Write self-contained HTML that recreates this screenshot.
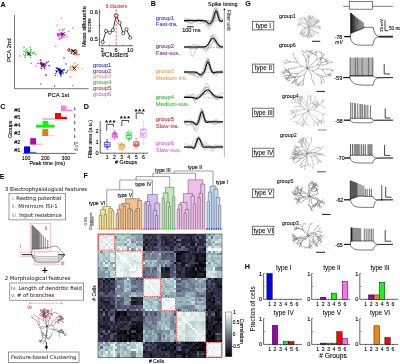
<!DOCTYPE html>
<html><head><meta charset="utf-8"><style>
html,body{margin:0;padding:0;background:#fff;}
svg{display:block;}
</style></head><body>
<svg xmlns="http://www.w3.org/2000/svg" width="400" height="364" viewBox="0 0 400 364">
<defs><filter id="gb" x="0" y="0" width="100%" height="100%" filterUnits="userSpaceOnUse"><feGaussianBlur stdDeviation="0.45"/></filter></defs>
<rect width="400" height="364" fill="#fff"/>
<g filter="url(#gb)">
<rect width="400" height="364" fill="#fff"/>
<text x="0.60" y="6.80" font-size="7.2" fill="#000" text-anchor="start" font-weight="bold" font-family="'Liberation Sans', Arial, sans-serif">A</text>
<line x1="14.50" y1="14.80" x2="14.50" y2="88.70" stroke="#555" stroke-width="0.8"/>
<line x1="14.10" y1="88.70" x2="88.70" y2="88.70" stroke="#555" stroke-width="0.8"/>
<text x="10.60" y="50.20" font-size="6.0" fill="#000" stroke="#000" stroke-width="0.1" text-anchor="middle" font-family="'Liberation Sans', Arial, sans-serif" transform="rotate(-90 10.60 50.20)">PCA 2nd</text>
<text x="58.30" y="97.30" font-size="6.0" fill="#000" stroke="#000" stroke-width="0.1" text-anchor="middle" font-family="'Liberation Sans', Arial, sans-serif">PCA 1st</text>
<circle cx="56.56" cy="71.87" r="0.72" fill="#0000d0"/>
<circle cx="56.71" cy="71.59" r="0.72" fill="#0000d0"/>
<circle cx="60.65" cy="73.53" r="0.72" fill="#0000d0"/>
<circle cx="59.78" cy="70.01" r="0.72" fill="#0000d0"/>
<line x1="58.78" y1="70.01" x2="60.78" y2="70.01" stroke="#0000d0" stroke-width="0.55"/>
<circle cx="63.18" cy="73.26" r="0.72" fill="#0000d0"/>
<circle cx="66.08" cy="72.70" r="0.72" fill="#0000d0"/>
<circle cx="57.62" cy="68.38" r="0.72" fill="#0000d0"/>
<line x1="56.62" y1="68.38" x2="58.62" y2="68.38" stroke="#0000d0" stroke-width="0.55"/>
<circle cx="62.43" cy="71.27" r="0.72" fill="#0000d0"/>
<line x1="61.43" y1="71.27" x2="63.43" y2="71.27" stroke="#0000d0" stroke-width="0.55"/>
<circle cx="60.16" cy="72.59" r="0.72" fill="#0000d0"/>
<line x1="59.16" y1="72.59" x2="61.16" y2="72.59" stroke="#0000d0" stroke-width="0.55"/>
<circle cx="56.98" cy="71.56" r="0.72" fill="#0000d0"/>
<circle cx="56.09" cy="70.61" r="0.72" fill="#0000d0"/>
<circle cx="58.11" cy="68.83" r="0.72" fill="#0000d0"/>
<line x1="57.11" y1="68.83" x2="59.11" y2="68.83" stroke="#0000d0" stroke-width="0.55"/>
<circle cx="67.42" cy="70.89" r="0.72" fill="#0000d0"/>
<circle cx="58.95" cy="69.07" r="0.72" fill="#0000d0"/>
<line x1="57.95" y1="69.07" x2="59.95" y2="69.07" stroke="#0000d0" stroke-width="0.55"/>
<circle cx="59.28" cy="71.85" r="0.72" fill="#0000d0"/>
<circle cx="55.73" cy="73.61" r="0.72" fill="#0000d0"/>
<circle cx="63.99" cy="69.84" r="0.72" fill="#0000d0"/>
<line x1="62.99" y1="69.84" x2="64.99" y2="69.84" stroke="#0000d0" stroke-width="0.55"/>
<circle cx="60.82" cy="75.89" r="0.72" fill="#0000d0"/>
<circle cx="61.90" cy="70.72" r="0.72" fill="#0000d0"/>
<line x1="60.90" y1="70.72" x2="62.90" y2="70.72" stroke="#0000d0" stroke-width="0.55"/>
<circle cx="56.64" cy="68.10" r="0.72" fill="#0000d0"/>
<line x1="55.64" y1="68.10" x2="57.64" y2="68.10" stroke="#0000d0" stroke-width="0.55"/>
<circle cx="61.34" cy="72.08" r="0.72" fill="#0000d0"/>
<circle cx="59.56" cy="69.85" r="0.72" fill="#0000d0"/>
<line x1="58.56" y1="69.85" x2="60.56" y2="69.85" stroke="#0000d0" stroke-width="0.55"/>
<circle cx="60.18" cy="71.48" r="0.72" fill="#0000d0"/>
<circle cx="60.85" cy="73.65" r="0.72" fill="#0000d0"/>
<circle cx="60.92" cy="74.48" r="0.72" fill="#0000d0"/>
<line x1="59.92" y1="74.48" x2="61.92" y2="74.48" stroke="#0000d0" stroke-width="0.55"/>
<circle cx="58.76" cy="70.10" r="0.72" fill="#0000d0"/>
<circle cx="59.94" cy="72.77" r="0.72" fill="#0000d0"/>
<circle cx="60.17" cy="69.15" r="0.72" fill="#0000d0"/>
<circle cx="60.09" cy="73.23" r="0.72" fill="#0000d0"/>
<circle cx="58.81" cy="70.18" r="0.72" fill="#0000d0"/>
<circle cx="43.06" cy="65.95" r="0.72" fill="#9a00b0"/>
<circle cx="41.56" cy="65.93" r="0.72" fill="#9a00b0"/>
<line x1="40.56" y1="65.93" x2="42.56" y2="65.93" stroke="#9a00b0" stroke-width="0.55"/>
<circle cx="45.50" cy="65.88" r="0.72" fill="#9a00b0"/>
<line x1="44.50" y1="65.88" x2="46.50" y2="65.88" stroke="#9a00b0" stroke-width="0.55"/>
<circle cx="40.58" cy="63.57" r="0.72" fill="#9a00b0"/>
<circle cx="45.49" cy="64.07" r="0.72" fill="#9a00b0"/>
<circle cx="43.70" cy="63.75" r="0.72" fill="#9a00b0"/>
<line x1="42.70" y1="63.75" x2="44.70" y2="63.75" stroke="#9a00b0" stroke-width="0.55"/>
<circle cx="46.63" cy="62.79" r="0.72" fill="#9a00b0"/>
<line x1="45.63" y1="62.79" x2="47.63" y2="62.79" stroke="#9a00b0" stroke-width="0.55"/>
<circle cx="44.17" cy="67.34" r="0.72" fill="#9a00b0"/>
<circle cx="44.70" cy="68.76" r="0.72" fill="#9a00b0"/>
<circle cx="40.44" cy="63.46" r="0.72" fill="#9a00b0"/>
<line x1="39.44" y1="63.46" x2="41.44" y2="63.46" stroke="#9a00b0" stroke-width="0.55"/>
<circle cx="49.07" cy="65.71" r="0.72" fill="#9a00b0"/>
<line x1="48.07" y1="65.71" x2="50.07" y2="65.71" stroke="#9a00b0" stroke-width="0.55"/>
<circle cx="42.04" cy="63.27" r="0.72" fill="#9a00b0"/>
<circle cx="40.82" cy="63.75" r="0.72" fill="#9a00b0"/>
<line x1="39.82" y1="63.75" x2="41.82" y2="63.75" stroke="#9a00b0" stroke-width="0.55"/>
<circle cx="42.42" cy="63.93" r="0.72" fill="#9a00b0"/>
<line x1="41.42" y1="63.93" x2="43.42" y2="63.93" stroke="#9a00b0" stroke-width="0.55"/>
<circle cx="37.86" cy="63.32" r="0.72" fill="#9a00b0"/>
<circle cx="41.50" cy="68.55" r="0.72" fill="#9a00b0"/>
<line x1="40.50" y1="68.55" x2="42.50" y2="68.55" stroke="#9a00b0" stroke-width="0.55"/>
<circle cx="44.65" cy="64.75" r="0.72" fill="#9a00b0"/>
<circle cx="44.10" cy="65.02" r="0.72" fill="#9a00b0"/>
<circle cx="41.36" cy="64.18" r="0.72" fill="#9a00b0"/>
<circle cx="48.25" cy="61.40" r="0.72" fill="#9a00b0"/>
<circle cx="41.36" cy="62.38" r="0.72" fill="#9a00b0"/>
<line x1="40.36" y1="62.38" x2="42.36" y2="62.38" stroke="#9a00b0" stroke-width="0.55"/>
<circle cx="43.08" cy="64.67" r="0.72" fill="#9a00b0"/>
<circle cx="40.58" cy="60.20" r="0.72" fill="#9a00b0"/>
<line x1="39.58" y1="60.20" x2="41.58" y2="60.20" stroke="#9a00b0" stroke-width="0.55"/>
<circle cx="40.64" cy="63.04" r="0.72" fill="#9a00b0"/>
<circle cx="70.46" cy="76.85" r="0.72" fill="#f0a040"/>
<line x1="69.46" y1="76.85" x2="71.46" y2="76.85" stroke="#f0a040" stroke-width="0.55"/>
<circle cx="70.55" cy="66.59" r="0.72" fill="#f0a040"/>
<circle cx="73.72" cy="63.76" r="0.72" fill="#f0a040"/>
<circle cx="75.76" cy="66.57" r="0.72" fill="#f0a040"/>
<circle cx="77.62" cy="64.73" r="0.72" fill="#f0a040"/>
<circle cx="75.11" cy="62.78" r="0.72" fill="#f0a040"/>
<circle cx="72.47" cy="66.00" r="0.72" fill="#f0a040"/>
<circle cx="73.30" cy="67.13" r="0.72" fill="#f0a040"/>
<circle cx="78.52" cy="67.58" r="0.72" fill="#f0a040"/>
<circle cx="71.26" cy="70.53" r="0.72" fill="#f0a040"/>
<circle cx="70.09" cy="69.61" r="0.72" fill="#f0a040"/>
<line x1="69.09" y1="69.61" x2="71.09" y2="69.61" stroke="#f0a040" stroke-width="0.55"/>
<circle cx="74.00" cy="67.16" r="0.72" fill="#f0a040"/>
<circle cx="72.42" cy="68.02" r="0.72" fill="#f0a040"/>
<circle cx="70.96" cy="67.86" r="0.72" fill="#f0a040"/>
<circle cx="73.99" cy="68.19" r="0.72" fill="#f0a040"/>
<line x1="72.99" y1="68.19" x2="74.99" y2="68.19" stroke="#f0a040" stroke-width="0.55"/>
<circle cx="73.35" cy="66.23" r="0.72" fill="#f0a040"/>
<line x1="72.35" y1="66.23" x2="74.35" y2="66.23" stroke="#f0a040" stroke-width="0.55"/>
<circle cx="76.68" cy="65.67" r="0.72" fill="#f0a040"/>
<circle cx="75.52" cy="66.34" r="0.72" fill="#f0a040"/>
<circle cx="74.74" cy="70.42" r="0.72" fill="#f0a040"/>
<circle cx="77.89" cy="65.05" r="0.72" fill="#f0a040"/>
<circle cx="72.34" cy="66.67" r="0.72" fill="#f0a040"/>
<line x1="71.34" y1="66.67" x2="73.34" y2="66.67" stroke="#f0a040" stroke-width="0.55"/>
<circle cx="69.81" cy="67.91" r="0.72" fill="#f0a040"/>
<circle cx="26.37" cy="49.32" r="0.72" fill="#10dd10"/>
<line x1="25.37" y1="49.32" x2="27.37" y2="49.32" stroke="#10dd10" stroke-width="0.55"/>
<circle cx="30.42" cy="55.32" r="0.72" fill="#10dd10"/>
<line x1="29.42" y1="55.32" x2="31.42" y2="55.32" stroke="#10dd10" stroke-width="0.55"/>
<circle cx="29.33" cy="55.41" r="0.72" fill="#10dd10"/>
<circle cx="25.37" cy="53.66" r="0.72" fill="#10dd10"/>
<circle cx="32.43" cy="53.38" r="0.72" fill="#10dd10"/>
<line x1="31.43" y1="53.38" x2="33.43" y2="53.38" stroke="#10dd10" stroke-width="0.55"/>
<circle cx="35.67" cy="54.32" r="0.72" fill="#10dd10"/>
<line x1="34.67" y1="54.32" x2="36.67" y2="54.32" stroke="#10dd10" stroke-width="0.55"/>
<circle cx="27.30" cy="51.34" r="0.72" fill="#10dd10"/>
<line x1="26.30" y1="51.34" x2="28.30" y2="51.34" stroke="#10dd10" stroke-width="0.55"/>
<circle cx="28.68" cy="53.26" r="0.72" fill="#10dd10"/>
<line x1="27.68" y1="53.26" x2="29.68" y2="53.26" stroke="#10dd10" stroke-width="0.55"/>
<circle cx="27.73" cy="53.71" r="0.72" fill="#10dd10"/>
<circle cx="28.66" cy="54.59" r="0.72" fill="#10dd10"/>
<line x1="27.66" y1="54.59" x2="29.66" y2="54.59" stroke="#10dd10" stroke-width="0.55"/>
<circle cx="25.81" cy="52.18" r="0.72" fill="#10dd10"/>
<circle cx="24.83" cy="50.90" r="0.72" fill="#10dd10"/>
<circle cx="27.54" cy="52.50" r="0.72" fill="#10dd10"/>
<circle cx="28.73" cy="53.84" r="0.72" fill="#10dd10"/>
<circle cx="28.00" cy="52.50" r="0.72" fill="#10dd10"/>
<line x1="27.00" y1="52.50" x2="29.00" y2="52.50" stroke="#10dd10" stroke-width="0.55"/>
<circle cx="25.35" cy="55.89" r="0.72" fill="#10dd10"/>
<circle cx="23.95" cy="51.61" r="0.72" fill="#10dd10"/>
<circle cx="30.54" cy="49.82" r="0.72" fill="#10dd10"/>
<line x1="29.54" y1="49.82" x2="31.54" y2="49.82" stroke="#10dd10" stroke-width="0.55"/>
<circle cx="33.75" cy="52.42" r="0.72" fill="#10dd10"/>
<line x1="32.75" y1="52.42" x2="34.75" y2="52.42" stroke="#10dd10" stroke-width="0.55"/>
<circle cx="23.67" cy="54.33" r="0.72" fill="#10dd10"/>
<circle cx="25.16" cy="55.23" r="0.72" fill="#10dd10"/>
<circle cx="31.01" cy="49.46" r="0.72" fill="#10dd10"/>
<circle cx="27.08" cy="52.61" r="0.72" fill="#10dd10"/>
<circle cx="30.65" cy="51.26" r="0.72" fill="#10dd10"/>
<circle cx="30.27" cy="57.36" r="0.72" fill="#10dd10"/>
<circle cx="32.92" cy="53.28" r="0.72" fill="#10dd10"/>
<circle cx="25.12" cy="57.17" r="0.72" fill="#10dd10"/>
<circle cx="27.63" cy="54.21" r="0.72" fill="#10dd10"/>
<circle cx="67.78" cy="50.04" r="0.72" fill="#c00000"/>
<circle cx="74.41" cy="53.94" r="0.72" fill="#c00000"/>
<line x1="73.41" y1="53.94" x2="75.41" y2="53.94" stroke="#c00000" stroke-width="0.55"/>
<circle cx="71.17" cy="53.38" r="0.72" fill="#c00000"/>
<circle cx="69.02" cy="48.46" r="0.72" fill="#c00000"/>
<circle cx="76.46" cy="50.95" r="0.72" fill="#c00000"/>
<line x1="75.46" y1="50.95" x2="77.46" y2="50.95" stroke="#c00000" stroke-width="0.55"/>
<circle cx="71.91" cy="49.78" r="0.72" fill="#c00000"/>
<circle cx="72.34" cy="50.59" r="0.72" fill="#c00000"/>
<line x1="71.34" y1="50.59" x2="73.34" y2="50.59" stroke="#c00000" stroke-width="0.55"/>
<circle cx="73.11" cy="50.63" r="0.72" fill="#c00000"/>
<circle cx="76.90" cy="54.79" r="0.72" fill="#c00000"/>
<circle cx="74.93" cy="52.82" r="0.72" fill="#c00000"/>
<circle cx="75.07" cy="52.14" r="0.72" fill="#c00000"/>
<circle cx="68.95" cy="50.15" r="0.72" fill="#c00000"/>
<circle cx="69.74" cy="49.42" r="0.72" fill="#c00000"/>
<circle cx="71.04" cy="51.50" r="0.72" fill="#c00000"/>
<circle cx="76.69" cy="52.96" r="0.72" fill="#c00000"/>
<circle cx="68.97" cy="51.32" r="0.72" fill="#c00000"/>
<circle cx="73.92" cy="50.73" r="0.72" fill="#c00000"/>
<line x1="72.92" y1="50.73" x2="74.92" y2="50.73" stroke="#c00000" stroke-width="0.55"/>
<circle cx="75.82" cy="52.98" r="0.72" fill="#c00000"/>
<line x1="74.82" y1="52.98" x2="76.82" y2="52.98" stroke="#c00000" stroke-width="0.55"/>
<circle cx="73.58" cy="53.87" r="0.72" fill="#c00000"/>
<line x1="72.58" y1="53.87" x2="74.58" y2="53.87" stroke="#c00000" stroke-width="0.55"/>
<circle cx="75.05" cy="49.96" r="0.72" fill="#c00000"/>
<line x1="74.05" y1="49.96" x2="76.05" y2="49.96" stroke="#c00000" stroke-width="0.55"/>
<circle cx="59.00" cy="34.05" r="0.72" fill="#ee10ee"/>
<circle cx="59.00" cy="35.90" r="0.72" fill="#ee10ee"/>
<line x1="58.00" y1="35.90" x2="60.00" y2="35.90" stroke="#ee10ee" stroke-width="0.55"/>
<circle cx="61.76" cy="37.48" r="0.72" fill="#ee10ee"/>
<circle cx="57.35" cy="33.71" r="0.72" fill="#ee10ee"/>
<circle cx="61.86" cy="33.25" r="0.72" fill="#ee10ee"/>
<circle cx="62.52" cy="30.09" r="0.72" fill="#ee10ee"/>
<line x1="61.52" y1="30.09" x2="63.52" y2="30.09" stroke="#ee10ee" stroke-width="0.55"/>
<circle cx="59.29" cy="39.07" r="0.72" fill="#ee10ee"/>
<line x1="58.29" y1="39.07" x2="60.29" y2="39.07" stroke="#ee10ee" stroke-width="0.55"/>
<circle cx="64.97" cy="34.45" r="0.72" fill="#ee10ee"/>
<line x1="63.97" y1="34.45" x2="65.97" y2="34.45" stroke="#ee10ee" stroke-width="0.55"/>
<circle cx="61.20" cy="38.04" r="0.72" fill="#ee10ee"/>
<line x1="60.20" y1="38.04" x2="62.20" y2="38.04" stroke="#ee10ee" stroke-width="0.55"/>
<circle cx="63.94" cy="36.88" r="0.72" fill="#ee10ee"/>
<circle cx="61.24" cy="33.39" r="0.72" fill="#ee10ee"/>
<circle cx="60.86" cy="34.12" r="0.72" fill="#ee10ee"/>
<line x1="59.86" y1="34.12" x2="61.86" y2="34.12" stroke="#ee10ee" stroke-width="0.55"/>
<circle cx="59.28" cy="30.09" r="0.72" fill="#ee10ee"/>
<circle cx="62.69" cy="36.23" r="0.72" fill="#ee10ee"/>
<circle cx="58.11" cy="34.44" r="0.72" fill="#ee10ee"/>
<line x1="57.11" y1="34.44" x2="59.11" y2="34.44" stroke="#ee10ee" stroke-width="0.55"/>
<circle cx="61.81" cy="34.95" r="0.72" fill="#ee10ee"/>
<line x1="60.81" y1="34.95" x2="62.81" y2="34.95" stroke="#ee10ee" stroke-width="0.55"/>
<circle cx="58.83" cy="33.66" r="0.72" fill="#ee10ee"/>
<circle cx="61.73" cy="35.62" r="0.72" fill="#ee10ee"/>
<line x1="60.73" y1="35.62" x2="62.73" y2="35.62" stroke="#ee10ee" stroke-width="0.55"/>
<circle cx="64.11" cy="28.85" r="0.72" fill="#ee10ee"/>
<circle cx="61.56" cy="34.94" r="0.72" fill="#ee10ee"/>
<circle cx="57.86" cy="35.38" r="0.72" fill="#ee10ee"/>
<line x1="56.86" y1="35.38" x2="58.86" y2="35.38" stroke="#ee10ee" stroke-width="0.55"/>
<circle cx="58.76" cy="35.05" r="0.72" fill="#ee10ee"/>
<circle cx="60.75" cy="34.29" r="0.72" fill="#ee10ee"/>
<circle cx="61.67" cy="33.35" r="0.72" fill="#ee10ee"/>
<circle cx="61.30" cy="18.20" r="0.65" fill="#ee10ee"/>
<circle cx="57.20" cy="25.10" r="0.65" fill="#b040b0"/>
<circle cx="73.00" cy="27.90" r="0.65" fill="#ee10ee"/>
<circle cx="68.80" cy="31.30" r="0.65" fill="#b040b0"/>
<circle cx="55.80" cy="46.40" r="0.65" fill="#cc44cc"/>
<circle cx="66.80" cy="36.80" r="0.65" fill="#b040b0"/>
<circle cx="31.20" cy="63.40" r="0.65" fill="#30b030"/>
<circle cx="45.60" cy="75.00" r="0.65" fill="#803080"/>
<circle cx="40.80" cy="84.00" r="0.65" fill="#803080"/>
<circle cx="55.20" cy="75.70" r="0.65" fill="#2020c0"/>
<circle cx="54.60" cy="86.00" r="0.65" fill="#303080"/>
<circle cx="46.40" cy="75.20" r="0.65" fill="#404080"/>
<circle cx="72.50" cy="85.50" r="0.65" fill="#a08060"/>
<circle cx="79.10" cy="54.60" r="0.65" fill="#c00000"/>
<circle cx="82.00" cy="68.50" r="0.65" fill="#f0a040"/>
<circle cx="24.00" cy="47.50" r="0.65" fill="#10bb10"/>
<circle cx="30.00" cy="47.00" r="0.65" fill="#10bb10"/>
<circle cx="20.00" cy="56.00" r="0.65" fill="#10bb10"/>
<circle cx="36.00" cy="66.00" r="0.65" fill="#aa30aa"/>
<circle cx="66.00" cy="64.00" r="0.65" fill="#2020c0"/>
<circle cx="64.00" cy="58.00" r="0.65" fill="#0000c0"/>
<line x1="59.00" y1="69.30" x2="62.60" y2="72.90" stroke="#000" stroke-width="0.9"/>
<line x1="59.00" y1="72.90" x2="62.60" y2="69.30" stroke="#000" stroke-width="0.9"/>
<line x1="41.00" y1="63.70" x2="44.60" y2="67.30" stroke="#000" stroke-width="0.9"/>
<line x1="41.00" y1="67.30" x2="44.60" y2="63.70" stroke="#000" stroke-width="0.9"/>
<line x1="72.70" y1="66.60" x2="76.30" y2="70.20" stroke="#000" stroke-width="0.9"/>
<line x1="72.70" y1="70.20" x2="76.30" y2="66.60" stroke="#000" stroke-width="0.9"/>
<line x1="27.30" y1="51.90" x2="30.90" y2="55.50" stroke="#000" stroke-width="0.9"/>
<line x1="27.30" y1="55.50" x2="30.90" y2="51.90" stroke="#000" stroke-width="0.9"/>
<line x1="71.40" y1="49.40" x2="75.00" y2="53.00" stroke="#000" stroke-width="0.9"/>
<line x1="71.40" y1="53.00" x2="75.00" y2="49.40" stroke="#000" stroke-width="0.9"/>
<line x1="60.90" y1="32.20" x2="64.50" y2="35.80" stroke="#000" stroke-width="0.9"/>
<line x1="60.90" y1="35.80" x2="64.50" y2="32.20" stroke="#000" stroke-width="0.9"/>
<text x="93.00" y="66.90" font-size="5.9" fill="#4040c4" stroke="#4040c4" stroke-width="0.1" text-anchor="start" font-family="'Liberation Sans', Arial, sans-serif">group1</text>
<text x="93.00" y="72.65" font-size="5.9" fill="#7e3a8e" stroke="#7e3a8e" stroke-width="0.1" text-anchor="start" font-family="'Liberation Sans', Arial, sans-serif">group2</text>
<text x="93.00" y="78.40" font-size="5.9" fill="#eea060" stroke="#eea060" stroke-width="0.1" text-anchor="start" font-family="'Liberation Sans', Arial, sans-serif">group3</text>
<text x="93.00" y="84.15" font-size="5.9" fill="#3cbc3c" stroke="#3cbc3c" stroke-width="0.1" text-anchor="start" font-family="'Liberation Sans', Arial, sans-serif">group4</text>
<text x="93.00" y="89.90" font-size="5.9" fill="#cc3838" stroke="#cc3838" stroke-width="0.1" text-anchor="start" font-family="'Liberation Sans', Arial, sans-serif">group5</text>
<text x="93.00" y="95.65" font-size="5.9" fill="#dc68dc" stroke="#dc68dc" stroke-width="0.1" text-anchor="start" font-family="'Liberation Sans', Arial, sans-serif">group6</text>
<line x1="99.40" y1="9.50" x2="99.40" y2="45.80" stroke="#000" stroke-width="0.6"/>
<line x1="99.40" y1="45.80" x2="133.00" y2="45.80" stroke="#000" stroke-width="0.6"/>
<line x1="99.40" y1="11.90" x2="100.60" y2="11.90" stroke="#000" stroke-width="0.5"/>
<line x1="99.40" y1="25.50" x2="100.60" y2="25.50" stroke="#000" stroke-width="0.5"/>
<line x1="99.40" y1="39.20" x2="100.60" y2="39.20" stroke="#000" stroke-width="0.5"/>
<line x1="102.50" y1="45.80" x2="102.50" y2="44.60" stroke="#000" stroke-width="0.5"/>
<line x1="109.40" y1="45.80" x2="109.40" y2="44.60" stroke="#000" stroke-width="0.5"/>
<line x1="116.20" y1="45.80" x2="116.20" y2="44.60" stroke="#000" stroke-width="0.5"/>
<line x1="123.20" y1="45.80" x2="123.20" y2="44.60" stroke="#000" stroke-width="0.5"/>
<line x1="130.20" y1="45.80" x2="130.20" y2="44.60" stroke="#000" stroke-width="0.5"/>
<text x="97.90" y="13.90" font-size="5.6" fill="#000" stroke="#000" stroke-width="0.1" text-anchor="end" font-family="'Liberation Sans', Arial, sans-serif">0.6</text>
<text x="97.90" y="41.20" font-size="5.6" fill="#000" stroke="#000" stroke-width="0.1" text-anchor="end" font-family="'Liberation Sans', Arial, sans-serif">0.5</text>
<text x="102.30" y="51.60" font-size="5.6" fill="#000" stroke="#000" stroke-width="0.1" text-anchor="middle" font-family="'Liberation Sans', Arial, sans-serif">2</text>
<text x="116.00" y="51.60" font-size="5.6" fill="#000" stroke="#000" stroke-width="0.1" text-anchor="middle" font-family="'Liberation Sans', Arial, sans-serif">6</text>
<text x="130.20" y="51.60" font-size="5.6" fill="#000" stroke="#000" stroke-width="0.1" text-anchor="middle" font-family="'Liberation Sans', Arial, sans-serif">10</text>
<text x="115.00" y="57.20" font-size="6.4" fill="#000" stroke="#000" stroke-width="0.1" text-anchor="middle" font-family="'Liberation Sans', Arial, sans-serif">#Clusters</text>
<text x="86.10" y="26.50" font-size="5.8" fill="#000" stroke="#000" stroke-width="0.1" text-anchor="middle" font-family="'Liberation Sans', Arial, sans-serif" transform="rotate(-90 86.10 26.50)">Mean silhouette</text>
<text x="91.00" y="25.30" font-size="5.8" fill="#000" stroke="#000" stroke-width="0.1" text-anchor="middle" font-family="'Liberation Sans', Arial, sans-serif" transform="rotate(-90 91.00 25.30)">score</text>
<text x="116.50" y="8.10" font-size="5.0" fill="#e03030" stroke="#e03030" stroke-width="0.1" text-anchor="middle" font-family="'Liberation Sans', Arial, sans-serif">6 clusters</text>
<line x1="116.20" y1="9.50" x2="116.20" y2="45.50" stroke="#e03030" stroke-width="0.75" stroke-dasharray="2.2 1.4"/>
<path d="M102.70,42.00 L106.00,31.00 L109.70,32.60 L113.00,30.00 L116.20,15.60 L119.50,22.70 L123.20,33.30 L126.50,29.30 L130.20,37.60" stroke="#000" stroke-width="0.75" fill="none"/>
<circle cx="102.7" cy="42" r="1.6" fill="#fff" stroke="#000" stroke-width="0.6"/>
<circle cx="106" cy="31" r="1.6" fill="#fff" stroke="#000" stroke-width="0.6"/>
<circle cx="109.7" cy="32.6" r="1.6" fill="#fff" stroke="#000" stroke-width="0.6"/>
<circle cx="113" cy="30" r="1.6" fill="#fff" stroke="#000" stroke-width="0.6"/>
<circle cx="116.2" cy="15.6" r="1.6" fill="#fff" stroke="#c00000" stroke-width="0.6"/>
<circle cx="119.5" cy="22.7" r="1.6" fill="#fff" stroke="#000" stroke-width="0.6"/>
<circle cx="123.2" cy="33.3" r="1.6" fill="#fff" stroke="#000" stroke-width="0.6"/>
<circle cx="126.5" cy="29.3" r="1.6" fill="#fff" stroke="#000" stroke-width="0.6"/>
<circle cx="130.2" cy="37.6" r="1.6" fill="#fff" stroke="#000" stroke-width="0.6"/>
<circle cx="116.2" cy="15.6" r="2.1" fill="none" stroke="#c00000" stroke-width="0.6"/>
<text x="150.80" y="6.00" font-size="7.2" fill="#000" text-anchor="start" font-weight="bold" font-family="'Liberation Sans', Arial, sans-serif">B</text>
<text x="222.80" y="6.00" font-size="5.4" fill="#000" stroke="#000" stroke-width="0.1" text-anchor="middle" font-family="'Liberation Sans', Arial, sans-serif">Spike timing</text>
<text x="155.80" y="19.60" font-size="5.9" fill="#4040c4" stroke="#4040c4" stroke-width="0.1" text-anchor="start" font-family="'Liberation Sans', Arial, sans-serif">group1</text>
<text x="155.80" y="26.40" font-size="5.9" fill="#4040c4" stroke="#4040c4" stroke-width="0.1" text-anchor="start" font-family="'Liberation Sans', Arial, sans-serif">Fast-tra.</text>
<text x="155.80" y="48.00" font-size="5.9" fill="#7e3a8e" stroke="#7e3a8e" stroke-width="0.1" text-anchor="start" font-family="'Liberation Sans', Arial, sans-serif">group2</text>
<text x="155.80" y="54.80" font-size="5.9" fill="#7e3a8e" stroke="#7e3a8e" stroke-width="0.1" text-anchor="start" font-family="'Liberation Sans', Arial, sans-serif">Fast-sus.</text>
<text x="155.80" y="73.00" font-size="5.9" fill="#eea060" stroke="#eea060" stroke-width="0.1" text-anchor="start" font-family="'Liberation Sans', Arial, sans-serif">group3</text>
<text x="155.80" y="79.80" font-size="5.9" fill="#eea060" stroke="#eea060" stroke-width="0.1" text-anchor="start" font-family="'Liberation Sans', Arial, sans-serif">Medium-tra.</text>
<text x="155.80" y="98.90" font-size="5.9" fill="#3cbc3c" stroke="#3cbc3c" stroke-width="0.1" text-anchor="start" font-family="'Liberation Sans', Arial, sans-serif">group4</text>
<text x="155.80" y="105.70" font-size="5.9" fill="#3cbc3c" stroke="#3cbc3c" stroke-width="0.1" text-anchor="start" font-family="'Liberation Sans', Arial, sans-serif">Medium-sus.</text>
<text x="155.80" y="121.00" font-size="5.9" fill="#cc3838" stroke="#cc3838" stroke-width="0.1" text-anchor="start" font-family="'Liberation Sans', Arial, sans-serif">group5</text>
<text x="155.80" y="127.80" font-size="5.9" fill="#cc3838" stroke="#cc3838" stroke-width="0.1" text-anchor="start" font-family="'Liberation Sans', Arial, sans-serif">Slow-tra.</text>
<text x="155.80" y="145.40" font-size="5.9" fill="#dc68dc" stroke="#dc68dc" stroke-width="0.1" text-anchor="start" font-family="'Liberation Sans', Arial, sans-serif">group6</text>
<text x="155.80" y="152.20" font-size="5.9" fill="#dc68dc" stroke="#dc68dc" stroke-width="0.1" text-anchor="start" font-family="'Liberation Sans', Arial, sans-serif">Slow-sus.</text>
<path d="M184.00,20.08 L184.50,20.21 L185.00,19.82 L185.50,19.95 L186.00,20.16 L186.50,20.51 L187.00,20.23 L187.50,20.17 L188.00,19.55 L188.50,19.58 L189.00,19.02 L189.50,18.84 L190.00,19.57 L190.50,19.01 L191.00,19.61 L191.50,19.92 L192.00,19.95 L192.50,20.24 L193.00,20.50 L193.50,20.88 L194.00,20.75 L194.50,20.51 L195.00,20.32 L195.50,20.03 L196.00,20.13 L196.50,19.95 L197.00,20.45 L197.50,19.83 L198.00,19.60 L198.50,19.47 L199.00,18.96 L199.50,19.95 L200.00,19.24 L200.50,19.42 L201.00,19.47 L201.50,20.28 L202.00,19.66 L202.50,20.23 L203.00,20.05 L203.50,20.12 L204.00,20.01 L204.50,20.43 L205.00,20.24 L205.50,20.59 L206.00,21.16 L206.50,22.29 L207.00,21.84 L207.50,22.99 L208.00,23.79 L208.50,23.95 L209.00,24.31 L209.50,24.21 L210.00,24.71 L210.50,24.40 L211.00,23.81 L211.50,23.17 L212.00,22.53 L212.50,21.92 L213.00,21.04 L213.50,21.13 L214.00,19.39 L214.50,16.74 L215.00,15.00 L215.50,12.74 L216.00,10.53 L216.50,8.52 L217.00,7.54 L217.50,8.08 L218.00,10.08 L218.50,12.32 L219.00,14.80 L219.50,17.79 L220.00,19.54 L220.50,20.17 L221.00,21.64 L221.50,22.16 L222.00,22.03 L222.50,21.60 L223.00,21.63" stroke="#8e8e8e" stroke-width="0.42" fill="none"/>
<path d="M184.00,20.85 L184.50,20.70 L185.00,20.42 L185.50,20.34 L186.00,19.88 L186.50,20.18 L187.00,20.31 L187.50,19.99 L188.00,19.32 L188.50,19.58 L189.00,20.17 L189.50,20.00 L190.00,19.95 L190.50,19.87 L191.00,20.24 L191.50,19.99 L192.00,20.45 L192.50,20.37 L193.00,20.74 L193.50,20.72 L194.00,20.62 L194.50,20.10 L195.00,19.96 L195.50,19.99 L196.00,20.35 L196.50,20.48 L197.00,20.26 L197.50,20.47 L198.00,20.85 L198.50,20.75 L199.00,20.58 L199.50,20.46 L200.00,20.81 L200.50,21.02 L201.00,20.71 L201.50,20.98 L202.00,20.98 L202.50,20.99 L203.00,21.82 L203.50,22.50 L204.00,22.67 L204.50,23.29 L205.00,24.15 L205.50,24.66 L206.00,25.47 L206.50,26.57 L207.00,26.70 L207.50,27.55 L208.00,28.24 L208.50,28.44 L209.00,27.58 L209.50,27.02 L210.00,25.69 L210.50,24.62 L211.00,23.27 L211.50,21.47 L212.00,19.02 L212.50,16.41 L213.00,14.16 L213.50,11.29 L214.00,9.40 L214.50,8.28 L215.00,7.92 L215.50,9.62 L216.00,11.23 L216.50,14.11 L217.00,15.52 L217.50,16.84 L218.00,19.08 L218.50,20.64 L219.00,21.35 L219.50,21.79 L220.00,21.31 L220.50,21.28 L221.00,21.05 L221.50,21.11 L222.00,21.48 L222.50,21.42 L223.00,21.42" stroke="#8e8e8e" stroke-width="0.42" fill="none"/>
<path d="M184.00,19.63 L184.50,18.74 L185.00,18.70 L185.50,18.44 L186.00,18.58 L186.50,17.92 L187.00,17.95 L187.50,18.47 L188.00,19.20 L188.50,19.84 L189.00,19.52 L189.50,19.59 L190.00,19.58 L190.50,19.11 L191.00,18.71 L191.50,19.16 L192.00,19.36 L192.50,19.44 L193.00,20.03 L193.50,19.79 L194.00,20.20 L194.50,20.41 L195.00,20.61 L195.50,21.03 L196.00,21.32 L196.50,21.64 L197.00,21.97 L197.50,22.89 L198.00,22.90 L198.50,23.43 L199.00,23.75 L199.50,23.68 L200.00,24.02 L200.50,23.67 L201.00,24.02 L201.50,23.54 L202.00,23.15 L202.50,23.03 L203.00,23.00 L203.50,22.92 L204.00,22.79 L204.50,22.30 L205.00,21.70 L205.50,21.91 L206.00,22.25 L206.50,22.40 L207.00,23.52 L207.50,24.38 L208.00,24.72 L208.50,25.32 L209.00,24.81 L209.50,24.09 L210.00,23.51 L210.50,21.96 L211.00,20.97 L211.50,19.41 L212.00,18.53 L212.50,16.86 L213.00,15.27 L213.50,12.82 L214.00,10.80 L214.50,9.45 L215.00,8.38 L215.50,7.27 L216.00,8.17 L216.50,9.79 L217.00,11.47 L217.50,14.04 L218.00,15.56 L218.50,17.22 L219.00,18.91 L219.50,20.23 L220.00,21.18 L220.50,21.10 L221.00,20.85 L221.50,21.47 L222.00,21.34 L222.50,21.57 L223.00,21.14" stroke="#8e8e8e" stroke-width="0.42" fill="none"/>
<path d="M184.00,21.12 L184.50,21.16 L185.00,21.11 L185.50,21.27 L186.00,20.62 L186.50,21.26 L187.00,21.63 L187.50,21.24 L188.00,21.30 L188.50,21.62 L189.00,22.09 L189.50,22.22 L190.00,22.77 L190.50,22.68 L191.00,22.20 L191.50,21.86 L192.00,22.02 L192.50,21.62 L193.00,21.76 L193.50,21.90 L194.00,21.83 L194.50,21.91 L195.00,21.55 L195.50,21.33 L196.00,20.94 L196.50,20.64 L197.00,20.06 L197.50,19.96 L198.00,19.70 L198.50,19.38 L199.00,19.67 L199.50,20.01 L200.00,20.01 L200.50,20.60 L201.00,20.93 L201.50,21.23 L202.00,20.89 L202.50,20.31 L203.00,20.57 L203.50,20.68 L204.00,20.92 L204.50,21.00 L205.00,21.37 L205.50,21.12 L206.00,21.27 L206.50,20.87 L207.00,20.09 L207.50,20.17 L208.00,20.99 L208.50,20.62 L209.00,21.35 L209.50,21.41 L210.00,21.61 L210.50,21.95 L211.00,22.30 L211.50,22.18 L212.00,22.51 L212.50,22.92 L213.00,23.36 L213.50,22.95 L214.00,22.97 L214.50,22.29 L215.00,20.84 L215.50,17.27 L216.00,14.23 L216.50,11.07 L217.00,10.07 L217.50,10.53 L218.00,11.48 L218.50,12.89 L219.00,14.99 L219.50,16.89 L220.00,17.87 L220.50,18.70 L221.00,18.35 L221.50,18.46 L222.00,18.70 L222.50,18.90 L223.00,19.67" stroke="#8e8e8e" stroke-width="0.42" fill="none"/>
<path d="M184.00,21.16 L184.50,21.50 L185.00,21.50 L185.50,21.16 L186.00,21.47 L186.50,21.73 L187.00,22.31 L187.50,22.70 L188.00,22.60 L188.50,22.47 L189.00,22.49 L189.50,22.48 L190.00,23.06 L190.50,23.58 L191.00,23.91 L191.50,23.83 L192.00,23.55 L192.50,23.73 L193.00,23.41 L193.50,23.31 L194.00,22.48 L194.50,22.10 L195.00,22.20 L195.50,21.08 L196.00,19.65 L196.50,18.74 L197.00,18.71 L197.50,18.94 L198.00,18.97 L198.50,19.31 L199.00,19.85 L199.50,19.95 L200.00,20.27 L200.50,20.31 L201.00,19.89 L201.50,19.84 L202.00,19.91 L202.50,19.77 L203.00,19.60 L203.50,20.22 L204.00,21.17 L204.50,21.32 L205.00,21.61 L205.50,22.46 L206.00,23.19 L206.50,23.85 L207.00,25.31 L207.50,25.63 L208.00,25.81 L208.50,25.63 L209.00,24.94 L209.50,24.10 L210.00,23.21 L210.50,22.29 L211.00,20.77 L211.50,18.81 L212.00,16.38 L212.50,14.64 L213.00,13.08 L213.50,12.61 L214.00,13.35 L214.50,14.44 L215.00,15.78 L215.50,16.99 L216.00,18.30 L216.50,19.30 L217.00,19.59 L217.50,19.85 L218.00,20.49 L218.50,20.12 L219.00,20.32 L219.50,20.33 L220.00,21.37 L220.50,21.90 L221.00,22.21 L221.50,22.28 L222.00,22.12 L222.50,21.87 L223.00,20.94" stroke="#8e8e8e" stroke-width="0.42" fill="none"/>
<path d="M184.00,20.90 L184.50,20.20 L185.00,19.56 L185.50,19.65 L186.00,19.57 L186.50,20.03 L187.00,19.84 L187.50,19.54 L188.00,19.41 L188.50,20.25 L189.00,20.33 L189.50,20.17 L190.00,19.91 L190.50,19.66 L191.00,19.79 L191.50,20.10 L192.00,20.60 L192.50,21.00 L193.00,21.02 L193.50,20.70 L194.00,20.38 L194.50,19.62 L195.00,19.46 L195.50,19.83 L196.00,19.87 L196.50,20.14 L197.00,19.76 L197.50,20.24 L198.00,20.42 L198.50,20.46 L199.00,20.62 L199.50,19.82 L200.00,19.76 L200.50,19.58 L201.00,20.37 L201.50,20.28 L202.00,20.07 L202.50,20.35 L203.00,19.90 L203.50,20.41 L204.00,20.10 L204.50,20.13 L205.00,19.93 L205.50,20.51 L206.00,20.07 L206.50,20.89 L207.00,21.20 L207.50,21.92 L208.00,22.22 L208.50,23.03 L209.00,23.70 L209.50,24.35 L210.00,24.71 L210.50,25.01 L211.00,25.24 L211.50,24.79 L212.00,23.95 L212.50,22.98 L213.00,22.51 L213.50,21.27 L214.00,20.16 L214.50,18.28 L215.00,15.82 L215.50,14.16 L216.00,13.11 L216.50,11.78 L217.00,10.97 L217.50,11.04 L218.00,12.41 L218.50,13.60 L219.00,15.04 L219.50,16.77 L220.00,17.86 L220.50,18.59 L221.00,18.77 L221.50,18.81 L222.00,19.15 L222.50,19.48 L223.00,19.95" stroke="#8e8e8e" stroke-width="0.42" fill="none"/>
<path d="M184.00,21.02 L184.50,21.02 L185.00,21.01 L185.50,20.89 L186.00,20.56 L186.50,20.66 L187.00,20.26 L187.50,20.60 L188.00,20.48 L188.50,20.50 L189.00,20.80 L189.50,20.95 L190.00,20.43 L190.50,20.38 L191.00,20.56 L191.50,20.21 L192.00,19.50 L192.50,19.77 L193.00,20.01 L193.50,20.36 L194.00,20.49 L194.50,20.56 L195.00,20.61 L195.50,21.02 L196.00,21.03 L196.50,21.06 L197.00,20.76 L197.50,21.04 L198.00,20.82 L198.50,20.97 L199.00,20.12 L199.50,20.30 L200.00,20.39 L200.50,20.42 L201.00,21.15 L201.50,21.51 L202.00,21.66 L202.50,21.64 L203.00,22.42 L203.50,22.55 L204.00,22.52 L204.50,21.92 L205.00,22.12 L205.50,22.03 L206.00,21.74 L206.50,21.65 L207.00,21.16 L207.50,21.65 L208.00,21.47 L208.50,21.99 L209.00,21.89 L209.50,21.65 L210.00,21.70 L210.50,21.60 L211.00,20.96 L211.50,20.73 L212.00,20.66 L212.50,20.15 L213.00,19.11 L213.50,18.33 L214.00,17.04 L214.50,15.72 L215.00,14.56 L215.50,13.49 L216.00,12.76 L216.50,12.12 L217.00,12.91 L217.50,13.98 L218.00,15.28 L218.50,16.86 L219.00,18.94 L219.50,19.54 L220.00,19.85 L220.50,20.78 L221.00,20.76 L221.50,21.27 L222.00,20.74 L222.50,20.44 L223.00,20.68" stroke="#8e8e8e" stroke-width="0.42" fill="none"/>
<path d="M184.00,20.14 L184.50,20.02 L185.00,20.10 L185.50,20.29 L186.00,20.52 L186.50,20.68 L187.00,20.61 L187.50,21.66 L188.00,21.78 L188.50,22.02 L189.00,22.74 L189.50,23.00 L190.00,23.10 L190.50,23.09 L191.00,23.61 L191.50,22.97 L192.00,22.43 L192.50,22.33 L193.00,21.42 L193.50,21.07 L194.00,21.40 L194.50,21.08 L195.00,21.03 L195.50,21.17 L196.00,20.65 L196.50,20.75 L197.00,20.54 L197.50,20.23 L198.00,20.30 L198.50,20.45 L199.00,20.48 L199.50,20.43 L200.00,20.96 L200.50,21.47 L201.00,21.68 L201.50,21.63 L202.00,21.27 L202.50,21.08 L203.00,20.85 L203.50,21.14 L204.00,21.64 L204.50,22.07 L205.00,22.12 L205.50,22.07 L206.00,22.29 L206.50,22.55 L207.00,23.08 L207.50,24.06 L208.00,24.40 L208.50,25.96 L209.00,26.01 L209.50,26.25 L210.00,26.42 L210.50,26.37 L211.00,26.11 L211.50,26.14 L212.00,24.73 L212.50,23.84 L213.00,22.29 L213.50,20.86 L214.00,18.79 L214.50,17.62 L215.00,15.21 L215.50,12.70 L216.00,11.83 L216.50,11.12 L217.00,11.73 L217.50,13.16 L218.00,14.87 L218.50,16.40 L219.00,18.04 L219.50,19.78 L220.00,20.55 L220.50,20.86 L221.00,21.50 L221.50,21.28 L222.00,21.79 L222.50,21.57 L223.00,21.01" stroke="#8e8e8e" stroke-width="0.42" fill="none"/>
<line x1="205.00" y1="20.90" x2="222.50" y2="20.90" stroke="#777" stroke-width="0.5" stroke-dasharray="1.5 1.2"/>
<path d="M184.00,20.60 L184.50,20.60 L185.00,20.60 L185.50,20.60 L186.00,20.60 L186.50,20.60 L187.00,20.60 L187.50,20.60 L188.00,20.60 L188.50,20.60 L189.00,20.60 L189.50,20.60 L190.00,20.60 L190.50,20.60 L191.00,20.60 L191.50,20.60 L192.00,20.60 L192.50,20.60 L193.00,20.60 L193.50,20.60 L194.00,20.60 L194.50,20.60 L195.00,20.60 L195.50,20.60 L196.00,20.60 L196.50,20.60 L197.00,20.60 L197.50,20.60 L198.00,20.60 L198.50,20.60 L199.00,20.60 L199.50,20.60 L200.00,20.60 L200.50,20.60 L201.00,20.60 L201.50,20.60 L202.00,20.60 L202.50,20.61 L203.00,20.62 L203.50,20.64 L204.00,20.67 L204.50,20.74 L205.00,20.85 L205.50,21.03 L206.00,21.29 L206.50,21.64 L207.00,22.07 L207.50,22.54 L208.00,23.02 L208.50,23.42 L209.00,23.70 L209.50,23.79 L210.00,23.68 L210.50,23.37 L211.00,22.89 L211.50,22.25 L212.00,21.45 L212.50,20.46 L213.00,19.23 L213.50,17.71 L214.00,15.95 L214.50,14.10 L215.00,12.43 L215.50,11.25 L216.00,10.82 L216.50,11.22 L217.00,12.37 L217.50,14.00 L218.00,15.79 L218.50,17.48 L219.00,18.90 L219.50,19.99 L220.00,20.72 L220.50,21.11 L221.00,21.20 L221.50,21.11 L222.00,20.95 L222.50,20.79 L223.00,20.69" stroke="#111" stroke-width="1.1" fill="none" stroke-linejoin="round"/>
<path d="M184.00,47.11 L184.50,46.66 L185.00,47.28 L185.50,47.17 L186.00,47.56 L186.50,48.00 L187.00,47.48 L187.50,47.43 L188.00,47.75 L188.50,47.81 L189.00,47.82 L189.50,48.19 L190.00,48.52 L190.50,48.26 L191.00,48.19 L191.50,48.37 L192.00,48.29 L192.50,48.13 L193.00,47.46 L193.50,47.80 L194.00,47.26 L194.50,46.87 L195.00,46.33 L195.50,45.85 L196.00,45.43 L196.50,44.75 L197.00,44.64 L197.50,44.88 L198.00,44.86 L198.50,45.06 L199.00,45.27 L199.50,45.44 L200.00,46.36 L200.50,46.35 L201.00,46.78 L201.50,47.35 L202.00,47.52 L202.50,47.16 L203.00,46.83 L203.50,47.49 L204.00,47.15 L204.50,47.26 L205.00,47.58 L205.50,47.76 L206.00,47.33 L206.50,47.04 L207.00,47.51 L207.50,47.73 L208.00,48.13 L208.50,48.55 L209.00,48.84 L209.50,48.39 L210.00,47.68 L210.50,47.73 L211.00,46.89 L211.50,45.69 L212.00,44.13 L212.50,43.53 L213.00,42.28 L213.50,41.33 L214.00,41.22 L214.50,41.19 L215.00,41.49 L215.50,41.35 L216.00,40.94 L216.50,41.50 L217.00,42.36 L217.50,43.06 L218.00,44.24 L218.50,45.04 L219.00,45.20 L219.50,45.88 L220.00,46.15 L220.50,46.23 L221.00,46.83 L221.50,46.32 L222.00,46.84 L222.50,47.27 L223.00,46.51" stroke="#8e8e8e" stroke-width="0.42" fill="none"/>
<path d="M184.00,46.88 L184.50,47.10 L185.00,46.97 L185.50,46.49 L186.00,47.03 L186.50,46.91 L187.00,47.18 L187.50,47.95 L188.00,47.50 L188.50,47.25 L189.00,47.52 L189.50,47.38 L190.00,47.49 L190.50,47.39 L191.00,48.29 L191.50,48.25 L192.00,48.12 L192.50,47.94 L193.00,47.89 L193.50,47.14 L194.00,47.00 L194.50,47.25 L195.00,46.75 L195.50,46.78 L196.00,46.73 L196.50,46.52 L197.00,47.39 L197.50,47.44 L198.00,47.33 L198.50,46.85 L199.00,46.78 L199.50,46.61 L200.00,46.56 L200.50,46.65 L201.00,47.52 L201.50,47.81 L202.00,48.15 L202.50,48.29 L203.00,48.89 L203.50,48.14 L204.00,47.31 L204.50,47.15 L205.00,46.99 L205.50,46.71 L206.00,46.15 L206.50,46.03 L207.00,46.14 L207.50,45.53 L208.00,44.69 L208.50,44.34 L209.00,43.34 L209.50,42.34 L210.00,41.62 L210.50,40.01 L211.00,40.09 L211.50,39.42 L212.00,39.12 L212.50,38.88 L213.00,38.86 L213.50,38.41 L214.00,39.37 L214.50,39.99 L215.00,40.69 L215.50,42.62 L216.00,43.00 L216.50,44.42 L217.00,45.59 L217.50,46.21 L218.00,47.88 L218.50,47.77 L219.00,47.97 L219.50,47.77 L220.00,47.54 L220.50,46.92 L221.00,47.28 L221.50,47.23 L222.00,46.70 L222.50,46.33 L223.00,46.57" stroke="#8e8e8e" stroke-width="0.42" fill="none"/>
<path d="M184.00,47.32 L184.50,47.37 L185.00,47.18 L185.50,47.85 L186.00,47.74 L186.50,47.90 L187.00,46.70 L187.50,46.66 L188.00,46.48 L188.50,46.91 L189.00,47.36 L189.50,47.91 L190.00,49.15 L190.50,51.08 L191.00,53.17 L191.50,54.50 L192.00,56.02 L192.50,56.24 L193.00,56.23 L193.50,55.05 L194.00,54.18 L194.50,53.51 L195.00,51.81 L195.50,50.87 L196.00,49.19 L196.50,48.19 L197.00,48.63 L197.50,48.11 L198.00,47.96 L198.50,47.14 L199.00,47.09 L199.50,46.79 L200.00,47.26 L200.50,47.04 L201.00,47.96 L201.50,47.42 L202.00,47.50 L202.50,46.76 L203.00,46.73 L203.50,47.26 L204.00,47.20 L204.50,46.68 L205.00,46.81 L205.50,46.96 L206.00,46.72 L206.50,46.50 L207.00,45.20 L207.50,44.99 L208.00,44.10 L208.50,42.08 L209.00,41.55 L209.50,40.08 L210.00,39.10 L210.50,37.42 L211.00,36.65 L211.50,35.82 L212.00,36.42 L212.50,36.92 L213.00,37.52 L213.50,38.63 L214.00,40.45 L214.50,41.59 L215.00,43.24 L215.50,44.12 L216.00,44.74 L216.50,45.66 L217.00,46.42 L217.50,47.11 L218.00,47.82 L218.50,47.80 L219.00,47.71 L219.50,47.94 L220.00,47.95 L220.50,47.75 L221.00,47.66 L221.50,46.73 L222.00,46.56 L222.50,46.06 L223.00,46.10" stroke="#8e8e8e" stroke-width="0.42" fill="none"/>
<path d="M184.00,46.91 L184.50,46.91 L185.00,46.96 L185.50,47.08 L186.00,46.87 L186.50,46.84 L187.00,47.22 L187.50,46.80 L188.00,46.81 L188.50,46.50 L189.00,46.23 L189.50,46.23 L190.00,46.45 L190.50,47.09 L191.00,47.00 L191.50,47.33 L192.00,47.46 L192.50,47.42 L193.00,46.31 L193.50,46.62 L194.00,46.94 L194.50,46.94 L195.00,47.47 L195.50,48.41 L196.00,48.20 L196.50,48.12 L197.00,48.36 L197.50,47.44 L198.00,46.86 L198.50,46.85 L199.00,47.09 L199.50,47.41 L200.00,47.55 L200.50,48.23 L201.00,48.11 L201.50,47.43 L202.00,47.27 L202.50,47.43 L203.00,47.46 L203.50,46.67 L204.00,46.83 L204.50,46.53 L205.00,46.46 L205.50,46.94 L206.00,46.69 L206.50,46.21 L207.00,45.87 L207.50,45.19 L208.00,45.24 L208.50,44.37 L209.00,43.14 L209.50,41.05 L210.00,39.04 L210.50,37.69 L211.00,35.96 L211.50,35.94 L212.00,35.26 L212.50,35.17 L213.00,35.08 L213.50,34.53 L214.00,34.47 L214.50,34.61 L215.00,35.34 L215.50,35.73 L216.00,36.96 L216.50,37.91 L217.00,38.80 L217.50,40.14 L218.00,40.92 L218.50,41.93 L219.00,43.03 L219.50,44.19 L220.00,44.88 L220.50,44.87 L221.00,45.85 L221.50,46.25 L222.00,46.40 L222.50,46.32 L223.00,46.73" stroke="#8e8e8e" stroke-width="0.42" fill="none"/>
<path d="M184.00,46.86 L184.50,46.55 L185.00,46.91 L185.50,46.52 L186.00,46.33 L186.50,46.36 L187.00,46.53 L187.50,46.78 L188.00,46.15 L188.50,45.86 L189.00,46.11 L189.50,46.18 L190.00,47.03 L190.50,46.82 L191.00,46.42 L191.50,46.60 L192.00,45.21 L192.50,44.23 L193.00,44.97 L193.50,44.43 L194.00,44.41 L194.50,44.55 L195.00,44.69 L195.50,45.28 L196.00,45.52 L196.50,46.63 L197.00,47.54 L197.50,48.24 L198.00,48.16 L198.50,47.54 L199.00,47.33 L199.50,46.79 L200.00,46.80 L200.50,46.13 L201.00,45.88 L201.50,46.09 L202.00,46.38 L202.50,46.50 L203.00,46.11 L203.50,45.97 L204.00,46.77 L204.50,46.98 L205.00,46.47 L205.50,46.92 L206.00,46.47 L206.50,46.03 L207.00,45.25 L207.50,45.29 L208.00,44.68 L208.50,44.01 L209.00,43.07 L209.50,42.12 L210.00,41.80 L210.50,41.40 L211.00,41.53 L211.50,40.67 L212.00,40.08 L212.50,40.07 L213.00,40.05 L213.50,39.64 L214.00,40.22 L214.50,40.54 L215.00,41.14 L215.50,41.63 L216.00,42.42 L216.50,42.73 L217.00,43.18 L217.50,44.12 L218.00,44.72 L218.50,45.26 L219.00,46.01 L219.50,46.33 L220.00,46.66 L220.50,46.01 L221.00,46.08 L221.50,46.60 L222.00,46.42 L222.50,46.47 L223.00,46.68" stroke="#8e8e8e" stroke-width="0.42" fill="none"/>
<path d="M184.00,48.00 L184.50,47.73 L185.00,46.83 L185.50,47.32 L186.00,47.58 L186.50,47.48 L187.00,47.17 L187.50,46.26 L188.00,46.72 L188.50,46.59 L189.00,47.31 L189.50,47.65 L190.00,48.15 L190.50,48.07 L191.00,48.50 L191.50,47.95 L192.00,48.52 L192.50,48.44 L193.00,47.96 L193.50,47.82 L194.00,47.47 L194.50,47.58 L195.00,47.29 L195.50,46.83 L196.00,46.75 L196.50,46.71 L197.00,46.82 L197.50,47.08 L198.00,47.47 L198.50,47.48 L199.00,47.90 L199.50,46.78 L200.00,46.71 L200.50,46.99 L201.00,46.47 L201.50,46.52 L202.00,46.84 L202.50,46.66 L203.00,47.07 L203.50,48.04 L204.00,48.71 L204.50,50.08 L205.00,51.57 L205.50,51.90 L206.00,51.64 L206.50,51.51 L207.00,50.79 L207.50,49.38 L208.00,48.05 L208.50,46.41 L209.00,44.63 L209.50,43.21 L210.00,41.78 L210.50,40.16 L211.00,38.45 L211.50,37.32 L212.00,36.37 L212.50,35.88 L213.00,35.39 L213.50,34.64 L214.00,35.85 L214.50,36.75 L215.00,37.91 L215.50,39.37 L216.00,40.83 L216.50,42.16 L217.00,44.04 L217.50,45.20 L218.00,46.25 L218.50,46.75 L219.00,47.42 L219.50,48.09 L220.00,48.35 L220.50,48.58 L221.00,48.18 L221.50,48.20 L222.00,47.64 L222.50,47.32 L223.00,46.92" stroke="#8e8e8e" stroke-width="0.42" fill="none"/>
<path d="M184.00,47.23 L184.50,47.14 L185.00,47.32 L185.50,47.72 L186.00,47.57 L186.50,47.54 L187.00,47.14 L187.50,46.69 L188.00,46.43 L188.50,46.10 L189.00,45.98 L189.50,45.97 L190.00,45.59 L190.50,46.50 L191.00,47.21 L191.50,47.06 L192.00,47.27 L192.50,47.64 L193.00,48.24 L193.50,48.86 L194.00,49.08 L194.50,48.23 L195.00,49.28 L195.50,49.26 L196.00,49.10 L196.50,48.35 L197.00,48.00 L197.50,48.01 L198.00,47.55 L198.50,47.77 L199.00,47.60 L199.50,48.00 L200.00,47.80 L200.50,48.15 L201.00,47.36 L201.50,47.79 L202.00,47.78 L202.50,47.49 L203.00,47.78 L203.50,47.56 L204.00,47.81 L204.50,48.12 L205.00,48.50 L205.50,49.29 L206.00,49.69 L206.50,50.35 L207.00,50.08 L207.50,49.34 L208.00,48.40 L208.50,47.02 L209.00,45.04 L209.50,43.55 L210.00,41.60 L210.50,40.14 L211.00,38.84 L211.50,37.65 L212.00,36.54 L212.50,36.15 L213.00,35.98 L213.50,36.56 L214.00,37.07 L214.50,37.92 L215.00,38.44 L215.50,39.22 L216.00,39.81 L216.50,40.64 L217.00,42.04 L217.50,42.97 L218.00,43.81 L218.50,44.39 L219.00,45.59 L219.50,46.00 L220.00,46.71 L220.50,46.86 L221.00,47.29 L221.50,46.96 L222.00,46.54 L222.50,47.04 L223.00,46.95" stroke="#8e8e8e" stroke-width="0.42" fill="none"/>
<path d="M184.00,46.87 L184.50,47.45 L185.00,47.50 L185.50,47.40 L186.00,46.99 L186.50,46.95 L187.00,46.68 L187.50,46.79 L188.00,47.08 L188.50,47.22 L189.00,47.63 L189.50,47.15 L190.00,46.68 L190.50,47.22 L191.00,47.55 L191.50,47.12 L192.00,47.17 L192.50,46.83 L193.00,46.95 L193.50,47.18 L194.00,47.61 L194.50,47.26 L195.00,46.83 L195.50,47.09 L196.00,46.94 L196.50,47.40 L197.00,46.89 L197.50,46.66 L198.00,45.76 L198.50,46.40 L199.00,46.98 L199.50,47.14 L200.00,47.02 L200.50,46.36 L201.00,46.11 L201.50,46.26 L202.00,47.31 L202.50,47.89 L203.00,47.91 L203.50,48.35 L204.00,48.75 L204.50,49.03 L205.00,48.72 L205.50,48.58 L206.00,48.90 L206.50,48.96 L207.00,48.53 L207.50,48.99 L208.00,48.42 L208.50,47.50 L209.00,46.99 L209.50,46.32 L210.00,45.26 L210.50,44.91 L211.00,44.25 L211.50,43.29 L212.00,42.74 L212.50,42.32 L213.00,41.73 L213.50,41.74 L214.00,41.44 L214.50,41.44 L215.00,41.88 L215.50,41.68 L216.00,41.93 L216.50,42.00 L217.00,42.74 L217.50,42.99 L218.00,44.16 L218.50,45.13 L219.00,45.25 L219.50,45.73 L220.00,45.98 L220.50,46.32 L221.00,46.82 L221.50,47.48 L222.00,48.22 L222.50,48.67 L223.00,47.93" stroke="#8e8e8e" stroke-width="0.42" fill="none"/>
<line x1="205.00" y1="47.30" x2="222.50" y2="47.30" stroke="#777" stroke-width="0.5" stroke-dasharray="1.5 1.2"/>
<path d="M184.00,47.00 L184.50,47.00 L185.00,47.00 L185.50,47.00 L186.00,47.00 L186.50,47.00 L187.00,47.00 L187.50,47.00 L188.00,47.00 L188.50,47.00 L189.00,47.00 L189.50,47.00 L190.00,47.00 L190.50,47.00 L191.00,47.00 L191.50,47.00 L192.00,47.00 L192.50,47.00 L193.00,47.00 L193.50,47.00 L194.00,47.00 L194.50,47.00 L195.00,47.00 L195.50,47.00 L196.00,47.00 L196.50,47.00 L197.00,47.00 L197.50,47.00 L198.00,47.00 L198.50,47.00 L199.00,47.00 L199.50,47.00 L200.00,47.00 L200.50,47.00 L201.00,46.99 L201.50,46.99 L202.00,46.98 L202.50,46.96 L203.00,46.93 L203.50,46.89 L204.00,46.83 L204.50,46.74 L205.00,46.61 L205.50,46.44 L206.00,46.20 L206.50,45.88 L207.00,45.48 L207.50,44.99 L208.00,44.40 L208.50,43.73 L209.00,42.97 L209.50,42.16 L210.00,41.33 L210.50,40.51 L211.00,39.76 L211.50,39.12 L212.00,38.62 L212.50,38.31 L213.00,38.20 L213.50,38.31 L214.00,38.62 L214.50,39.12 L215.00,39.76 L215.50,40.51 L216.00,41.33 L216.50,42.16 L217.00,42.97 L217.50,43.73 L218.00,44.40 L218.50,44.99 L219.00,45.48 L219.50,45.88 L220.00,46.20 L220.50,46.44 L221.00,46.61 L221.50,46.74 L222.00,46.83 L222.50,46.89 L223.00,46.93" stroke="#111" stroke-width="1.1" fill="none" stroke-linejoin="round"/>
<path d="M184.00,72.33 L184.50,72.49 L185.00,72.18 L185.50,72.33 L186.00,72.61 L186.50,72.85 L187.00,73.09 L187.50,72.84 L188.00,72.97 L188.50,73.10 L189.00,73.62 L189.50,73.15 L190.00,73.34 L190.50,72.77 L191.00,73.00 L191.50,72.73 L192.00,72.74 L192.50,73.20 L193.00,74.10 L193.50,74.27 L194.00,75.22 L194.50,75.55 L195.00,76.44 L195.50,76.79 L196.00,77.32 L196.50,77.40 L197.00,77.61 L197.50,77.43 L198.00,77.59 L198.50,77.38 L199.00,77.46 L199.50,76.76 L200.00,76.57 L200.50,76.42 L201.00,76.57 L201.50,76.10 L202.00,75.51 L202.50,74.76 L203.00,74.35 L203.50,73.31 L204.00,72.35 L204.50,70.36 L205.00,68.62 L205.50,67.05 L206.00,64.07 L206.50,61.87 L207.00,59.83 L207.50,58.43 L208.00,58.30 L208.50,59.11 L209.00,60.39 L209.50,62.62 L210.00,64.36 L210.50,67.16 L211.00,68.92 L211.50,70.58 L212.00,71.15 L212.50,72.42 L213.00,73.01 L213.50,73.11 L214.00,73.05 L214.50,72.98 L215.00,72.51 L215.50,72.32 L216.00,72.15 L216.50,72.23 L217.00,72.71 L217.50,72.97 L218.00,72.87 L218.50,72.92 L219.00,72.64 L219.50,72.35 L220.00,71.73 L220.50,71.35 L221.00,71.07 L221.50,71.24 L222.00,71.33 L222.50,71.62 L223.00,72.10" stroke="#8e8e8e" stroke-width="0.42" fill="none"/>
<path d="M184.00,71.71 L184.50,71.83 L185.00,71.26 L185.50,71.37 L186.00,71.63 L186.50,72.21 L187.00,71.92 L187.50,71.64 L188.00,71.52 L188.50,71.97 L189.00,71.89 L189.50,71.95 L190.00,72.12 L190.50,71.82 L191.00,72.25 L191.50,71.65 L192.00,72.38 L192.50,72.09 L193.00,71.78 L193.50,71.60 L194.00,71.31 L194.50,71.18 L195.00,71.10 L195.50,70.93 L196.00,71.16 L196.50,71.57 L197.00,71.66 L197.50,72.12 L198.00,72.32 L198.50,73.07 L199.00,73.73 L199.50,74.21 L200.00,75.16 L200.50,75.86 L201.00,76.12 L201.50,76.26 L202.00,76.19 L202.50,75.07 L203.00,73.97 L203.50,73.04 L204.00,71.63 L204.50,70.29 L205.00,69.26 L205.50,66.63 L206.00,64.60 L206.50,62.41 L207.00,61.26 L207.50,60.37 L208.00,59.61 L208.50,60.70 L209.00,62.09 L209.50,63.86 L210.00,65.93 L210.50,67.95 L211.00,69.25 L211.50,70.34 L212.00,71.62 L212.50,71.60 L213.00,71.54 L213.50,71.85 L214.00,71.44 L214.50,71.36 L215.00,71.49 L215.50,71.19 L216.00,71.18 L216.50,70.99 L217.00,71.09 L217.50,71.35 L218.00,71.48 L218.50,71.67 L219.00,71.87 L219.50,72.18 L220.00,71.78 L220.50,71.87 L221.00,72.45 L221.50,72.28 L222.00,72.14 L222.50,72.11 L223.00,71.84" stroke="#8e8e8e" stroke-width="0.42" fill="none"/>
<path d="M184.00,71.96 L184.50,72.36 L185.00,72.50 L185.50,71.72 L186.00,72.08 L186.50,71.96 L187.00,71.31 L187.50,71.38 L188.00,71.30 L188.50,71.31 L189.00,71.70 L189.50,71.23 L190.00,71.57 L190.50,72.06 L191.00,71.67 L191.50,72.26 L192.00,72.04 L192.50,71.87 L193.00,72.34 L193.50,72.42 L194.00,71.88 L194.50,71.89 L195.00,72.39 L195.50,72.38 L196.00,72.42 L196.50,72.65 L197.00,72.86 L197.50,72.85 L198.00,72.82 L198.50,73.35 L199.00,74.12 L199.50,73.48 L200.00,74.00 L200.50,74.57 L201.00,74.26 L201.50,74.65 L202.00,73.71 L202.50,73.55 L203.00,73.36 L203.50,72.83 L204.00,70.53 L204.50,69.17 L205.00,67.22 L205.50,65.65 L206.00,64.32 L206.50,62.64 L207.00,61.67 L207.50,59.94 L208.00,59.29 L208.50,59.50 L209.00,60.79 L209.50,62.71 L210.00,64.13 L210.50,65.73 L211.00,67.99 L211.50,69.24 L212.00,71.01 L212.50,71.95 L213.00,72.89 L213.50,74.29 L214.00,74.51 L214.50,74.74 L215.00,74.60 L215.50,74.94 L216.00,75.51 L216.50,75.55 L217.00,74.78 L217.50,74.58 L218.00,74.66 L218.50,73.67 L219.00,72.99 L219.50,72.05 L220.00,71.35 L220.50,70.64 L221.00,70.04 L221.50,70.32 L222.00,70.51 L222.50,70.04 L223.00,70.13" stroke="#8e8e8e" stroke-width="0.42" fill="none"/>
<path d="M184.00,71.55 L184.50,72.22 L185.00,72.53 L185.50,72.92 L186.00,72.85 L186.50,72.67 L187.00,72.70 L187.50,72.14 L188.00,72.74 L188.50,72.73 L189.00,72.79 L189.50,73.25 L190.00,73.22 L190.50,73.81 L191.00,73.77 L191.50,74.73 L192.00,75.06 L192.50,75.04 L193.00,74.81 L193.50,74.45 L194.00,73.88 L194.50,72.88 L195.00,72.54 L195.50,72.19 L196.00,72.07 L196.50,72.30 L197.00,71.96 L197.50,72.10 L198.00,72.57 L198.50,73.13 L199.00,74.04 L199.50,75.26 L200.00,75.03 L200.50,74.83 L201.00,74.15 L201.50,73.42 L202.00,73.06 L202.50,71.91 L203.00,70.74 L203.50,69.14 L204.00,67.11 L204.50,65.58 L205.00,63.53 L205.50,62.30 L206.00,60.51 L206.50,60.00 L207.00,60.61 L207.50,61.02 L208.00,62.42 L208.50,64.57 L209.00,66.39 L209.50,67.69 L210.00,69.03 L210.50,70.39 L211.00,71.20 L211.50,71.96 L212.00,72.74 L212.50,72.74 L213.00,73.49 L213.50,73.04 L214.00,72.72 L214.50,72.48 L215.00,72.83 L215.50,72.56 L216.00,73.25 L216.50,73.79 L217.00,73.85 L217.50,73.20 L218.00,72.70 L218.50,72.67 L219.00,72.83 L219.50,73.06 L220.00,73.42 L220.50,73.41 L221.00,73.23 L221.50,73.18 L222.00,72.26 L222.50,72.63 L223.00,71.97" stroke="#8e8e8e" stroke-width="0.42" fill="none"/>
<path d="M184.00,71.36 L184.50,71.13 L185.00,71.63 L185.50,71.99 L186.00,72.28 L186.50,71.89 L187.00,72.40 L187.50,73.24 L188.00,73.70 L188.50,74.58 L189.00,74.57 L189.50,74.43 L190.00,74.91 L190.50,74.97 L191.00,73.83 L191.50,73.15 L192.00,73.20 L192.50,72.95 L193.00,73.58 L193.50,74.05 L194.00,74.40 L194.50,74.24 L195.00,74.30 L195.50,74.87 L196.00,75.08 L196.50,75.75 L197.00,76.21 L197.50,76.76 L198.00,76.89 L198.50,76.54 L199.00,75.32 L199.50,74.67 L200.00,73.91 L200.50,73.88 L201.00,72.98 L201.50,72.48 L202.00,72.40 L202.50,72.37 L203.00,72.40 L203.50,72.07 L204.00,71.90 L204.50,70.57 L205.00,69.52 L205.50,67.18 L206.00,65.17 L206.50,63.77 L207.00,63.09 L207.50,63.01 L208.00,63.79 L208.50,65.08 L209.00,66.34 L209.50,67.72 L210.00,70.07 L210.50,70.60 L211.00,70.94 L211.50,71.07 L212.00,71.62 L212.50,72.11 L213.00,72.46 L213.50,72.52 L214.00,72.88 L214.50,72.52 L215.00,72.60 L215.50,72.93 L216.00,72.28 L216.50,72.21 L217.00,71.95 L217.50,71.80 L218.00,71.35 L218.50,71.46 L219.00,71.49 L219.50,71.96 L220.00,72.75 L220.50,72.21 L221.00,72.60 L221.50,72.27 L222.00,72.14 L222.50,71.80 L223.00,72.09" stroke="#8e8e8e" stroke-width="0.42" fill="none"/>
<path d="M184.00,72.22 L184.50,72.10 L185.00,71.80 L185.50,71.81 L186.00,71.40 L186.50,71.39 L187.00,72.16 L187.50,72.62 L188.00,72.83 L188.50,72.89 L189.00,73.06 L189.50,72.75 L190.00,73.04 L190.50,72.99 L191.00,72.99 L191.50,73.73 L192.00,73.44 L192.50,73.40 L193.00,73.28 L193.50,73.43 L194.00,73.04 L194.50,72.97 L195.00,72.86 L195.50,72.60 L196.00,72.29 L196.50,71.95 L197.00,72.52 L197.50,72.43 L198.00,73.24 L198.50,74.29 L199.00,74.60 L199.50,74.94 L200.00,75.41 L200.50,76.09 L201.00,77.29 L201.50,77.39 L202.00,77.11 L202.50,76.31 L203.00,75.81 L203.50,74.98 L204.00,74.07 L204.50,72.20 L205.00,69.82 L205.50,67.11 L206.00,65.24 L206.50,62.77 L207.00,60.42 L207.50,58.47 L208.00,57.79 L208.50,58.39 L209.00,60.04 L209.50,62.56 L210.00,64.83 L210.50,67.90 L211.00,69.42 L211.50,71.14 L212.00,72.39 L212.50,73.29 L213.00,73.99 L213.50,74.02 L214.00,73.87 L214.50,74.09 L215.00,74.14 L215.50,73.68 L216.00,73.60 L216.50,72.82 L217.00,72.76 L217.50,71.86 L218.00,72.31 L218.50,72.02 L219.00,72.35 L219.50,72.44 L220.00,72.15 L220.50,72.43 L221.00,72.93 L221.50,72.45 L222.00,73.03 L222.50,72.97 L223.00,72.48" stroke="#8e8e8e" stroke-width="0.42" fill="none"/>
<path d="M184.00,71.88 L184.50,71.44 L185.00,71.08 L185.50,71.11 L186.00,71.22 L186.50,71.57 L187.00,71.63 L187.50,71.13 L188.00,72.17 L188.50,72.29 L189.00,71.66 L189.50,72.34 L190.00,72.59 L190.50,72.43 L191.00,72.38 L191.50,72.53 L192.00,71.70 L192.50,72.25 L193.00,72.53 L193.50,73.00 L194.00,73.03 L194.50,73.09 L195.00,73.89 L195.50,72.76 L196.00,73.44 L196.50,74.03 L197.00,73.68 L197.50,74.09 L198.00,74.48 L198.50,75.00 L199.00,75.24 L199.50,75.37 L200.00,75.82 L200.50,75.81 L201.00,75.81 L201.50,75.58 L202.00,74.66 L202.50,74.67 L203.00,74.39 L203.50,73.01 L204.00,72.40 L204.50,71.83 L205.00,71.59 L205.50,70.75 L206.00,70.72 L206.50,69.67 L207.00,69.43 L207.50,68.10 L208.00,68.11 L208.50,67.94 L209.00,68.50 L209.50,69.28 L210.00,70.29 L210.50,70.83 L211.00,71.57 L211.50,71.89 L212.00,72.24 L212.50,72.39 L213.00,72.86 L213.50,73.02 L214.00,72.90 L214.50,72.24 L215.00,72.62 L215.50,72.34 L216.00,72.26 L216.50,72.53 L217.00,72.60 L217.50,72.72 L218.00,72.81 L218.50,72.16 L219.00,72.50 L219.50,72.42 L220.00,72.65 L220.50,72.56 L221.00,72.30 L221.50,72.73 L222.00,72.61 L222.50,72.82 L223.00,72.86" stroke="#8e8e8e" stroke-width="0.42" fill="none"/>
<path d="M184.00,72.71 L184.50,71.74 L185.00,72.11 L185.50,72.68 L186.00,72.45 L186.50,72.42 L187.00,72.72 L187.50,72.42 L188.00,72.49 L188.50,72.46 L189.00,72.80 L189.50,72.93 L190.00,73.59 L190.50,73.21 L191.00,73.01 L191.50,72.74 L192.00,73.36 L192.50,74.16 L193.00,75.12 L193.50,76.22 L194.00,76.17 L194.50,75.28 L195.00,75.18 L195.50,74.09 L196.00,72.94 L196.50,72.97 L197.00,72.96 L197.50,72.85 L198.00,73.43 L198.50,74.36 L199.00,75.20 L199.50,75.76 L200.00,76.90 L200.50,76.94 L201.00,77.09 L201.50,77.22 L202.00,76.52 L202.50,76.22 L203.00,75.57 L203.50,74.99 L204.00,74.10 L204.50,73.80 L205.00,72.24 L205.50,71.11 L206.00,69.87 L206.50,68.72 L207.00,67.66 L207.50,65.94 L208.00,65.12 L208.50,64.57 L209.00,64.04 L209.50,63.53 L210.00,64.36 L210.50,65.50 L211.00,66.43 L211.50,67.63 L212.00,68.90 L212.50,69.69 L213.00,70.90 L213.50,71.98 L214.00,72.38 L214.50,72.17 L215.00,72.13 L215.50,72.06 L216.00,72.66 L216.50,72.37 L217.00,72.47 L217.50,72.28 L218.00,72.64 L218.50,72.25 L219.00,72.39 L219.50,72.21 L220.00,72.38 L220.50,71.83 L221.00,71.85 L221.50,72.28 L222.00,72.47 L222.50,72.03 L223.00,72.93" stroke="#8e8e8e" stroke-width="0.42" fill="none"/>
<line x1="205.00" y1="72.30" x2="222.50" y2="72.30" stroke="#777" stroke-width="0.5" stroke-dasharray="1.5 1.2"/>
<path d="M184.00,72.00 L184.50,72.00 L185.00,72.00 L185.50,72.00 L186.00,72.00 L186.50,72.00 L187.00,72.00 L187.50,72.00 L188.00,72.00 L188.50,72.00 L189.00,72.00 L189.50,72.00 L190.00,72.00 L190.50,72.00 L191.00,72.00 L191.50,72.00 L192.00,72.00 L192.50,72.00 L193.00,72.01 L193.50,72.02 L194.00,72.04 L194.50,72.07 L195.00,72.12 L195.50,72.21 L196.00,72.35 L196.50,72.54 L197.00,72.79 L197.50,73.11 L198.00,73.47 L198.50,73.85 L199.00,74.22 L199.50,74.52 L200.00,74.73 L200.50,74.80 L201.00,74.72 L201.50,74.50 L202.00,74.15 L202.50,73.70 L203.00,73.15 L203.50,72.50 L204.00,71.70 L204.50,70.70 L205.00,69.47 L205.50,68.00 L206.00,66.38 L206.50,64.75 L207.00,63.33 L207.50,62.36 L208.00,62.01 L208.50,62.34 L209.00,63.30 L209.50,64.69 L210.00,66.28 L210.50,67.86 L211.00,69.28 L211.50,70.47 L212.00,71.42 L212.50,72.14 L213.00,72.62 L213.50,72.85 L214.00,72.86 L214.50,72.72 L215.00,72.50 L215.50,72.30 L216.00,72.16 L216.50,72.07 L217.00,72.03 L217.50,72.01 L218.00,72.00 L218.50,72.00 L219.00,72.00 L219.50,72.00 L220.00,72.00 L220.50,72.00 L221.00,72.00 L221.50,72.00 L222.00,72.00 L222.50,72.00 L223.00,72.00" stroke="#111" stroke-width="1.1" fill="none" stroke-linejoin="round"/>
<path d="M184.00,97.12 L184.50,97.00 L185.00,97.52 L185.50,96.97 L186.00,96.89 L186.50,96.58 L187.00,96.65 L187.50,96.55 L188.00,96.73 L188.50,96.59 L189.00,96.99 L189.50,96.54 L190.00,96.31 L190.50,96.26 L191.00,95.54 L191.50,94.95 L192.00,94.57 L192.50,94.17 L193.00,94.34 L193.50,94.09 L194.00,93.83 L194.50,94.61 L195.00,94.97 L195.50,95.52 L196.00,96.24 L196.50,97.34 L197.00,98.06 L197.50,98.31 L198.00,98.35 L198.50,97.93 L199.00,98.13 L199.50,97.87 L200.00,96.85 L200.50,96.50 L201.00,95.31 L201.50,94.41 L202.00,93.58 L202.50,93.56 L203.00,93.51 L203.50,92.64 L204.00,91.64 L204.50,91.40 L205.00,90.54 L205.50,90.67 L206.00,90.03 L206.50,90.43 L207.00,90.44 L207.50,91.67 L208.00,92.41 L208.50,92.97 L209.00,93.79 L209.50,93.56 L210.00,94.13 L210.50,94.65 L211.00,95.55 L211.50,95.04 L212.00,95.46 L212.50,95.90 L213.00,96.17 L213.50,96.12 L214.00,96.35 L214.50,96.25 L215.00,96.62 L215.50,96.45 L216.00,96.58 L216.50,96.92 L217.00,96.86 L217.50,96.69 L218.00,96.96 L218.50,97.31 L219.00,97.69 L219.50,97.90 L220.00,98.47 L220.50,98.32 L221.00,98.66 L221.50,98.09 L222.00,98.20 L222.50,98.31 L223.00,98.78" stroke="#8e8e8e" stroke-width="0.42" fill="none"/>
<path d="M184.00,96.77 L184.50,96.61 L185.00,96.12 L185.50,96.12 L186.00,95.66 L186.50,94.58 L187.00,93.84 L187.50,93.92 L188.00,94.28 L188.50,95.13 L189.00,95.56 L189.50,95.93 L190.00,96.22 L190.50,96.67 L191.00,96.70 L191.50,96.97 L192.00,97.56 L192.50,97.86 L193.00,98.03 L193.50,99.04 L194.00,100.16 L194.50,100.46 L195.00,100.56 L195.50,99.71 L196.00,98.71 L196.50,97.53 L197.00,96.32 L197.50,95.50 L198.00,95.68 L198.50,95.48 L199.00,94.69 L199.50,94.28 L200.00,93.77 L200.50,93.32 L201.00,92.15 L201.50,91.77 L202.00,91.02 L202.50,90.55 L203.00,90.17 L203.50,88.50 L204.00,87.41 L204.50,87.49 L205.00,87.83 L205.50,87.90 L206.00,87.27 L206.50,87.07 L207.00,87.38 L207.50,87.46 L208.00,86.98 L208.50,87.83 L209.00,88.21 L209.50,88.94 L210.00,89.10 L210.50,89.63 L211.00,91.05 L211.50,91.75 L212.00,92.76 L212.50,94.07 L213.00,94.64 L213.50,95.15 L214.00,95.49 L214.50,96.18 L215.00,96.58 L215.50,96.94 L216.00,97.62 L216.50,97.79 L217.00,98.18 L217.50,97.75 L218.00,97.60 L218.50,97.81 L219.00,97.45 L219.50,96.93 L220.00,96.99 L220.50,96.90 L221.00,97.13 L221.50,97.74 L222.00,97.51 L222.50,97.09 L223.00,97.04" stroke="#8e8e8e" stroke-width="0.42" fill="none"/>
<path d="M184.00,97.69 L184.50,97.04 L185.00,96.95 L185.50,97.68 L186.00,98.06 L186.50,97.80 L187.00,97.94 L187.50,97.85 L188.00,97.54 L188.50,97.22 L189.00,97.69 L189.50,97.39 L190.00,97.33 L190.50,97.16 L191.00,96.69 L191.50,96.81 L192.00,97.72 L192.50,97.57 L193.00,98.04 L193.50,99.22 L194.00,100.33 L194.50,101.41 L195.00,102.63 L195.50,103.34 L196.00,103.31 L196.50,102.38 L197.00,101.21 L197.50,99.41 L198.00,98.48 L198.50,97.58 L199.00,96.74 L199.50,95.74 L200.00,95.26 L200.50,94.31 L201.00,94.26 L201.50,93.39 L202.00,93.21 L202.50,92.22 L203.00,91.76 L203.50,91.13 L204.00,90.57 L204.50,89.57 L205.00,88.12 L205.50,87.77 L206.00,87.18 L206.50,86.50 L207.00,86.28 L207.50,86.81 L208.00,87.61 L208.50,88.41 L209.00,89.43 L209.50,90.62 L210.00,91.29 L210.50,92.13 L211.00,92.87 L211.50,93.58 L212.00,94.31 L212.50,95.10 L213.00,95.56 L213.50,96.24 L214.00,97.15 L214.50,97.54 L215.00,98.25 L215.50,98.37 L216.00,98.51 L216.50,99.48 L217.00,99.47 L217.50,99.73 L218.00,98.50 L218.50,97.04 L219.00,96.37 L219.50,95.47 L220.00,93.82 L220.50,93.48 L221.00,93.20 L221.50,92.63 L222.00,92.81 L222.50,93.19 L223.00,93.53" stroke="#8e8e8e" stroke-width="0.42" fill="none"/>
<path d="M184.00,97.46 L184.50,97.05 L185.00,97.10 L185.50,97.27 L186.00,97.65 L186.50,97.23 L187.00,97.30 L187.50,97.34 L188.00,96.13 L188.50,96.30 L189.00,96.00 L189.50,95.06 L190.00,95.35 L190.50,94.97 L191.00,94.56 L191.50,94.99 L192.00,95.01 L192.50,94.53 L193.00,94.80 L193.50,95.94 L194.00,96.99 L194.50,98.18 L195.00,98.71 L195.50,99.57 L196.00,99.55 L196.50,99.52 L197.00,99.56 L197.50,99.09 L198.00,98.77 L198.50,98.09 L199.00,97.58 L199.50,97.74 L200.00,97.24 L200.50,96.94 L201.00,95.69 L201.50,94.81 L202.00,94.42 L202.50,92.91 L203.00,91.80 L203.50,90.58 L204.00,89.83 L204.50,87.94 L205.00,86.68 L205.50,85.71 L206.00,84.83 L206.50,83.45 L207.00,83.46 L207.50,83.62 L208.00,84.54 L208.50,85.72 L209.00,87.33 L209.50,88.80 L210.00,90.27 L210.50,91.25 L211.00,92.65 L211.50,93.16 L212.00,94.37 L212.50,95.11 L213.00,95.31 L213.50,95.75 L214.00,95.48 L214.50,95.49 L215.00,95.62 L215.50,95.48 L216.00,95.65 L216.50,95.92 L217.00,95.98 L217.50,95.96 L218.00,95.82 L218.50,95.42 L219.00,96.00 L219.50,96.11 L220.00,96.78 L220.50,96.48 L221.00,96.47 L221.50,96.87 L222.00,97.45 L222.50,97.76 L223.00,97.98" stroke="#8e8e8e" stroke-width="0.42" fill="none"/>
<path d="M184.00,97.43 L184.50,96.61 L185.00,97.08 L185.50,97.00 L186.00,96.85 L186.50,96.44 L187.00,96.58 L187.50,96.40 L188.00,96.82 L188.50,97.51 L189.00,97.34 L189.50,97.13 L190.00,97.20 L190.50,97.26 L191.00,97.62 L191.50,97.09 L192.00,97.64 L192.50,97.95 L193.00,98.07 L193.50,97.88 L194.00,98.62 L194.50,99.28 L195.00,99.49 L195.50,99.72 L196.00,99.85 L196.50,99.59 L197.00,99.47 L197.50,98.57 L198.00,98.37 L198.50,96.93 L199.00,96.95 L199.50,97.04 L200.00,96.89 L200.50,95.98 L201.00,95.41 L201.50,95.21 L202.00,94.53 L202.50,94.44 L203.00,94.23 L203.50,94.65 L204.00,94.28 L204.50,93.91 L205.00,93.92 L205.50,93.97 L206.00,93.38 L206.50,92.41 L207.00,91.60 L207.50,90.82 L208.00,90.84 L208.50,90.53 L209.00,90.74 L209.50,90.51 L210.00,90.84 L210.50,91.50 L211.00,91.56 L211.50,92.49 L212.00,92.94 L212.50,93.09 L213.00,93.45 L213.50,93.92 L214.00,94.07 L214.50,94.34 L215.00,94.91 L215.50,94.62 L216.00,95.98 L216.50,96.52 L217.00,97.10 L217.50,97.95 L218.00,98.09 L218.50,97.93 L219.00,97.78 L219.50,97.91 L220.00,98.31 L220.50,97.83 L221.00,98.37 L221.50,98.05 L222.00,97.54 L222.50,97.99 L223.00,97.68" stroke="#8e8e8e" stroke-width="0.42" fill="none"/>
<path d="M184.00,97.01 L184.50,97.69 L185.00,97.37 L185.50,97.31 L186.00,97.57 L186.50,97.29 L187.00,97.25 L187.50,97.17 L188.00,97.13 L188.50,96.75 L189.00,97.24 L189.50,97.28 L190.00,97.55 L190.50,97.63 L191.00,97.56 L191.50,98.21 L192.00,98.07 L192.50,98.48 L193.00,98.07 L193.50,97.66 L194.00,97.60 L194.50,98.42 L195.00,98.65 L195.50,98.63 L196.00,98.78 L196.50,99.17 L197.00,98.91 L197.50,98.18 L198.00,97.84 L198.50,97.88 L199.00,97.60 L199.50,97.49 L200.00,97.95 L200.50,97.66 L201.00,97.22 L201.50,96.98 L202.00,97.03 L202.50,96.98 L203.00,96.25 L203.50,94.88 L204.00,93.22 L204.50,91.13 L205.00,89.27 L205.50,88.24 L206.00,87.58 L206.50,87.50 L207.00,87.50 L207.50,88.22 L208.00,88.74 L208.50,89.98 L209.00,90.47 L209.50,90.87 L210.00,91.31 L210.50,91.79 L211.00,92.32 L211.50,92.63 L212.00,93.27 L212.50,93.80 L213.00,94.59 L213.50,95.16 L214.00,95.72 L214.50,95.80 L215.00,96.07 L215.50,95.52 L216.00,95.58 L216.50,95.80 L217.00,95.28 L217.50,96.12 L218.00,96.72 L218.50,96.92 L219.00,97.84 L219.50,97.21 L220.00,97.27 L220.50,97.34 L221.00,97.17 L221.50,97.74 L222.00,98.05 L222.50,98.08 L223.00,97.61" stroke="#8e8e8e" stroke-width="0.42" fill="none"/>
<path d="M184.00,97.61 L184.50,97.63 L185.00,96.95 L185.50,97.49 L186.00,96.78 L186.50,97.03 L187.00,97.21 L187.50,97.49 L188.00,97.50 L188.50,97.77 L189.00,97.79 L189.50,97.39 L190.00,97.17 L190.50,97.70 L191.00,96.98 L191.50,97.33 L192.00,97.18 L192.50,96.69 L193.00,96.65 L193.50,97.15 L194.00,96.48 L194.50,97.31 L195.00,98.16 L195.50,98.29 L196.00,98.42 L196.50,98.61 L197.00,98.96 L197.50,98.42 L198.00,98.00 L198.50,97.77 L199.00,96.75 L199.50,96.39 L200.00,95.82 L200.50,95.55 L201.00,94.54 L201.50,94.02 L202.00,93.68 L202.50,93.23 L203.00,92.40 L203.50,92.46 L204.00,92.01 L204.50,91.70 L205.00,91.37 L205.50,91.31 L206.00,91.03 L206.50,90.54 L207.00,90.71 L207.50,90.57 L208.00,90.60 L208.50,90.77 L209.00,90.58 L209.50,91.07 L210.00,91.77 L210.50,91.97 L211.00,92.78 L211.50,93.74 L212.00,94.99 L212.50,95.81 L213.00,96.74 L213.50,97.77 L214.00,97.99 L214.50,98.35 L215.00,98.76 L215.50,99.39 L216.00,100.03 L216.50,100.01 L217.00,99.82 L217.50,99.44 L218.00,99.25 L218.50,99.57 L219.00,99.14 L219.50,98.61 L220.00,98.90 L220.50,98.53 L221.00,98.19 L221.50,97.69 L222.00,97.97 L222.50,97.75 L223.00,97.01" stroke="#8e8e8e" stroke-width="0.42" fill="none"/>
<path d="M184.00,96.97 L184.50,96.47 L185.00,96.97 L185.50,96.77 L186.00,97.26 L186.50,97.44 L187.00,98.07 L187.50,97.77 L188.00,97.98 L188.50,97.93 L189.00,97.69 L189.50,98.02 L190.00,97.95 L190.50,97.75 L191.00,97.87 L191.50,97.52 L192.00,98.18 L192.50,99.03 L193.00,98.68 L193.50,98.99 L194.00,99.01 L194.50,98.77 L195.00,98.91 L195.50,99.08 L196.00,98.49 L196.50,97.59 L197.00,97.44 L197.50,96.50 L198.00,95.59 L198.50,94.90 L199.00,94.89 L199.50,94.62 L200.00,94.48 L200.50,94.13 L201.00,94.23 L201.50,94.20 L202.00,94.82 L202.50,94.69 L203.00,94.23 L203.50,94.79 L204.00,94.70 L204.50,94.47 L205.00,94.38 L205.50,94.08 L206.00,92.99 L206.50,92.78 L207.00,93.01 L207.50,93.06 L208.00,92.51 L208.50,92.27 L209.00,92.43 L209.50,93.20 L210.00,93.31 L210.50,93.46 L211.00,93.38 L211.50,93.48 L212.00,93.61 L212.50,93.99 L213.00,94.07 L213.50,94.47 L214.00,94.71 L214.50,95.94 L215.00,96.97 L215.50,97.67 L216.00,98.20 L216.50,98.83 L217.00,98.87 L217.50,98.41 L218.00,97.09 L218.50,96.28 L219.00,96.55 L219.50,96.54 L220.00,96.38 L220.50,95.92 L221.00,96.44 L221.50,96.22 L222.00,96.51 L222.50,96.66 L223.00,96.61" stroke="#8e8e8e" stroke-width="0.42" fill="none"/>
<line x1="205.00" y1="97.70" x2="222.50" y2="97.70" stroke="#777" stroke-width="0.5" stroke-dasharray="1.5 1.2"/>
<path d="M184.00,97.40 L184.50,97.40 L185.00,97.40 L185.50,97.40 L186.00,97.40 L186.50,97.40 L187.00,97.40 L187.50,97.40 L188.00,97.40 L188.50,97.40 L189.00,97.40 L189.50,97.40 L190.00,97.40 L190.50,97.41 L191.00,97.41 L191.50,97.42 L192.00,97.45 L192.50,97.49 L193.00,97.55 L193.50,97.64 L194.00,97.76 L194.50,97.91 L195.00,98.07 L195.50,98.22 L196.00,98.34 L196.50,98.39 L197.00,98.36 L197.50,98.24 L198.00,98.02 L198.50,97.72 L199.00,97.35 L199.50,96.95 L200.00,96.51 L200.50,96.06 L201.00,95.59 L201.50,95.09 L202.00,94.58 L202.50,94.04 L203.00,93.48 L203.50,92.92 L204.00,92.36 L204.50,91.82 L205.00,91.31 L205.50,90.87 L206.00,90.50 L206.50,90.23 L207.00,90.06 L207.50,90.00 L208.00,90.06 L208.50,90.23 L209.00,90.50 L209.50,90.87 L210.00,91.31 L210.50,91.81 L211.00,92.35 L211.50,92.91 L212.00,93.47 L212.50,94.01 L213.00,94.52 L213.50,95.00 L214.00,95.42 L214.50,95.80 L215.00,96.12 L215.50,96.40 L216.00,96.63 L216.50,96.81 L217.00,96.96 L217.50,97.07 L218.00,97.16 L218.50,97.23 L219.00,97.28 L219.50,97.32 L220.00,97.34 L220.50,97.36 L221.00,97.38 L221.50,97.38 L222.00,97.39 L222.50,97.39 L223.00,97.40" stroke="#111" stroke-width="1.1" fill="none" stroke-linejoin="round"/>
<path d="M184.00,121.77 L184.50,121.17 L185.00,121.06 L185.50,121.17 L186.00,121.40 L186.50,121.54 L187.00,121.58 L187.50,121.26 L188.00,121.57 L188.50,121.95 L189.00,121.91 L189.50,121.93 L190.00,122.25 L190.50,122.13 L191.00,122.39 L191.50,122.92 L192.00,122.91 L192.50,123.31 L193.00,123.56 L193.50,123.81 L194.00,123.82 L194.50,124.59 L195.00,125.83 L195.50,125.60 L196.00,125.76 L196.50,125.35 L197.00,124.14 L197.50,123.27 L198.00,121.77 L198.50,119.68 L199.00,118.76 L199.50,117.35 L200.00,116.01 L200.50,115.06 L201.00,114.33 L201.50,113.46 L202.00,113.31 L202.50,113.78 L203.00,114.44 L203.50,116.19 L204.00,117.65 L204.50,119.48 L205.00,121.24 L205.50,122.59 L206.00,122.47 L206.50,122.56 L207.00,122.56 L207.50,122.22 L208.00,122.05 L208.50,121.90 L209.00,121.82 L209.50,122.55 L210.00,122.44 L210.50,122.31 L211.00,121.93 L211.50,121.82 L212.00,121.75 L212.50,121.99 L213.00,121.52 L213.50,121.51 L214.00,121.20 L214.50,120.73 L215.00,121.21 L215.50,121.28 L216.00,121.53 L216.50,122.21 L217.00,122.70 L217.50,122.59 L218.00,122.67 L218.50,122.48 L219.00,122.43 L219.50,121.93 L220.00,122.31 L220.50,122.35 L221.00,122.66 L221.50,123.14 L222.00,122.57 L222.50,122.45 L223.00,122.22" stroke="#8e8e8e" stroke-width="0.42" fill="none"/>
<path d="M184.00,121.62 L184.50,121.10 L185.00,121.50 L185.50,121.36 L186.00,121.76 L186.50,121.52 L187.00,121.39 L187.50,121.74 L188.00,122.06 L188.50,122.05 L189.00,121.76 L189.50,122.26 L190.00,123.07 L190.50,123.47 L191.00,122.92 L191.50,122.84 L192.00,122.71 L192.50,123.00 L193.00,122.65 L193.50,122.41 L194.00,122.96 L194.50,122.49 L195.00,122.39 L195.50,122.27 L196.00,122.90 L196.50,122.69 L197.00,122.84 L197.50,122.23 L198.00,122.17 L198.50,121.39 L199.00,119.94 L199.50,118.87 L200.00,117.63 L200.50,116.41 L201.00,115.16 L201.50,115.39 L202.00,115.29 L202.50,115.46 L203.00,116.18 L203.50,117.04 L204.00,117.58 L204.50,118.99 L205.00,119.26 L205.50,120.35 L206.00,120.19 L206.50,120.11 L207.00,120.80 L207.50,120.27 L208.00,120.25 L208.50,120.28 L209.00,120.70 L209.50,121.24 L210.00,121.46 L210.50,121.61 L211.00,122.01 L211.50,122.33 L212.00,121.70 L212.50,121.99 L213.00,121.71 L213.50,122.69 L214.00,122.98 L214.50,122.53 L215.00,123.05 L215.50,122.50 L216.00,122.56 L216.50,121.99 L217.00,121.84 L217.50,121.92 L218.00,121.44 L218.50,121.73 L219.00,122.12 L219.50,122.62 L220.00,122.84 L220.50,122.78 L221.00,122.88 L221.50,122.40 L222.00,122.11 L222.50,122.53 L223.00,122.00" stroke="#8e8e8e" stroke-width="0.42" fill="none"/>
<path d="M184.00,121.65 L184.50,121.64 L185.00,121.48 L185.50,122.02 L186.00,122.43 L186.50,122.44 L187.00,122.31 L187.50,122.47 L188.00,122.95 L188.50,122.50 L189.00,122.67 L189.50,121.80 L190.00,121.64 L190.50,121.96 L191.00,122.12 L191.50,121.91 L192.00,122.65 L192.50,123.50 L193.00,124.61 L193.50,125.58 L194.00,126.91 L194.50,128.38 L195.00,129.96 L195.50,131.11 L196.00,131.62 L196.50,131.72 L197.00,131.22 L197.50,129.76 L198.00,128.41 L198.50,125.86 L199.00,124.94 L199.50,122.63 L200.00,120.48 L200.50,118.51 L201.00,116.58 L201.50,114.39 L202.00,111.97 L202.50,110.89 L203.00,110.56 L203.50,112.10 L204.00,113.87 L204.50,115.34 L205.00,117.41 L205.50,119.36 L206.00,120.16 L206.50,121.04 L207.00,120.76 L207.50,120.88 L208.00,121.35 L208.50,121.38 L209.00,121.02 L209.50,120.79 L210.00,121.20 L210.50,121.39 L211.00,121.42 L211.50,121.58 L212.00,121.41 L212.50,121.28 L213.00,121.07 L213.50,120.75 L214.00,121.01 L214.50,120.54 L215.00,121.35 L215.50,121.64 L216.00,121.61 L216.50,122.25 L217.00,122.86 L217.50,122.85 L218.00,122.30 L218.50,122.28 L219.00,122.22 L219.50,121.94 L220.00,121.42 L220.50,121.19 L221.00,121.38 L221.50,121.41 L222.00,121.82 L222.50,121.40 L223.00,121.71" stroke="#8e8e8e" stroke-width="0.42" fill="none"/>
<path d="M184.00,122.68 L184.50,122.96 L185.00,123.10 L185.50,123.37 L186.00,123.88 L186.50,124.43 L187.00,124.39 L187.50,124.22 L188.00,124.75 L188.50,124.96 L189.00,124.83 L189.50,124.97 L190.00,125.44 L190.50,125.24 L191.00,125.01 L191.50,124.40 L192.00,124.24 L192.50,124.42 L193.00,124.54 L193.50,124.21 L194.00,123.81 L194.50,124.47 L195.00,124.76 L195.50,124.16 L196.00,124.58 L196.50,124.12 L197.00,123.53 L197.50,123.09 L198.00,122.05 L198.50,121.02 L199.00,120.62 L199.50,119.06 L200.00,117.24 L200.50,115.19 L201.00,112.53 L201.50,110.00 L202.00,108.58 L202.50,108.76 L203.00,109.75 L203.50,111.44 L204.00,114.48 L204.50,117.20 L205.00,118.59 L205.50,120.15 L206.00,121.90 L206.50,121.79 L207.00,121.53 L207.50,121.89 L208.00,121.68 L208.50,121.12 L209.00,121.74 L209.50,121.69 L210.00,121.87 L210.50,122.30 L211.00,122.32 L211.50,121.93 L212.00,122.69 L212.50,122.82 L213.00,122.53 L213.50,122.02 L214.00,121.05 L214.50,120.74 L215.00,119.59 L215.50,119.70 L216.00,118.66 L216.50,119.15 L217.00,119.25 L217.50,119.61 L218.00,120.61 L218.50,121.16 L219.00,121.73 L219.50,121.47 L220.00,121.53 L220.50,121.49 L221.00,121.65 L221.50,121.99 L222.00,121.92 L222.50,121.57 L223.00,121.66" stroke="#8e8e8e" stroke-width="0.42" fill="none"/>
<path d="M184.00,122.01 L184.50,122.00 L185.00,122.19 L185.50,122.77 L186.00,122.26 L186.50,121.86 L187.00,122.15 L187.50,122.14 L188.00,122.13 L188.50,121.26 L189.00,121.37 L189.50,121.94 L190.00,122.34 L190.50,122.66 L191.00,123.10 L191.50,123.59 L192.00,124.44 L192.50,125.66 L193.00,126.27 L193.50,128.02 L194.00,128.50 L194.50,129.45 L195.00,129.60 L195.50,128.61 L196.00,127.41 L196.50,126.15 L197.00,124.90 L197.50,122.72 L198.00,120.92 L198.50,118.92 L199.00,116.34 L199.50,113.90 L200.00,111.39 L200.50,109.56 L201.00,108.51 L201.50,108.68 L202.00,110.49 L202.50,112.83 L203.00,115.42 L203.50,117.52 L204.00,119.68 L204.50,121.58 L205.00,122.17 L205.50,122.42 L206.00,122.24 L206.50,122.22 L207.00,122.04 L207.50,122.46 L208.00,122.55 L208.50,121.39 L209.00,121.51 L209.50,121.40 L210.00,121.79 L210.50,121.39 L211.00,120.92 L211.50,120.74 L212.00,121.13 L212.50,121.10 L213.00,121.45 L213.50,122.15 L214.00,121.66 L214.50,121.51 L215.00,121.64 L215.50,121.94 L216.00,121.63 L216.50,121.66 L217.00,121.32 L217.50,121.92 L218.00,122.18 L218.50,122.75 L219.00,123.07 L219.50,122.97 L220.00,123.02 L220.50,123.02 L221.00,122.78 L221.50,122.50 L222.00,122.23 L222.50,122.24 L223.00,122.23" stroke="#8e8e8e" stroke-width="0.42" fill="none"/>
<path d="M184.00,121.89 L184.50,121.63 L185.00,122.26 L185.50,122.84 L186.00,122.00 L186.50,121.59 L187.00,122.27 L187.50,122.24 L188.00,122.11 L188.50,121.90 L189.00,121.83 L189.50,122.16 L190.00,122.27 L190.50,122.12 L191.00,121.85 L191.50,121.67 L192.00,122.08 L192.50,121.89 L193.00,121.89 L193.50,122.02 L194.00,122.21 L194.50,121.95 L195.00,123.23 L195.50,123.65 L196.00,124.36 L196.50,123.98 L197.00,123.44 L197.50,123.38 L198.00,122.78 L198.50,121.56 L199.00,120.80 L199.50,118.44 L200.00,115.75 L200.50,114.32 L201.00,112.51 L201.50,110.68 L202.00,110.69 L202.50,110.86 L203.00,112.00 L203.50,113.74 L204.00,115.71 L204.50,118.22 L205.00,119.34 L205.50,120.16 L206.00,120.59 L206.50,121.21 L207.00,121.29 L207.50,121.69 L208.00,122.40 L208.50,123.03 L209.00,122.60 L209.50,122.21 L210.00,121.55 L210.50,121.19 L211.00,121.52 L211.50,121.19 L212.00,121.65 L212.50,122.21 L213.00,122.75 L213.50,123.27 L214.00,123.86 L214.50,124.01 L215.00,125.08 L215.50,125.25 L216.00,124.57 L216.50,124.11 L217.00,123.53 L217.50,123.31 L218.00,123.02 L218.50,122.98 L219.00,122.72 L219.50,122.95 L220.00,122.61 L220.50,122.44 L221.00,122.43 L221.50,122.33 L222.00,122.21 L222.50,122.33 L223.00,122.45" stroke="#8e8e8e" stroke-width="0.42" fill="none"/>
<path d="M184.00,122.77 L184.50,122.88 L185.00,123.98 L185.50,124.79 L186.00,124.93 L186.50,124.99 L187.00,125.66 L187.50,125.54 L188.00,124.94 L188.50,124.64 L189.00,124.45 L189.50,124.40 L190.00,123.90 L190.50,123.99 L191.00,123.49 L191.50,123.82 L192.00,123.64 L192.50,122.64 L193.00,122.11 L193.50,122.12 L194.00,121.76 L194.50,121.90 L195.00,123.32 L195.50,123.91 L196.00,124.54 L196.50,125.26 L197.00,125.59 L197.50,125.28 L198.00,124.78 L198.50,123.37 L199.00,122.56 L199.50,121.67 L200.00,120.24 L200.50,119.07 L201.00,118.07 L201.50,117.20 L202.00,116.36 L202.50,116.39 L203.00,116.33 L203.50,116.69 L204.00,117.24 L204.50,118.35 L205.00,119.00 L205.50,120.29 L206.00,120.37 L206.50,120.57 L207.00,120.95 L207.50,121.11 L208.00,120.87 L208.50,121.84 L209.00,121.66 L209.50,121.13 L210.00,121.25 L210.50,121.95 L211.00,122.38 L211.50,122.21 L212.00,122.07 L212.50,122.69 L213.00,122.54 L213.50,122.47 L214.00,121.82 L214.50,121.51 L215.00,121.58 L215.50,120.67 L216.00,120.73 L216.50,120.63 L217.00,120.59 L217.50,120.74 L218.00,121.06 L218.50,121.68 L219.00,121.26 L219.50,121.77 L220.00,121.66 L220.50,121.67 L221.00,121.83 L221.50,121.82 L222.00,122.14 L222.50,121.83 L223.00,122.03" stroke="#8e8e8e" stroke-width="0.42" fill="none"/>
<path d="M184.00,121.77 L184.50,121.59 L185.00,121.67 L185.50,120.97 L186.00,120.01 L186.50,120.07 L187.00,120.79 L187.50,120.34 L188.00,120.13 L188.50,120.25 L189.00,119.86 L189.50,120.05 L190.00,119.95 L190.50,119.91 L191.00,119.73 L191.50,120.14 L192.00,120.75 L192.50,121.61 L193.00,121.83 L193.50,121.91 L194.00,122.55 L194.50,123.43 L195.00,123.45 L195.50,123.88 L196.00,124.59 L196.50,124.20 L197.00,122.39 L197.50,120.57 L198.00,118.07 L198.50,115.68 L199.00,114.97 L199.50,113.79 L200.00,113.29 L200.50,114.00 L201.00,114.79 L201.50,116.94 L202.00,118.51 L202.50,119.61 L203.00,120.72 L203.50,121.52 L204.00,122.00 L204.50,121.50 L205.00,121.58 L205.50,122.51 L206.00,122.34 L206.50,122.23 L207.00,121.96 L207.50,122.26 L208.00,122.16 L208.50,121.98 L209.00,122.46 L209.50,122.16 L210.00,122.61 L210.50,122.89 L211.00,123.14 L211.50,123.58 L212.00,123.63 L212.50,123.68 L213.00,124.31 L213.50,124.14 L214.00,124.20 L214.50,123.92 L215.00,123.46 L215.50,123.49 L216.00,122.87 L216.50,123.03 L217.00,123.21 L217.50,123.21 L218.00,122.90 L218.50,122.23 L219.00,121.97 L219.50,122.89 L220.00,122.33 L220.50,122.53 L221.00,122.50 L221.50,122.48 L222.00,122.00 L222.50,121.51 L223.00,121.54" stroke="#8e8e8e" stroke-width="0.42" fill="none"/>
<line x1="205.00" y1="122.10" x2="222.50" y2="122.10" stroke="#777" stroke-width="0.5" stroke-dasharray="1.5 1.2"/>
<path d="M184.00,121.80 L184.50,121.80 L185.00,121.80 L185.50,121.80 L186.00,121.80 L186.50,121.80 L187.00,121.80 L187.50,121.80 L188.00,121.80 L188.50,121.80 L189.00,121.80 L189.50,121.80 L190.00,121.80 L190.50,121.81 L191.00,121.83 L191.50,121.86 L192.00,121.93 L192.50,122.05 L193.00,122.25 L193.50,122.55 L194.00,122.94 L194.50,123.42 L195.00,123.91 L195.50,124.35 L196.00,124.63 L196.50,124.67 L197.00,124.40 L197.50,123.78 L198.00,122.82 L198.50,121.52 L199.00,119.90 L199.50,118.04 L200.00,116.07 L200.50,114.20 L201.00,112.69 L201.50,111.81 L202.00,111.70 L202.50,112.37 L203.00,113.67 L203.50,115.35 L204.00,117.13 L204.50,118.78 L205.00,120.15 L205.50,121.19 L206.00,121.88 L206.50,122.26 L207.00,122.39 L207.50,122.35 L208.00,122.22 L208.50,122.08 L209.00,121.96 L209.50,121.88 L210.00,121.83 L210.50,121.81 L211.00,121.80 L211.50,121.80 L212.00,121.80 L212.50,121.80 L213.00,121.80 L213.50,121.80 L214.00,121.80 L214.50,121.80 L215.00,121.80 L215.50,121.80 L216.00,121.80 L216.50,121.80 L217.00,121.80 L217.50,121.80 L218.00,121.80 L218.50,121.80 L219.00,121.80 L219.50,121.80 L220.00,121.80 L220.50,121.80 L221.00,121.80 L221.50,121.80 L222.00,121.80 L222.50,121.80 L223.00,121.80" stroke="#111" stroke-width="1.1" fill="none" stroke-linejoin="round"/>
<path d="M184.00,144.99 L184.50,144.47 L185.00,143.82 L185.50,143.83 L186.00,143.35 L186.50,143.87 L187.00,144.07 L187.50,144.35 L188.00,144.67 L188.50,145.39 L189.00,145.83 L189.50,145.68 L190.00,146.10 L190.50,146.14 L191.00,146.53 L191.50,146.41 L192.00,147.01 L192.50,148.28 L193.00,148.57 L193.50,149.71 L194.00,149.82 L194.50,149.25 L195.00,148.54 L195.50,147.86 L196.00,145.53 L196.50,143.35 L197.00,142.10 L197.50,140.42 L198.00,139.43 L198.50,138.14 L199.00,138.43 L199.50,138.37 L200.00,139.27 L200.50,140.86 L201.00,141.55 L201.50,142.57 L202.00,144.43 L202.50,145.51 L203.00,146.15 L203.50,146.64 L204.00,146.79 L204.50,147.15 L205.00,146.48 L205.50,146.83 L206.00,146.68 L206.50,146.44 L207.00,146.49 L207.50,145.86 L208.00,146.21 L208.50,146.07 L209.00,146.89 L209.50,146.72 L210.00,147.34 L210.50,147.52 L211.00,148.11 L211.50,147.77 L212.00,147.43 L212.50,146.45 L213.00,145.88 L213.50,145.57 L214.00,145.05 L214.50,144.92 L215.00,144.66 L215.50,144.60 L216.00,145.00 L216.50,145.15 L217.00,145.42 L217.50,145.71 L218.00,146.32 L218.50,146.18 L219.00,146.15 L219.50,146.10 L220.00,146.11 L220.50,146.35 L221.00,146.46 L221.50,146.70 L222.00,146.04 L222.50,145.81 L223.00,145.82" stroke="#8e8e8e" stroke-width="0.42" fill="none"/>
<path d="M184.00,147.03 L184.50,146.85 L185.00,147.00 L185.50,147.45 L186.00,147.43 L186.50,147.71 L187.00,148.01 L187.50,147.93 L188.00,147.27 L188.50,146.74 L189.00,146.54 L189.50,146.95 L190.00,147.84 L190.50,147.81 L191.00,147.48 L191.50,147.72 L192.00,147.77 L192.50,147.20 L193.00,147.21 L193.50,146.82 L194.00,146.06 L194.50,145.31 L195.00,144.55 L195.50,143.28 L196.00,141.86 L196.50,139.76 L197.00,137.92 L197.50,136.99 L198.00,136.56 L198.50,136.85 L199.00,137.45 L199.50,138.06 L200.00,139.22 L200.50,141.56 L201.00,143.24 L201.50,145.43 L202.00,146.84 L202.50,147.42 L203.00,148.24 L203.50,149.06 L204.00,149.92 L204.50,149.86 L205.00,150.12 L205.50,150.16 L206.00,149.49 L206.50,149.11 L207.00,148.83 L207.50,147.81 L208.00,147.92 L208.50,147.76 L209.00,147.22 L209.50,146.86 L210.00,146.69 L210.50,146.43 L211.00,146.56 L211.50,146.96 L212.00,146.85 L212.50,146.68 L213.00,147.19 L213.50,147.19 L214.00,147.32 L214.50,146.64 L215.00,146.93 L215.50,146.75 L216.00,147.01 L216.50,146.89 L217.00,147.38 L217.50,147.25 L218.00,147.63 L218.50,147.40 L219.00,147.32 L219.50,146.97 L220.00,147.56 L220.50,147.59 L221.00,148.04 L221.50,148.19 L222.00,148.14 L222.50,147.46 L223.00,147.61" stroke="#8e8e8e" stroke-width="0.42" fill="none"/>
<path d="M184.00,147.11 L184.50,147.16 L185.00,147.40 L185.50,147.27 L186.00,147.37 L186.50,146.99 L187.00,147.79 L187.50,147.89 L188.00,147.29 L188.50,148.03 L189.00,147.61 L189.50,147.58 L190.00,147.53 L190.50,147.21 L191.00,147.53 L191.50,147.44 L192.00,147.19 L192.50,146.63 L193.00,145.57 L193.50,145.03 L194.00,145.01 L194.50,144.31 L195.00,143.37 L195.50,142.35 L196.00,141.23 L196.50,140.48 L197.00,139.46 L197.50,138.70 L198.00,138.08 L198.50,138.11 L199.00,138.07 L199.50,138.02 L200.00,138.74 L200.50,139.49 L201.00,141.04 L201.50,140.87 L202.00,141.28 L202.50,140.88 L203.00,141.51 L203.50,141.82 L204.00,142.33 L204.50,142.34 L205.00,142.84 L205.50,142.28 L206.00,142.62 L206.50,142.92 L207.00,143.93 L207.50,144.38 L208.00,145.40 L208.50,145.38 L209.00,145.33 L209.50,146.78 L210.00,147.51 L210.50,148.67 L211.00,150.00 L211.50,150.98 L212.00,151.44 L212.50,151.27 L213.00,150.54 L213.50,150.38 L214.00,149.65 L214.50,148.56 L215.00,148.46 L215.50,148.38 L216.00,147.27 L216.50,146.50 L217.00,146.51 L217.50,147.11 L218.00,146.77 L218.50,146.28 L219.00,146.99 L219.50,146.33 L220.00,146.83 L220.50,146.56 L221.00,146.92 L221.50,147.10 L222.00,147.11 L222.50,147.44 L223.00,147.18" stroke="#8e8e8e" stroke-width="0.42" fill="none"/>
<path d="M184.00,146.93 L184.50,147.19 L185.00,147.06 L185.50,147.09 L186.00,147.01 L186.50,147.03 L187.00,147.12 L187.50,147.02 L188.00,146.53 L188.50,146.65 L189.00,146.03 L189.50,146.15 L190.00,146.14 L190.50,146.28 L191.00,146.61 L191.50,147.11 L192.00,147.24 L192.50,147.07 L193.00,147.83 L193.50,148.59 L194.00,148.32 L194.50,147.06 L195.00,146.45 L195.50,145.10 L196.00,143.32 L196.50,141.19 L197.00,140.70 L197.50,141.19 L198.00,141.21 L198.50,141.60 L199.00,142.60 L199.50,143.93 L200.00,144.90 L200.50,145.62 L201.00,146.24 L201.50,147.05 L202.00,147.14 L202.50,146.90 L203.00,147.54 L203.50,147.23 L204.00,145.77 L204.50,145.87 L205.00,145.89 L205.50,145.62 L206.00,145.27 L206.50,145.72 L207.00,145.59 L207.50,146.17 L208.00,146.42 L208.50,146.55 L209.00,147.33 L209.50,147.61 L210.00,146.97 L210.50,147.48 L211.00,147.83 L211.50,148.14 L212.00,148.98 L212.50,149.01 L213.00,149.13 L213.50,148.73 L214.00,148.20 L214.50,147.83 L215.00,147.59 L215.50,147.73 L216.00,147.67 L216.50,147.85 L217.00,147.84 L217.50,147.32 L218.00,146.53 L218.50,146.59 L219.00,147.06 L219.50,146.93 L220.00,146.66 L220.50,146.60 L221.00,147.00 L221.50,147.16 L222.00,146.84 L222.50,146.90 L223.00,146.72" stroke="#8e8e8e" stroke-width="0.42" fill="none"/>
<path d="M184.00,147.48 L184.50,147.16 L185.00,146.95 L185.50,147.24 L186.00,147.23 L186.50,147.16 L187.00,147.44 L187.50,147.01 L188.00,147.03 L188.50,147.38 L189.00,147.97 L189.50,148.28 L190.00,147.73 L190.50,147.69 L191.00,146.77 L191.50,145.94 L192.00,144.73 L192.50,143.66 L193.00,142.48 L193.50,141.84 L194.00,140.74 L194.50,140.06 L195.00,139.42 L195.50,139.29 L196.00,138.22 L196.50,138.10 L197.00,138.19 L197.50,138.30 L198.00,138.13 L198.50,138.13 L199.00,138.37 L199.50,138.71 L200.00,139.37 L200.50,140.36 L201.00,141.75 L201.50,142.31 L202.00,142.82 L202.50,143.53 L203.00,143.65 L203.50,143.92 L204.00,143.90 L204.50,144.38 L205.00,144.80 L205.50,145.33 L206.00,145.68 L206.50,145.81 L207.00,146.27 L207.50,146.32 L208.00,146.29 L208.50,146.58 L209.00,146.48 L209.50,145.66 L210.00,145.70 L210.50,145.12 L211.00,145.33 L211.50,146.35 L212.00,146.70 L212.50,145.84 L213.00,146.83 L213.50,146.78 L214.00,146.57 L214.50,146.68 L215.00,146.53 L215.50,146.06 L216.00,146.15 L216.50,146.38 L217.00,146.61 L217.50,146.81 L218.00,146.66 L218.50,146.75 L219.00,146.41 L219.50,146.76 L220.00,147.46 L220.50,147.18 L221.00,147.34 L221.50,148.11 L222.00,147.27 L222.50,146.75 L223.00,147.63" stroke="#8e8e8e" stroke-width="0.42" fill="none"/>
<path d="M184.00,147.23 L184.50,147.48 L185.00,147.14 L185.50,147.09 L186.00,147.25 L186.50,147.75 L187.00,147.62 L187.50,147.48 L188.00,147.08 L188.50,146.48 L189.00,146.68 L189.50,146.57 L190.00,146.16 L190.50,146.55 L191.00,146.52 L191.50,147.11 L192.00,147.05 L192.50,146.90 L193.00,147.59 L193.50,147.67 L194.00,148.37 L194.50,149.00 L195.00,148.64 L195.50,148.15 L196.00,147.37 L196.50,146.55 L197.00,144.52 L197.50,143.12 L198.00,141.22 L198.50,139.68 L199.00,138.64 L199.50,138.64 L200.00,139.19 L200.50,139.99 L201.00,141.05 L201.50,142.09 L202.00,143.64 L202.50,144.71 L203.00,145.32 L203.50,146.31 L204.00,146.86 L204.50,146.96 L205.00,147.40 L205.50,147.68 L206.00,148.07 L206.50,147.57 L207.00,147.65 L207.50,147.57 L208.00,147.86 L208.50,147.73 L209.00,147.42 L209.50,147.04 L210.00,147.04 L210.50,147.35 L211.00,147.42 L211.50,147.02 L212.00,146.65 L212.50,147.26 L213.00,147.19 L213.50,147.66 L214.00,147.28 L214.50,146.91 L215.00,146.21 L215.50,146.70 L216.00,146.22 L216.50,146.05 L217.00,146.20 L217.50,146.02 L218.00,145.69 L218.50,144.98 L219.00,145.44 L219.50,145.41 L220.00,146.03 L220.50,145.93 L221.00,146.59 L221.50,146.75 L222.00,146.71 L222.50,146.19 L223.00,146.72" stroke="#8e8e8e" stroke-width="0.42" fill="none"/>
<path d="M184.00,147.13 L184.50,147.48 L185.00,147.52 L185.50,146.70 L186.00,147.15 L186.50,146.46 L187.00,146.27 L187.50,145.72 L188.00,145.67 L188.50,146.01 L189.00,146.48 L189.50,146.90 L190.00,146.83 L190.50,147.47 L191.00,148.16 L191.50,147.70 L192.00,148.08 L192.50,147.89 L193.00,147.38 L193.50,146.82 L194.00,146.35 L194.50,145.79 L195.00,145.48 L195.50,144.86 L196.00,144.08 L196.50,143.11 L197.00,142.20 L197.50,141.64 L198.00,141.16 L198.50,140.57 L199.00,139.64 L199.50,139.99 L200.00,139.92 L200.50,139.87 L201.00,140.49 L201.50,141.51 L202.00,142.35 L202.50,143.14 L203.00,143.52 L203.50,144.51 L204.00,145.03 L204.50,145.50 L205.00,146.16 L205.50,146.85 L206.00,146.80 L206.50,146.91 L207.00,147.11 L207.50,147.07 L208.00,147.05 L208.50,147.19 L209.00,147.00 L209.50,147.06 L210.00,146.35 L210.50,146.37 L211.00,146.95 L211.50,146.81 L212.00,146.49 L212.50,145.98 L213.00,146.57 L213.50,146.65 L214.00,147.20 L214.50,147.68 L215.00,147.68 L215.50,148.06 L216.00,148.00 L216.50,147.98 L217.00,147.59 L217.50,147.21 L218.00,147.18 L218.50,146.87 L219.00,145.90 L219.50,145.62 L220.00,145.26 L220.50,144.85 L221.00,145.13 L221.50,145.54 L222.00,146.22 L222.50,146.54 L223.00,146.47" stroke="#8e8e8e" stroke-width="0.42" fill="none"/>
<path d="M184.00,147.15 L184.50,147.14 L185.00,146.78 L185.50,146.44 L186.00,146.97 L186.50,146.95 L187.00,147.62 L187.50,147.84 L188.00,148.51 L188.50,148.46 L189.00,147.85 L189.50,148.26 L190.00,147.66 L190.50,147.69 L191.00,147.32 L191.50,146.88 L192.00,147.01 L192.50,146.63 L193.00,146.96 L193.50,147.27 L194.00,146.97 L194.50,146.47 L195.00,145.87 L195.50,144.94 L196.00,143.86 L196.50,142.03 L197.00,140.51 L197.50,138.55 L198.00,137.09 L198.50,136.11 L199.00,135.88 L199.50,136.55 L200.00,137.22 L200.50,138.60 L201.00,140.48 L201.50,141.90 L202.00,143.09 L202.50,144.40 L203.00,145.57 L203.50,145.96 L204.00,146.38 L204.50,146.82 L205.00,146.87 L205.50,146.95 L206.00,147.07 L206.50,147.40 L207.00,147.84 L207.50,147.76 L208.00,147.65 L208.50,147.47 L209.00,148.23 L209.50,148.81 L210.00,148.37 L210.50,148.42 L211.00,148.33 L211.50,147.95 L212.00,148.41 L212.50,148.31 L213.00,148.47 L213.50,149.10 L214.00,148.71 L214.50,148.00 L215.00,147.23 L215.50,147.72 L216.00,147.73 L216.50,147.31 L217.00,147.08 L217.50,146.99 L218.00,147.57 L218.50,148.05 L219.00,147.66 L219.50,148.09 L220.00,148.07 L220.50,147.75 L221.00,147.80 L221.50,148.03 L222.00,147.94 L222.50,147.69 L223.00,147.85" stroke="#8e8e8e" stroke-width="0.42" fill="none"/>
<line x1="205.00" y1="147.30" x2="222.50" y2="147.30" stroke="#777" stroke-width="0.5" stroke-dasharray="1.5 1.2"/>
<path d="M184.00,147.00 L184.50,147.00 L185.00,147.00 L185.50,147.00 L186.00,147.00 L186.50,147.00 L187.00,147.00 L187.50,147.00 L188.00,147.00 L188.50,147.00 L189.00,147.01 L189.50,147.01 L190.00,147.04 L190.50,147.08 L191.00,147.17 L191.50,147.32 L192.00,147.53 L192.50,147.79 L193.00,148.02 L193.50,148.13 L194.00,147.98 L194.50,147.48 L195.00,146.56 L195.50,145.26 L196.00,143.70 L196.50,142.05 L197.00,140.52 L197.50,139.26 L198.00,138.43 L198.50,138.10 L199.00,138.28 L199.50,138.93 L200.00,139.93 L200.50,141.15 L201.00,142.46 L201.50,143.72 L202.00,144.85 L202.50,145.77 L203.00,146.46 L203.50,146.92 L204.00,147.18 L204.50,147.28 L205.00,147.27 L205.50,147.22 L206.00,147.15 L206.50,147.09 L207.00,147.05 L207.50,147.02 L208.00,147.01 L208.50,147.00 L209.00,147.00 L209.50,147.00 L210.00,147.00 L210.50,147.00 L211.00,147.00 L211.50,147.00 L212.00,147.00 L212.50,147.00 L213.00,147.00 L213.50,147.00 L214.00,147.00 L214.50,147.00 L215.00,147.00 L215.50,147.00 L216.00,147.00 L216.50,147.00 L217.00,147.00 L217.50,147.00 L218.00,147.00 L218.50,147.00 L219.00,147.00 L219.50,147.00 L220.00,147.00 L220.50,147.00 L221.00,147.00 L221.50,147.00 L222.00,147.00 L222.50,147.00 L223.00,147.00" stroke="#111" stroke-width="1.1" fill="none" stroke-linejoin="round"/>
<line x1="186.90" y1="26.80" x2="193.70" y2="26.80" stroke="#000" stroke-width="0.9"/>
<text x="191.30" y="32.20" font-size="5.6" fill="#000" stroke="#000" stroke-width="0.1" text-anchor="middle" font-family="'Liberation Sans', Arial, sans-serif">100 ms</text>
<line x1="224.40" y1="9.00" x2="224.40" y2="157.00" stroke="#b0b0b0" stroke-width="0.9"/>
<line x1="224.40" y1="10.50" x2="224.40" y2="30.50" stroke="#888" stroke-width="0.9" stroke-dasharray="1.2 0.8"/>
<circle cx="224.4" cy="9.4" r="0.8" fill="#000"/>
<text x="227.30" y="20.30" font-size="5.1" fill="#444" stroke="#444" stroke-width="0.1" text-anchor="middle" font-family="'Liberation Sans', Arial, sans-serif" transform="rotate(90 227.30 20.30)">Filter unit</text>
<text x="0.20" y="109.10" font-size="7.2" fill="#000" text-anchor="start" font-weight="bold" font-family="'Liberation Sans', Arial, sans-serif">C</text>
<text x="12.00" y="129.20" font-size="5.3" fill="#000" stroke="#000" stroke-width="0.1" text-anchor="middle" font-family="'Liberation Sans', Arial, sans-serif" transform="rotate(-90 12.00 129.20)">Groups</text>
<text x="14.20" y="151.90" font-size="5.6" fill="#000" stroke="#000" stroke-width="0.1" text-anchor="start" font-family="'Liberation Sans', Arial, sans-serif">#1</text>
<text x="14.20" y="143.70" font-size="5.6" fill="#000" stroke="#000" stroke-width="0.1" text-anchor="start" font-family="'Liberation Sans', Arial, sans-serif">#2</text>
<text x="14.20" y="135.20" font-size="5.6" fill="#000" stroke="#000" stroke-width="0.1" text-anchor="start" font-family="'Liberation Sans', Arial, sans-serif">#3</text>
<text x="14.20" y="127.40" font-size="5.6" fill="#000" stroke="#000" stroke-width="0.1" text-anchor="start" font-family="'Liberation Sans', Arial, sans-serif">#4</text>
<text x="14.20" y="119.20" font-size="5.6" fill="#000" stroke="#000" stroke-width="0.1" text-anchor="start" font-family="'Liberation Sans', Arial, sans-serif">#5</text>
<text x="14.20" y="111.60" font-size="5.6" fill="#000" stroke="#000" stroke-width="0.1" text-anchor="start" font-family="'Liberation Sans', Arial, sans-serif">#6</text>
<line x1="23.10" y1="153.40" x2="75.70" y2="153.40" stroke="#000" stroke-width="0.6"/>
<line x1="26.60" y1="153.40" x2="26.60" y2="154.60" stroke="#000" stroke-width="0.5"/>
<line x1="45.90" y1="153.40" x2="45.90" y2="154.60" stroke="#000" stroke-width="0.5"/>
<line x1="65.70" y1="153.40" x2="65.70" y2="154.60" stroke="#000" stroke-width="0.5"/>
<text x="26.10" y="159.60" font-size="5.1" fill="#000" stroke="#000" stroke-width="0.1" text-anchor="middle" font-family="'Liberation Sans', Arial, sans-serif">100</text>
<text x="45.30" y="159.60" font-size="5.1" fill="#000" stroke="#000" stroke-width="0.1" text-anchor="middle" font-family="'Liberation Sans', Arial, sans-serif">200</text>
<text x="65.80" y="159.60" font-size="5.1" fill="#000" stroke="#000" stroke-width="0.1" text-anchor="middle" font-family="'Liberation Sans', Arial, sans-serif">300</text>
<text x="47.20" y="165.30" font-size="5.3" fill="#000" stroke="#000" stroke-width="0.1" text-anchor="middle" font-family="'Liberation Sans', Arial, sans-serif">Peak time (ms)</text>
<rect x="24.00" y="146.40" width="6.10" height="6.60" fill="#0000ff" stroke="none" stroke-width="0.6"/>
<line x1="30.00" y1="152.40" x2="36.30" y2="152.40" stroke="#2020a0" stroke-width="0.7"/>
<rect x="30.20" y="138.20" width="5.80" height="6.40" fill="#b000c0" stroke="none" stroke-width="0.6"/>
<line x1="36.00" y1="144.20" x2="42.60" y2="144.20" stroke="#e080e0" stroke-width="0.7"/>
<rect x="42.30" y="129.10" width="6.00" height="6.90" fill="#e07a1a" stroke="none" stroke-width="0.6"/>
<line x1="48.30" y1="135.60" x2="54.50" y2="135.60" stroke="#f0b080" stroke-width="0.6"/>
<rect x="42.60" y="120.90" width="5.50" height="6.60" fill="#00ff00" stroke="none" stroke-width="0.6"/>
<rect x="36.00" y="124.70" width="18.50" height="2.80" fill="#00ff00" stroke="none" stroke-width="0.6"/>
<rect x="55.00" y="113.00" width="6.00" height="6.20" fill="#ff0000" stroke="none" stroke-width="0.6"/>
<rect x="61.00" y="116.90" width="5.90" height="2.30" fill="#ee0000" stroke="none" stroke-width="0.6"/>
<line x1="42.20" y1="119.00" x2="55.00" y2="119.00" stroke="#c03030" stroke-width="0.6"/>
<rect x="61.00" y="105.50" width="5.50" height="5.80" fill="#ee82ee" stroke="none" stroke-width="0.6"/>
<rect x="66.50" y="109.60" width="5.90" height="1.70" fill="#ee82ee" stroke="none" stroke-width="0.6"/>
<line x1="74.70" y1="107.20" x2="74.70" y2="149.50" stroke="#666" stroke-width="1.1" stroke-dasharray="3.3 3.6"/>
<text x="78.30" y="146.50" font-size="4.2" fill="#666" stroke="#666" stroke-width="0.1" text-anchor="middle" font-family="'Liberation Sans', Arial, sans-serif" transform="rotate(-90 78.30 146.50)">0.5 s</text>
<text x="83.80" y="109.10" font-size="7.2" fill="#000" text-anchor="start" font-weight="bold" font-family="'Liberation Sans', Arial, sans-serif">D</text>
<line x1="100.20" y1="121.20" x2="100.20" y2="153.20" stroke="#000" stroke-width="0.6"/>
<line x1="100.20" y1="153.20" x2="148.00" y2="153.20" stroke="#000" stroke-width="0.6"/>
<line x1="100.20" y1="130.80" x2="101.30" y2="130.80" stroke="#000" stroke-width="0.5"/>
<line x1="100.20" y1="141.80" x2="101.30" y2="141.80" stroke="#000" stroke-width="0.5"/>
<line x1="100.20" y1="152.40" x2="101.30" y2="152.40" stroke="#000" stroke-width="0.5"/>
<text x="98.70" y="132.80" font-size="5.6" fill="#000" stroke="#000" stroke-width="0.1" text-anchor="end" font-family="'Liberation Sans', Arial, sans-serif">2</text>
<text x="98.70" y="143.80" font-size="5.6" fill="#000" stroke="#000" stroke-width="0.1" text-anchor="end" font-family="'Liberation Sans', Arial, sans-serif">1</text>
<text x="98.70" y="154.60" font-size="5.6" fill="#000" stroke="#000" stroke-width="0.1" text-anchor="end" font-family="'Liberation Sans', Arial, sans-serif">0</text>
<line x1="107.30" y1="153.20" x2="107.30" y2="154.30" stroke="#000" stroke-width="0.5"/>
<text x="107.30" y="158.70" font-size="5.2" fill="#000" stroke="#000" stroke-width="0.1" text-anchor="middle" font-family="'Liberation Sans', Arial, sans-serif">1</text>
<line x1="114.50" y1="153.20" x2="114.50" y2="154.30" stroke="#000" stroke-width="0.5"/>
<text x="114.50" y="158.70" font-size="5.2" fill="#000" stroke="#000" stroke-width="0.1" text-anchor="middle" font-family="'Liberation Sans', Arial, sans-serif">2</text>
<line x1="121.60" y1="153.20" x2="121.60" y2="154.30" stroke="#000" stroke-width="0.5"/>
<text x="121.60" y="158.70" font-size="5.2" fill="#000" stroke="#000" stroke-width="0.1" text-anchor="middle" font-family="'Liberation Sans', Arial, sans-serif">3</text>
<line x1="128.80" y1="153.20" x2="128.80" y2="154.30" stroke="#000" stroke-width="0.5"/>
<text x="128.80" y="158.70" font-size="5.2" fill="#000" stroke="#000" stroke-width="0.1" text-anchor="middle" font-family="'Liberation Sans', Arial, sans-serif">4</text>
<line x1="136.20" y1="153.20" x2="136.20" y2="154.30" stroke="#000" stroke-width="0.5"/>
<text x="136.20" y="158.70" font-size="5.2" fill="#000" stroke="#000" stroke-width="0.1" text-anchor="middle" font-family="'Liberation Sans', Arial, sans-serif">5</text>
<line x1="143.40" y1="153.20" x2="143.40" y2="154.30" stroke="#000" stroke-width="0.5"/>
<text x="143.40" y="158.70" font-size="5.2" fill="#000" stroke="#000" stroke-width="0.1" text-anchor="middle" font-family="'Liberation Sans', Arial, sans-serif">6</text>
<text x="126.20" y="164.30" font-size="5.4" fill="#000" stroke="#000" stroke-width="0.1" text-anchor="middle" font-family="'Liberation Sans', Arial, sans-serif"># Groups</text>
<text x="92.00" y="139.00" font-size="5.4" fill="#000" stroke="#000" stroke-width="0.1" text-anchor="middle" font-family="'Liberation Sans', Arial, sans-serif" transform="rotate(-90 92.00 139.00)">Filter area (a.u.)</text>
<line x1="107.20" y1="139.70" x2="107.20" y2="142.50" stroke="#4848e8" stroke-width="0.6" stroke-dasharray="1 0.6"/>
<line x1="107.20" y1="146.60" x2="107.20" y2="149.30" stroke="#4848e8" stroke-width="0.6" stroke-dasharray="1 0.6"/>
<line x1="106.00" y1="139.70" x2="108.40" y2="139.70" stroke="#4848e8" stroke-width="0.5"/>
<line x1="106.00" y1="149.30" x2="108.40" y2="149.30" stroke="#4848e8" stroke-width="0.5"/>
<rect x="104.30" y="142.50" width="5.80" height="4.10" fill="none" stroke="#4848e8" stroke-width="0.75"/>
<line x1="104.30" y1="144.55" x2="110.10" y2="144.55" stroke="#4848e8" stroke-width="0.6"/>
<circle cx="105.90" cy="146.47" r="0.65" fill="#4848e8" opacity="0.85"/>
<circle cx="105.94" cy="147.43" r="0.65" fill="#4848e8" opacity="0.85"/>
<circle cx="107.04" cy="141.49" r="0.65" fill="#4848e8" opacity="0.85"/>
<circle cx="104.72" cy="144.33" r="0.65" fill="#4848e8" opacity="0.85"/>
<circle cx="108.69" cy="147.16" r="0.65" fill="#4848e8" opacity="0.85"/>
<circle cx="106.65" cy="142.04" r="0.65" fill="#4848e8" opacity="0.85"/>
<circle cx="106.39" cy="144.83" r="0.65" fill="#4848e8" opacity="0.85"/>
<circle cx="107.36" cy="145.03" r="0.65" fill="#4848e8" opacity="0.85"/>
<circle cx="107.97" cy="143.12" r="0.65" fill="#4848e8" opacity="0.85"/>
<circle cx="107.26" cy="147.26" r="0.65" fill="#4848e8" opacity="0.85"/>
<circle cx="107.26" cy="146.48" r="0.65" fill="#4848e8" opacity="0.85"/>
<circle cx="106.55" cy="142.20" r="0.65" fill="#4848e8" opacity="0.85"/>
<circle cx="106.78" cy="141.31" r="0.65" fill="#4848e8" opacity="0.85"/>
<circle cx="106.81" cy="146.96" r="0.65" fill="#4848e8" opacity="0.85"/>
<circle cx="107.39" cy="147.69" r="0.65" fill="#4848e8" opacity="0.85"/>
<circle cx="107.94" cy="146.97" r="0.65" fill="#4848e8" opacity="0.85"/>
<circle cx="106.51" cy="144.80" r="0.65" fill="#4848e8" opacity="0.85"/>
<circle cx="109.92" cy="145.71" r="0.65" fill="#4848e8" opacity="0.85"/>
<line x1="114.60" y1="130.80" x2="114.60" y2="133.50" stroke="#d040d0" stroke-width="0.6" stroke-dasharray="1 0.6"/>
<line x1="114.60" y1="137.00" x2="114.60" y2="139.00" stroke="#d040d0" stroke-width="0.6" stroke-dasharray="1 0.6"/>
<line x1="113.40" y1="130.80" x2="115.80" y2="130.80" stroke="#d040d0" stroke-width="0.5"/>
<line x1="113.40" y1="139.00" x2="115.80" y2="139.00" stroke="#d040d0" stroke-width="0.5"/>
<rect x="112.20" y="133.50" width="4.80" height="3.50" fill="none" stroke="#d040d0" stroke-width="0.75"/>
<line x1="112.20" y1="135.25" x2="117.00" y2="135.25" stroke="#d040d0" stroke-width="0.6"/>
<circle cx="115.33" cy="136.37" r="0.65" fill="#d040d0" opacity="0.85"/>
<circle cx="117.11" cy="138.00" r="0.65" fill="#d040d0" opacity="0.85"/>
<circle cx="115.33" cy="134.43" r="0.65" fill="#d040d0" opacity="0.85"/>
<circle cx="114.03" cy="133.28" r="0.65" fill="#d040d0" opacity="0.85"/>
<circle cx="114.85" cy="134.08" r="0.65" fill="#d040d0" opacity="0.85"/>
<circle cx="114.92" cy="135.86" r="0.65" fill="#d040d0" opacity="0.85"/>
<circle cx="116.26" cy="134.29" r="0.65" fill="#d040d0" opacity="0.85"/>
<circle cx="114.64" cy="134.13" r="0.65" fill="#d040d0" opacity="0.85"/>
<circle cx="115.13" cy="134.16" r="0.65" fill="#d040d0" opacity="0.85"/>
<circle cx="113.46" cy="135.14" r="0.65" fill="#d040d0" opacity="0.85"/>
<circle cx="114.49" cy="138.05" r="0.65" fill="#d040d0" opacity="0.85"/>
<circle cx="114.24" cy="132.43" r="0.65" fill="#d040d0" opacity="0.85"/>
<circle cx="114.60" cy="132.41" r="0.65" fill="#d040d0" opacity="0.85"/>
<circle cx="112.48" cy="136.95" r="0.65" fill="#d040d0" opacity="0.85"/>
<circle cx="113.64" cy="132.35" r="0.65" fill="#d040d0" opacity="0.85"/>
<circle cx="115.68" cy="132.58" r="0.65" fill="#d040d0" opacity="0.85"/>
<circle cx="115.75" cy="133.46" r="0.65" fill="#d040d0" opacity="0.85"/>
<circle cx="117.09" cy="136.76" r="0.65" fill="#d040d0" opacity="0.85"/>
<line x1="121.75" y1="142.80" x2="121.75" y2="144.50" stroke="#e0a040" stroke-width="0.6" stroke-dasharray="1 0.6"/>
<line x1="121.75" y1="148.70" x2="121.75" y2="150.20" stroke="#e0a040" stroke-width="0.6" stroke-dasharray="1 0.6"/>
<line x1="120.55" y1="142.80" x2="122.95" y2="142.80" stroke="#e0a040" stroke-width="0.5"/>
<line x1="120.55" y1="150.20" x2="122.95" y2="150.20" stroke="#e0a040" stroke-width="0.5"/>
<rect x="119.00" y="144.50" width="5.50" height="4.20" fill="none" stroke="#e0a040" stroke-width="0.75"/>
<line x1="119.00" y1="146.60" x2="124.50" y2="146.60" stroke="#e0a040" stroke-width="0.6"/>
<circle cx="124.12" cy="145.57" r="0.65" fill="#e0a040" opacity="0.85"/>
<circle cx="120.63" cy="145.64" r="0.65" fill="#e0a040" opacity="0.85"/>
<circle cx="119.87" cy="144.01" r="0.65" fill="#e0a040" opacity="0.85"/>
<circle cx="121.46" cy="148.24" r="0.65" fill="#e0a040" opacity="0.85"/>
<circle cx="122.39" cy="143.54" r="0.65" fill="#e0a040" opacity="0.85"/>
<circle cx="119.67" cy="149.54" r="0.65" fill="#e0a040" opacity="0.85"/>
<circle cx="122.59" cy="147.33" r="0.65" fill="#e0a040" opacity="0.85"/>
<circle cx="122.29" cy="149.36" r="0.65" fill="#e0a040" opacity="0.85"/>
<circle cx="120.41" cy="146.90" r="0.65" fill="#e0a040" opacity="0.85"/>
<circle cx="123.86" cy="145.36" r="0.65" fill="#e0a040" opacity="0.85"/>
<circle cx="121.47" cy="143.82" r="0.65" fill="#e0a040" opacity="0.85"/>
<circle cx="122.38" cy="144.28" r="0.65" fill="#e0a040" opacity="0.85"/>
<circle cx="120.36" cy="144.37" r="0.65" fill="#e0a040" opacity="0.85"/>
<circle cx="118.30" cy="143.62" r="0.65" fill="#e0a040" opacity="0.85"/>
<circle cx="123.10" cy="145.98" r="0.65" fill="#e0a040" opacity="0.85"/>
<circle cx="121.64" cy="144.87" r="0.65" fill="#e0a040" opacity="0.85"/>
<circle cx="120.04" cy="146.31" r="0.65" fill="#e0a040" opacity="0.85"/>
<circle cx="120.60" cy="146.08" r="0.65" fill="#e0a040" opacity="0.85"/>
<line x1="128.85" y1="130.80" x2="128.85" y2="132.90" stroke="#30d040" stroke-width="0.6" stroke-dasharray="1 0.6"/>
<line x1="128.85" y1="138.40" x2="128.85" y2="140.40" stroke="#30d040" stroke-width="0.6" stroke-dasharray="1 0.6"/>
<line x1="127.65" y1="130.80" x2="130.05" y2="130.80" stroke="#30d040" stroke-width="0.5"/>
<line x1="127.65" y1="140.40" x2="130.05" y2="140.40" stroke="#30d040" stroke-width="0.5"/>
<rect x="126.30" y="132.90" width="5.10" height="5.50" fill="none" stroke="#30d040" stroke-width="0.75"/>
<line x1="126.30" y1="135.65" x2="131.40" y2="135.65" stroke="#30d040" stroke-width="0.6"/>
<circle cx="131.15" cy="131.96" r="0.65" fill="#30d040" opacity="0.85"/>
<circle cx="129.69" cy="135.60" r="0.65" fill="#30d040" opacity="0.85"/>
<circle cx="129.16" cy="137.48" r="0.65" fill="#30d040" opacity="0.85"/>
<circle cx="128.36" cy="139.20" r="0.65" fill="#30d040" opacity="0.85"/>
<circle cx="127.53" cy="132.54" r="0.65" fill="#30d040" opacity="0.85"/>
<circle cx="127.43" cy="135.13" r="0.65" fill="#30d040" opacity="0.85"/>
<circle cx="130.11" cy="134.03" r="0.65" fill="#30d040" opacity="0.85"/>
<circle cx="130.56" cy="135.28" r="0.65" fill="#30d040" opacity="0.85"/>
<circle cx="131.00" cy="139.41" r="0.65" fill="#30d040" opacity="0.85"/>
<circle cx="128.84" cy="135.28" r="0.65" fill="#30d040" opacity="0.85"/>
<circle cx="127.08" cy="135.48" r="0.65" fill="#30d040" opacity="0.85"/>
<circle cx="128.98" cy="134.00" r="0.65" fill="#30d040" opacity="0.85"/>
<circle cx="128.34" cy="134.68" r="0.65" fill="#30d040" opacity="0.85"/>
<circle cx="129.20" cy="139.51" r="0.65" fill="#30d040" opacity="0.85"/>
<circle cx="130.35" cy="135.64" r="0.65" fill="#30d040" opacity="0.85"/>
<circle cx="128.46" cy="134.37" r="0.65" fill="#30d040" opacity="0.85"/>
<circle cx="129.59" cy="137.88" r="0.65" fill="#30d040" opacity="0.85"/>
<circle cx="129.32" cy="138.55" r="0.65" fill="#30d040" opacity="0.85"/>
<line x1="136.20" y1="138.40" x2="136.20" y2="141.80" stroke="#f04040" stroke-width="0.6" stroke-dasharray="1 0.6"/>
<line x1="136.20" y1="145.90" x2="136.20" y2="148.00" stroke="#f04040" stroke-width="0.6" stroke-dasharray="1 0.6"/>
<line x1="135.00" y1="138.40" x2="137.40" y2="138.40" stroke="#f04040" stroke-width="0.5"/>
<line x1="135.00" y1="148.00" x2="137.40" y2="148.00" stroke="#f04040" stroke-width="0.5"/>
<rect x="133.70" y="141.80" width="5.00" height="4.10" fill="none" stroke="#f04040" stroke-width="0.75"/>
<line x1="133.70" y1="143.85" x2="138.70" y2="143.85" stroke="#f04040" stroke-width="0.6"/>
<circle cx="134.96" cy="145.64" r="0.65" fill="#f04040" opacity="0.85"/>
<circle cx="137.68" cy="145.11" r="0.65" fill="#f04040" opacity="0.85"/>
<circle cx="135.24" cy="142.96" r="0.65" fill="#f04040" opacity="0.85"/>
<circle cx="134.61" cy="145.18" r="0.65" fill="#f04040" opacity="0.85"/>
<circle cx="135.96" cy="145.60" r="0.65" fill="#f04040" opacity="0.85"/>
<circle cx="137.44" cy="145.09" r="0.65" fill="#f04040" opacity="0.85"/>
<circle cx="135.48" cy="144.82" r="0.65" fill="#f04040" opacity="0.85"/>
<circle cx="138.75" cy="144.37" r="0.65" fill="#f04040" opacity="0.85"/>
<circle cx="137.58" cy="142.23" r="0.65" fill="#f04040" opacity="0.85"/>
<circle cx="136.30" cy="144.97" r="0.65" fill="#f04040" opacity="0.85"/>
<circle cx="134.23" cy="144.81" r="0.65" fill="#f04040" opacity="0.85"/>
<circle cx="136.67" cy="145.78" r="0.65" fill="#f04040" opacity="0.85"/>
<circle cx="135.29" cy="145.40" r="0.65" fill="#f04040" opacity="0.85"/>
<circle cx="137.49" cy="145.98" r="0.65" fill="#f04040" opacity="0.85"/>
<circle cx="134.96" cy="146.25" r="0.65" fill="#f04040" opacity="0.85"/>
<circle cx="137.91" cy="145.07" r="0.65" fill="#f04040" opacity="0.85"/>
<circle cx="138.92" cy="143.97" r="0.65" fill="#f04040" opacity="0.85"/>
<circle cx="135.79" cy="144.04" r="0.65" fill="#f04040" opacity="0.85"/>
<line x1="143.35" y1="121.30" x2="143.35" y2="129.50" stroke="#e890f0" stroke-width="0.6" stroke-dasharray="1 0.6"/>
<line x1="143.35" y1="137.10" x2="143.35" y2="144.00" stroke="#e890f0" stroke-width="0.6" stroke-dasharray="1 0.6"/>
<line x1="142.15" y1="121.30" x2="144.55" y2="121.30" stroke="#e890f0" stroke-width="0.5"/>
<line x1="142.15" y1="144.00" x2="144.55" y2="144.00" stroke="#e890f0" stroke-width="0.5"/>
<rect x="140.60" y="129.50" width="5.50" height="7.60" fill="none" stroke="#e890f0" stroke-width="0.75"/>
<line x1="140.60" y1="133.30" x2="146.10" y2="133.30" stroke="#e890f0" stroke-width="0.6"/>
<circle cx="144.40" cy="137.67" r="0.65" fill="#e890f0" opacity="0.85"/>
<circle cx="145.16" cy="133.07" r="0.65" fill="#e890f0" opacity="0.85"/>
<circle cx="142.72" cy="135.60" r="0.65" fill="#e890f0" opacity="0.85"/>
<circle cx="141.71" cy="130.02" r="0.65" fill="#e890f0" opacity="0.85"/>
<circle cx="143.63" cy="134.96" r="0.65" fill="#e890f0" opacity="0.85"/>
<circle cx="141.93" cy="132.51" r="0.65" fill="#e890f0" opacity="0.85"/>
<circle cx="142.00" cy="134.67" r="0.65" fill="#e890f0" opacity="0.85"/>
<circle cx="142.02" cy="135.50" r="0.65" fill="#e890f0" opacity="0.85"/>
<circle cx="143.99" cy="132.71" r="0.65" fill="#e890f0" opacity="0.85"/>
<circle cx="143.46" cy="134.80" r="0.65" fill="#e890f0" opacity="0.85"/>
<circle cx="143.67" cy="134.61" r="0.65" fill="#e890f0" opacity="0.85"/>
<circle cx="144.99" cy="128.72" r="0.65" fill="#e890f0" opacity="0.85"/>
<circle cx="142.57" cy="128.84" r="0.65" fill="#e890f0" opacity="0.85"/>
<circle cx="143.49" cy="129.64" r="0.65" fill="#e890f0" opacity="0.85"/>
<circle cx="143.06" cy="130.23" r="0.65" fill="#e890f0" opacity="0.85"/>
<circle cx="143.98" cy="128.66" r="0.65" fill="#e890f0" opacity="0.85"/>
<circle cx="142.30" cy="134.42" r="0.65" fill="#e890f0" opacity="0.85"/>
<circle cx="143.58" cy="134.20" r="0.65" fill="#e890f0" opacity="0.85"/>
<text x="110.60" y="125.30" font-size="8.0" fill="#000" text-anchor="middle" font-weight="bold" letter-spacing="0.55" font-family="'Liberation Sans', Arial, sans-serif">***</text>
<path d="M106.7,130.8 L106.7,124.3 L113.5,124.3 L113.5,126.7" stroke="#000" stroke-width="0.7" fill="none"/>
<text x="125.20" y="121.40" font-size="8.0" fill="#000" text-anchor="middle" font-weight="bold" letter-spacing="0.55" font-family="'Liberation Sans', Arial, sans-serif">***</text>
<path d="M121.8,126.0 L121.8,120.5 L128.7,120.5 L128.7,122.6" stroke="#000" stroke-width="0.7" fill="none"/>
<text x="139.90" y="114.00" font-size="8.0" fill="#000" text-anchor="middle" font-weight="bold" letter-spacing="0.55" font-family="'Liberation Sans', Arial, sans-serif">***</text>
<path d="M136.2,119.2 L136.2,113.0 L143.1,113.0 L143.1,114.4" stroke="#000" stroke-width="0.7" fill="none"/>
<text x="-0.20" y="178.60" font-size="7.2" fill="#000" text-anchor="start" font-weight="bold" font-family="'Liberation Sans', Arial, sans-serif">E</text>
<text x="4.90" y="190.70" font-size="5.35" fill="#2a2a2a" stroke="#2a2a2a" stroke-width="0.05" text-anchor="start" font-family="'DejaVu Sans', Verdana, sans-serif">3 Electrophysiological features</text>
<rect x="9.00" y="193.60" width="56.50" height="26.30" fill="none" stroke="#555" stroke-width="0.6"/>
<text x="11.50" y="199.90" font-size="5.3" fill="#2a2a2a" stroke="#2a2a2a" stroke-width="0.05" text-anchor="start" font-family="'DejaVu Sans', Verdana, sans-serif"><tspan fill="#999" stroke="#999">i.</tspan> Resting potential</text>
<text x="11.50" y="208.10" font-size="5.3" fill="#2a2a2a" stroke="#2a2a2a" stroke-width="0.05" text-anchor="start" letter-spacing="0.12" font-family="'DejaVu Sans', Verdana, sans-serif"><tspan fill="#999" stroke="#999">ii.</tspan> Minimum ISI-1</text>
<text x="11.50" y="216.50" font-size="5.3" fill="#2a2a2a" stroke="#2a2a2a" stroke-width="0.05" text-anchor="start" font-family="'DejaVu Sans', Verdana, sans-serif"><tspan fill="#999" stroke="#999">iii.</tspan> Input resistance</text>
<rect x="30.10" y="223.30" width="20.40" height="28.70" fill="none" stroke="#f0a0a8" stroke-width="0.6"/>
<rect x="20.30" y="252.00" width="11.30" height="4.50" fill="none" stroke="#f0a0a8" stroke-width="0.6"/>
<rect x="34.60" y="251.30" width="24.20" height="13.50" fill="none" stroke="#f0a0a8" stroke-width="0.6"/>
<text x="46.00" y="229.50" font-size="4.4" fill="#e04050" stroke="#e04050" stroke-width="0.1" text-anchor="middle" font-family="'DejaVu Sans', Verdana, sans-serif">ii</text>
<text x="20.70" y="248.30" font-size="4.4" fill="#e04050" stroke="#e04050" stroke-width="0.1" text-anchor="middle" font-family="'DejaVu Sans', Verdana, sans-serif">i</text>
<text x="62.60" y="265.20" font-size="4.4" fill="#e04050" stroke="#e04050" stroke-width="0.1" text-anchor="middle" font-family="'DejaVu Sans', Verdana, sans-serif">iii</text>
<path d="M31.90,249 L32.00,224.80 L32.20,249.5M32.45,249 L32.55,225.33 L32.75,249.5M33.00,249 L33.10,225.87 L33.30,249.5M33.55,249 L33.65,226.40 L33.85,249.5M34.10,249 L34.20,226.94 L34.40,249.5M34.65,249 L34.75,227.47 L34.95,249.5M35.20,249 L35.30,228.00 L35.50,249.5M35.75,249 L35.85,228.54 L36.05,249.5M36.30,249 L36.40,229.07 L36.60,249.5M36.85,249 L36.95,229.61 L37.15,249.5M37.40,249 L37.50,230.14 L37.70,249.5M37.95,249 L38.05,230.67 L38.25,249.5M38.50,249 L38.60,231.21 L38.80,249.5M39.05,249 L39.15,231.74 L39.35,249.5M40.00,249 L40.10,232.66 L40.30,249.5M41.50,249 L41.60,234.12 L41.80,249.5M43.20,249 L43.30,235.77 L43.50,249.5M45.20,249 L45.30,237.71 L45.50,249.5M47.60,249 L47.70,240.04 L47.90,249.5" stroke="#6a6a6a" stroke-width="0.5" fill="none"/>
<path d="M22,254.6 L31.5,254.6 L32,249 L49,247.5 L52,246.5 Q56,245.5 58,247 Q60,251 64.8,254.6" stroke="#555" stroke-width="0.6" fill="none"/>
<path d="M31.5,254.6 Q34,256.5 40,256.5 L55,256.5 Q60,256.5 64.8,254.6" stroke="#777" stroke-width="0.5" fill="none"/>
<path d="M31.5,254.6 Q34,258.2 40,258.2 L55,258.2 Q60,258.2 64.8,254.6" stroke="#777" stroke-width="0.5" fill="none"/>
<path d="M31.5,254.6 Q34,260.0 40,260.0 L55,260.0 Q60,260.0 64.8,254.6" stroke="#777" stroke-width="0.5" fill="none"/>
<path d="M31.5,254.6 Q34,261.6 40,261.6 L55,261.6 Q60,261.6 64.8,254.6" stroke="#777" stroke-width="0.5" fill="none"/>
<path d="M31.5,254.6 Q34,262.8 40,262.8 L55,262.8 Q60,262.8 64.8,254.6" stroke="#333" stroke-width="0.5" fill="none"/>
<line x1="22.00" y1="254.60" x2="31.50" y2="254.60" stroke="#222" stroke-width="0.9"/>
<line x1="58.00" y1="254.60" x2="64.80" y2="254.60" stroke="#222" stroke-width="0.9"/>
<text x="44.70" y="273.00" font-size="8.5" fill="#000" text-anchor="middle" font-weight="bold" font-family="'DejaVu Sans', Verdana, sans-serif">+</text>
<text x="4.70" y="280.20" font-size="5.3" fill="#2a2a2a" stroke="#2a2a2a" stroke-width="0.05" text-anchor="start" font-family="'DejaVu Sans', Verdana, sans-serif">2 Morphological features</text>
<rect x="9.80" y="283.00" width="73.90" height="17.20" fill="none" stroke="#555" stroke-width="0.6"/>
<text x="10.90" y="290.20" font-size="5.3" fill="#2a2a2a" stroke="#2a2a2a" stroke-width="0.05" text-anchor="start" font-family="'DejaVu Sans', Verdana, sans-serif"><tspan fill="#777" stroke="#777">iv.</tspan> Length of dendritic field</text>
<text x="10.90" y="297.10" font-size="5.3" fill="#2a2a2a" stroke="#2a2a2a" stroke-width="0.05" text-anchor="start" font-family="'DejaVu Sans', Verdana, sans-serif"><tspan fill="#777" stroke="#777">v.</tspan> # of branches</text>
<line x1="29.50" y1="303.20" x2="62.60" y2="303.20" stroke="#e04050" stroke-width="0.6" stroke-dasharray="0.8 0.6"/>
<path d="M29.5,303.2 l1.4,-0.9 M29.5,303.2 l1.4,0.9 M62.6,303.2 l-1.4,-0.9 M62.6,303.2 l-1.4,0.9" stroke="#e04050" stroke-width="0.5" fill="none"/>
<text x="29.60" y="309.30" font-size="5.4" fill="#e04050" stroke="#e04050" stroke-width="0.1" text-anchor="middle" font-family="'DejaVu Sans', Verdana, sans-serif">iv</text>
<path d="M47.0,326.3L49.0,325.7L51.0,325.0L51.7,322.9M51.7,322.9L52.6,322.0L53.3,321.0L54.3,320.2M54.3,320.2L55.0,319.2L55.8,318.4L56.7,317.6M56.7,317.6L57.3,317.0L58.1,316.7L58.9,316.7M58.9,316.7L59.6,316.7L60.1,317.1L60.7,317.2M60.7,317.2L61.2,317.4L61.7,317.6L62.2,317.4M56.7,317.6L57.4,317.4L58.1,317.0L58.7,316.7M58.7,316.7L59.1,316.2L59.4,315.5L59.7,314.9M59.7,314.9L59.7,314.4L59.9,314.0L60.2,313.6M58.7,316.7L59.4,316.5L60.2,316.5L61.0,316.5M61.0,316.5L61.5,316.5L62.0,316.7L62.4,317.0M54.3,320.2L55.6,319.9L56.9,319.7L58.1,319.7M58.1,319.7L59.0,319.5L59.8,319.4L60.7,319.4M60.7,319.4L61.1,319.0L61.2,318.5L61.3,317.9M61.3,317.9L61.5,317.4L61.8,316.9L61.8,316.3M60.7,319.4L61.4,319.2L61.7,318.6L61.8,317.9M61.8,317.9L61.5,317.3L61.2,316.8L60.9,316.3M61.8,317.9L62.1,317.6L62.4,317.3L62.8,317.1M51.7,322.9L52.4,321.3L51.6,319.8L50.4,318.5M50.4,318.5L49.3,318.6L48.3,317.9L47.6,317.0M47.6,317.0L46.9,316.5L46.1,316.2L45.2,316.2M45.2,316.2L44.4,316.3L43.6,316.4L42.8,316.5M42.8,316.5L42.4,316.6L42.0,316.8L41.6,317.0M45.2,316.2L44.5,316.0L43.8,315.7L43.1,315.5M43.1,315.5L42.7,315.1L42.1,315.0L41.5,315.0M43.1,315.5L42.6,315.1L42.1,314.7L41.6,314.4M47.6,317.0L46.9,316.4L46.3,315.6L45.5,314.9M45.5,314.9L45.0,314.5L44.6,314.0L44.0,313.8M44.0,313.8L43.5,313.9L43.1,314.2L42.7,314.2M44.0,313.8L43.5,313.4L43.3,313.0L43.1,312.5M45.5,314.9L45.2,314.6L44.9,314.1L44.8,313.6M44.8,313.6L44.6,313.1L44.3,312.6L44.1,312.1M44.8,313.6L45.1,313.2L45.6,312.9L46.1,312.7M50.4,318.5L49.9,317.7L49.3,317.0L48.7,316.2M48.7,316.2L47.7,316.2L46.8,315.8L45.8,316.1M45.8,316.1L45.2,316.3L44.6,316.5L44.0,316.7M44.0,316.7L43.4,317.0L42.8,316.8L42.1,316.7M44.0,316.7L43.6,316.4L43.4,316.0L43.2,315.6M45.8,316.1L45.0,315.9L44.2,315.8L43.3,315.8M43.3,315.8L42.9,315.9L42.4,316.0L41.9,315.9M43.3,315.8L43.1,315.3L43.0,314.9L43.2,314.4M48.7,316.2L48.5,315.5L48.1,314.8L48.3,314.0M48.3,314.0L48.1,313.3L47.8,312.6L47.7,311.9M47.7,311.9L47.5,311.4L47.5,310.8L47.6,310.1M47.7,311.9L47.9,311.4L48.4,311.1L49.0,311.0M48.3,314.0L48.2,313.4L48.1,312.9L47.8,312.4M47.8,312.4L47.5,311.9L47.3,311.4L46.9,311.0M47.0,326.3L46.2,327.7L44.6,327.9L43.1,328.0M43.1,328.0L41.8,328.6L40.4,328.7L39.4,327.7M39.4,327.7L39.0,326.6L39.1,325.5L39.3,324.4M39.3,324.4L39.4,323.3L39.4,322.3L39.1,321.3M39.1,321.3L38.9,320.6L38.8,319.9L38.8,319.1M38.8,319.1L38.9,318.7L38.9,318.3L38.8,317.8M47.0,326.3L45.7,324.5L44.6,322.5L43.3,320.7M43.3,320.7L41.9,319.7L40.3,318.9L38.7,318.1M38.7,318.1L38.1,317.4L37.3,317.0L36.4,316.5M36.4,316.5L35.9,315.9L35.1,315.6L34.4,315.2M34.4,315.2L33.7,314.9L33.1,314.5M43.3,320.7L43.2,319.5L43.8,318.5L44.4,317.4M44.4,317.4L44.5,316.3L44.3,315.3L44.1,314.3M44.1,314.3L43.7,313.7L43.1,313.4L42.5,313.0M42.5,313.0L41.9,313.2L41.4,313.5L40.8,313.6M40.8,313.6L40.3,313.9L39.9,314.2L39.4,314.3M40.8,313.6L40.4,313.6L40.0,313.8L39.6,313.9M42.5,313.0L42.0,312.4L41.7,311.7L41.6,310.8M41.6,310.8L41.5,310.4L41.2,310.0L40.9,309.7M44.1,314.3L44.7,313.5L45.4,312.7L46.3,312.2M46.3,312.2L47.1,312.4L47.8,312.0L48.2,311.3M48.2,311.3L48.5,310.8L48.8,310.4L49.0,309.8M48.2,311.3L48.6,311.3L49.1,311.2L49.3,310.9M44.4,317.4L45.3,316.8L46.3,316.3L46.9,315.3M46.9,315.3L46.8,314.5L46.2,313.9L45.6,313.4M45.6,313.4L45.1,312.9L44.6,312.6L44.0,312.2M44.0,312.2L43.5,312.3L43.0,312.1L42.5,312.0M44.0,312.2L43.5,311.9L43.1,311.6L42.6,311.3M46.9,315.3L47.5,314.5L48.4,313.9L49.5,313.7M49.5,313.7L50.0,313.9L50.4,314.3L50.8,314.6M50.8,314.6L51.0,315.1L51.4,315.3L51.9,315.3" stroke="#c8404f" stroke-width="0.38" fill="none" stroke-linejoin="round" stroke-linecap="round"/>
<path d="M47.0,326.3L49.0,326.0L50.9,325.4L52.9,325.5M52.9,325.5L54.3,324.9L55.1,323.6L55.6,322.1M55.6,322.1L56.6,321.1L57.7,320.4L59.1,320.3M59.1,320.3L59.7,320.2L60.3,320.6L60.7,321.2M60.7,321.2L60.2,321.9L59.6,322.5L58.8,322.8M58.8,322.8L58.5,323.2L58.3,323.5L57.9,323.8M58.8,322.8L58.4,322.6L57.9,322.5L57.4,322.5M59.1,320.3L59.7,320.4L60.2,319.9L60.8,319.7M60.8,319.7L61.4,319.2L62.0,318.8L62.7,318.6M62.7,318.6L63.2,318.5L63.8,318.5M62.7,318.6L63.2,318.7L63.7,318.5M60.8,319.7L61.5,319.9L62.0,320.4L62.3,321.1M62.3,321.1L62.6,321.5L62.9,321.9L63.1,322.4M62.3,321.1L62.8,321.4L63.3,321.9L63.6,322.5M55.6,322.1L56.6,322.1L57.6,322.0L58.1,321.2M58.1,321.2L58.3,320.4L58.5,319.6L59.1,319.1M59.1,319.1L59.8,318.5L60.4,317.9L60.8,317.2M60.8,317.2L61.3,316.8L61.8,316.7L62.2,316.3M58.1,321.2L59.0,320.6L60.0,320.2L60.9,319.6M60.9,319.6L60.9,318.8L60.8,317.9L60.6,317.1M60.6,317.1L60.2,316.7L60.0,316.1L60.2,315.6M60.6,317.1L60.2,316.8L60.0,316.4L59.6,316.1M60.9,319.6L61.8,319.5L62.6,319.4L63.4,319.0M63.4,319.0L63.8,318.7M52.9,325.5L53.8,326.7L53.8,328.3L53.7,329.8M53.7,329.8L54.5,330.9L55.9,331.2L57.2,331.3M57.2,331.3L58.0,331.7L58.7,331.8L59.5,331.5M59.5,331.5L59.9,330.9L60.2,330.4L60.8,330.1M60.8,330.1L61.0,329.7L61.3,329.4L61.7,329.2M60.8,330.1L61.2,329.8L61.7,329.7L62.2,329.7M59.5,331.5L60.1,331.4L60.6,331.1L61.1,330.9M61.1,330.9L61.5,330.7L61.9,330.6L62.3,330.6M57.2,331.3L58.0,332.1L59.1,332.2L60.1,332.3M60.1,332.3L60.9,332.1L61.7,332.2L62.4,332.7M62.4,332.7L62.8,332.4L63.2,332.1L63.4,331.6M62.4,332.7L62.7,333.1L63.1,333.4L63.6,333.7M60.1,332.3L60.8,332.4L61.4,332.5L62.0,332.6M62.0,332.6L62.4,332.6L62.8,332.5L63.3,332.6M62.0,332.6L62.6,332.9L63.1,333.3L63.6,333.7M47.0,326.3L48.4,327.8L50.2,328.5L52.0,329.4M52.0,329.4L53.3,329.3L54.6,329.5L55.8,329.3M55.8,329.3L56.8,329.3L57.7,329.6L58.3,330.3M58.3,330.3L59.3,330.5L60.3,330.2L61.3,330.5M61.3,330.5L62.1,330.5L62.6,331.2L62.9,331.9M62.9,331.9L63.2,332.5L63.5,332.9L63.7,333.5M62.9,331.9L62.7,332.4L62.8,332.9L62.7,333.3M61.3,330.5L61.7,331.0L62.4,331.2L63.0,331.3M63.0,331.3L63.6,331.3L64.1,331.1L64.5,330.8M58.3,330.3L58.6,331.2L59.1,331.9L59.3,332.8M59.3,332.8L59.1,333.5L59.1,334.3L59.3,335.0M59.3,335.0L59.3,335.6L59.5,336.2L59.5,336.8M47.0,326.3L47.3,327.7L47.2,329.2L47.0,330.6M47.0,330.6L46.6,332.3L46.4,334.1L46.1,335.9M46.1,335.9L46.4,336.8L46.8,337.7L47.5,338.4M47.5,338.4L47.8,339.0L48.5,339.2L49.2,338.9M49.2,338.9L49.4,338.3L49.4,337.6L49.9,337.2M49.9,337.2L50.2,336.9L50.3,336.5L50.4,336.0M46.1,335.9L45.4,337.0L44.3,337.7L43.1,337.5M43.1,337.5L42.7,338.3L42.4,339.2L42.0,340.0M42.0,340.0L41.5,340.5L41.1,341.1L40.7,341.7M40.7,341.7L40.5,342.1L40.5,342.5L40.6,343.0M40.7,341.7L40.3,342.0L39.8,342.1L39.3,342.1M42.0,340.0L41.4,340.4L40.8,340.7L40.1,340.7M40.1,340.7L39.6,340.8L39.1,340.9L38.7,341.1M40.1,340.7L39.7,340.4L39.3,340.0L38.8,339.8M43.1,337.5L42.4,337.2L42.2,336.6L42.3,335.9M42.3,335.9L42.2,335.1L42.1,334.3L42.2,333.5M42.2,333.5L42.0,333.0L42.0,332.4L41.9,331.9M42.3,335.9L42.5,335.2L42.8,334.6L43.0,334.0M43.0,334.0L42.6,333.7L42.1,333.4L41.5,333.4M43.0,334.0L43.3,333.6L43.6,333.3L44.1,333.1M47.0,330.6L46.9,332.4L46.4,334.1L46.2,335.9M46.2,335.9L46.0,336.9L46.0,337.9L45.8,338.9M45.8,338.9L45.6,339.6L45.0,340.0L44.6,340.6M44.6,340.6L43.9,341.1L43.1,341.5L42.3,341.3M42.3,341.3L41.8,341.5L41.2,341.6L40.7,341.4M45.8,338.9L45.8,339.9L45.8,340.9L45.3,341.8M45.3,341.8L44.8,342.1L44.3,342.2L43.8,342.6M43.8,342.6L43.4,342.9L43.2,343.4L42.8,343.8M47.0,326.3L47.0,328.6L47.2,330.8L46.4,332.9M46.4,332.9L46.1,334.4L46.2,335.8L46.2,337.3M46.2,337.3L47.1,338.0L48.2,337.8L49.4,337.7M49.4,337.7L50.2,337.2L50.9,336.5L51.4,335.7M51.4,335.7L51.5,335.0L51.7,334.4L51.9,333.8M51.9,333.8L52.0,333.4L52.1,332.9L52.3,332.6M47.0,326.3L44.9,327.0L42.9,326.2L41.0,327.2M41.0,327.2L40.8,328.5L41.0,329.8L41.1,331.1M41.1,331.1L41.6,332.0L42.4,332.6L43.2,333.2M43.2,333.2L43.5,334.0L43.7,334.8L44.1,335.5M44.1,335.5L44.8,335.5L45.5,335.4L46.2,335.4M46.2,335.4L46.7,335.5L47.2,335.5L47.6,335.3M41.0,327.2L39.8,326.1L38.7,324.9L37.9,323.5M37.9,323.5L37.5,322.5L37.4,321.4L36.8,320.5M36.8,320.5L35.9,320.0L35.0,319.4L34.1,318.8M34.1,318.8L33.5,318.5L32.9,318.2L32.4,317.7M32.4,317.7L32.0,317.2L31.6,316.7M32.4,317.7L31.9,317.3L31.9,316.7L31.8,316.1M47.0,326.3L46.2,324.5L46.1,322.6L45.6,320.7M45.6,320.7L44.8,319.3L43.5,318.6L43.5,317.0M43.5,317.0L43.2,316.0L43.2,314.9L44.1,314.4M44.1,314.4L44.4,313.7L44.5,313.0L44.6,312.3M44.6,312.3L44.4,311.7L44.0,311.3L43.6,310.8M43.6,310.8L43.1,310.6L42.5,310.6L41.9,310.6M43.6,310.8L43.8,310.3L43.8,309.7L43.9,309.2M44.6,312.3L45.2,311.8L45.9,311.3L46.6,311.0M46.6,311.0L47.0,310.4L47.0,309.8L47.5,309.3M46.6,311.0L47.1,311.0L47.4,310.6L47.9,310.5M45.6,320.7L45.7,319.6L45.7,318.4L45.8,317.3M45.8,317.3L45.2,316.1L44.9,314.7L44.1,313.6M44.1,313.6L43.3,312.9L42.6,312.3L41.6,312.1M41.6,312.1L41.0,311.5L40.4,310.9L40.3,310.1M40.3,310.1L40.0,309.6M41.6,312.1L41.1,311.3L40.9,310.5L40.9,309.6M44.1,313.6L43.9,313.0L43.7,312.3L43.6,311.7M43.6,311.7L44.1,311.0L44.5,310.3L44.7,309.5M44.7,309.5L44.8,309.1L44.8,308.7M45.8,317.3L46.5,316.2L47.1,315.0L48.0,314.1M48.0,314.1L48.8,313.9L49.6,313.6L50.3,313.4M50.3,313.4L50.9,313.4L51.4,313.6L51.8,314.0M51.8,314.0L52.0,314.4L52.3,314.8L52.5,315.3M47.0,326.3L46.5,324.6L46.2,322.8L47.0,321.2M47.0,321.2L48.6,320.3L49.4,318.7L50.2,317.1M50.2,317.1L50.9,316.0L51.3,314.8L51.8,313.7M51.8,313.7L51.4,312.9L51.2,312.0L51.0,311.0M51.0,311.0L51.0,310.5L51.2,309.9L51.5,309.5M51.5,309.5L51.8,309.0M51.5,309.5L51.8,309.2M51.8,313.7L52.7,313.1L53.8,312.9L54.8,312.5M54.8,312.5L55.3,312.7L55.8,312.8L56.3,313.0M56.3,313.0L56.9,313.3L57.6,313.3L58.2,313.0M47.0,326.3L48.2,324.8L48.7,322.9L49.0,321.0M49.0,321.0L47.9,319.8L46.5,318.9L45.7,317.5M45.7,317.5L44.9,316.5L44.2,315.5L43.7,314.3M43.7,314.3L43.4,313.5L43.2,312.6L43.5,311.8M43.5,311.8L43.0,311.2L43.2,310.5L42.9,309.8M42.9,309.8L43.3,309.2L43.7,308.7L44.4,308.7M43.5,311.8L44.0,311.7L44.6,311.4L45.0,311.0M45.0,311.0L45.1,310.4L45.2,309.8L45.1,309.3M45.0,311.0L45.3,310.5L45.6,310.1L45.8,309.6M43.7,314.3L44.5,313.5L45.4,313.1L46.5,312.9M46.5,312.9L46.9,312.5L47.4,312.3L47.8,312.0M47.8,312.0L48.1,311.5L48.4,311.0L48.5,310.4M47.8,312.0L48.4,312.0L48.9,312.1L49.5,312.4M45.7,317.5L45.4,316.4L45.3,315.3L44.5,314.6M44.5,314.6L43.8,314.5L43.1,314.6L42.5,314.9M42.5,314.9L41.9,315.1L41.2,315.1L40.6,315.5M40.6,315.5L40.2,315.6L39.8,315.8L39.3,316.0" stroke="#444" stroke-width="0.38" fill="none" stroke-linejoin="round" stroke-linecap="round"/>
<circle cx="47.0" cy="326.3" r="1.0" fill="#444"/>
<text x="65.10" y="336.20" font-size="5.4" fill="#e04050" stroke="#e04050" stroke-width="0.1" text-anchor="middle" font-family="'DejaVu Sans', Verdana, sans-serif">v</text>
<line x1="46.40" y1="342.00" x2="46.40" y2="348.00" stroke="#000" stroke-width="0.8"/>
<path d="M44.9,346.5 L46.4,349.5 L47.9,346.5 Z" stroke="#000" stroke-width="0.3" fill="#000"/>
<rect x="8.40" y="352.00" width="70.60" height="10.40" fill="none" stroke="#555" stroke-width="0.6"/>
<text x="43.70" y="359.30" font-size="5.2" fill="#2a2a2a" stroke="#2a2a2a" stroke-width="0.05" text-anchor="middle" font-family="'DejaVu Sans', Verdana, sans-serif">Feature-based Clustering</text>
<text x="83.40" y="178.20" font-size="7.2" fill="#000" text-anchor="start" font-weight="bold" font-family="'Liberation Sans', Arial, sans-serif">F</text>
<defs><filter id="mb" x="-5%" y="-5%" width="110%" height="110%"><feGaussianBlur stdDeviation="0.55"/></filter></defs>
<g filter="url(#mb)" shape-rendering="crispEdges">
<path fill="#000000" d="M143.0 248.1H145.2V250.5H143.0zM180.6 250.5H182.9V252.8H180.6zM176.0 252.8H178.3V255.1H176.0zM178.3 252.8H180.6V255.1H178.3zM203.7 255.1H206.0V257.4H203.7zM178.3 259.7H180.6V262.0H178.3zM194.5 259.7H196.8V262.0H194.5zM203.7 259.7H206.0V262.0H203.7zM199.1 262.0H201.4V264.2H199.1zM194.5 264.2H196.8V266.5H194.5zM199.1 264.2H201.4V266.5H199.1zM201.4 264.2H203.7V266.5H201.4zM203.7 264.2H206.0V266.5H203.7zM192.2 268.8H194.5V271.1H192.2zM196.8 268.8H199.1V271.1H196.8zM194.5 271.1H196.8V273.4H194.5zM203.7 271.1H206.0V273.4H203.7zM112.6 278.0H115.0V280.4H112.6zM212.9 301.0H215.1V303.0H212.9zM206.0 309.0H208.3V311.0H206.0zM210.6 309.0H212.9V311.0H210.6zM117.3 311.0H119.7V313.4H117.3zM117.3 313.4H119.7V315.8H117.3zM124.3 313.4H126.7V315.8H124.3zM115.0 315.8H117.3V318.2H115.0zM219.7 318.2H222.0V320.5H219.7zM212.9 325.3H215.1V327.7H212.9zM133.7 327.7H136.0V330.1H133.7zM124.3 330.1H126.7V332.5H124.3zM129.0 330.1H131.3V332.5H129.0zM136.0 330.1H138.3V332.5H136.0zM208.3 330.1H210.6V332.5H208.3zM133.7 332.5H136.0V334.8H133.7zM208.3 332.5H210.6V334.8H208.3zM212.9 332.5H215.1V334.8H212.9zM126.7 334.8H129.0V337.2H126.7zM129.0 334.8H131.3V337.2H129.0zM206.0 334.8H208.3V337.2H206.0zM210.6 334.8H212.9V337.2H210.6zM212.9 334.8H215.1V337.2H212.9zM129.0 337.2H131.3V339.6H129.0zM212.9 337.2H215.1V339.6H212.9zM119.7 339.6H122.0V342.0H119.7zM124.3 339.6H126.7V342.0H124.3zM129.0 339.6H131.3V342.0H129.0zM136.0 339.6H138.3V342.0H136.0zM208.3 339.6H210.6V342.0H208.3zM173.9 342.0H176.0V344.2H173.9zM199.1 342.0H201.4V344.2H199.1zM194.5 344.2H196.8V346.4H194.5zM196.8 344.2H199.1V346.4H196.8zM203.7 344.2H206.0V346.4H203.7zM173.9 346.4H176.0V348.6H173.9zM199.1 346.4H201.4V348.6H199.1zM165.3 348.6H167.4V350.9H165.3zM189.8 348.6H192.2V350.9H189.8zM196.8 348.6H199.1V350.9H196.8zM199.1 348.6H201.4V350.9H199.1zM201.4 348.6H203.7V350.9H201.4zM182.9 355.3H185.2V357.5H182.9z"/>
<path fill="#050507" d="M192.2 266.5H194.5V268.8H192.2zM196.8 266.5H199.1V268.8H196.8zM192.2 275.7H194.5V278.0H192.2zM215.1 278.0H217.4V280.4H215.1zM215.1 313.4H217.4V315.8H215.1zM206.0 320.5H208.3V322.9H206.0zM131.3 327.7H133.7V330.1H131.3zM140.7 327.7H143.0V330.1H140.7zM131.3 332.5H133.7V334.8H131.3zM185.2 342.0H187.5V344.2H185.2zM143.0 350.9H145.2V353.1H143.0zM178.3 350.9H180.6V353.1H178.3z"/>
<path fill="#09090d" d="M203.7 248.1H206.0V250.5H203.7zM194.5 255.1H196.8V257.4H194.5zM201.4 255.1H203.7V257.4H201.4zM165.3 268.8H167.4V271.1H165.3zM194.5 273.4H196.8V275.7H194.5zM199.1 275.7H201.4V278.0H199.1zM133.7 301.0H136.0V303.0H133.7zM217.4 318.2H219.7V320.5H217.4zM215.1 322.9H217.4V325.3H215.1zM212.9 327.7H215.1V330.1H212.9zM119.7 330.1H122.0V332.5H119.7zM138.3 330.1H140.7V332.5H138.3zM140.7 334.8H143.0V337.2H140.7zM119.7 337.2H122.0V339.6H119.7zM208.3 337.2H210.6V339.6H208.3zM112.6 339.6H115.0V342.0H112.6zM219.7 339.6H222.0V342.0H219.7zM201.4 344.2H203.7V346.4H201.4zM192.2 348.6H194.5V350.9H192.2zM187.5 350.9H189.8V353.1H187.5zM182.9 353.1H185.2V355.3H182.9zM203.7 355.3H206.0V357.5H203.7z"/>
<path fill="#0e0e14" d="M173.9 238.7H176.0V241.1H173.9zM182.9 250.5H185.2V252.8H182.9zM196.8 252.8H199.1V255.1H196.8zM176.0 257.4H178.3V259.7H176.0zM196.8 257.4H199.1V259.7H196.8zM176.0 259.7H178.3V262.0H176.0zM196.8 259.7H199.1V262.0H196.8zM173.9 262.0H176.0V264.2H173.9zM201.4 266.5H203.7V268.8H201.4zM189.8 271.1H192.2V273.4H189.8zM192.2 271.1H194.5V273.4H192.2zM199.1 271.1H201.4V273.4H199.1zM201.4 271.1H203.7V273.4H201.4zM203.7 273.4H206.0V275.7H203.7zM219.7 285.1H222.0V287.5H219.7zM210.6 292.2H212.9V294.6H210.6zM212.9 297.0H215.1V299.0H212.9zM208.3 299.0H210.6V301.0H208.3zM212.9 307.0H215.1V309.0H212.9zM102.9 309.0H105.3V311.0H102.9zM126.7 309.0H129.0V311.0H126.7zM217.4 309.0H219.7V311.0H217.4zM122.0 311.0H124.3V313.4H122.0zM124.3 311.0H126.7V313.4H124.3zM115.0 318.2H117.3V320.5H115.0zM215.1 318.2H217.4V320.5H215.1zM136.0 325.3H138.3V327.7H136.0zM206.0 325.3H208.3V327.7H206.0zM136.0 327.7H138.3V330.1H136.0zM117.3 332.5H119.7V334.8H117.3zM122.0 332.5H124.3V334.8H122.0zM124.3 332.5H126.7V334.8H124.3zM136.0 334.8H138.3V337.2H136.0zM131.3 337.2H133.7V339.6H131.3zM136.0 337.2H138.3V339.6H136.0zM206.0 337.2H208.3V339.6H206.0zM210.6 337.2H212.9V339.6H210.6zM138.3 339.6H140.7V342.0H138.3zM212.9 339.6H215.1V342.0H212.9zM189.8 342.0H192.2V344.2H189.8zM201.4 342.0H203.7V344.2H201.4zM163.1 344.2H165.3V346.4H163.1zM156.5 346.4H158.8V348.6H156.5zM201.4 346.4H203.7V348.6H201.4zM161.0 348.6H163.1V350.9H161.0zM171.7 348.6H173.9V350.9H171.7zM203.7 348.6H206.0V350.9H203.7zM182.9 350.9H185.2V353.1H182.9zM173.9 353.1H176.0V355.3H173.9zM149.8 355.3H152.0V357.5H149.8z"/>
<path fill="#13131a" d="M199.1 238.7H201.4V241.1H199.1zM143.0 241.1H145.2V243.4H143.0zM165.3 243.4H167.4V245.8H165.3zM199.1 250.5H201.4V252.8H199.1zM182.9 255.1H185.2V257.4H182.9zM194.5 257.4H196.8V259.7H194.5zM180.6 262.0H182.9V264.2H180.6zM182.9 262.0H185.2V264.2H182.9zM182.9 264.2H185.2V266.5H182.9zM196.8 264.2H199.1V266.5H196.8zM165.3 266.5H167.4V268.8H165.3zM189.8 266.5H192.2V268.8H189.8zM161.0 268.8H163.1V271.1H161.0zM189.8 268.8H192.2V271.1H189.8zM199.1 268.8H201.4V271.1H199.1zM201.4 268.8H203.7V271.1H201.4zM187.5 273.4H189.8V275.7H187.5zM192.2 273.4H194.5V275.7H192.2zM189.8 275.7H192.2V278.0H189.8zM201.4 275.7H203.7V278.0H201.4zM203.7 275.7H206.0V278.0H203.7zM105.3 278.0H107.7V280.4H105.3zM133.7 297.0H136.0V299.0H133.7zM107.7 301.0H110.1V303.0H107.7zM131.3 301.0H133.7V303.0H131.3zM210.6 301.0H212.9V303.0H210.6zM208.3 307.0H210.6V309.0H208.3zM217.4 313.4H219.7V315.8H217.4zM126.7 315.8H129.0V318.2H126.7zM119.7 318.2H122.0V320.5H119.7zM126.7 318.2H129.0V320.5H126.7zM129.0 318.2H131.3V320.5H129.0zM217.4 320.5H219.7V322.9H217.4zM138.3 322.9H140.7V325.3H138.3zM217.4 322.9H219.7V325.3H217.4zM131.3 325.3H133.7V327.7H131.3zM133.7 325.3H136.0V327.7H133.7zM140.7 325.3H143.0V327.7H140.7zM138.3 327.7H140.7V330.1H138.3zM210.6 327.7H212.9V330.1H210.6zM122.0 330.1H124.3V332.5H122.0zM215.1 330.1H217.4V332.5H215.1zM129.0 332.5H131.3V334.8H129.0zM102.9 334.8H105.3V337.2H102.9zM115.0 334.8H117.3V337.2H115.0zM133.7 334.8H136.0V337.2H133.7zM133.7 337.2H136.0V339.6H133.7zM140.7 337.2H143.0V339.6H140.7zM140.7 339.6H143.0V342.0H140.7zM210.6 339.6H212.9V342.0H210.6zM215.1 339.6H217.4V342.0H215.1zM171.7 344.2H173.9V346.4H171.7zM165.3 346.4H167.4V348.6H165.3zM192.2 346.4H194.5V348.6H192.2zM203.7 346.4H206.0V348.6H203.7zM194.5 350.9H196.8V353.1H194.5zM203.7 350.9H206.0V353.1H203.7zM178.3 353.1H180.6V355.3H178.3zM185.2 353.1H187.5V355.3H185.2zM187.5 353.1H189.8V355.3H187.5z"/>
<path fill="#181821" d="M187.5 234.0H189.8V236.4H187.5zM189.8 236.4H192.2V238.7H189.8zM196.8 236.4H199.1V238.7H196.8zM145.2 238.7H147.5V241.1H145.2zM165.3 238.7H167.4V241.1H165.3zM182.9 238.7H185.2V241.1H182.9zM189.8 238.7H192.2V241.1H189.8zM145.2 243.4H147.5V245.8H145.2zM189.8 243.4H192.2V245.8H189.8zM192.2 243.4H194.5V245.8H192.2zM143.0 245.8H145.2V248.1H143.0zM194.5 248.1H196.8V250.5H194.5zM178.3 250.5H180.6V252.8H178.3zM185.2 250.5H187.5V252.8H185.2zM180.6 252.8H182.9V255.1H180.6zM201.4 252.8H203.7V255.1H201.4zM176.0 255.1H178.3V257.4H176.0zM196.8 255.1H199.1V257.4H196.8zM178.3 257.4H180.6V259.7H178.3zM203.7 257.4H206.0V259.7H203.7zM199.1 259.7H201.4V262.0H199.1zM201.4 259.7H203.7V262.0H201.4zM180.6 264.2H182.9V266.5H180.6zM185.2 266.5H187.5V268.8H185.2zM167.4 268.8H169.6V271.1H167.4zM185.2 268.8H187.5V271.1H185.2zM178.3 271.1H180.6V273.4H178.3zM187.5 271.1H189.8V273.4H187.5zM185.2 273.4H187.5V275.7H185.2zM189.8 273.4H192.2V275.7H189.8zM187.5 275.7H189.8V278.0H187.5zM194.5 275.7H196.8V278.0H194.5zM110.1 278.0H112.6V280.4H110.1zM102.9 280.4H105.3V282.8H102.9zM107.7 280.4H110.1V282.8H107.7zM217.4 285.1H219.7V287.5H217.4zM212.9 299.0H215.1V301.0H212.9zM102.9 301.0H105.3V303.0H102.9zM133.7 303.0H136.0V305.0H133.7zM210.6 303.0H212.9V305.0H210.6zM208.3 305.0H210.6V307.0H208.3zM119.7 311.0H122.0V313.4H119.7zM215.1 311.0H217.4V313.4H215.1zM115.0 313.4H117.3V315.8H115.0zM122.0 313.4H124.3V315.8H122.0zM136.0 313.4H138.3V315.8H136.0zM117.3 315.8H119.7V318.2H117.3zM129.0 315.8H131.3V318.2H129.0zM102.9 318.2H105.3V320.5H102.9zM210.6 318.2H212.9V320.5H210.6zM115.0 320.5H117.3V322.9H115.0zM131.3 320.5H133.7V322.9H131.3zM133.7 320.5H136.0V322.9H133.7zM138.3 320.5H140.7V322.9H138.3zM210.6 320.5H212.9V322.9H210.6zM98.0 322.9H100.4V325.3H98.0zM136.0 322.9H138.3V325.3H136.0zM140.7 322.9H143.0V325.3H140.7zM206.0 322.9H208.3V325.3H206.0zM219.7 322.9H222.0V325.3H219.7zM100.4 325.3H102.9V327.7H100.4zM102.9 325.3H105.3V327.7H102.9zM107.7 325.3H110.1V327.7H107.7zM138.3 325.3H140.7V327.7H138.3zM219.7 325.3H222.0V327.7H219.7zM107.7 327.7H110.1V330.1H107.7zM215.1 327.7H217.4V330.1H215.1zM112.6 330.1H115.0V332.5H112.6zM140.7 330.1H143.0V332.5H140.7zM210.6 330.1H212.9V332.5H210.6zM100.4 332.5H102.9V334.8H100.4zM119.7 332.5H122.0V334.8H119.7zM124.3 334.8H126.7V337.2H124.3zM117.3 337.2H119.7V339.6H117.3zM124.3 337.2H126.7V339.6H124.3zM122.0 339.6H124.3V342.0H122.0zM187.5 342.0H189.8V344.2H187.5zM169.6 344.2H171.7V346.4H169.6zM167.4 346.4H169.6V348.6H167.4zM182.9 346.4H185.2V348.6H182.9zM185.2 346.4H187.5V348.6H185.2zM194.5 346.4H196.8V348.6H194.5zM163.1 348.6H165.3V350.9H163.1zM176.0 350.9H178.3V353.1H176.0zM192.2 350.9H194.5V353.1H192.2zM149.8 353.1H152.0V355.3H149.8zM187.5 355.3H189.8V357.5H187.5zM189.8 355.3H192.2V357.5H189.8z"/>
<path fill="#1c1c27" d="M165.3 241.1H167.4V243.4H165.3zM176.0 241.1H178.3V243.4H176.0zM192.2 241.1H194.5V243.4H192.2zM154.2 243.4H156.5V245.8H154.2zM169.6 245.8H171.7V248.1H169.6zM187.5 250.5H189.8V252.8H187.5zM192.2 252.8H194.5V255.1H192.2zM194.5 252.8H196.8V255.1H194.5zM203.7 252.8H206.0V255.1H203.7zM178.3 255.1H180.6V257.4H178.3zM199.1 255.1H201.4V257.4H199.1zM182.9 257.4H185.2V259.7H182.9zM187.5 259.7H189.8V262.0H187.5zM201.4 262.0H203.7V264.2H201.4zM161.0 266.5H163.1V268.8H161.0zM167.4 266.5H169.6V268.8H167.4zM165.3 271.1H167.4V273.4H165.3zM196.8 271.1H199.1V273.4H196.8zM196.8 273.4H199.1V275.7H196.8zM165.3 275.7H167.4V278.0H165.3zM107.7 289.9H110.1V292.2H107.7zM131.3 297.0H133.7V299.0H131.3zM206.0 299.0H208.3V301.0H206.0zM105.3 301.0H107.7V303.0H105.3zM136.0 301.0H138.3V303.0H136.0zM140.7 301.0H143.0V303.0H140.7zM131.3 303.0H133.7V305.0H131.3zM212.9 303.0H215.1V305.0H212.9zM110.1 305.0H112.6V307.0H110.1zM215.1 305.0H217.4V307.0H215.1zM215.1 307.0H217.4V309.0H215.1zM212.9 309.0H215.1V311.0H212.9zM219.7 309.0H222.0V311.0H219.7zM105.3 311.0H107.7V313.4H105.3zM217.4 311.0H219.7V313.4H217.4zM119.7 313.4H122.0V315.8H119.7zM210.6 315.8H212.9V318.2H210.6zM215.1 315.8H217.4V318.2H215.1zM217.4 315.8H219.7V318.2H217.4zM122.0 318.2H124.3V320.5H122.0zM206.0 318.2H208.3V320.5H206.0zM212.9 318.2H215.1V320.5H212.9zM115.0 322.9H117.3V325.3H115.0zM124.3 322.9H126.7V325.3H124.3zM208.3 322.9H210.6V325.3H208.3zM208.3 325.3H210.6V327.7H208.3zM105.3 327.7H107.7V330.1H105.3zM117.3 327.7H119.7V330.1H117.3zM206.0 327.7H208.3V330.1H206.0zM117.3 330.1H119.7V332.5H117.3zM136.0 332.5H138.3V334.8H136.0zM138.3 332.5H140.7V334.8H138.3zM206.0 332.5H208.3V334.8H206.0zM119.7 334.8H122.0V337.2H119.7zM208.3 334.8H210.6V337.2H208.3zM126.7 337.2H129.0V339.6H126.7zM117.3 339.6H119.7V342.0H117.3zM163.1 342.0H165.3V344.2H163.1zM182.9 342.0H185.2V344.2H182.9zM192.2 342.0H194.5V344.2H192.2zM196.8 342.0H199.1V344.2H196.8zM187.5 344.2H189.8V346.4H187.5zM189.8 344.2H192.2V346.4H189.8zM199.1 344.2H201.4V346.4H199.1zM180.6 346.4H182.9V348.6H180.6zM167.4 348.6H169.6V350.9H167.4zM173.9 348.6H176.0V350.9H173.9zM182.9 348.6H185.2V350.9H182.9zM169.6 350.9H171.7V353.1H169.6zM171.7 350.9H173.9V353.1H171.7zM180.6 350.9H182.9V353.1H180.6zM176.0 353.1H178.3V355.3H176.0zM180.6 353.1H182.9V355.3H180.6zM173.9 355.3H176.0V357.5H173.9z"/>
<path fill="#21212e" d="M185.2 234.0H187.5V236.4H185.2zM163.1 236.4H165.3V238.7H163.1zM176.0 236.4H178.3V238.7H176.0zM149.8 238.7H152.0V241.1H149.8zM154.2 238.7H156.5V241.1H154.2zM180.6 238.7H182.9V241.1H180.6zM192.2 238.7H194.5V241.1H192.2zM178.3 241.1H180.6V243.4H178.3zM187.5 241.1H189.8V243.4H187.5zM194.5 241.1H196.8V243.4H194.5zM203.7 241.1H206.0V243.4H203.7zM161.0 243.4H163.1V245.8H161.0zM167.4 243.4H169.6V245.8H167.4zM173.9 243.4H176.0V245.8H173.9zM180.6 243.4H182.9V245.8H180.6zM182.9 243.4H185.2V245.8H182.9zM196.8 243.4H199.1V245.8H196.8zM187.5 245.8H189.8V248.1H187.5zM194.5 245.8H196.8V248.1H194.5zM169.6 248.1H171.7V250.5H169.6zM176.0 250.5H178.3V252.8H176.0zM199.1 252.8H201.4V255.1H199.1zM189.8 255.1H192.2V257.4H189.8zM180.6 257.4H182.9V259.7H180.6zM189.8 257.4H192.2V259.7H189.8zM201.4 257.4H203.7V259.7H201.4zM180.6 259.7H182.9V262.0H180.6zM185.2 262.0H187.5V264.2H185.2zM176.0 264.2H178.3V266.5H176.0zM192.2 264.2H194.5V266.5H192.2zM180.6 268.8H182.9V271.1H180.6zM176.0 271.1H178.3V273.4H176.0zM185.2 271.1H187.5V273.4H185.2zM185.2 275.7H187.5V278.0H185.2zM196.8 275.7H199.1V278.0H196.8zM217.4 282.8H219.7V285.1H217.4zM102.9 285.1H105.3V287.5H102.9zM206.0 285.1H208.3V287.5H206.0zM102.9 289.9H105.3V292.2H102.9zM206.0 294.6H208.3V297.0H206.0zM208.3 294.6H210.6V297.0H208.3zM107.7 297.0H110.1V299.0H107.7zM208.3 297.0H210.6V299.0H208.3zM210.6 297.0H212.9V299.0H210.6zM100.4 299.0H102.9V301.0H100.4zM206.0 301.0H208.3V303.0H206.0zM208.3 301.0H210.6V303.0H208.3zM107.7 303.0H110.1V305.0H107.7zM112.6 305.0H115.0V307.0H112.6zM212.9 305.0H215.1V307.0H212.9zM217.4 305.0H219.7V307.0H217.4zM206.0 307.0H208.3V309.0H206.0zM107.7 309.0H110.1V311.0H107.7zM100.4 311.0H102.9V313.4H100.4zM115.0 311.0H117.3V313.4H115.0zM129.0 311.0H131.3V313.4H129.0zM136.0 311.0H138.3V313.4H136.0zM105.3 313.4H107.7V315.8H105.3zM102.9 315.8H105.3V318.2H102.9zM107.7 315.8H110.1V318.2H107.7zM122.0 315.8H124.3V318.2H122.0zM124.3 315.8H126.7V318.2H124.3zM133.7 315.8H136.0V318.2H133.7zM206.0 315.8H208.3V318.2H206.0zM107.7 318.2H110.1V320.5H107.7zM98.0 320.5H100.4V322.9H98.0zM126.7 320.5H129.0V322.9H126.7zM136.0 320.5H138.3V322.9H136.0zM140.7 320.5H143.0V322.9H140.7zM105.3 322.9H107.7V325.3H105.3zM110.1 322.9H112.6V325.3H110.1zM210.6 322.9H212.9V325.3H210.6zM119.7 325.3H122.0V327.7H119.7zM122.0 325.3H124.3V327.7H122.0zM210.6 325.3H212.9V327.7H210.6zM215.1 325.3H217.4V327.7H215.1zM217.4 325.3H219.7V327.7H217.4zM102.9 327.7H105.3V330.1H102.9zM129.0 327.7H131.3V330.1H129.0zM219.7 327.7H222.0V330.1H219.7zM105.3 330.1H107.7V332.5H105.3zM110.1 330.1H112.6V332.5H110.1zM206.0 330.1H208.3V332.5H206.0zM212.9 330.1H215.1V332.5H212.9zM217.4 330.1H219.7V332.5H217.4zM219.7 330.1H222.0V332.5H219.7zM107.7 332.5H110.1V334.8H107.7zM140.7 332.5H143.0V334.8H140.7zM117.3 334.8H119.7V337.2H117.3zM215.1 334.8H217.4V337.2H215.1zM122.0 337.2H124.3V339.6H122.0zM105.3 339.6H107.7V342.0H105.3zM206.0 339.6H208.3V342.0H206.0zM149.8 342.0H152.0V344.2H149.8zM158.8 342.0H161.0V344.2H158.8zM165.3 342.0H167.4V344.2H165.3zM171.7 342.0H173.9V344.2H171.7zM180.6 342.0H182.9V344.2H180.6zM194.5 342.0H196.8V344.2H194.5zM203.7 342.0H206.0V344.2H203.7zM158.8 344.2H161.0V346.4H158.8zM161.0 344.2H163.1V346.4H161.0zM165.3 344.2H167.4V346.4H165.3zM161.0 346.4H163.1V348.6H161.0zM187.5 346.4H189.8V348.6H187.5zM189.8 346.4H192.2V348.6H189.8zM169.6 348.6H171.7V350.9H169.6zM194.5 348.6H196.8V350.9H194.5zM189.8 350.9H192.2V353.1H189.8zM199.1 350.9H201.4V353.1H199.1zM147.5 353.1H149.8V355.3H147.5zM169.6 353.1H171.7V355.3H169.6zM189.8 353.1H192.2V355.3H189.8zM194.5 353.1H196.8V355.3H194.5zM192.2 355.3H194.5V357.5H192.2zM194.5 355.3H196.8V357.5H194.5z"/>
<path fill="#262634" d="M189.8 234.0H192.2V236.4H189.8zM192.2 234.0H194.5V236.4H192.2zM171.7 236.4H173.9V238.7H171.7zM185.2 238.7H187.5V241.1H185.2zM147.5 241.1H149.8V243.4H147.5zM169.6 241.1H171.7V243.4H169.6zM189.8 241.1H192.2V243.4H189.8zM199.1 241.1H201.4V243.4H199.1zM199.1 243.4H201.4V245.8H199.1zM201.4 243.4H203.7V245.8H201.4zM147.5 245.8H149.8V248.1H147.5zM171.7 245.8H173.9V248.1H171.7zM203.7 245.8H206.0V248.1H203.7zM189.8 248.1H192.2V250.5H189.8zM192.2 248.1H194.5V250.5H192.2zM194.5 250.5H196.8V252.8H194.5zM182.9 252.8H185.2V255.1H182.9zM180.6 255.1H182.9V257.4H180.6zM182.9 259.7H185.2V262.0H182.9zM187.5 266.5H189.8V268.8H187.5zM176.0 268.8H178.3V271.1H176.0zM161.0 271.1H163.1V273.4H161.0zM178.3 273.4H180.6V275.7H178.3zM199.1 273.4H201.4V275.7H199.1zM201.4 273.4H203.7V275.7H201.4zM161.0 275.7H163.1V278.0H161.0zM167.4 275.7H169.6V278.0H167.4zM208.3 278.0H210.6V280.4H208.3zM206.0 280.4H208.3V282.8H206.0zM210.6 280.4H212.9V282.8H210.6zM215.1 280.4H217.4V282.8H215.1zM105.3 282.8H107.7V285.1H105.3zM110.1 282.8H112.6V285.1H110.1zM215.1 282.8H217.4V285.1H215.1zM219.7 287.5H222.0V289.9H219.7zM206.0 289.9H208.3V292.2H206.0zM210.6 294.6H212.9V297.0H210.6zM136.0 297.0H138.3V299.0H136.0zM140.7 297.0H143.0V299.0H140.7zM206.0 297.0H208.3V299.0H206.0zM140.7 303.0H143.0V305.0H140.7zM206.0 303.0H208.3V305.0H206.0zM105.3 305.0H107.7V307.0H105.3zM206.0 305.0H208.3V307.0H206.0zM210.6 305.0H212.9V307.0H210.6zM219.7 305.0H222.0V307.0H219.7zM100.4 307.0H102.9V309.0H100.4zM110.1 307.0H112.6V309.0H110.1zM210.6 307.0H212.9V309.0H210.6zM133.7 311.0H136.0V313.4H133.7zM138.3 313.4H140.7V315.8H138.3zM208.3 313.4H210.6V315.8H208.3zM119.7 315.8H122.0V318.2H119.7zM219.7 315.8H222.0V318.2H219.7zM117.3 318.2H119.7V320.5H117.3zM124.3 318.2H126.7V320.5H124.3zM102.9 320.5H105.3V322.9H102.9zM208.3 320.5H210.6V322.9H208.3zM131.3 322.9H133.7V325.3H131.3zM98.0 325.3H100.4V327.7H98.0zM105.3 325.3H107.7V327.7H105.3zM112.6 325.3H115.0V327.7H112.6zM98.0 327.7H100.4V330.1H98.0zM112.6 327.7H115.0V330.1H112.6zM208.3 327.7H210.6V330.1H208.3zM217.4 327.7H219.7V330.1H217.4zM115.0 330.1H117.3V332.5H115.0zM105.3 334.8H107.7V337.2H105.3zM107.7 334.8H110.1V337.2H107.7zM138.3 334.8H140.7V337.2H138.3zM107.7 337.2H110.1V339.6H107.7zM138.3 337.2H140.7V339.6H138.3zM110.1 339.6H112.6V342.0H110.1zM145.2 342.0H147.5V344.2H145.2zM154.2 342.0H156.5V344.2H154.2zM161.0 342.0H163.1V344.2H161.0zM167.4 342.0H169.6V344.2H167.4zM169.6 342.0H171.7V344.2H169.6zM143.0 344.2H145.2V346.4H143.0zM178.3 344.2H180.6V346.4H178.3zM185.2 344.2H187.5V346.4H185.2zM192.2 344.2H194.5V346.4H192.2zM145.2 346.4H147.5V348.6H145.2zM158.8 346.4H161.0V348.6H158.8zM169.6 346.4H171.7V348.6H169.6zM171.7 346.4H173.9V348.6H171.7zM145.2 350.9H147.5V353.1H145.2zM147.5 350.9H149.8V353.1H147.5zM192.2 353.1H194.5V355.3H192.2zM152.0 355.3H154.2V357.5H152.0zM169.6 355.3H171.7V357.5H169.6zM180.6 355.3H182.9V357.5H180.6z"/>
<path fill="#2b2b3b" d="M147.5 234.0H149.8V236.4H147.5zM180.6 234.0H182.9V236.4H180.6zM152.0 236.4H154.2V238.7H152.0zM161.0 236.4H163.1V238.7H161.0zM169.6 236.4H171.7V238.7H169.6zM167.4 238.7H169.6V241.1H167.4zM167.4 241.1H169.6V243.4H167.4zM171.7 241.1H173.9V243.4H171.7zM180.6 241.1H182.9V243.4H180.6zM182.9 241.1H185.2V243.4H182.9zM178.3 245.8H180.6V248.1H178.3zM185.2 245.8H187.5V248.1H185.2zM152.0 248.1H154.2V250.5H152.0zM165.3 248.1H167.4V250.5H165.3zM201.4 248.1H203.7V250.5H201.4zM187.5 255.1H189.8V257.4H187.5zM187.5 257.4H189.8V259.7H187.5zM199.1 257.4H201.4V259.7H199.1zM189.8 264.2H192.2V266.5H189.8zM176.0 266.5H178.3V268.8H176.0zM180.6 266.5H182.9V268.8H180.6zM199.1 266.5H201.4V268.8H199.1zM187.5 268.8H189.8V271.1H187.5zM163.1 271.1H165.3V273.4H163.1zM167.4 271.1H169.6V273.4H167.4zM178.3 275.7H180.6V278.0H178.3zM219.7 278.0H222.0V280.4H219.7zM217.4 280.4H219.7V282.8H217.4zM219.7 280.4H222.0V282.8H219.7zM98.0 282.8H100.4V285.1H98.0zM215.1 285.1H217.4V287.5H215.1zM100.4 287.5H102.9V289.9H100.4zM112.6 287.5H115.0V289.9H112.6zM212.9 289.9H215.1V292.2H212.9zM219.7 289.9H222.0V292.2H219.7zM206.0 292.2H208.3V294.6H206.0zM208.3 292.2H210.6V294.6H208.3zM215.1 292.2H217.4V294.6H215.1zM217.4 294.6H219.7V297.0H217.4zM100.4 297.0H102.9V299.0H100.4zM136.0 299.0H138.3V301.0H136.0zM217.4 299.0H219.7V301.0H217.4zM219.7 299.0H222.0V301.0H219.7zM112.6 301.0H115.0V303.0H112.6zM102.9 303.0H105.3V305.0H102.9zM105.3 303.0H107.7V305.0H105.3zM136.0 303.0H138.3V305.0H136.0zM208.3 303.0H210.6V305.0H208.3zM100.4 305.0H102.9V307.0H100.4zM105.3 307.0H107.7V309.0H105.3zM217.4 307.0H219.7V309.0H217.4zM219.7 307.0H222.0V309.0H219.7zM131.3 311.0H133.7V313.4H131.3zM208.3 311.0H210.6V313.4H208.3zM110.1 313.4H112.6V315.8H110.1zM140.7 313.4H143.0V315.8H140.7zM98.0 315.8H100.4V318.2H98.0zM105.3 315.8H107.7V318.2H105.3zM131.3 315.8H133.7V318.2H131.3zM212.9 315.8H215.1V318.2H212.9zM105.3 318.2H107.7V320.5H105.3zM208.3 318.2H210.6V320.5H208.3zM110.1 320.5H112.6V322.9H110.1zM119.7 322.9H122.0V325.3H119.7zM122.0 322.9H124.3V325.3H122.0zM133.7 322.9H136.0V325.3H133.7zM129.0 325.3H131.3V327.7H129.0zM210.6 332.5H212.9V334.8H210.6zM122.0 334.8H124.3V337.2H122.0zM131.3 334.8H133.7V337.2H131.3zM219.7 334.8H222.0V337.2H219.7zM112.6 337.2H115.0V339.6H112.6zM217.4 339.6H219.7V342.0H217.4zM156.5 342.0H158.8V344.2H156.5zM156.5 344.2H158.8V346.4H156.5zM167.4 344.2H169.6V346.4H167.4zM176.0 344.2H178.3V346.4H176.0zM182.9 344.2H185.2V346.4H182.9zM196.8 346.4H199.1V348.6H196.8zM154.2 348.6H156.5V350.9H154.2zM180.6 348.6H182.9V350.9H180.6zM149.8 350.9H152.0V353.1H149.8zM156.5 350.9H158.8V353.1H156.5zM145.2 353.1H147.5V355.3H145.2zM158.8 353.1H161.0V355.3H158.8zM163.1 353.1H165.3V355.3H163.1zM171.7 353.1H173.9V355.3H171.7zM203.7 353.1H206.0V355.3H203.7zM143.0 355.3H145.2V357.5H143.0zM145.2 355.3H147.5V357.5H145.2zM154.2 355.3H156.5V357.5H154.2zM163.1 355.3H165.3V357.5H163.1zM171.7 355.3H173.9V357.5H171.7zM199.1 355.3H201.4V357.5H199.1z"/>
<path fill="#2f2f42" d="M143.0 234.0H145.2V236.4H143.0zM149.8 234.0H152.0V236.4H149.8zM171.7 234.0H173.9V236.4H171.7zM176.0 234.0H178.3V236.4H176.0zM178.3 234.0H180.6V236.4H178.3zM182.9 234.0H185.2V236.4H182.9zM194.5 234.0H196.8V236.4H194.5zM143.0 236.4H145.2V238.7H143.0zM165.3 236.4H167.4V238.7H165.3zM185.2 236.4H187.5V238.7H185.2zM161.0 238.7H163.1V241.1H161.0zM187.5 238.7H189.8V241.1H187.5zM201.4 238.7H203.7V241.1H201.4zM185.2 241.1H187.5V243.4H185.2zM201.4 241.1H203.7V243.4H201.4zM149.8 243.4H152.0V245.8H149.8zM152.0 243.4H154.2V245.8H152.0zM171.7 243.4H173.9V245.8H171.7zM185.2 243.4H187.5V245.8H185.2zM152.0 245.8H154.2V248.1H152.0zM171.7 248.1H173.9V250.5H171.7zM173.9 250.5H176.0V252.8H173.9zM192.2 250.5H194.5V252.8H192.2zM185.2 252.8H187.5V255.1H185.2zM189.8 252.8H192.2V255.1H189.8zM185.2 257.4H187.5V259.7H185.2zM196.8 262.0H199.1V264.2H196.8zM203.7 262.0H206.0V264.2H203.7zM178.3 264.2H180.6V266.5H178.3zM178.3 266.5H180.6V268.8H178.3zM163.1 273.4H165.3V275.7H163.1zM165.3 273.4H167.4V275.7H165.3zM167.4 273.4H169.6V275.7H167.4zM180.6 273.4H182.9V275.7H180.6zM176.0 275.7H178.3V278.0H176.0zM182.9 275.7H185.2V278.0H182.9zM98.0 278.0H100.4V280.4H98.0zM100.4 278.0H102.9V280.4H100.4zM217.4 278.0H219.7V280.4H217.4zM212.9 280.4H215.1V282.8H212.9zM98.0 285.1H100.4V287.5H98.0zM107.7 285.1H110.1V287.5H107.7zM210.6 285.1H212.9V287.5H210.6zM107.7 287.5H110.1V289.9H107.7zM110.1 287.5H112.6V289.9H110.1zM208.3 287.5H210.6V289.9H208.3zM212.9 287.5H215.1V289.9H212.9zM215.1 287.5H217.4V289.9H215.1zM217.4 287.5H219.7V289.9H217.4zM217.4 289.9H219.7V292.2H217.4zM212.9 292.2H215.1V294.6H212.9zM217.4 292.2H219.7V294.6H217.4zM219.7 294.6H222.0V297.0H219.7zM102.9 297.0H105.3V299.0H102.9zM219.7 297.0H222.0V299.0H219.7zM138.3 299.0H140.7V301.0H138.3zM210.6 299.0H212.9V301.0H210.6zM100.4 301.0H102.9V303.0H100.4zM138.3 301.0H140.7V303.0H138.3zM219.7 301.0H222.0V303.0H219.7zM138.3 303.0H140.7V305.0H138.3zM98.0 307.0H100.4V309.0H98.0zM107.7 307.0H110.1V309.0H107.7zM112.6 307.0H115.0V309.0H112.6zM115.0 309.0H117.3V311.0H115.0zM98.0 311.0H100.4V313.4H98.0zM140.7 311.0H143.0V313.4H140.7zM98.0 313.4H100.4V315.8H98.0zM129.0 313.4H131.3V315.8H129.0zM131.3 313.4H133.7V315.8H131.3zM138.3 315.8H140.7V318.2H138.3zM98.0 318.2H100.4V320.5H98.0zM140.7 318.2H143.0V320.5H140.7zM100.4 320.5H102.9V322.9H100.4zM105.3 320.5H107.7V322.9H105.3zM107.7 320.5H110.1V322.9H107.7zM117.3 320.5H119.7V322.9H117.3zM122.0 320.5H124.3V322.9H122.0zM102.9 322.9H105.3V325.3H102.9zM117.3 325.3H119.7V327.7H117.3zM115.0 327.7H117.3V330.1H115.0zM98.0 330.1H100.4V332.5H98.0zM126.7 332.5H129.0V334.8H126.7zM102.9 337.2H105.3V339.6H102.9zM105.3 337.2H107.7V339.6H105.3zM215.1 337.2H217.4V339.6H215.1zM219.7 337.2H222.0V339.6H219.7zM126.7 339.6H129.0V342.0H126.7zM152.0 344.2H154.2V346.4H152.0zM149.8 346.4H152.0V348.6H149.8zM163.1 346.4H165.3V348.6H163.1zM145.2 348.6H147.5V350.9H145.2zM152.0 348.6H154.2V350.9H152.0zM156.5 348.6H158.8V350.9H156.5zM152.0 350.9H154.2V353.1H152.0zM201.4 350.9H203.7V353.1H201.4zM143.0 353.1H145.2V355.3H143.0zM152.0 353.1H154.2V355.3H152.0zM154.2 353.1H156.5V355.3H154.2zM156.5 353.1H158.8V355.3H156.5zM158.8 355.3H161.0V357.5H158.8zM161.0 355.3H163.1V357.5H161.0zM165.3 355.3H167.4V357.5H165.3zM201.4 355.3H203.7V357.5H201.4z"/>
<path fill="#343448" d="M145.2 234.0H147.5V236.4H145.2zM161.0 234.0H163.1V236.4H161.0zM167.4 234.0H169.6V236.4H167.4zM169.6 234.0H171.7V236.4H169.6zM173.9 234.0H176.0V236.4H173.9zM154.2 236.4H156.5V238.7H154.2zM167.4 236.4H169.6V238.7H167.4zM178.3 236.4H180.6V238.7H178.3zM182.9 236.4H185.2V238.7H182.9zM187.5 236.4H189.8V238.7H187.5zM192.2 236.4H194.5V238.7H192.2zM201.4 236.4H203.7V238.7H201.4zM203.7 236.4H206.0V238.7H203.7zM163.1 238.7H165.3V241.1H163.1zM145.2 241.1H147.5V243.4H145.2zM156.5 241.1H158.8V243.4H156.5zM161.0 241.1H163.1V243.4H161.0zM163.1 245.8H165.3V248.1H163.1zM187.5 248.1H189.8V250.5H187.5zM187.5 252.8H189.8V255.1H187.5zM192.2 255.1H194.5V257.4H192.2zM176.0 262.0H178.3V264.2H176.0zM194.5 262.0H196.8V264.2H194.5zM163.1 266.5H165.3V268.8H163.1zM163.1 268.8H165.3V271.1H163.1zM161.0 273.4H163.1V275.7H161.0zM176.0 273.4H178.3V275.7H176.0zM182.9 273.4H185.2V275.7H182.9zM180.6 275.7H182.9V278.0H180.6zM212.9 278.0H215.1V280.4H212.9zM98.0 280.4H100.4V282.8H98.0zM105.3 280.4H107.7V282.8H105.3zM219.7 282.8H222.0V285.1H219.7zM100.4 289.9H102.9V292.2H100.4zM105.3 292.2H107.7V294.6H105.3zM98.0 297.0H100.4V299.0H98.0zM105.3 297.0H107.7V299.0H105.3zM138.3 297.0H140.7V299.0H138.3zM215.1 297.0H217.4V299.0H215.1zM102.9 299.0H105.3V301.0H102.9zM110.1 299.0H112.6V301.0H110.1zM131.3 299.0H133.7V301.0H131.3zM133.7 299.0H136.0V301.0H133.7zM215.1 299.0H217.4V301.0H215.1zM215.1 301.0H217.4V303.0H215.1zM98.0 303.0H100.4V305.0H98.0zM100.4 303.0H102.9V305.0H100.4zM98.0 305.0H100.4V307.0H98.0zM98.0 309.0H100.4V311.0H98.0zM215.1 309.0H217.4V311.0H215.1zM126.7 311.0H129.0V313.4H126.7zM138.3 311.0H140.7V313.4H138.3zM212.9 311.0H215.1V313.4H212.9zM219.7 311.0H222.0V313.4H219.7zM100.4 313.4H102.9V315.8H100.4zM140.7 315.8H143.0V318.2H140.7zM100.4 318.2H102.9V320.5H100.4zM138.3 318.2H140.7V320.5H138.3zM212.9 320.5H215.1V322.9H212.9zM215.1 320.5H217.4V322.9H215.1zM219.7 320.5H222.0V322.9H219.7zM100.4 322.9H102.9V325.3H100.4zM112.6 322.9H115.0V325.3H112.6zM117.3 322.9H119.7V325.3H117.3zM212.9 322.9H215.1V325.3H212.9zM100.4 327.7H102.9V330.1H100.4zM119.7 327.7H122.0V330.1H119.7zM126.7 330.1H129.0V332.5H126.7zM217.4 334.8H219.7V337.2H217.4zM100.4 337.2H102.9V339.6H100.4zM100.4 339.6H102.9V342.0H100.4zM143.0 348.6H145.2V350.9H143.0zM176.0 348.6H178.3V350.9H176.0zM185.2 348.6H187.5V350.9H185.2zM187.5 348.6H189.8V350.9H187.5zM161.0 350.9H163.1V353.1H161.0zM163.1 350.9H165.3V353.1H163.1zM165.3 350.9H167.4V353.1H165.3zM173.9 350.9H176.0V353.1H173.9zM185.2 350.9H187.5V353.1H185.2zM199.1 353.1H201.4V355.3H199.1zM147.5 355.3H149.8V357.5H147.5zM176.0 355.3H178.3V357.5H176.0zM185.2 355.3H187.5V357.5H185.2z"/>
<path fill="#39394f" d="M152.0 234.0H154.2V236.4H152.0zM154.2 234.0H156.5V236.4H154.2zM163.1 234.0H165.3V236.4H163.1zM165.3 234.0H167.4V236.4H165.3zM201.4 234.0H203.7V236.4H201.4zM152.0 238.7H154.2V241.1H152.0zM171.7 238.7H173.9V241.1H171.7zM152.0 241.1H154.2V243.4H152.0zM169.6 243.4H171.7V245.8H169.6zM192.2 245.8H194.5V248.1H192.2zM145.2 248.1H147.5V250.5H145.2zM147.5 248.1H149.8V250.5H147.5zM199.1 248.1H201.4V250.5H199.1zM201.4 250.5H203.7V252.8H201.4zM203.7 250.5H206.0V252.8H203.7zM192.2 257.4H194.5V259.7H192.2zM185.2 259.7H187.5V262.0H185.2zM189.8 259.7H192.2V262.0H189.8zM192.2 259.7H194.5V262.0H192.2zM189.8 262.0H192.2V264.2H189.8zM178.3 268.8H180.6V271.1H178.3zM203.7 268.8H206.0V271.1H203.7zM182.9 271.1H185.2V273.4H182.9zM163.1 275.7H165.3V278.0H163.1zM112.6 280.4H115.0V282.8H112.6zM112.6 282.8H115.0V285.1H112.6zM98.0 287.5H100.4V289.9H98.0zM102.9 287.5H105.3V289.9H102.9zM105.3 287.5H107.7V289.9H105.3zM98.0 289.9H100.4V292.2H98.0zM210.6 289.9H212.9V292.2H210.6zM219.7 292.2H222.0V294.6H219.7zM215.1 294.6H217.4V297.0H215.1zM217.4 297.0H219.7V299.0H217.4zM98.0 299.0H100.4V301.0H98.0zM140.7 299.0H143.0V301.0H140.7zM98.0 301.0H100.4V303.0H98.0zM215.1 303.0H217.4V305.0H215.1zM217.4 303.0H219.7V305.0H217.4zM107.7 305.0H110.1V307.0H107.7zM102.9 307.0H105.3V309.0H102.9zM208.3 309.0H210.6V311.0H208.3zM133.7 313.4H136.0V315.8H133.7zM136.0 318.2H138.3V320.5H136.0zM124.3 320.5H126.7V322.9H124.3zM124.3 325.3H126.7V327.7H124.3zM126.7 325.3H129.0V327.7H126.7zM110.1 327.7H112.6V330.1H110.1zM122.0 327.7H124.3V330.1H122.0zM124.3 327.7H126.7V330.1H124.3zM112.6 334.8H115.0V337.2H112.6zM98.0 337.2H100.4V339.6H98.0zM115.0 337.2H117.3V339.6H115.0zM115.0 339.6H117.3V342.0H115.0zM133.7 339.6H136.0V342.0H133.7zM173.9 344.2H176.0V346.4H173.9zM154.2 346.4H156.5V348.6H154.2zM158.8 350.9H161.0V353.1H158.8zM167.4 350.9H169.6V353.1H167.4zM161.0 353.1H163.1V355.3H161.0zM167.4 353.1H169.6V355.3H167.4zM156.5 355.3H158.8V357.5H156.5z"/>
<path fill="#3e3e55" d="M199.1 234.0H201.4V236.4H199.1zM203.7 234.0H206.0V236.4H203.7zM147.5 236.4H149.8V238.7H147.5zM180.6 236.4H182.9V238.7H180.6zM147.5 238.7H149.8V241.1H147.5zM196.8 238.7H199.1V241.1H196.8zM154.2 241.1H156.5V243.4H154.2zM147.5 243.4H149.8V245.8H147.5zM163.1 243.4H165.3V245.8H163.1zM176.0 243.4H178.3V245.8H176.0zM196.8 245.8H199.1V248.1H196.8zM154.2 248.1H156.5V250.5H154.2zM189.8 250.5H192.2V252.8H189.8zM187.5 262.0H189.8V264.2H187.5zM192.2 262.0H194.5V264.2H192.2zM182.9 266.5H185.2V268.8H182.9zM194.5 268.8H196.8V271.1H194.5zM143.0 271.1H145.2V273.4H143.0zM180.6 271.1H182.9V273.4H180.6zM136.0 278.0H138.3V280.4H136.0zM100.4 282.8H102.9V285.1H100.4zM102.9 282.8H105.3V285.1H102.9zM107.7 282.8H110.1V285.1H107.7zM210.6 282.8H212.9V285.1H210.6zM105.3 289.9H107.7V292.2H105.3zM112.6 289.9H115.0V292.2H112.6zM215.1 289.9H217.4V292.2H215.1zM212.9 294.6H215.1V297.0H212.9zM107.7 299.0H110.1V301.0H107.7zM219.7 303.0H222.0V305.0H219.7zM107.7 311.0H110.1V313.4H107.7zM206.0 311.0H208.3V313.4H206.0zM219.7 313.4H222.0V315.8H219.7zM100.4 315.8H102.9V318.2H100.4zM136.0 315.8H138.3V318.2H136.0zM208.3 315.8H210.6V318.2H208.3zM131.3 318.2H133.7V320.5H131.3zM126.7 322.9H129.0V325.3H126.7zM115.0 325.3H117.3V327.7H115.0zM126.7 327.7H129.0V330.1H126.7zM133.7 330.1H136.0V332.5H133.7zM102.9 332.5H105.3V334.8H102.9zM110.1 332.5H112.6V334.8H110.1zM98.0 334.8H100.4V337.2H98.0zM98.0 339.6H100.4V342.0H98.0zM176.0 342.0H178.3V344.2H176.0zM180.6 344.2H182.9V346.4H180.6zM147.5 346.4H149.8V348.6H147.5zM158.8 348.6H161.0V350.9H158.8zM154.2 350.9H156.5V353.1H154.2zM167.4 355.3H169.6V357.5H167.4zM178.3 355.3H180.6V357.5H178.3z"/>
<path fill="#42425c" d="M145.2 236.4H147.5V238.7H145.2zM194.5 236.4H196.8V238.7H194.5zM156.5 238.7H158.8V241.1H156.5zM169.6 238.7H171.7V241.1H169.6zM149.8 241.1H152.0V243.4H149.8zM163.1 241.1H165.3V243.4H163.1zM143.0 243.4H145.2V245.8H143.0zM149.8 245.8H152.0V248.1H149.8zM161.0 245.8H163.1V248.1H161.0zM167.4 245.8H169.6V248.1H167.4zM189.8 245.8H192.2V248.1H189.8zM149.8 248.1H152.0V250.5H149.8zM156.5 248.1H158.8V250.5H156.5zM161.0 248.1H163.1V250.5H161.0zM163.1 248.1H165.3V250.5H163.1zM187.5 264.2H189.8V266.5H187.5zM194.5 266.5H196.8V268.8H194.5zM203.7 266.5H206.0V268.8H203.7zM182.9 268.8H185.2V271.1H182.9zM107.7 278.0H110.1V280.4H107.7zM100.4 280.4H102.9V282.8H100.4zM206.0 282.8H208.3V285.1H206.0zM105.3 285.1H107.7V287.5H105.3zM110.1 285.1H112.6V287.5H110.1zM112.6 285.1H115.0V287.5H112.6zM208.3 285.1H210.6V287.5H208.3zM210.6 287.5H212.9V289.9H210.6zM208.3 289.9H210.6V292.2H208.3zM102.9 292.2H105.3V294.6H102.9zM112.6 292.2H115.0V294.6H112.6zM110.1 297.0H112.6V299.0H110.1zM112.6 297.0H115.0V299.0H112.6zM105.3 299.0H107.7V301.0H105.3zM112.6 299.0H115.0V301.0H112.6zM110.1 303.0H112.6V305.0H110.1zM102.9 305.0H105.3V307.0H102.9zM210.6 311.0H212.9V313.4H210.6zM133.7 318.2H136.0V320.5H133.7zM129.0 322.9H131.3V325.3H129.0zM110.1 325.3H112.6V327.7H110.1zM100.4 330.1H102.9V332.5H100.4zM131.3 330.1H133.7V332.5H131.3zM217.4 337.2H219.7V339.6H217.4zM131.3 339.6H133.7V342.0H131.3zM147.5 342.0H149.8V344.2H147.5zM149.8 344.2H152.0V346.4H149.8zM154.2 344.2H156.5V346.4H154.2zM152.0 346.4H154.2V348.6H152.0zM176.0 346.4H178.3V348.6H176.0zM201.4 353.1H203.7V355.3H201.4z"/>
<path fill="#474762" d="M156.5 234.0H158.8V236.4H156.5zM158.8 234.0H161.0V236.4H158.8zM149.8 236.4H152.0V238.7H149.8zM158.8 236.4H161.0V238.7H158.8zM203.7 238.7H206.0V241.1H203.7zM187.5 243.4H189.8V245.8H187.5zM176.0 245.8H178.3V248.1H176.0zM167.4 248.1H169.6V250.5H167.4zM176.0 248.1H178.3V250.5H176.0zM165.3 252.8H167.4V255.1H165.3zM169.6 252.8H171.7V255.1H169.6zM171.7 252.8H173.9V255.1H171.7zM185.2 255.1H187.5V257.4H185.2zM171.7 264.2H173.9V266.5H171.7zM171.7 266.5H173.9V268.8H171.7zM169.6 271.1H171.7V273.4H169.6zM143.0 275.7H145.2V278.0H143.0zM140.7 278.0H143.0V280.4H140.7zM180.6 278.0H182.9V280.4H180.6zM100.4 285.1H102.9V287.5H100.4zM212.9 285.1H215.1V287.5H212.9zM206.0 287.5H208.3V289.9H206.0zM98.0 292.2H100.4V294.6H98.0zM98.0 294.6H100.4V297.0H98.0zM100.4 294.6H102.9V297.0H100.4zM117.3 301.0H119.7V303.0H117.3zM112.6 303.0H115.0V305.0H112.6zM117.3 305.0H119.7V307.0H117.3zM136.0 305.0H138.3V307.0H136.0zM117.3 307.0H119.7V309.0H117.3zM129.0 307.0H131.3V309.0H129.0zM131.3 307.0H133.7V309.0H131.3zM110.1 311.0H112.6V313.4H110.1zM112.6 311.0H115.0V313.4H112.6zM143.0 315.8H145.2V318.2H143.0zM119.7 320.5H122.0V322.9H119.7zM107.7 322.9H110.1V325.3H107.7zM219.7 332.5H222.0V334.8H219.7zM102.9 339.6H105.3V342.0H102.9zM152.0 342.0H154.2V344.2H152.0zM149.8 348.6H152.0V350.9H149.8zM196.8 355.3H199.1V357.5H196.8z"/>
<path fill="#4c4c69" d="M196.8 234.0H199.1V236.4H196.8zM176.0 238.7H178.3V241.1H176.0zM173.9 241.1H176.0V243.4H173.9zM145.2 245.8H147.5V248.1H145.2zM201.4 245.8H203.7V248.1H201.4zM196.8 248.1H199.1V250.5H196.8zM196.8 250.5H199.1V252.8H196.8zM178.3 262.0H180.6V264.2H178.3zM169.6 266.5H171.7V268.8H169.6zM171.7 268.8H173.9V271.1H171.7zM110.1 280.4H112.6V282.8H110.1zM178.3 280.4H180.6V282.8H178.3zM208.3 282.8H210.6V285.1H208.3zM178.3 289.9H180.6V292.2H178.3zM217.4 301.0H219.7V303.0H217.4zM131.3 305.0H133.7V307.0H131.3zM133.7 307.0H136.0V309.0H133.7zM105.3 309.0H107.7V311.0H105.3zM102.9 311.0H105.3V313.4H102.9zM126.7 313.4H129.0V315.8H126.7zM145.2 313.4H147.5V315.8H145.2zM154.2 313.4H156.5V315.8H154.2zM98.0 332.5H100.4V334.8H98.0zM112.6 332.5H115.0V334.8H112.6zM115.0 332.5H117.3V334.8H115.0zM110.1 337.2H112.6V339.6H110.1zM147.5 344.2H149.8V346.4H147.5zM165.3 353.1H167.4V355.3H165.3z"/>
<path fill="#51516f" d="M173.9 236.4H176.0V238.7H173.9zM143.0 238.7H145.2V241.1H143.0zM158.8 238.7H161.0V241.1H158.8zM196.8 241.1H199.1V243.4H196.8zM156.5 243.4H158.8V245.8H156.5zM154.2 245.8H156.5V248.1H154.2zM158.8 245.8H161.0V248.1H158.8zM165.3 245.8H167.4V248.1H165.3zM182.9 248.1H185.2V250.5H182.9zM185.2 248.1H187.5V250.5H185.2zM161.0 252.8H163.1V255.1H161.0zM171.7 255.1H173.9V257.4H171.7zM169.6 259.7H171.7V262.0H169.6zM171.7 259.7H173.9V262.0H171.7zM185.2 264.2H187.5V266.5H185.2zM102.9 278.0H105.3V280.4H102.9zM210.6 278.0H212.9V280.4H210.6zM110.1 289.9H112.6V292.2H110.1zM107.7 292.2H110.1V294.6H107.7zM102.9 294.6H105.3V297.0H102.9zM110.1 294.6H112.6V297.0H110.1zM201.4 294.6H203.7V297.0H201.4zM117.3 297.0H119.7V299.0H117.3zM110.1 301.0H112.6V303.0H110.1zM124.3 305.0H126.7V307.0H124.3zM119.7 307.0H122.0V309.0H119.7zM124.3 307.0H126.7V309.0H124.3zM100.4 309.0H102.9V311.0H100.4zM178.3 309.0H180.6V311.0H178.3zM173.9 313.4H176.0V315.8H173.9zM210.6 313.4H212.9V315.8H210.6zM112.6 318.2H115.0V320.5H112.6zM112.6 320.5H115.0V322.9H112.6zM129.0 320.5H131.3V322.9H129.0zM105.3 332.5H107.7V334.8H105.3zM158.8 337.2H161.0V339.6H158.8zM143.0 346.4H145.2V348.6H143.0zM178.3 346.4H180.6V348.6H178.3z"/>
<path fill="#555675" d="M173.9 245.8H176.0V248.1H173.9zM199.1 245.8H201.4V248.1H199.1zM178.3 248.1H180.6V250.5H178.3zM143.0 252.8H145.2V255.1H143.0zM167.4 252.8H169.6V255.1H167.4zM163.1 255.1H165.3V257.4H163.1zM165.3 255.1H167.4V257.4H165.3zM169.6 255.1H171.7V257.4H169.6zM163.1 257.4H165.3V259.7H163.1zM169.6 264.2H171.7V266.5H169.6zM154.2 266.5H156.5V268.8H154.2zM171.7 271.1H173.9V273.4H171.7zM171.7 273.4H173.9V275.7H171.7zM169.6 275.7H171.7V278.0H169.6zM117.3 278.0H119.7V280.4H117.3zM182.9 278.0H185.2V280.4H182.9zM176.0 280.4H178.3V282.8H176.0zM208.3 280.4H210.6V282.8H208.3zM212.9 282.8H215.1V285.1H212.9zM131.3 289.9H133.7V292.2H131.3zM119.7 299.0H122.0V301.0H119.7zM122.0 299.0H124.3V301.0H122.0zM119.7 301.0H122.0V303.0H119.7zM117.3 303.0H119.7V305.0H117.3zM119.7 305.0H122.0V307.0H119.7zM129.0 305.0H131.3V307.0H129.0zM140.7 305.0H143.0V307.0H140.7zM136.0 307.0H138.3V309.0H136.0zM138.3 307.0H140.7V309.0H138.3zM110.1 309.0H112.6V311.0H110.1zM145.2 311.0H147.5V313.4H145.2zM112.6 313.4H115.0V315.8H112.6zM143.0 318.2H145.2V320.5H143.0zM215.1 332.5H217.4V334.8H215.1zM217.4 332.5H219.7V334.8H217.4zM110.1 334.8H112.6V337.2H110.1zM145.2 344.2H147.5V346.4H145.2zM147.5 348.6H149.8V350.9H147.5zM196.8 350.9H199.1V353.1H196.8zM196.8 353.1H199.1V355.3H196.8z"/>
<path fill="#5a5d7a" d="M199.1 236.4H201.4V238.7H199.1zM158.8 241.1H161.0V243.4H158.8zM158.8 243.4H161.0V245.8H158.8zM178.3 243.4H180.6V245.8H178.3zM203.7 243.4H206.0V245.8H203.7zM156.5 245.8H158.8V248.1H156.5zM173.9 248.1H176.0V250.5H173.9zM143.0 255.1H145.2V257.4H143.0zM161.0 257.4H163.1V259.7H161.0zM171.7 257.4H173.9V259.7H171.7zM165.3 264.2H167.4V266.5H165.3zM154.2 268.8H156.5V271.1H154.2zM169.6 273.4H171.7V275.7H169.6zM173.9 273.4H176.0V275.7H173.9zM171.7 275.7H173.9V278.0H171.7zM119.7 278.0H122.0V280.4H119.7zM185.2 278.0H187.5V280.4H185.2zM176.0 285.1H178.3V287.5H176.0zM178.3 285.1H180.6V287.5H178.3zM133.7 289.9H136.0V292.2H133.7zM176.0 289.9H178.3V292.2H176.0zM110.1 292.2H112.6V294.6H110.1zM105.3 294.6H107.7V297.0H105.3zM107.7 294.6H110.1V297.0H107.7zM122.0 297.0H124.3V299.0H122.0zM129.0 301.0H131.3V303.0H129.0zM138.3 305.0H140.7V307.0H138.3zM122.0 307.0H124.3V309.0H122.0zM140.7 307.0H143.0V309.0H140.7zM112.6 309.0H115.0V311.0H112.6zM138.3 309.0H140.7V311.0H138.3zM149.8 311.0H152.0V313.4H149.8zM154.2 311.0H156.5V313.4H154.2zM107.7 313.4H110.1V315.8H107.7zM149.8 313.4H152.0V315.8H149.8zM206.0 313.4H208.3V315.8H206.0zM143.0 320.5H145.2V322.9H143.0zM100.4 334.8H102.9V337.2H100.4zM107.7 339.6H110.1V342.0H107.7zM178.3 342.0H180.6V344.2H178.3z"/>
<path fill="#5f637f" d="M156.5 236.4H158.8V238.7H156.5zM194.5 238.7H196.8V241.1H194.5zM149.8 250.5H152.0V252.8H149.8zM161.0 255.1H163.1V257.4H161.0zM169.6 257.4H171.7V259.7H169.6zM171.7 262.0H173.9V264.2H171.7zM173.9 266.5H176.0V268.8H173.9zM145.2 268.8H147.5V271.1H145.2zM147.5 268.8H149.8V271.1H147.5zM169.6 268.8H171.7V271.1H169.6zM173.9 268.8H176.0V271.1H173.9zM152.0 271.1H154.2V273.4H152.0zM143.0 273.4H145.2V275.7H143.0zM147.5 275.7H149.8V278.0H147.5zM138.3 278.0H140.7V280.4H138.3zM206.0 278.0H208.3V280.4H206.0zM133.7 280.4H136.0V282.8H133.7zM133.7 282.8H136.0V285.1H133.7zM140.7 282.8H143.0V285.1H140.7zM115.0 285.1H117.3V287.5H115.0zM136.0 287.5H138.3V289.9H136.0zM100.4 292.2H102.9V294.6H100.4zM196.8 292.2H199.1V294.6H196.8zM199.1 294.6H201.4V297.0H199.1zM119.7 297.0H122.0V299.0H119.7zM122.0 305.0H124.3V307.0H122.0zM133.7 305.0H136.0V307.0H133.7zM126.7 307.0H129.0V309.0H126.7zM131.3 309.0H133.7V311.0H131.3zM133.7 309.0H136.0V311.0H133.7zM212.9 313.4H215.1V315.8H212.9zM102.9 330.1H105.3V332.5H102.9zM156.5 332.5H158.8V334.8H156.5zM158.8 334.8H161.0V337.2H158.8zM143.0 342.0H145.2V344.2H143.0zM178.3 348.6H180.6V350.9H178.3z"/>
<path fill="#646a84" d="M210.6 236.4H212.9V238.7H210.6zM194.5 243.4H196.8V245.8H194.5zM158.8 248.1H161.0V250.5H158.8zM180.6 248.1H182.9V250.5H180.6zM145.2 250.5H147.5V252.8H145.2zM167.4 250.5H169.6V252.8H167.4zM167.4 255.1H169.6V257.4H167.4zM165.3 257.4H167.4V259.7H165.3zM167.4 257.4H169.6V259.7H167.4zM173.9 257.4H176.0V259.7H173.9zM173.9 264.2H176.0V266.5H173.9zM145.2 266.5H147.5V268.8H145.2zM147.5 266.5H149.8V268.8H147.5zM152.0 268.8H154.2V271.1H152.0zM145.2 275.7H147.5V278.0H145.2zM152.0 275.7H154.2V278.0H152.0zM115.0 280.4H117.3V282.8H115.0zM131.3 280.4H133.7V282.8H131.3zM140.7 280.4H143.0V282.8H140.7zM131.3 282.8H133.7V285.1H131.3zM182.9 282.8H185.2V285.1H182.9zM133.7 287.5H136.0V289.9H133.7zM140.7 287.5H143.0V289.9H140.7zM180.6 287.5H182.9V289.9H180.6zM182.9 287.5H185.2V289.9H182.9zM112.6 294.6H115.0V297.0H112.6zM196.8 294.6H199.1V297.0H196.8zM199.1 299.0H201.4V301.0H199.1zM122.0 301.0H124.3V303.0H122.0zM115.0 303.0H117.3V305.0H115.0zM119.7 303.0H122.0V305.0H119.7zM122.0 303.0H124.3V305.0H122.0zM122.0 309.0H124.3V311.0H122.0zM129.0 309.0H131.3V311.0H129.0zM112.6 315.8H115.0V318.2H112.6zM152.0 315.8H154.2V318.2H152.0zM147.5 318.2H149.8V320.5H147.5zM152.0 318.2H154.2V320.5H152.0zM107.7 330.1H110.1V332.5H107.7zM158.8 332.5H161.0V334.8H158.8zM163.1 334.8H165.3V337.2H163.1zM100.4 346.4H102.9V348.6H100.4z"/>
<path fill="#687088" d="M180.6 245.8H182.9V248.1H180.6zM147.5 250.5H149.8V252.8H147.5zM163.1 250.5H165.3V252.8H163.1zM171.7 250.5H173.9V252.8H171.7zM152.0 255.1H154.2V257.4H152.0zM143.0 257.4H145.2V259.7H143.0zM152.0 266.5H154.2V268.8H152.0zM147.5 271.1H149.8V273.4H147.5zM145.2 273.4H147.5V275.7H145.2zM149.8 273.4H152.0V275.7H149.8zM122.0 278.0H124.3V280.4H122.0zM138.3 280.4H140.7V282.8H138.3zM187.5 280.4H189.8V282.8H187.5zM115.0 282.8H117.3V285.1H115.0zM136.0 282.8H138.3V285.1H136.0zM189.8 282.8H192.2V285.1H189.8zM138.3 285.1H140.7V287.5H138.3zM192.2 285.1H194.5V287.5H192.2zM119.7 287.5H122.0V289.9H119.7zM131.3 287.5H133.7V289.9H131.3zM176.0 287.5H178.3V289.9H176.0zM178.3 287.5H180.6V289.9H178.3zM185.2 287.5H187.5V289.9H185.2zM187.5 289.9H189.8V292.2H187.5zM115.0 299.0H117.3V301.0H115.0zM115.0 307.0H117.3V309.0H115.0zM176.0 309.0H178.3V311.0H176.0zM194.5 309.0H196.8V311.0H194.5zM203.7 309.0H206.0V311.0H203.7zM152.0 311.0H154.2V313.4H152.0zM173.9 311.0H176.0V313.4H173.9zM152.0 313.4H154.2V315.8H152.0zM110.1 315.8H112.6V318.2H110.1zM152.0 320.5H154.2V322.9H152.0zM145.2 322.9H147.5V325.3H145.2zM154.2 322.9H156.5V325.3H154.2zM147.5 325.3H149.8V327.7H147.5zM149.8 327.7H152.0V330.1H149.8zM173.9 330.1H176.0V332.5H173.9zM173.9 339.6H176.0V342.0H173.9z"/>
<path fill="#6d778d" d="M178.3 238.7H180.6V241.1H178.3zM182.9 245.8H185.2V248.1H182.9zM158.8 250.5H161.0V252.8H158.8zM147.5 252.8H149.8V255.1H147.5zM163.1 252.8H165.3V255.1H163.1zM169.6 262.0H171.7V264.2H169.6zM143.0 266.5H145.2V268.8H143.0zM143.0 268.8H145.2V271.1H143.0zM145.2 271.1H147.5V273.4H145.2zM152.0 273.4H154.2V275.7H152.0zM149.8 275.7H152.0V278.0H149.8zM154.2 275.7H156.5V278.0H154.2zM131.3 278.0H133.7V280.4H131.3zM133.7 278.0H136.0V280.4H133.7zM173.9 278.0H176.0V280.4H173.9zM136.0 280.4H138.3V282.8H136.0zM117.3 282.8H119.7V285.1H117.3zM176.0 282.8H178.3V285.1H176.0zM140.7 285.1H143.0V287.5H140.7zM180.6 285.1H182.9V287.5H180.6zM182.9 285.1H185.2V287.5H182.9zM138.3 287.5H140.7V289.9H138.3zM187.5 287.5H189.8V289.9H187.5zM140.7 289.9H143.0V292.2H140.7zM182.9 289.9H185.2V292.2H182.9zM115.0 294.6H117.3V297.0H115.0zM178.3 294.6H180.6V297.0H178.3zM180.6 294.6H182.9V297.0H180.6zM117.3 299.0H119.7V301.0H117.3zM126.7 305.0H129.0V307.0H126.7zM185.2 307.0H187.5V309.0H185.2zM143.0 309.0H145.2V311.0H143.0zM147.5 311.0H149.8V313.4H147.5zM102.9 313.4H105.3V315.8H102.9zM158.8 313.4H161.0V315.8H158.8zM149.8 315.8H152.0V318.2H149.8zM158.8 315.8H161.0V318.2H158.8zM110.1 318.2H112.6V320.5H110.1zM149.8 318.2H152.0V320.5H149.8zM154.2 318.2H156.5V320.5H154.2zM171.7 320.5H173.9V322.9H171.7zM152.0 322.9H154.2V325.3H152.0z"/>
<path fill="#727d92" d="M154.2 250.5H156.5V252.8H154.2zM156.5 250.5H158.8V252.8H156.5zM161.0 250.5H163.1V252.8H161.0zM169.6 250.5H171.7V252.8H169.6zM152.0 252.8H154.2V255.1H152.0zM147.5 255.1H149.8V257.4H147.5zM154.2 257.4H156.5V259.7H154.2zM158.8 262.0H161.0V264.2H158.8zM161.0 264.2H163.1V266.5H161.0zM219.7 266.5H222.0V268.8H219.7zM147.5 273.4H149.8V275.7H147.5zM154.2 273.4H156.5V275.7H154.2zM176.0 278.0H178.3V280.4H176.0zM180.6 280.4H182.9V282.8H180.6zM119.7 282.8H122.0V285.1H119.7zM138.3 282.8H140.7V285.1H138.3zM180.6 282.8H182.9V285.1H180.6zM189.8 285.1H192.2V287.5H189.8zM117.3 287.5H119.7V289.9H117.3zM192.2 287.5H194.5V289.9H192.2zM115.0 289.9H117.3V292.2H115.0zM122.0 289.9H124.3V292.2H122.0zM138.3 289.9H140.7V292.2H138.3zM180.6 289.9H182.9V292.2H180.6zM115.0 292.2H117.3V294.6H115.0zM176.0 292.2H178.3V294.6H176.0zM203.7 292.2H206.0V294.6H203.7zM126.7 294.6H129.0V297.0H126.7zM165.3 294.6H167.4V297.0H165.3zM176.0 294.6H178.3V297.0H176.0zM203.7 294.6H206.0V297.0H203.7zM115.0 297.0H117.3V299.0H115.0zM129.0 297.0H131.3V299.0H129.0zM158.8 301.0H161.0V303.0H158.8zM115.0 305.0H117.3V307.0H115.0zM187.5 307.0H189.8V309.0H187.5zM143.0 311.0H145.2V313.4H143.0zM156.5 311.0H158.8V313.4H156.5zM158.8 311.0H161.0V313.4H158.8zM145.2 315.8H147.5V318.2H145.2zM147.5 315.8H149.8V318.2H147.5zM154.2 315.8H156.5V318.2H154.2zM171.7 322.9H173.9V325.3H171.7zM149.8 325.3H152.0V327.7H149.8zM152.0 327.7H154.2V330.1H152.0zM156.5 339.6H158.8V342.0H156.5zM158.8 339.6H161.0V342.0H158.8zM131.3 355.3H133.7V357.5H131.3z"/>
<path fill="#778497" d="M115.0 236.4H117.3V238.7H115.0zM131.3 241.1H133.7V243.4H131.3zM100.4 250.5H102.9V252.8H100.4zM154.2 252.8H156.5V255.1H154.2zM219.7 252.8H222.0V255.1H219.7zM149.8 255.1H152.0V257.4H149.8zM154.2 255.1H156.5V257.4H154.2zM173.9 255.1H176.0V257.4H173.9zM149.8 257.4H152.0V259.7H149.8zM152.0 257.4H154.2V259.7H152.0zM173.9 259.7H176.0V262.0H173.9zM167.4 264.2H169.6V266.5H167.4zM105.3 266.5H107.7V268.8H105.3zM215.1 266.5H217.4V268.8H215.1zM217.4 266.5H219.7V268.8H217.4zM219.7 268.8H222.0V271.1H219.7zM154.2 271.1H156.5V273.4H154.2zM173.9 275.7H176.0V278.0H173.9zM187.5 278.0H189.8V280.4H187.5zM189.8 278.0H192.2V280.4H189.8zM182.9 280.4H185.2V282.8H182.9zM189.8 280.4H192.2V282.8H189.8zM203.7 280.4H206.0V282.8H203.7zM192.2 282.8H194.5V285.1H192.2zM119.7 285.1H122.0V287.5H119.7zM122.0 285.1H124.3V287.5H122.0zM122.0 287.5H124.3V289.9H122.0zM117.3 289.9H119.7V292.2H117.3zM119.7 289.9H122.0V292.2H119.7zM136.0 289.9H138.3V292.2H136.0zM185.2 289.9H187.5V292.2H185.2zM194.5 289.9H196.8V292.2H194.5zM182.9 292.2H185.2V294.6H182.9zM182.9 294.6H185.2V297.0H182.9zM194.5 294.6H196.8V297.0H194.5zM129.0 303.0H131.3V305.0H129.0zM185.2 305.0H187.5V307.0H185.2zM189.8 305.0H192.2V307.0H189.8zM182.9 307.0H185.2V309.0H182.9zM119.7 309.0H122.0V311.0H119.7zM124.3 309.0H126.7V311.0H124.3zM140.7 309.0H143.0V311.0H140.7zM187.5 309.0H189.8V311.0H187.5zM189.8 309.0H192.2V311.0H189.8zM145.2 318.2H147.5V320.5H145.2zM156.5 318.2H158.8V320.5H156.5zM158.8 318.2H161.0V320.5H158.8zM171.7 318.2H173.9V320.5H171.7zM154.2 320.5H156.5V322.9H154.2zM169.6 320.5H171.7V322.9H169.6zM143.0 322.9H145.2V325.3H143.0zM173.9 322.9H176.0V325.3H173.9zM143.0 325.3H145.2V327.7H143.0zM145.2 325.3H147.5V327.7H145.2zM169.6 325.3H171.7V327.7H169.6zM173.9 325.3H176.0V327.7H173.9zM147.5 327.7H149.8V330.1H147.5zM154.2 330.1H156.5V332.5H154.2zM158.8 330.1H161.0V332.5H158.8zM145.2 339.6H147.5V342.0H145.2zM131.3 350.9H133.7V353.1H131.3zM131.3 353.1H133.7V355.3H131.3zM117.3 355.3H119.7V357.5H117.3zM133.7 355.3H136.0V357.5H133.7z"/>
<path fill="#7b8b9b" d="M136.0 238.7H138.3V241.1H136.0zM165.3 250.5H167.4V252.8H165.3zM145.2 252.8H147.5V255.1H145.2zM156.5 252.8H158.8V255.1H156.5zM156.5 255.1H158.8V257.4H156.5zM145.2 257.4H147.5V259.7H145.2zM147.5 257.4H149.8V259.7H147.5zM158.8 257.4H161.0V259.7H158.8zM158.8 259.7H161.0V262.0H158.8zM163.1 262.0H165.3V264.2H163.1zM167.4 262.0H169.6V264.2H167.4zM156.5 264.2H158.8V266.5H156.5zM217.4 268.8H219.7V271.1H217.4zM102.9 271.1H105.3V273.4H102.9zM149.8 271.1H152.0V273.4H149.8zM117.3 280.4H119.7V282.8H117.3zM122.0 280.4H124.3V282.8H122.0zM185.2 280.4H187.5V282.8H185.2zM194.5 280.4H196.8V282.8H194.5zM122.0 282.8H124.3V285.1H122.0zM178.3 282.8H180.6V285.1H178.3zM136.0 285.1H138.3V287.5H136.0zM187.5 285.1H189.8V287.5H187.5zM196.8 285.1H199.1V287.5H196.8zM201.4 285.1H203.7V287.5H201.4zM189.8 289.9H192.2V292.2H189.8zM192.2 289.9H194.5V292.2H192.2zM117.3 292.2H119.7V294.6H117.3zM119.7 292.2H122.0V294.6H119.7zM129.0 292.2H131.3V294.6H129.0zM178.3 292.2H180.6V294.6H178.3zM180.6 292.2H182.9V294.6H180.6zM194.5 292.2H196.8V294.6H194.5zM201.4 292.2H203.7V294.6H201.4zM122.0 294.6H124.3V297.0H122.0zM124.3 294.6H126.7V297.0H124.3zM194.5 297.0H196.8V299.0H194.5zM203.7 297.0H206.0V299.0H203.7zM126.7 299.0H129.0V301.0H126.7zM115.0 301.0H117.3V303.0H115.0zM126.7 303.0H129.0V305.0H126.7zM194.5 303.0H196.8V305.0H194.5zM203.7 303.0H206.0V305.0H203.7zM192.2 305.0H194.5V307.0H192.2zM189.8 307.0H192.2V309.0H189.8zM192.2 309.0H194.5V311.0H192.2zM147.5 313.4H149.8V315.8H147.5zM156.5 313.4H158.8V315.8H156.5zM156.5 315.8H158.8V318.2H156.5zM145.2 320.5H147.5V322.9H145.2zM149.8 322.9H152.0V325.3H149.8zM154.2 325.3H156.5V327.7H154.2zM171.7 325.3H173.9V327.7H171.7zM154.2 327.7H156.5V330.1H154.2zM169.6 327.7H171.7V330.1H169.6zM173.9 327.7H176.0V330.1H173.9zM145.2 330.1H147.5V332.5H145.2zM156.5 330.1H158.8V332.5H156.5zM161.0 330.1H163.1V332.5H161.0zM167.4 330.1H169.6V332.5H167.4zM149.8 332.5H152.0V334.8H149.8zM149.8 337.2H152.0V339.6H149.8zM156.5 337.2H158.8V339.6H156.5zM161.0 339.6H163.1V342.0H161.0zM167.4 339.6H169.6V342.0H167.4zM133.7 353.1H136.0V355.3H133.7z"/>
<path fill="#8091a0" d="M131.3 234.0H133.7V236.4H131.3zM208.3 234.0H210.6V236.4H208.3zM206.0 236.4H208.3V238.7H206.0zM206.0 241.1H208.3V243.4H206.0zM136.0 243.4H138.3V245.8H136.0zM140.7 243.4H143.0V245.8H140.7zM208.3 243.4H210.6V245.8H208.3zM131.3 248.1H133.7V250.5H131.3zM212.9 250.5H215.1V252.8H212.9zM173.9 252.8H176.0V255.1H173.9zM206.0 252.8H208.3V255.1H206.0zM217.4 252.8H219.7V255.1H217.4zM145.2 255.1H147.5V257.4H145.2zM143.0 259.7H145.2V262.0H143.0zM156.5 259.7H158.8V262.0H156.5zM163.1 259.7H165.3V262.0H163.1zM156.5 262.0H158.8V264.2H156.5zM161.0 262.0H163.1V264.2H161.0zM143.0 264.2H145.2V266.5H143.0zM98.0 266.5H100.4V268.8H98.0zM112.6 266.5H115.0V268.8H112.6zM149.8 266.5H152.0V268.8H149.8zM215.1 268.8H217.4V271.1H215.1zM107.7 271.1H110.1V273.4H107.7zM156.5 271.1H158.8V273.4H156.5zM107.7 275.7H110.1V278.0H107.7zM124.3 278.0H126.7V280.4H124.3zM129.0 278.0H131.3V280.4H129.0zM192.2 278.0H194.5V280.4H192.2zM119.7 280.4H122.0V282.8H119.7zM192.2 280.4H194.5V282.8H192.2zM185.2 282.8H187.5V285.1H185.2zM187.5 282.8H189.8V285.1H187.5zM131.3 285.1H133.7V287.5H131.3zM189.8 287.5H192.2V289.9H189.8zM203.7 289.9H206.0V292.2H203.7zM124.3 292.2H126.7V294.6H124.3zM126.7 292.2H129.0V294.6H126.7zM136.0 292.2H138.3V294.6H136.0zM199.1 292.2H201.4V294.6H199.1zM192.2 294.6H194.5V297.0H192.2zM126.7 297.0H129.0V299.0H126.7zM124.3 299.0H126.7V301.0H124.3zM178.3 301.0H180.6V303.0H178.3zM180.6 305.0H182.9V307.0H180.6zM182.9 305.0H185.2V307.0H182.9zM187.5 305.0H189.8V307.0H187.5zM178.3 307.0H180.6V309.0H178.3zM180.6 307.0H182.9V309.0H180.6zM192.2 307.0H194.5V309.0H192.2zM117.3 309.0H119.7V311.0H117.3zM165.3 313.4H167.4V315.8H165.3zM171.7 313.4H173.9V315.8H171.7zM169.6 315.8H171.7V318.2H169.6zM171.7 315.8H173.9V318.2H171.7zM169.6 318.2H171.7V320.5H169.6zM147.5 320.5H149.8V322.9H147.5zM147.5 322.9H149.8V325.3H147.5zM169.6 322.9H171.7V325.3H169.6zM152.0 325.3H154.2V327.7H152.0zM143.0 327.7H145.2V330.1H143.0zM145.2 327.7H147.5V330.1H145.2zM158.8 327.7H161.0V330.1H158.8zM171.7 327.7H173.9V330.1H171.7zM156.5 334.8H158.8V337.2H156.5zM154.2 339.6H156.5V342.0H154.2zM100.4 342.0H102.9V344.2H100.4zM105.3 342.0H107.7V344.2H105.3zM117.3 342.0H119.7V344.2H117.3zM98.0 344.2H100.4V346.4H98.0zM107.7 344.2H110.1V346.4H107.7zM115.0 348.6H117.3V350.9H115.0zM133.7 350.9H136.0V353.1H133.7zM117.3 353.1H119.7V355.3H117.3z"/>
<path fill="#8598a5" d="M138.3 234.0H140.7V236.4H138.3zM138.3 236.4H140.7V238.7H138.3zM140.7 236.4H143.0V238.7H140.7zM131.3 238.7H133.7V241.1H131.3zM138.3 238.7H140.7V241.1H138.3zM140.7 238.7H143.0V241.1H140.7zM133.7 241.1H136.0V243.4H133.7zM212.9 241.1H215.1V243.4H212.9zM138.3 243.4H140.7V245.8H138.3zM126.7 248.1H129.0V250.5H126.7zM208.3 250.5H210.6V252.8H208.3zM112.6 262.0H115.0V264.2H112.6zM149.8 262.0H152.0V264.2H149.8zM102.9 266.5H105.3V268.8H102.9zM105.3 268.8H107.7V271.1H105.3zM149.8 268.8H152.0V271.1H149.8zM173.9 271.1H176.0V273.4H173.9zM98.0 273.4H100.4V275.7H98.0zM100.4 273.4H102.9V275.7H100.4zM102.9 273.4H105.3V275.7H102.9zM107.7 273.4H110.1V275.7H107.7zM100.4 275.7H102.9V278.0H100.4zM102.9 275.7H105.3V278.0H102.9zM156.5 275.7H158.8V278.0H156.5zM196.8 280.4H199.1V282.8H196.8zM196.8 282.8H199.1V285.1H196.8zM199.1 282.8H201.4V285.1H199.1zM201.4 282.8H203.7V285.1H201.4zM203.7 282.8H206.0V285.1H203.7zM126.7 285.1H129.0V287.5H126.7zM133.7 285.1H136.0V287.5H133.7zM185.2 285.1H187.5V287.5H185.2zM194.5 285.1H196.8V287.5H194.5zM140.7 292.2H143.0V294.6H140.7zM161.0 294.6H163.1V297.0H161.0zM171.7 294.6H173.9V297.0H171.7zM158.8 297.0H161.0V299.0H158.8zM196.8 297.0H199.1V299.0H196.8zM199.1 297.0H201.4V299.0H199.1zM194.5 299.0H196.8V301.0H194.5zM201.4 299.0H203.7V301.0H201.4zM194.5 301.0H196.8V303.0H194.5zM196.8 303.0H199.1V305.0H196.8zM201.4 303.0H203.7V305.0H201.4zM158.8 307.0H161.0V309.0H158.8zM136.0 309.0H138.3V311.0H136.0zM149.8 320.5H152.0V322.9H149.8zM149.8 330.1H152.0V332.5H149.8zM163.1 330.1H165.3V332.5H163.1zM165.3 330.1H167.4V332.5H165.3zM145.2 332.5H147.5V334.8H145.2zM147.5 332.5H149.8V334.8H147.5zM161.0 332.5H163.1V334.8H161.0zM167.4 332.5H169.6V334.8H167.4zM147.5 334.8H149.8V337.2H147.5zM161.0 334.8H163.1V337.2H161.0zM147.5 337.2H149.8V339.6H147.5zM163.1 337.2H165.3V339.6H163.1zM167.4 337.2H169.6V339.6H167.4zM147.5 339.6H149.8V342.0H147.5zM115.0 344.2H117.3V346.4H115.0zM105.3 348.6H107.7V350.9H105.3z"/>
<path fill="#8a9eaa" d="M133.7 234.0H136.0V236.4H133.7zM212.9 234.0H215.1V236.4H212.9zM136.0 236.4H138.3V238.7H136.0zM208.3 238.7H210.6V241.1H208.3zM124.3 243.4H126.7V245.8H124.3zM126.7 245.8H129.0V248.1H126.7zM158.8 255.1H161.0V257.4H158.8zM156.5 257.4H158.8V259.7H156.5zM107.7 259.7H110.1V262.0H107.7zM161.0 259.7H163.1V262.0H161.0zM165.3 259.7H167.4V262.0H165.3zM167.4 259.7H169.6V262.0H167.4zM212.9 259.7H215.1V262.0H212.9zM110.1 262.0H112.6V264.2H110.1zM145.2 262.0H147.5V264.2H145.2zM208.3 262.0H210.6V264.2H208.3zM98.0 268.8H100.4V271.1H98.0zM100.4 271.1H102.9V273.4H100.4zM156.5 273.4H158.8V275.7H156.5zM196.8 278.0H199.1V280.4H196.8zM199.1 278.0H201.4V280.4H199.1zM126.7 280.4H129.0V282.8H126.7zM203.7 285.1H206.0V287.5H203.7zM199.1 287.5H201.4V289.9H199.1zM122.0 292.2H124.3V294.6H122.0zM138.3 292.2H140.7V294.6H138.3zM169.6 292.2H171.7V294.6H169.6zM119.7 294.6H122.0V297.0H119.7zM167.4 294.6H169.6V297.0H167.4zM169.6 294.6H171.7V297.0H169.6zM124.3 297.0H126.7V299.0H124.3zM124.3 301.0H126.7V303.0H124.3zM180.6 301.0H182.9V303.0H180.6zM185.2 301.0H187.5V303.0H185.2zM203.7 301.0H206.0V303.0H203.7zM124.3 303.0H126.7V305.0H124.3zM158.8 303.0H161.0V305.0H158.8zM156.5 305.0H158.8V307.0H156.5zM158.8 305.0H161.0V307.0H158.8zM182.9 309.0H185.2V311.0H182.9zM196.8 309.0H199.1V311.0H196.8zM165.3 315.8H167.4V318.2H165.3zM173.9 318.2H176.0V320.5H173.9zM165.3 320.5H167.4V322.9H165.3zM143.0 332.5H145.2V334.8H143.0zM173.9 332.5H176.0V334.8H173.9zM143.0 334.8H145.2V337.2H143.0zM152.0 334.8H154.2V337.2H152.0zM149.8 339.6H152.0V342.0H149.8zM165.3 339.6H167.4V342.0H165.3zM102.9 344.2H105.3V346.4H102.9zM126.7 344.2H129.0V346.4H126.7zM98.0 348.6H100.4V350.9H98.0zM124.3 348.6H126.7V350.9H124.3z"/>
<path fill="#8ea5ae" d="M136.0 234.0H138.3V236.4H136.0zM140.7 234.0H143.0V236.4H140.7zM117.3 238.7H119.7V241.1H117.3zM126.7 241.1H129.0V243.4H126.7zM138.3 241.1H140.7V243.4H138.3zM208.3 241.1H210.6V243.4H208.3zM143.0 250.5H145.2V252.8H143.0zM152.0 250.5H154.2V252.8H152.0zM102.9 252.8H105.3V255.1H102.9zM210.6 252.8H212.9V255.1H210.6zM206.0 259.7H208.3V262.0H206.0zM105.3 262.0H107.7V264.2H105.3zM154.2 262.0H156.5V264.2H154.2zM215.1 262.0H217.4V264.2H215.1zM145.2 264.2H147.5V266.5H145.2zM98.0 271.1H100.4V273.4H98.0zM105.3 273.4H107.7V275.7H105.3zM158.8 273.4H161.0V275.7H158.8zM98.0 275.7H100.4V278.0H98.0zM115.0 278.0H117.3V280.4H115.0zM178.3 278.0H180.6V280.4H178.3zM129.0 280.4H131.3V282.8H129.0zM201.4 280.4H203.7V282.8H201.4zM199.1 285.1H201.4V287.5H199.1zM115.0 287.5H117.3V289.9H115.0zM126.7 289.9H129.0V292.2H126.7zM163.1 292.2H165.3V294.6H163.1zM185.2 292.2H187.5V294.6H185.2zM189.8 292.2H192.2V294.6H189.8zM138.3 294.6H140.7V297.0H138.3zM189.8 294.6H192.2V297.0H189.8zM156.5 299.0H158.8V301.0H156.5zM203.7 299.0H206.0V301.0H203.7zM187.5 301.0H189.8V303.0H187.5zM176.0 307.0H178.3V309.0H176.0zM201.4 309.0H203.7V311.0H201.4zM171.7 311.0H173.9V313.4H171.7zM143.0 313.4H145.2V315.8H143.0zM156.5 320.5H158.8V322.9H156.5zM165.3 322.9H167.4V325.3H165.3zM156.5 325.3H158.8V327.7H156.5zM158.8 325.3H161.0V327.7H158.8zM149.8 334.8H152.0V337.2H149.8zM145.2 337.2H147.5V339.6H145.2zM173.9 337.2H176.0V339.6H173.9zM163.1 339.6H165.3V342.0H163.1zM124.3 342.0H126.7V344.2H124.3zM105.3 344.2H107.7V346.4H105.3zM117.3 346.4H119.7V348.6H117.3zM126.7 350.9H129.0V353.1H126.7z"/>
<path fill="#93abb3" d="M206.0 234.0H208.3V236.4H206.0zM126.7 236.4H129.0V238.7H126.7zM124.3 238.7H126.7V241.1H124.3zM215.1 243.4H217.4V245.8H215.1zM212.9 252.8H215.1V255.1H212.9zM210.6 257.4H212.9V259.7H210.6zM102.9 259.7H105.3V262.0H102.9zM210.6 259.7H212.9V262.0H210.6zM100.4 262.0H102.9V264.2H100.4zM154.2 264.2H156.5V266.5H154.2zM163.1 264.2H165.3V266.5H163.1zM217.4 264.2H219.7V266.5H217.4zM194.5 282.8H196.8V285.1H194.5zM165.3 285.1H167.4V287.5H165.3zM173.9 287.5H176.0V289.9H173.9zM201.4 287.5H203.7V289.9H201.4zM129.0 289.9H131.3V292.2H129.0zM196.8 289.9H199.1V292.2H196.8zM201.4 289.9H203.7V292.2H201.4zM171.7 292.2H173.9V294.6H171.7zM185.2 297.0H187.5V299.0H185.2zM129.0 299.0H131.3V301.0H129.0zM180.6 299.0H182.9V301.0H180.6zM192.2 299.0H194.5V301.0H192.2zM196.8 299.0H199.1V301.0H196.8zM149.8 301.0H152.0V303.0H149.8zM182.9 303.0H185.2V305.0H182.9zM176.0 305.0H178.3V307.0H176.0zM156.5 307.0H158.8V309.0H156.5zM152.0 309.0H154.2V311.0H152.0zM169.6 311.0H171.7V313.4H169.6zM163.1 315.8H165.3V318.2H163.1zM167.4 318.2H169.6V320.5H167.4zM161.0 320.5H163.1V322.9H161.0zM163.1 327.7H165.3V330.1H163.1zM147.5 330.1H149.8V332.5H147.5zM154.2 332.5H156.5V334.8H154.2zM163.1 332.5H165.3V334.8H163.1zM152.0 337.2H154.2V339.6H152.0zM154.2 337.2H156.5V339.6H154.2zM98.0 342.0H100.4V344.2H98.0zM122.0 346.4H124.3V348.6H122.0zM124.3 346.4H126.7V348.6H124.3zM117.3 348.6H119.7V350.9H117.3zM107.7 350.9H110.1V353.1H107.7zM129.0 353.1H131.3V355.3H129.0z"/>
<path fill="#98b2b8" d="M133.7 236.4H136.0V238.7H133.7zM133.7 238.7H136.0V241.1H133.7zM133.7 248.1H136.0V250.5H133.7zM208.3 252.8H210.6V255.1H208.3zM206.0 255.1H208.3V257.4H206.0zM165.3 262.0H167.4V264.2H165.3zM147.5 264.2H149.8V266.5H147.5zM100.4 268.8H102.9V271.1H100.4zM102.9 268.8H105.3V271.1H102.9zM112.6 268.8H115.0V271.1H112.6zM156.5 268.8H158.8V271.1H156.5zM163.1 280.4H165.3V282.8H163.1zM129.0 282.8H131.3V285.1H129.0zM165.3 282.8H167.4V285.1H165.3zM161.0 285.1H163.1V287.5H161.0zM167.4 285.1H169.6V287.5H167.4zM199.1 289.9H201.4V292.2H199.1zM133.7 292.2H136.0V294.6H133.7zM161.0 292.2H163.1V294.6H161.0zM173.9 292.2H176.0V294.6H173.9zM192.2 292.2H194.5V294.6H192.2zM173.9 294.6H176.0V297.0H173.9zM149.8 297.0H152.0V299.0H149.8zM156.5 297.0H158.8V299.0H156.5zM176.0 297.0H178.3V299.0H176.0zM178.3 297.0H180.6V299.0H178.3zM187.5 297.0H189.8V299.0H187.5zM201.4 297.0H203.7V299.0H201.4zM145.2 299.0H147.5V301.0H145.2zM176.0 299.0H178.3V301.0H176.0zM126.7 301.0H129.0V303.0H126.7zM147.5 301.0H149.8V303.0H147.5zM149.8 303.0H152.0V305.0H149.8zM176.0 303.0H178.3V305.0H176.0zM178.3 303.0H180.6V305.0H178.3zM199.1 303.0H201.4V305.0H199.1zM178.3 305.0H180.6V307.0H178.3zM199.1 307.0H201.4V309.0H199.1zM156.5 309.0H158.8V311.0H156.5zM158.8 309.0H161.0V311.0H158.8zM180.6 309.0H182.9V311.0H180.6zM185.2 309.0H187.5V311.0H185.2zM161.0 311.0H163.1V313.4H161.0zM163.1 311.0H165.3V313.4H163.1zM167.4 311.0H169.6V313.4H167.4zM161.0 313.4H163.1V315.8H161.0zM167.4 313.4H169.6V315.8H167.4zM169.6 313.4H171.7V315.8H169.6zM173.9 315.8H176.0V318.2H173.9zM173.9 320.5H176.0V322.9H173.9zM161.0 322.9H163.1V325.3H161.0zM156.5 327.7H158.8V330.1H156.5zM154.2 334.8H156.5V337.2H154.2zM167.4 334.8H169.6V337.2H167.4zM171.7 334.8H173.9V337.2H171.7zM161.0 337.2H163.1V339.6H161.0zM119.7 342.0H122.0V344.2H119.7zM117.3 344.2H119.7V346.4H117.3z"/>
<path fill="#9db8bd" d="M210.6 234.0H212.9V236.4H210.6zM129.0 236.4H131.3V238.7H129.0zM215.1 236.4H217.4V238.7H215.1zM217.4 236.4H219.7V238.7H217.4zM119.7 243.4H122.0V245.8H119.7zM210.6 243.4H212.9V245.8H210.6zM217.4 243.4H219.7V245.8H217.4zM129.0 245.8H131.3V248.1H129.0zM206.0 245.8H208.3V248.1H206.0zM149.8 252.8H152.0V255.1H149.8zM215.1 252.8H217.4V255.1H215.1zM107.7 255.1H110.1V257.4H107.7zM215.1 257.4H217.4V259.7H215.1zM217.4 257.4H219.7V259.7H217.4zM147.5 259.7H149.8V262.0H147.5zM149.8 259.7H152.0V262.0H149.8zM100.4 264.2H102.9V266.5H100.4zM110.1 264.2H112.6V266.5H110.1zM206.0 264.2H208.3V266.5H206.0zM156.5 266.5H158.8V268.8H156.5zM158.8 271.1H161.0V273.4H158.8zM201.4 278.0H203.7V280.4H201.4zM124.3 282.8H126.7V285.1H124.3zM117.3 285.1H119.7V287.5H117.3zM124.3 285.1H126.7V287.5H124.3zM167.4 287.5H169.6V289.9H167.4zM194.5 287.5H196.8V289.9H194.5zM196.8 287.5H199.1V289.9H196.8zM163.1 289.9H165.3V292.2H163.1zM131.3 292.2H133.7V294.6H131.3zM187.5 292.2H189.8V294.6H187.5zM136.0 294.6H138.3V297.0H136.0zM180.6 297.0H182.9V299.0H180.6zM182.9 297.0H185.2V299.0H182.9zM154.2 299.0H156.5V301.0H154.2zM182.9 299.0H185.2V301.0H182.9zM176.0 301.0H178.3V303.0H176.0zM196.8 301.0H199.1V303.0H196.8zM152.0 303.0H154.2V305.0H152.0zM185.2 303.0H187.5V305.0H185.2zM187.5 303.0H189.8V305.0H187.5zM189.8 303.0H192.2V305.0H189.8zM199.1 305.0H201.4V307.0H199.1zM201.4 305.0H203.7V307.0H201.4zM165.3 311.0H167.4V313.4H165.3zM161.0 315.8H163.1V318.2H161.0zM161.0 318.2H163.1V320.5H161.0zM163.1 318.2H165.3V320.5H163.1zM167.4 320.5H169.6V322.9H167.4zM156.5 322.9H158.8V325.3H156.5zM167.4 322.9H169.6V325.3H167.4zM167.4 325.3H169.6V327.7H167.4zM152.0 330.1H154.2V332.5H152.0zM152.0 332.5H154.2V334.8H152.0zM165.3 332.5H167.4V334.8H165.3zM169.6 334.8H171.7V337.2H169.6zM143.0 337.2H145.2V339.6H143.0zM169.6 337.2H171.7V339.6H169.6zM110.1 342.0H112.6V344.2H110.1zM129.0 342.0H131.3V344.2H129.0zM98.0 346.4H100.4V348.6H98.0zM107.7 346.4H110.1V348.6H107.7zM100.4 350.9H102.9V353.1H100.4zM117.3 350.9H119.7V353.1H117.3zM122.0 350.9H124.3V353.1H122.0zM100.4 353.1H102.9V355.3H100.4zM107.7 353.1H110.1V355.3H107.7zM122.0 353.1H124.3V355.3H122.0z"/>
<path fill="#a1bfc1" d="M122.0 234.0H124.3V236.4H122.0zM219.7 234.0H222.0V236.4H219.7zM131.3 236.4H133.7V238.7H131.3zM215.1 238.7H217.4V241.1H215.1zM122.0 241.1H124.3V243.4H122.0zM117.3 243.4H119.7V245.8H117.3zM206.0 243.4H208.3V245.8H206.0zM133.7 245.8H136.0V248.1H133.7zM107.7 252.8H110.1V255.1H107.7zM210.6 255.1H212.9V257.4H210.6zM98.0 257.4H100.4V259.7H98.0zM105.3 257.4H107.7V259.7H105.3zM206.0 257.4H208.3V259.7H206.0zM212.9 257.4H215.1V259.7H212.9zM152.0 259.7H154.2V262.0H152.0zM219.7 259.7H222.0V262.0H219.7zM219.7 262.0H222.0V264.2H219.7zM149.8 264.2H152.0V266.5H149.8zM152.0 264.2H154.2V266.5H152.0zM158.8 264.2H161.0V266.5H158.8zM208.3 264.2H210.6V266.5H208.3zM219.7 264.2H222.0V266.5H219.7zM100.4 266.5H102.9V268.8H100.4zM158.8 266.5H161.0V268.8H158.8zM210.6 266.5H212.9V268.8H210.6zM110.1 268.8H112.6V271.1H110.1zM217.4 273.4H219.7V275.7H217.4zM158.8 275.7H161.0V278.0H158.8zM217.4 275.7H219.7V278.0H217.4zM161.0 278.0H163.1V280.4H161.0zM167.4 278.0H169.6V280.4H167.4zM169.6 280.4H171.7V282.8H169.6zM163.1 282.8H165.3V285.1H163.1zM129.0 285.1H131.3V287.5H129.0zM169.6 285.1H171.7V287.5H169.6zM171.7 285.1H173.9V287.5H171.7zM124.3 287.5H126.7V289.9H124.3zM129.0 287.5H131.3V289.9H129.0zM161.0 287.5H163.1V289.9H161.0zM203.7 287.5H206.0V289.9H203.7zM169.6 289.9H171.7V292.2H169.6zM129.0 294.6H131.3V297.0H129.0zM131.3 294.6H133.7V297.0H131.3zM140.7 294.6H143.0V297.0H140.7zM187.5 294.6H189.8V297.0H187.5zM143.0 297.0H145.2V299.0H143.0zM152.0 297.0H154.2V299.0H152.0zM147.5 299.0H149.8V301.0H147.5zM178.3 299.0H180.6V301.0H178.3zM185.2 299.0H187.5V301.0H185.2zM189.8 299.0H192.2V301.0H189.8zM182.9 301.0H185.2V303.0H182.9zM199.1 301.0H201.4V303.0H199.1zM201.4 301.0H203.7V303.0H201.4zM143.0 303.0H145.2V305.0H143.0zM180.6 303.0H182.9V305.0H180.6zM145.2 305.0H147.5V307.0H145.2zM149.8 305.0H152.0V307.0H149.8zM154.2 305.0H156.5V307.0H154.2zM149.8 307.0H152.0V309.0H149.8zM194.5 307.0H196.8V309.0H194.5zM203.7 307.0H206.0V309.0H203.7zM163.1 313.4H165.3V315.8H163.1zM167.4 315.8H169.6V318.2H167.4zM165.3 318.2H167.4V320.5H165.3zM163.1 320.5H165.3V322.9H163.1zM158.8 322.9H161.0V325.3H158.8zM163.1 325.3H165.3V327.7H163.1zM171.7 330.1H173.9V332.5H171.7zM165.3 334.8H167.4V337.2H165.3zM165.3 337.2H167.4V339.6H165.3zM152.0 339.6H154.2V342.0H152.0zM171.7 339.6H173.9V342.0H171.7zM107.7 342.0H110.1V344.2H107.7zM122.0 342.0H124.3V344.2H122.0zM129.0 344.2H131.3V346.4H129.0zM119.7 346.4H122.0V348.6H119.7zM131.3 346.4H133.7V348.6H131.3zM122.0 348.6H124.3V350.9H122.0zM102.9 350.9H105.3V353.1H102.9zM138.3 353.1H140.7V355.3H138.3zM140.7 353.1H143.0V355.3H140.7zM98.0 355.3H100.4V357.5H98.0zM124.3 355.3H126.7V357.5H124.3zM126.7 355.3H129.0V357.5H126.7zM129.0 355.3H131.3V357.5H129.0z"/>
<path fill="#a6c6c6" d="M119.7 238.7H122.0V241.1H119.7zM140.7 241.1H143.0V243.4H140.7zM210.6 241.1H212.9V243.4H210.6zM115.0 243.4H117.3V245.8H115.0zM131.3 243.4H133.7V245.8H131.3zM219.7 243.4H222.0V245.8H219.7zM115.0 245.8H117.3V248.1H115.0zM140.7 245.8H143.0V248.1H140.7zM210.6 245.8H212.9V248.1H210.6zM138.3 248.1H140.7V250.5H138.3zM107.7 250.5H110.1V252.8H107.7zM110.1 250.5H112.6V252.8H110.1zM219.7 250.5H222.0V252.8H219.7zM102.9 255.1H105.3V257.4H102.9zM217.4 255.1H219.7V257.4H217.4zM208.3 257.4H210.6V259.7H208.3zM219.7 257.4H222.0V259.7H219.7zM147.5 262.0H149.8V264.2H147.5zM212.9 262.0H215.1V264.2H212.9zM217.4 262.0H219.7V264.2H217.4zM107.7 266.5H110.1V268.8H107.7zM217.4 271.1H219.7V273.4H217.4zM112.6 273.4H115.0V275.7H112.6zM105.3 275.7H107.7V278.0H105.3zM110.1 275.7H112.6V278.0H110.1zM163.1 278.0H165.3V280.4H163.1zM171.7 280.4H173.9V282.8H171.7zM199.1 280.4H201.4V282.8H199.1zM126.7 282.8H129.0V285.1H126.7zM171.7 282.8H173.9V285.1H171.7zM163.1 287.5H165.3V289.9H163.1zM165.3 292.2H167.4V294.6H165.3zM167.4 292.2H169.6V294.6H167.4zM185.2 294.6H187.5V297.0H185.2zM189.8 297.0H192.2V299.0H189.8zM143.0 299.0H145.2V301.0H143.0zM152.0 299.0H154.2V301.0H152.0zM156.5 301.0H158.8V303.0H156.5zM156.5 303.0H158.8V305.0H156.5zM145.2 307.0H147.5V309.0H145.2zM147.5 307.0H149.8V309.0H147.5zM158.8 320.5H161.0V322.9H158.8zM161.0 325.3H163.1V327.7H161.0zM145.2 334.8H147.5V337.2H145.2zM122.0 344.2H124.3V346.4H122.0zM105.3 346.4H107.7V348.6H105.3zM110.1 346.4H112.6V348.6H110.1zM126.7 348.6H129.0V350.9H126.7zM119.7 353.1H122.0V355.3H119.7zM126.7 353.1H129.0V355.3H126.7zM136.0 353.1H138.3V355.3H136.0zM107.7 355.3H110.1V357.5H107.7zM115.0 355.3H117.3V357.5H115.0zM122.0 355.3H124.3V357.5H122.0z"/>
<path fill="#adcbcb" d="M119.7 234.0H122.0V236.4H119.7zM126.7 234.0H129.0V236.4H126.7zM129.0 234.0H131.3V236.4H129.0zM124.3 236.4H126.7V238.7H124.3zM208.3 236.4H210.6V238.7H208.3zM122.0 238.7H124.3V241.1H122.0zM115.0 241.1H117.3V243.4H115.0zM122.0 243.4H124.3V245.8H122.0zM212.9 245.8H215.1V248.1H212.9zM115.0 248.1H117.3V250.5H115.0zM105.3 250.5H107.7V252.8H105.3zM112.6 250.5H115.0V252.8H112.6zM98.0 255.1H100.4V257.4H98.0zM212.9 255.1H215.1V257.4H212.9zM102.9 257.4H105.3V259.7H102.9zM107.7 257.4H110.1V259.7H107.7zM100.4 259.7H102.9V262.0H100.4zM145.2 259.7H147.5V262.0H145.2zM98.0 262.0H100.4V264.2H98.0zM98.0 264.2H100.4V266.5H98.0zM212.9 264.2H215.1V266.5H212.9zM206.0 266.5H208.3V268.8H206.0zM208.3 266.5H210.6V268.8H208.3zM208.3 268.8H210.6V271.1H208.3zM210.6 268.8H212.9V271.1H210.6zM206.0 271.1H208.3V273.4H206.0zM215.1 273.4H217.4V275.7H215.1zM219.7 275.7H222.0V278.0H219.7zM124.3 280.4H126.7V282.8H124.3zM161.0 280.4H163.1V282.8H161.0zM165.3 280.4H167.4V282.8H165.3zM161.0 282.8H163.1V285.1H161.0zM167.4 282.8H169.6V285.1H167.4zM173.9 282.8H176.0V285.1H173.9zM163.1 285.1H165.3V287.5H163.1zM165.3 287.5H167.4V289.9H165.3zM163.1 294.6H165.3V297.0H163.1zM145.2 297.0H147.5V299.0H145.2zM147.5 297.0H149.8V299.0H147.5zM149.8 299.0H152.0V301.0H149.8zM158.8 299.0H161.0V301.0H158.8zM187.5 299.0H189.8V301.0H187.5zM145.2 301.0H147.5V303.0H145.2zM152.0 301.0H154.2V303.0H152.0zM147.5 303.0H149.8V305.0H147.5zM194.5 305.0H196.8V307.0H194.5zM203.7 305.0H206.0V307.0H203.7zM201.4 307.0H203.7V309.0H201.4zM147.5 309.0H149.8V311.0H147.5zM199.1 309.0H201.4V311.0H199.1zM163.1 322.9H165.3V325.3H163.1zM169.6 330.1H171.7V332.5H169.6zM173.9 334.8H176.0V337.2H173.9zM171.7 337.2H173.9V339.6H171.7zM169.6 339.6H171.7V342.0H169.6zM131.3 342.0H133.7V344.2H131.3zM136.0 342.0H138.3V344.2H136.0zM100.4 344.2H102.9V346.4H100.4zM131.3 344.2H133.7V346.4H131.3zM133.7 344.2H136.0V346.4H133.7zM133.7 346.4H136.0V348.6H133.7zM110.1 348.6H112.6V350.9H110.1zM119.7 348.6H122.0V350.9H119.7zM129.0 348.6H131.3V350.9H129.0zM138.3 350.9H140.7V353.1H138.3zM140.7 355.3H143.0V357.5H140.7z"/>
<path fill="#b4d0d0" d="M117.3 234.0H119.7V236.4H117.3zM124.3 234.0H126.7V236.4H124.3zM117.3 236.4H119.7V238.7H117.3zM119.7 236.4H122.0V238.7H119.7zM212.9 236.4H215.1V238.7H212.9zM219.7 236.4H222.0V238.7H219.7zM115.0 238.7H117.3V241.1H115.0zM136.0 241.1H138.3V243.4H136.0zM133.7 243.4H136.0V245.8H133.7zM131.3 245.8H133.7V248.1H131.3zM219.7 245.8H222.0V248.1H219.7zM102.9 250.5H105.3V252.8H102.9zM215.1 250.5H217.4V252.8H215.1zM98.0 252.8H100.4V255.1H98.0zM100.4 252.8H102.9V255.1H100.4zM158.8 252.8H161.0V255.1H158.8zM100.4 255.1H102.9V257.4H100.4zM98.0 259.7H100.4V262.0H98.0zM154.2 259.7H156.5V262.0H154.2zM208.3 259.7H210.6V262.0H208.3zM217.4 259.7H219.7V262.0H217.4zM152.0 262.0H154.2V264.2H152.0zM215.1 264.2H217.4V266.5H215.1zM110.1 266.5H112.6V268.8H110.1zM107.7 268.8H110.1V271.1H107.7zM105.3 271.1H107.7V273.4H105.3zM212.9 273.4H215.1V275.7H212.9zM219.7 273.4H222.0V275.7H219.7zM206.0 275.7H208.3V278.0H206.0zM169.6 282.8H171.7V285.1H169.6zM126.7 287.5H129.0V289.9H126.7zM169.6 287.5H171.7V289.9H169.6zM171.7 287.5H173.9V289.9H171.7zM124.3 289.9H126.7V292.2H124.3zM161.0 289.9H163.1V292.2H161.0zM167.4 289.9H169.6V292.2H167.4zM171.7 289.9H173.9V292.2H171.7zM117.3 294.6H119.7V297.0H117.3zM154.2 297.0H156.5V299.0H154.2zM192.2 297.0H194.5V299.0H192.2zM189.8 301.0H192.2V303.0H189.8zM154.2 303.0H156.5V305.0H154.2zM192.2 303.0H194.5V305.0H192.2zM147.5 305.0H149.8V307.0H147.5zM152.0 305.0H154.2V307.0H152.0zM196.8 305.0H199.1V307.0H196.8zM152.0 307.0H154.2V309.0H152.0zM154.2 307.0H156.5V309.0H154.2zM196.8 307.0H199.1V309.0H196.8zM192.2 320.5H194.5V322.9H192.2zM192.2 322.9H194.5V325.3H192.2zM201.4 322.9H203.7V325.3H201.4zM165.3 325.3H167.4V327.7H165.3zM161.0 327.7H163.1V330.1H161.0zM167.4 327.7H169.6V330.1H167.4zM185.2 327.7H187.5V330.1H185.2zM187.5 327.7H189.8V330.1H187.5zM169.6 332.5H171.7V334.8H169.6zM171.7 332.5H173.9V334.8H171.7zM187.5 337.2H189.8V339.6H187.5zM140.7 342.0H143.0V344.2H140.7zM124.3 344.2H126.7V346.4H124.3zM100.4 348.6H102.9V350.9H100.4zM138.3 348.6H140.7V350.9H138.3zM115.0 350.9H117.3V353.1H115.0zM129.0 350.9H131.3V353.1H129.0zM124.3 353.1H126.7V355.3H124.3zM100.4 355.3H102.9V357.5H100.4zM110.1 355.3H112.6V357.5H110.1zM138.3 355.3H140.7V357.5H138.3z"/>
<path fill="#bcd4d4" d="M217.4 234.0H219.7V236.4H217.4zM129.0 238.7H131.3V241.1H129.0zM206.0 238.7H208.3V241.1H206.0zM210.6 238.7H212.9V241.1H210.6zM212.9 238.7H215.1V241.1H212.9zM119.7 241.1H122.0V243.4H119.7zM129.0 243.4H131.3V245.8H129.0zM136.0 245.8H138.3V248.1H136.0zM206.0 250.5H208.3V252.8H206.0zM105.3 255.1H107.7V257.4H105.3zM215.1 255.1H217.4V257.4H215.1zM219.7 255.1H222.0V257.4H219.7zM215.1 259.7H217.4V262.0H215.1zM102.9 264.2H105.3V266.5H102.9zM107.7 264.2H110.1V266.5H107.7zM210.6 264.2H212.9V266.5H210.6zM158.8 268.8H161.0V271.1H158.8zM110.1 271.1H112.6V273.4H110.1zM219.7 271.1H222.0V273.4H219.7zM194.5 278.0H196.8V280.4H194.5zM203.7 278.0H206.0V280.4H203.7zM167.4 280.4H169.6V282.8H167.4zM165.3 289.9H167.4V292.2H165.3zM133.7 294.6H136.0V297.0H133.7zM154.2 301.0H156.5V303.0H154.2zM145.2 303.0H147.5V305.0H145.2zM189.8 320.5H192.2V322.9H189.8zM194.5 320.5H196.8V322.9H194.5zM201.4 320.5H203.7V322.9H201.4zM203.7 320.5H206.0V322.9H203.7zM185.2 325.3H187.5V327.7H185.2zM192.2 325.3H194.5V327.7H192.2zM189.8 327.7H192.2V330.1H189.8zM143.0 330.1H145.2V332.5H143.0zM185.2 330.1H187.5V332.5H185.2zM185.2 337.2H187.5V339.6H185.2zM143.0 339.6H145.2V342.0H143.0zM185.2 339.6H187.5V342.0H185.2zM102.9 342.0H105.3V344.2H102.9zM115.0 342.0H117.3V344.2H115.0zM102.9 346.4H105.3V348.6H102.9zM129.0 346.4H131.3V348.6H129.0zM102.9 348.6H105.3V350.9H102.9zM119.7 350.9H122.0V353.1H119.7zM124.3 350.9H126.7V353.1H124.3zM98.0 353.1H100.4V355.3H98.0zM119.7 355.3H122.0V357.5H119.7zM136.0 355.3H138.3V357.5H136.0z"/>
<path fill="#c3d9d9" d="M115.0 234.0H117.3V236.4H115.0zM122.0 236.4H124.3V238.7H122.0zM217.4 238.7H219.7V241.1H217.4zM117.3 241.1H119.7V243.4H117.3zM217.4 241.1H219.7V243.4H217.4zM219.7 241.1H222.0V243.4H219.7zM212.9 243.4H215.1V245.8H212.9zM138.3 245.8H140.7V248.1H138.3zM217.4 245.8H219.7V248.1H217.4zM117.3 248.1H119.7V250.5H117.3zM98.0 250.5H100.4V252.8H98.0zM105.3 252.8H107.7V255.1H105.3zM112.6 252.8H115.0V255.1H112.6zM208.3 255.1H210.6V257.4H208.3zM100.4 257.4H102.9V259.7H100.4zM133.7 259.7H136.0V262.0H133.7zM136.0 262.0H138.3V264.2H136.0zM124.3 268.8H126.7V271.1H124.3zM206.0 268.8H208.3V271.1H206.0zM126.7 271.1H129.0V273.4H126.7zM110.1 273.4H112.6V275.7H110.1zM208.3 275.7H210.6V278.0H208.3zM215.1 275.7H217.4V278.0H215.1zM169.6 278.0H171.7V280.4H169.6zM171.7 278.0H173.9V280.4H171.7zM143.0 305.0H145.2V307.0H143.0zM143.0 307.0H145.2V309.0H143.0zM196.8 320.5H199.1V322.9H196.8zM189.8 322.9H192.2V325.3H189.8zM203.7 322.9H206.0V325.3H203.7zM187.5 325.3H189.8V327.7H187.5zM185.2 332.5H187.5V334.8H185.2zM187.5 339.6H189.8V342.0H187.5zM133.7 342.0H136.0V344.2H133.7zM119.7 344.2H122.0V346.4H119.7zM140.7 344.2H143.0V346.4H140.7zM107.7 348.6H110.1V350.9H107.7zM140.7 350.9H143.0V353.1H140.7zM102.9 353.1H105.3V355.3H102.9zM105.3 353.1H107.7V355.3H105.3zM110.1 353.1H112.6V355.3H110.1zM105.3 355.3H107.7V357.5H105.3z"/>
<path fill="#cbdede" d="M215.1 234.0H217.4V236.4H215.1zM124.3 241.1H126.7V243.4H124.3zM122.0 248.1H124.3V250.5H122.0zM206.0 248.1H208.3V250.5H206.0zM217.4 250.5H219.7V252.8H217.4zM112.6 257.4H115.0V259.7H112.6zM105.3 259.7H107.7V262.0H105.3zM140.7 262.0H143.0V264.2H140.7zM210.6 262.0H212.9V264.2H210.6zM210.6 271.1H212.9V273.4H210.6zM210.6 273.4H212.9V275.7H210.6zM126.7 275.7H129.0V278.0H126.7zM158.8 292.2H161.0V294.6H158.8zM156.5 294.6H158.8V297.0H156.5zM192.2 301.0H194.5V303.0H192.2zM182.9 311.0H185.2V313.4H182.9zM182.9 313.4H185.2V315.8H182.9zM194.5 315.8H196.8V318.2H194.5zM203.7 315.8H206.0V318.2H203.7zM176.0 318.2H178.3V320.5H176.0zM178.3 318.2H180.6V320.5H178.3zM187.5 320.5H189.8V322.9H187.5zM199.1 320.5H201.4V322.9H199.1zM185.2 322.9H187.5V325.3H185.2zM196.8 322.9H199.1V325.3H196.8zM199.1 322.9H201.4V325.3H199.1zM194.5 325.3H196.8V327.7H194.5zM199.1 325.3H201.4V327.7H199.1zM201.4 325.3H203.7V327.7H201.4zM203.7 325.3H206.0V327.7H203.7zM165.3 327.7H167.4V330.1H165.3zM194.5 327.7H196.8V330.1H194.5zM196.8 327.7H199.1V330.1H196.8zM201.4 327.7H203.7V330.1H201.4zM180.6 330.1H182.9V332.5H180.6zM189.8 330.1H192.2V332.5H189.8zM192.2 330.1H194.5V332.5H192.2zM187.5 332.5H189.8V334.8H187.5zM192.2 332.5H194.5V334.8H192.2zM185.2 334.8H187.5V337.2H185.2zM187.5 334.8H189.8V337.2H187.5zM189.8 334.8H192.2V337.2H189.8zM189.8 337.2H192.2V339.6H189.8zM192.2 337.2H194.5V339.6H192.2zM180.6 339.6H182.9V342.0H180.6zM189.8 339.6H192.2V342.0H189.8zM112.6 342.0H115.0V344.2H112.6zM126.7 346.4H129.0V348.6H126.7zM136.0 346.4H138.3V348.6H136.0zM138.3 346.4H140.7V348.6H138.3zM98.0 350.9H100.4V353.1H98.0zM115.0 353.1H117.3V355.3H115.0z"/>
<path fill="#d2e3e3" d="M110.1 238.7H112.6V241.1H110.1zM107.7 241.1H110.1V243.4H107.7zM105.3 243.4H107.7V245.8H105.3zM126.7 243.4H129.0V245.8H126.7zM102.9 245.8H105.3V248.1H102.9zM122.0 245.8H124.3V248.1H122.0zM140.7 248.1H143.0V250.5H140.7zM117.3 250.5H119.7V252.8H117.3zM119.7 250.5H122.0V252.8H119.7zM131.3 250.5H133.7V252.8H131.3zM115.0 252.8H117.3V255.1H115.0zM122.0 252.8H124.3V255.1H122.0zM115.0 255.1H117.3V257.4H115.0zM133.7 255.1H136.0V257.4H133.7zM110.1 257.4H112.6V259.7H110.1zM117.3 257.4H119.7V259.7H117.3zM131.3 259.7H133.7V262.0H131.3zM107.7 262.0H110.1V264.2H107.7zM131.3 262.0H133.7V264.2H131.3zM138.3 262.0H140.7V264.2H138.3zM115.0 266.5H117.3V268.8H115.0zM124.3 266.5H126.7V268.8H124.3zM126.7 266.5H129.0V268.8H126.7zM119.7 268.8H122.0V271.1H119.7zM215.1 271.1H217.4V273.4H215.1zM126.7 273.4H129.0V275.7H126.7zM206.0 273.4H208.3V275.7H206.0zM208.3 273.4H210.6V275.7H208.3zM112.6 275.7H115.0V278.0H112.6zM145.2 278.0H147.5V280.4H145.2zM165.3 278.0H167.4V280.4H165.3zM143.0 280.4H145.2V282.8H143.0zM173.9 289.9H176.0V292.2H173.9zM143.0 301.0H145.2V303.0H143.0zM154.2 309.0H156.5V311.0H154.2zM199.1 311.0H201.4V313.4H199.1zM201.4 311.0H203.7V313.4H201.4zM203.7 311.0H206.0V313.4H203.7zM189.8 313.4H192.2V315.8H189.8zM199.1 313.4H201.4V315.8H199.1zM201.4 313.4H203.7V315.8H201.4zM199.1 315.8H201.4V318.2H199.1zM194.5 318.2H196.8V320.5H194.5zM194.5 322.9H196.8V325.3H194.5zM178.3 325.3H180.6V327.7H178.3zM203.7 327.7H206.0V330.1H203.7zM182.9 330.1H185.2V332.5H182.9zM187.5 330.1H189.8V332.5H187.5zM176.0 334.8H178.3V337.2H176.0zM178.3 334.8H180.6V337.2H178.3zM180.6 334.8H182.9V337.2H180.6zM176.0 337.2H178.3V339.6H176.0zM178.3 337.2H180.6V339.6H178.3zM176.0 339.6H178.3V342.0H176.0zM192.2 339.6H194.5V342.0H192.2zM138.3 342.0H140.7V344.2H138.3zM138.3 344.2H140.7V346.4H138.3zM136.0 350.9H138.3V353.1H136.0z"/>
<path fill="#dae7e7" d="M107.7 234.0H110.1V236.4H107.7zM102.9 236.4H105.3V238.7H102.9zM105.3 236.4H107.7V238.7H105.3zM100.4 238.7H102.9V241.1H100.4zM100.4 241.1H102.9V243.4H100.4zM98.0 243.4H100.4V245.8H98.0zM110.1 243.4H112.6V245.8H110.1zM107.7 245.8H110.1V248.1H107.7zM119.7 245.8H122.0V248.1H119.7zM124.3 245.8H126.7V248.1H124.3zM215.1 245.8H217.4V248.1H215.1zM124.3 248.1H126.7V250.5H124.3zM129.0 250.5H131.3V252.8H129.0zM136.0 250.5H138.3V252.8H136.0zM210.6 250.5H212.9V252.8H210.6zM126.7 252.8H129.0V255.1H126.7zM110.1 255.1H112.6V257.4H110.1zM129.0 257.4H131.3V259.7H129.0zM110.1 259.7H112.6V262.0H110.1zM112.6 259.7H115.0V262.0H112.6zM140.7 259.7H143.0V262.0H140.7zM117.3 262.0H119.7V264.2H117.3zM129.0 262.0H131.3V264.2H129.0zM133.7 262.0H136.0V264.2H133.7zM115.0 264.2H117.3V266.5H115.0zM122.0 264.2H124.3V266.5H122.0zM126.7 264.2H129.0V266.5H126.7zM131.3 264.2H133.7V266.5H131.3zM129.0 266.5H131.3V268.8H129.0zM136.0 266.5H138.3V268.8H136.0zM126.7 268.8H129.0V271.1H126.7zM136.0 268.8H138.3V271.1H136.0zM115.0 271.1H117.3V273.4H115.0zM131.3 271.1H133.7V273.4H131.3zM133.7 271.1H136.0V273.4H133.7zM124.3 275.7H126.7V278.0H124.3zM212.9 275.7H215.1V278.0H212.9zM154.2 278.0H156.5V280.4H154.2zM158.8 278.0H161.0V280.4H158.8zM173.9 280.4H176.0V282.8H173.9zM143.0 289.9H145.2V292.2H143.0zM143.0 294.6H145.2V297.0H143.0zM165.3 299.0H167.4V301.0H165.3zM167.4 299.0H169.6V301.0H167.4zM163.1 301.0H165.3V303.0H163.1zM163.1 303.0H165.3V305.0H163.1zM171.7 305.0H173.9V307.0H171.7zM169.6 307.0H171.7V309.0H169.6zM145.2 309.0H147.5V311.0H145.2zM189.8 311.0H192.2V313.4H189.8zM180.6 313.4H182.9V315.8H180.6zM192.2 313.4H194.5V315.8H192.2zM203.7 313.4H206.0V315.8H203.7zM178.3 315.8H180.6V318.2H178.3zM187.5 315.8H189.8V318.2H187.5zM196.8 315.8H199.1V318.2H196.8zM201.4 315.8H203.7V318.2H201.4zM196.8 318.2H199.1V320.5H196.8zM201.4 318.2H203.7V320.5H201.4zM203.7 318.2H206.0V320.5H203.7zM180.6 322.9H182.9V325.3H180.6zM176.0 325.3H178.3V327.7H176.0zM196.8 325.3H199.1V327.7H196.8zM178.3 327.7H180.6V330.1H178.3zM196.8 330.1H199.1V332.5H196.8zM199.1 330.1H201.4V332.5H199.1zM201.4 330.1H203.7V332.5H201.4zM180.6 332.5H182.9V334.8H180.6zM182.9 332.5H185.2V334.8H182.9zM189.8 332.5H192.2V334.8H189.8zM194.5 332.5H196.8V334.8H194.5zM194.5 334.8H196.8V337.2H194.5zM201.4 334.8H203.7V337.2H201.4zM203.7 334.8H206.0V337.2H203.7zM180.6 337.2H182.9V339.6H180.6zM182.9 337.2H185.2V339.6H182.9zM194.5 337.2H196.8V339.6H194.5zM199.1 337.2H201.4V339.6H199.1zM178.3 339.6H180.6V342.0H178.3zM182.9 339.6H185.2V342.0H182.9zM199.1 339.6H201.4V342.0H199.1zM115.0 346.4H117.3V348.6H115.0zM212.9 346.4H215.1V348.6H212.9zM140.7 348.6H143.0V350.9H140.7zM210.6 348.6H212.9V350.9H210.6zM110.1 350.9H112.6V353.1H110.1z"/>
<path fill="#e1ecec" d="M100.4 234.0H102.9V236.4H100.4zM102.9 234.0H105.3V236.4H102.9zM98.0 236.4H100.4V238.7H98.0zM98.0 238.7H100.4V241.1H98.0zM105.3 238.7H107.7V241.1H105.3zM219.7 238.7H222.0V241.1H219.7zM102.9 241.1H105.3V243.4H102.9zM129.0 241.1H131.3V243.4H129.0zM112.6 243.4H115.0V245.8H112.6zM112.6 245.8H115.0V248.1H112.6zM208.3 245.8H210.6V248.1H208.3zM107.7 248.1H110.1V250.5H107.7zM110.1 248.1H112.6V250.5H110.1zM136.0 248.1H138.3V250.5H136.0zM210.6 248.1H212.9V250.5H210.6zM122.0 250.5H124.3V252.8H122.0zM133.7 250.5H136.0V252.8H133.7zM140.7 250.5H143.0V252.8H140.7zM119.7 252.8H122.0V255.1H119.7zM117.3 255.1H119.7V257.4H117.3zM126.7 255.1H129.0V257.4H126.7zM115.0 257.4H117.3V259.7H115.0zM131.3 257.4H133.7V259.7H131.3zM140.7 257.4H143.0V259.7H140.7zM126.7 259.7H129.0V262.0H126.7zM129.0 259.7H131.3V262.0H129.0zM136.0 259.7H138.3V262.0H136.0zM138.3 259.7H140.7V262.0H138.3zM119.7 262.0H122.0V264.2H119.7zM124.3 262.0H126.7V264.2H124.3zM206.0 262.0H208.3V264.2H206.0zM105.3 264.2H107.7V266.5H105.3zM124.3 264.2H126.7V266.5H124.3zM136.0 264.2H138.3V266.5H136.0zM138.3 264.2H140.7V266.5H138.3zM140.7 264.2H143.0V266.5H140.7zM122.0 266.5H124.3V268.8H122.0zM115.0 268.8H117.3V271.1H115.0zM112.6 271.1H115.0V273.4H112.6zM124.3 271.1H126.7V273.4H124.3zM129.0 271.1H131.3V273.4H129.0zM212.9 271.1H215.1V273.4H212.9zM124.3 273.4H126.7V275.7H124.3zM129.0 273.4H131.3V275.7H129.0zM140.7 273.4H143.0V275.7H140.7zM115.0 275.7H117.3V278.0H115.0zM122.0 275.7H124.3V278.0H122.0zM129.0 275.7H131.3V278.0H129.0zM138.3 275.7H140.7V278.0H138.3zM210.6 275.7H212.9V278.0H210.6zM149.8 278.0H152.0V280.4H149.8zM149.8 282.8H152.0V285.1H149.8zM152.0 282.8H154.2V285.1H152.0zM154.2 282.8H156.5V285.1H154.2zM143.0 285.1H145.2V287.5H143.0zM147.5 285.1H149.8V287.5H147.5zM173.9 285.1H176.0V287.5H173.9zM147.5 287.5H149.8V289.9H147.5zM156.5 287.5H158.8V289.9H156.5zM147.5 289.9H149.8V292.2H147.5zM158.8 289.9H161.0V292.2H158.8zM152.0 292.2H154.2V294.6H152.0zM154.2 294.6H156.5V297.0H154.2zM163.1 297.0H165.3V299.0H163.1zM173.9 297.0H176.0V299.0H173.9zM161.0 299.0H163.1V301.0H161.0zM149.8 309.0H152.0V311.0H149.8zM161.0 309.0H163.1V311.0H161.0zM185.2 311.0H187.5V313.4H185.2zM192.2 311.0H194.5V313.4H192.2zM194.5 311.0H196.8V313.4H194.5zM196.8 311.0H199.1V313.4H196.8zM182.9 315.8H185.2V318.2H182.9zM185.2 315.8H187.5V318.2H185.2zM189.8 315.8H192.2V318.2H189.8zM180.6 318.2H182.9V320.5H180.6zM192.2 318.2H194.5V320.5H192.2zM199.1 318.2H201.4V320.5H199.1zM176.0 320.5H178.3V322.9H176.0zM180.6 320.5H182.9V322.9H180.6zM180.6 325.3H182.9V327.7H180.6zM176.0 327.7H178.3V330.1H176.0zM182.9 327.7H185.2V330.1H182.9zM199.1 327.7H201.4V330.1H199.1zM176.0 330.1H178.3V332.5H176.0zM176.0 332.5H178.3V334.8H176.0zM203.7 332.5H206.0V334.8H203.7zM182.9 334.8H185.2V337.2H182.9zM192.2 334.8H194.5V337.2H192.2zM196.8 339.6H199.1V342.0H196.8zM126.7 342.0H129.0V344.2H126.7zM215.1 342.0H217.4V344.2H215.1zM110.1 344.2H112.6V346.4H110.1zM112.6 346.4H115.0V348.6H112.6zM140.7 346.4H143.0V348.6H140.7zM136.0 348.6H138.3V350.9H136.0zM206.0 350.9H208.3V353.1H206.0zM102.9 355.3H105.3V357.5H102.9z"/>
<path fill="#e9f1f1" d="M105.3 234.0H107.7V236.4H105.3zM110.1 234.0H112.6V236.4H110.1zM110.1 236.4H112.6V238.7H110.1zM112.6 236.4H115.0V238.7H112.6zM112.6 238.7H115.0V241.1H112.6zM98.0 241.1H100.4V243.4H98.0zM98.0 245.8H100.4V248.1H98.0zM100.4 245.8H102.9V248.1H100.4zM117.3 245.8H119.7V248.1H117.3zM100.4 248.1H102.9V250.5H100.4zM102.9 248.1H105.3V250.5H102.9zM217.4 248.1H219.7V250.5H217.4zM124.3 250.5H126.7V252.8H124.3zM126.7 250.5H129.0V252.8H126.7zM110.1 252.8H112.6V255.1H110.1zM124.3 252.8H126.7V255.1H124.3zM129.0 252.8H131.3V255.1H129.0zM124.3 255.1H126.7V257.4H124.3zM129.0 255.1H131.3V257.4H129.0zM131.3 255.1H133.7V257.4H131.3zM136.0 255.1H138.3V257.4H136.0zM126.7 257.4H129.0V259.7H126.7zM133.7 257.4H136.0V259.7H133.7zM136.0 257.4H138.3V259.7H136.0zM138.3 257.4H140.7V259.7H138.3zM115.0 259.7H117.3V262.0H115.0zM117.3 259.7H119.7V262.0H117.3zM119.7 259.7H122.0V262.0H119.7zM115.0 262.0H117.3V264.2H115.0zM122.0 262.0H124.3V264.2H122.0zM117.3 264.2H119.7V266.5H117.3zM119.7 264.2H122.0V266.5H119.7zM119.7 266.5H122.0V268.8H119.7zM138.3 266.5H140.7V268.8H138.3zM122.0 268.8H124.3V271.1H122.0zM119.7 271.1H122.0V273.4H119.7zM122.0 271.1H124.3V273.4H122.0zM140.7 271.1H143.0V273.4H140.7zM208.3 271.1H210.6V273.4H208.3zM122.0 273.4H124.3V275.7H122.0zM131.3 273.4H133.7V275.7H131.3zM136.0 275.7H138.3V278.0H136.0zM147.5 278.0H149.8V280.4H147.5zM156.5 278.0H158.8V280.4H156.5zM147.5 280.4H149.8V282.8H147.5zM149.8 280.4H152.0V282.8H149.8zM152.0 280.4H154.2V282.8H152.0zM156.5 280.4H158.8V282.8H156.5zM158.8 280.4H161.0V282.8H158.8zM143.0 282.8H145.2V285.1H143.0zM145.2 282.8H147.5V285.1H145.2zM156.5 282.8H158.8V285.1H156.5zM145.2 285.1H147.5V287.5H145.2zM152.0 285.1H154.2V287.5H152.0zM154.2 285.1H156.5V287.5H154.2zM145.2 287.5H147.5V289.9H145.2zM149.8 287.5H152.0V289.9H149.8zM154.2 287.5H156.5V289.9H154.2zM149.8 289.9H152.0V292.2H149.8zM152.0 289.9H154.2V292.2H152.0zM156.5 289.9H158.8V292.2H156.5zM143.0 292.2H145.2V294.6H143.0zM145.2 292.2H147.5V294.6H145.2zM147.5 292.2H149.8V294.6H147.5zM154.2 292.2H156.5V294.6H154.2zM145.2 294.6H147.5V297.0H145.2zM167.4 297.0H169.6V299.0H167.4zM169.6 297.0H171.7V299.0H169.6zM169.6 299.0H171.7V301.0H169.6zM173.9 299.0H176.0V301.0H173.9zM167.4 301.0H169.6V303.0H167.4zM161.0 303.0H163.1V305.0H161.0zM165.3 303.0H167.4V305.0H165.3zM169.6 303.0H171.7V305.0H169.6zM161.0 305.0H163.1V307.0H161.0zM163.1 305.0H165.3V307.0H163.1zM167.4 305.0H169.6V307.0H167.4zM173.9 305.0H176.0V307.0H173.9zM173.9 307.0H176.0V309.0H173.9zM163.1 309.0H165.3V311.0H163.1zM169.6 309.0H171.7V311.0H169.6zM171.7 309.0H173.9V311.0H171.7zM178.3 311.0H180.6V313.4H178.3zM180.6 311.0H182.9V313.4H180.6zM187.5 311.0H189.8V313.4H187.5zM176.0 313.4H178.3V315.8H176.0zM194.5 313.4H196.8V315.8H194.5zM196.8 313.4H199.1V315.8H196.8zM176.0 315.8H178.3V318.2H176.0zM192.2 315.8H194.5V318.2H192.2zM185.2 318.2H187.5V320.5H185.2zM187.5 318.2H189.8V320.5H187.5zM189.8 318.2H192.2V320.5H189.8zM182.9 320.5H185.2V322.9H182.9zM176.0 322.9H178.3V325.3H176.0zM182.9 322.9H185.2V325.3H182.9zM182.9 325.3H185.2V327.7H182.9zM180.6 327.7H182.9V330.1H180.6zM178.3 330.1H180.6V332.5H178.3zM178.3 332.5H180.6V334.8H178.3zM199.1 332.5H201.4V334.8H199.1zM201.4 332.5H203.7V334.8H201.4zM196.8 334.8H199.1V337.2H196.8zM196.8 337.2H199.1V339.6H196.8zM203.7 337.2H206.0V339.6H203.7zM201.4 339.6H203.7V342.0H201.4zM208.3 342.0H210.6V344.2H208.3zM136.0 344.2H138.3V346.4H136.0zM206.0 344.2H208.3V346.4H206.0zM210.6 344.2H212.9V346.4H210.6zM219.7 344.2H222.0V346.4H219.7zM208.3 346.4H210.6V348.6H208.3zM219.7 346.4H222.0V348.6H219.7zM215.1 348.6H217.4V350.9H215.1zM217.4 348.6H219.7V350.9H217.4zM212.9 350.9H215.1V353.1H212.9zM112.6 353.1H115.0V355.3H112.6zM212.9 353.1H215.1V355.3H212.9zM208.3 355.3H210.6V357.5H208.3zM210.6 355.3H212.9V357.5H210.6z"/>
<path fill="#f0f6f6" d="M112.6 234.0H115.0V236.4H112.6zM107.7 236.4H110.1V238.7H107.7zM107.7 238.7H110.1V241.1H107.7zM110.1 241.1H112.6V243.4H110.1zM100.4 243.4H102.9V245.8H100.4zM102.9 243.4H105.3V245.8H102.9zM105.3 245.8H107.7V248.1H105.3zM98.0 248.1H100.4V250.5H98.0zM129.0 248.1H131.3V250.5H129.0zM212.9 248.1H215.1V250.5H212.9zM138.3 250.5H140.7V252.8H138.3zM133.7 252.8H136.0V255.1H133.7zM138.3 252.8H140.7V255.1H138.3zM140.7 252.8H143.0V255.1H140.7zM122.0 255.1H124.3V257.4H122.0zM138.3 255.1H140.7V257.4H138.3zM140.7 255.1H143.0V257.4H140.7zM119.7 257.4H122.0V259.7H119.7zM112.6 264.2H115.0V266.5H112.6zM133.7 264.2H136.0V266.5H133.7zM140.7 266.5H143.0V268.8H140.7zM212.9 266.5H215.1V268.8H212.9zM117.3 268.8H119.7V271.1H117.3zM129.0 268.8H131.3V271.1H129.0zM138.3 268.8H140.7V271.1H138.3zM140.7 268.8H143.0V271.1H140.7zM212.9 268.8H215.1V271.1H212.9zM138.3 271.1H140.7V273.4H138.3zM115.0 273.4H117.3V275.7H115.0zM117.3 273.4H119.7V275.7H117.3zM119.7 273.4H122.0V275.7H119.7zM133.7 273.4H136.0V275.7H133.7zM136.0 273.4H138.3V275.7H136.0zM117.3 275.7H119.7V278.0H117.3zM119.7 275.7H122.0V278.0H119.7zM131.3 275.7H133.7V278.0H131.3zM133.7 275.7H136.0V278.0H133.7zM152.0 278.0H154.2V280.4H152.0zM156.5 285.1H158.8V287.5H156.5zM158.8 285.1H161.0V287.5H158.8zM143.0 287.5H145.2V289.9H143.0zM158.8 287.5H161.0V289.9H158.8zM149.8 292.2H152.0V294.6H149.8zM149.8 294.6H152.0V297.0H149.8zM152.0 294.6H154.2V297.0H152.0zM171.7 297.0H173.9V299.0H171.7zM173.9 301.0H176.0V303.0H173.9zM173.9 303.0H176.0V305.0H173.9zM161.0 307.0H163.1V309.0H161.0zM165.3 309.0H167.4V311.0H165.3zM167.4 309.0H169.6V311.0H167.4zM185.2 313.4H187.5V315.8H185.2zM178.3 320.5H180.6V322.9H178.3zM210.6 342.0H212.9V344.2H210.6zM212.9 342.0H215.1V344.2H212.9zM212.9 344.2H215.1V346.4H212.9zM217.4 344.2H219.7V346.4H217.4zM206.0 346.4H208.3V348.6H206.0zM215.1 346.4H217.4V348.6H215.1zM217.4 346.4H219.7V348.6H217.4zM112.6 348.6H115.0V350.9H112.6zM131.3 348.6H133.7V350.9H131.3zM133.7 348.6H136.0V350.9H133.7zM206.0 348.6H208.3V350.9H206.0zM208.3 348.6H210.6V350.9H208.3zM219.7 348.6H222.0V350.9H219.7zM210.6 350.9H212.9V353.1H210.6zM208.3 353.1H210.6V355.3H208.3zM210.6 353.1H212.9V355.3H210.6zM212.9 355.3H215.1V357.5H212.9z"/>
<path fill="#f8fafa" d="M126.7 238.7H129.0V241.1H126.7zM119.7 248.1H122.0V250.5H119.7zM136.0 252.8H138.3V255.1H136.0zM112.6 255.1H115.0V257.4H112.6zM124.3 257.4H126.7V259.7H124.3zM122.0 259.7H124.3V262.0H122.0zM102.9 262.0H105.3V264.2H102.9zM143.0 262.0H145.2V264.2H143.0zM117.3 271.1H119.7V273.4H117.3zM126.7 278.0H129.0V280.4H126.7zM154.2 280.4H156.5V282.8H154.2zM158.8 282.8H161.0V285.1H158.8zM145.2 289.9H147.5V292.2H145.2zM147.5 294.6H149.8V297.0H147.5zM165.3 297.0H167.4V299.0H165.3zM171.7 299.0H173.9V301.0H171.7zM161.0 301.0H163.1V303.0H161.0zM169.6 301.0H171.7V303.0H169.6zM171.7 303.0H173.9V305.0H171.7zM165.3 305.0H167.4V307.0H165.3zM163.1 307.0H165.3V309.0H163.1zM167.4 307.0H169.6V309.0H167.4zM187.5 313.4H189.8V315.8H187.5zM178.3 322.9H180.6V325.3H178.3zM203.7 330.1H206.0V332.5H203.7zM194.5 339.6H196.8V342.0H194.5zM217.4 342.0H219.7V344.2H217.4zM215.1 344.2H217.4V346.4H215.1zM208.3 350.9H210.6V353.1H208.3zM206.0 353.1H208.3V355.3H206.0zM219.7 353.1H222.0V355.3H219.7zM217.4 355.3H219.7V357.5H217.4z"/>
<path fill="#ffffff" d="M98.0 234.0H100.4V236.4H98.0zM100.4 236.4H102.9V238.7H100.4zM102.9 238.7H105.3V241.1H102.9zM105.3 241.1H107.7V243.4H105.3zM112.6 241.1H115.0V243.4H112.6zM215.1 241.1H217.4V243.4H215.1zM107.7 243.4H110.1V245.8H107.7zM110.1 245.8H112.6V248.1H110.1zM105.3 248.1H107.7V250.5H105.3zM112.6 248.1H115.0V250.5H112.6zM208.3 248.1H210.6V250.5H208.3zM215.1 248.1H217.4V250.5H215.1zM219.7 248.1H222.0V250.5H219.7zM115.0 250.5H117.3V252.8H115.0zM117.3 252.8H119.7V255.1H117.3zM131.3 252.8H133.7V255.1H131.3zM119.7 255.1H122.0V257.4H119.7zM122.0 257.4H124.3V259.7H122.0zM124.3 259.7H126.7V262.0H124.3zM126.7 262.0H129.0V264.2H126.7zM129.0 264.2H131.3V266.5H129.0zM117.3 266.5H119.7V268.8H117.3zM131.3 266.5H133.7V268.8H131.3zM133.7 266.5H136.0V268.8H133.7zM131.3 268.8H133.7V271.1H131.3zM133.7 268.8H136.0V271.1H133.7zM136.0 271.1H138.3V273.4H136.0zM138.3 273.4H140.7V275.7H138.3zM140.7 275.7H143.0V278.0H140.7zM143.0 278.0H145.2V280.4H143.0zM145.2 280.4H147.5V282.8H145.2zM147.5 282.8H149.8V285.1H147.5zM149.8 285.1H152.0V287.5H149.8zM152.0 287.5H154.2V289.9H152.0zM154.2 289.9H156.5V292.2H154.2zM156.5 292.2H158.8V294.6H156.5zM158.8 294.6H161.0V297.0H158.8zM161.0 297.0H163.1V299.0H161.0zM163.1 299.0H165.3V301.0H163.1zM165.3 301.0H167.4V303.0H165.3zM171.7 301.0H173.9V303.0H171.7zM167.4 303.0H169.6V305.0H167.4zM169.6 305.0H171.7V307.0H169.6zM165.3 307.0H167.4V309.0H165.3zM171.7 307.0H173.9V309.0H171.7zM173.9 309.0H176.0V311.0H173.9zM176.0 311.0H178.3V313.4H176.0zM178.3 313.4H180.6V315.8H178.3zM180.6 315.8H182.9V318.2H180.6zM182.9 318.2H185.2V320.5H182.9zM185.2 320.5H187.5V322.9H185.2zM187.5 322.9H189.8V325.3H187.5zM189.8 325.3H192.2V327.7H189.8zM192.2 327.7H194.5V330.1H192.2zM194.5 330.1H196.8V332.5H194.5zM196.8 332.5H199.1V334.8H196.8zM199.1 334.8H201.4V337.2H199.1zM201.4 337.2H203.7V339.6H201.4zM203.7 339.6H206.0V342.0H203.7zM206.0 342.0H208.3V344.2H206.0zM219.7 342.0H222.0V344.2H219.7zM112.6 344.2H115.0V346.4H112.6zM208.3 344.2H210.6V346.4H208.3zM210.6 346.4H212.9V348.6H210.6zM212.9 348.6H215.1V350.9H212.9zM105.3 350.9H107.7V353.1H105.3zM112.6 350.9H115.0V353.1H112.6zM215.1 350.9H217.4V353.1H215.1zM217.4 350.9H219.7V353.1H217.4zM219.7 350.9H222.0V353.1H219.7zM215.1 353.1H217.4V355.3H215.1zM217.4 353.1H219.7V355.3H217.4zM112.6 355.3H115.0V357.5H112.6zM206.0 355.3H208.3V357.5H206.0zM215.1 355.3H217.4V357.5H215.1zM219.7 355.3H222.0V357.5H219.7z"/>
</g>
<rect x="98.00" y="234.00" width="124.00" height="123.50" fill="none" stroke="#222" stroke-width="0.5"/>
<rect x="98.40" y="234.40" width="16.20" height="15.70" fill="none" stroke="#ff1010" stroke-width="0.95" stroke-dasharray="0.9 0.75"/>
<rect x="115.40" y="250.90" width="27.20" height="26.70" fill="none" stroke="#ff1010" stroke-width="0.95" stroke-dasharray="0.9 0.75"/>
<rect x="143.40" y="278.40" width="17.20" height="18.20" fill="none" stroke="#ff1010" stroke-width="0.95" stroke-dasharray="0.9 0.75"/>
<rect x="161.40" y="297.40" width="14.20" height="13.20" fill="none" stroke="#ff1010" stroke-width="0.95" stroke-dasharray="0.9 0.75"/>
<rect x="176.40" y="311.40" width="29.20" height="30.20" fill="none" stroke="#ff1010" stroke-width="0.95" stroke-dasharray="0.9 0.75"/>
<rect x="206.40" y="342.40" width="15.20" height="14.70" fill="none" stroke="#ff1010" stroke-width="0.95" stroke-dasharray="0.9 0.75"/>
<text x="156.60" y="363.20" font-size="5.0" fill="#000" stroke="#000" stroke-width="0.1" text-anchor="middle" font-family="'Liberation Sans', Arial, sans-serif"># Cells</text>
<text x="96.20" y="293.00" font-size="5.0" fill="#000" stroke="#000" stroke-width="0.1" text-anchor="middle" font-family="'Liberation Sans', Arial, sans-serif" transform="rotate(-90 96.20 293.00)"># Cells</text>
<defs><linearGradient id="cb" x1="0" y1="0" x2="0" y2="1"><stop offset="0.0" stop-color="#ffffff"/><stop offset="0.1" stop-color="#dce9e9"/><stop offset="0.2" stop-color="#b9d2d2"/><stop offset="0.3" stop-color="#9cb8bc"/><stop offset="0.4" stop-color="#8699a6"/><stop offset="0.5" stop-color="#707a8f"/><stop offset="0.6" stop-color="#595b79"/><stop offset="0.7" stop-color="#43435c"/><stop offset="0.8" stop-color="#2d2d3e"/><stop offset="0.9" stop-color="#16161f"/><stop offset="1.0" stop-color="#000000"/></linearGradient></defs>
<rect x="225.40" y="312.00" width="6.50" height="44.70" fill="url(#cb)" stroke="#333" stroke-width="0.4"/>
<text x="233.30" y="313.60" font-size="4.8" fill="#000" stroke="#000" stroke-width="0.1" text-anchor="start" font-family="'Liberation Sans', Arial, sans-serif">1</text>
<text x="232.80" y="324.30" font-size="4.8" fill="#000" stroke="#000" stroke-width="0.1" text-anchor="start" font-family="'Liberation Sans', Arial, sans-serif">0.5</text>
<text x="232.80" y="336.00" font-size="4.8" fill="#000" stroke="#000" stroke-width="0.1" text-anchor="start" font-family="'Liberation Sans', Arial, sans-serif">0</text>
<text x="231.60" y="347.80" font-size="4.8" fill="#000" stroke="#000" stroke-width="0.1" text-anchor="start" font-family="'Liberation Sans', Arial, sans-serif">-0.5</text>
<text x="239.90" y="331.30" font-size="5.2" fill="#000" stroke="#000" stroke-width="0.1" text-anchor="middle" font-family="'Liberation Sans', Arial, sans-serif" transform="rotate(90 239.90 331.30)">Correlation</text>
<rect x="99.21" y="215.07" width="2.43" height="13.93" fill="#f6e690" stroke="none" stroke-width="0.6"/>
<rect x="104.07" y="214.63" width="2.43" height="14.37" fill="#f6e690" stroke="none" stroke-width="0.6"/>
<rect x="100.43" y="209.69" width="4.86" height="19.31" fill="#f6e690" stroke="none" stroke-width="0.6"/>
<rect x="111.36" y="210.87" width="2.43" height="18.13" fill="#f6e690" stroke="none" stroke-width="0.6"/>
<rect x="108.93" y="208.74" width="3.64" height="20.26" fill="#f6e690" stroke="none" stroke-width="0.6"/>
<rect x="102.86" y="206.30" width="7.89" height="22.70" fill="#f6e690" stroke="none" stroke-width="0.6"/>
<rect x="116.17" y="213.65" width="2.33" height="15.35" fill="#f4c28e" stroke="none" stroke-width="0.6"/>
<rect x="117.33" y="209.47" width="3.50" height="19.53" fill="#f4c28e" stroke="none" stroke-width="0.6"/>
<rect x="123.17" y="206.45" width="2.33" height="22.55" fill="#f4c28e" stroke="none" stroke-width="0.6"/>
<rect x="119.08" y="204.78" width="5.25" height="24.22" fill="#f4c28e" stroke="none" stroke-width="0.6"/>
<rect x="130.17" y="210.21" width="2.33" height="18.79" fill="#f4c28e" stroke="none" stroke-width="0.6"/>
<rect x="127.83" y="208.84" width="3.50" height="20.16" fill="#f4c28e" stroke="none" stroke-width="0.6"/>
<rect x="121.71" y="203.42" width="7.88" height="25.58" fill="#f4c28e" stroke="none" stroke-width="0.6"/>
<rect x="134.83" y="210.97" width="2.33" height="18.03" fill="#f4c28e" stroke="none" stroke-width="0.6"/>
<rect x="136.00" y="208.56" width="3.50" height="20.44" fill="#f4c28e" stroke="none" stroke-width="0.6"/>
<rect x="137.75" y="200.55" width="4.08" height="28.45" fill="#f4c28e" stroke="none" stroke-width="0.6"/>
<rect x="125.65" y="198.70" width="14.15" height="30.30" fill="#f4c28e" stroke="none" stroke-width="0.6"/>
<rect x="144.12" y="202.99" width="2.25" height="26.01" fill="#d4bff2" stroke="none" stroke-width="0.6"/>
<rect x="148.62" y="205.16" width="2.25" height="23.84" fill="#d4bff2" stroke="none" stroke-width="0.6"/>
<rect x="145.25" y="201.49" width="4.50" height="27.51" fill="#d4bff2" stroke="none" stroke-width="0.6"/>
<rect x="155.38" y="215.54" width="2.25" height="13.46" fill="#d4bff2" stroke="none" stroke-width="0.6"/>
<rect x="153.12" y="210.28" width="3.38" height="18.72" fill="#d4bff2" stroke="none" stroke-width="0.6"/>
<rect x="154.81" y="203.12" width="5.06" height="25.88" fill="#d4bff2" stroke="none" stroke-width="0.6"/>
<rect x="147.50" y="194.50" width="9.84" height="34.50" fill="#d4bff2" stroke="none" stroke-width="0.6"/>
<rect x="162.07" y="198.35" width="2.14" height="30.65" fill="#bfeeb6" stroke="none" stroke-width="0.6"/>
<rect x="168.50" y="206.56" width="2.14" height="22.44" fill="#bfeeb6" stroke="none" stroke-width="0.6"/>
<rect x="166.36" y="202.10" width="3.21" height="26.90" fill="#bfeeb6" stroke="none" stroke-width="0.6"/>
<rect x="163.14" y="192.88" width="4.82" height="36.12" fill="#bfeeb6" stroke="none" stroke-width="0.6"/>
<rect x="172.79" y="196.80" width="2.14" height="32.20" fill="#bfeeb6" stroke="none" stroke-width="0.6"/>
<rect x="165.55" y="187.30" width="8.30" height="41.70" fill="#bfeeb6" stroke="none" stroke-width="0.6"/>
<rect x="177.15" y="209.16" width="2.31" height="19.84" fill="#efbeec" stroke="none" stroke-width="0.6"/>
<rect x="178.31" y="204.73" width="3.46" height="24.27" fill="#efbeec" stroke="none" stroke-width="0.6"/>
<rect x="184.08" y="213.20" width="2.31" height="15.80" fill="#efbeec" stroke="none" stroke-width="0.6"/>
<rect x="185.23" y="209.60" width="3.46" height="19.40" fill="#efbeec" stroke="none" stroke-width="0.6"/>
<rect x="180.04" y="202.40" width="6.92" height="26.60" fill="#efbeec" stroke="none" stroke-width="0.6"/>
<rect x="193.31" y="203.87" width="2.31" height="25.13" fill="#efbeec" stroke="none" stroke-width="0.6"/>
<rect x="191.00" y="196.05" width="3.46" height="32.95" fill="#efbeec" stroke="none" stroke-width="0.6"/>
<rect x="183.50" y="193.61" width="9.23" height="35.39" fill="#efbeec" stroke="none" stroke-width="0.6"/>
<rect x="197.92" y="197.36" width="2.31" height="31.64" fill="#efbeec" stroke="none" stroke-width="0.6"/>
<rect x="199.08" y="193.50" width="3.46" height="35.50" fill="#efbeec" stroke="none" stroke-width="0.6"/>
<rect x="200.81" y="184.13" width="4.04" height="44.87" fill="#efbeec" stroke="none" stroke-width="0.6"/>
<rect x="188.12" y="179.80" width="14.71" height="49.20" fill="#efbeec" stroke="none" stroke-width="0.6"/>
<rect x="207.14" y="201.67" width="2.29" height="27.33" fill="#c0d9f4" stroke="none" stroke-width="0.6"/>
<rect x="208.29" y="192.16" width="3.43" height="36.84" fill="#c0d9f4" stroke="none" stroke-width="0.6"/>
<rect x="218.57" y="205.65" width="2.29" height="23.35" fill="#c0d9f4" stroke="none" stroke-width="0.6"/>
<rect x="216.29" y="197.41" width="3.43" height="31.59" fill="#c0d9f4" stroke="none" stroke-width="0.6"/>
<rect x="214.00" y="188.96" width="4.00" height="40.04" fill="#c0d9f4" stroke="none" stroke-width="0.6"/>
<rect x="210.00" y="186.00" width="6.00" height="43.00" fill="#c0d9f4" stroke="none" stroke-width="0.6"/>
<path d="M99.21,229.00L99.21,215.07M101.64,229.00L101.64,215.07M99.21,215.07L101.64,215.07M104.07,229.00L104.07,214.63M106.50,229.00L106.50,214.63M104.07,214.63L106.50,214.63M100.43,215.07L100.43,209.69M105.29,214.63L105.29,209.69M100.43,209.69L105.29,209.69M111.36,229.00L111.36,210.87M113.79,229.00L113.79,210.87M111.36,210.87L113.79,210.87M108.93,229.00L108.93,208.74M112.57,210.87L112.57,208.74M108.93,208.74L112.57,208.74M102.86,209.69L102.86,206.30M110.75,208.74L110.75,206.30M102.86,206.30L110.75,206.30M116.17,229.00L116.17,213.65M118.50,229.00L118.50,213.65M116.17,213.65L118.50,213.65M117.33,213.65L117.33,209.47M120.83,229.00L120.83,209.47M117.33,209.47L120.83,209.47M123.17,229.00L123.17,206.45M125.50,229.00L125.50,206.45M123.17,206.45L125.50,206.45M119.08,209.47L119.08,204.78M124.33,206.45L124.33,204.78M119.08,204.78L124.33,204.78M130.17,229.00L130.17,210.21M132.50,229.00L132.50,210.21M130.17,210.21L132.50,210.21M127.83,229.00L127.83,208.84M131.33,210.21L131.33,208.84M127.83,208.84L131.33,208.84M121.71,204.78L121.71,203.42M129.58,208.84L129.58,203.42M121.71,203.42L129.58,203.42M134.83,229.00L134.83,210.97M137.17,229.00L137.17,210.97M134.83,210.97L137.17,210.97M136.00,210.97L136.00,208.56M139.50,229.00L139.50,208.56M136.00,208.56L139.50,208.56M137.75,208.56L137.75,200.55M141.83,229.00L141.83,200.55M137.75,200.55L141.83,200.55M125.65,203.42L125.65,198.70M139.79,200.55L139.79,198.70M125.65,198.70L139.79,198.70M144.12,229.00L144.12,202.99M146.38,229.00L146.38,202.99M144.12,202.99L146.38,202.99M148.62,229.00L148.62,205.16M150.88,229.00L150.88,205.16M148.62,205.16L150.88,205.16M145.25,202.99L145.25,201.49M149.75,205.16L149.75,201.49M145.25,201.49L149.75,201.49M155.38,229.00L155.38,215.54M157.62,229.00L157.62,215.54M155.38,215.54L157.62,215.54M153.12,229.00L153.12,210.28M156.50,215.54L156.50,210.28M153.12,210.28L156.50,210.28M154.81,210.28L154.81,203.12M159.88,229.00L159.88,203.12M154.81,203.12L159.88,203.12M147.50,201.49L147.50,194.50M157.34,203.12L157.34,194.50M147.50,194.50L157.34,194.50M162.07,229.00L162.07,198.35M164.21,229.00L164.21,198.35M162.07,198.35L164.21,198.35M168.50,229.00L168.50,206.56M170.64,229.00L170.64,206.56M168.50,206.56L170.64,206.56M166.36,229.00L166.36,202.10M169.57,206.56L169.57,202.10M166.36,202.10L169.57,202.10M163.14,198.35L163.14,192.88M167.96,202.10L167.96,192.88M163.14,192.88L167.96,192.88M172.79,229.00L172.79,196.80M174.93,229.00L174.93,196.80M172.79,196.80L174.93,196.80M165.55,192.88L165.55,187.30M173.86,196.80L173.86,187.30M165.55,187.30L173.86,187.30M177.15,229.00L177.15,209.16M179.46,229.00L179.46,209.16M177.15,209.16L179.46,209.16M178.31,209.16L178.31,204.73M181.77,229.00L181.77,204.73M178.31,204.73L181.77,204.73M184.08,229.00L184.08,213.20M186.38,229.00L186.38,213.20M184.08,213.20L186.38,213.20M185.23,213.20L185.23,209.60M188.69,229.00L188.69,209.60M185.23,209.60L188.69,209.60M180.04,204.73L180.04,202.40M186.96,209.60L186.96,202.40M180.04,202.40L186.96,202.40M193.31,229.00L193.31,203.87M195.62,229.00L195.62,203.87M193.31,203.87L195.62,203.87M191.00,229.00L191.00,196.05M194.46,203.87L194.46,196.05M191.00,196.05L194.46,196.05M183.50,202.40L183.50,193.61M192.73,196.05L192.73,193.61M183.50,193.61L192.73,193.61M197.92,229.00L197.92,197.36M200.23,229.00L200.23,197.36M197.92,197.36L200.23,197.36M199.08,197.36L199.08,193.50M202.54,229.00L202.54,193.50M199.08,193.50L202.54,193.50M200.81,193.50L200.81,184.13M204.85,229.00L204.85,184.13M200.81,184.13L204.85,184.13M188.12,193.61L188.12,179.80M202.83,184.13L202.83,179.80M188.12,179.80L202.83,179.80M207.14,229.00L207.14,201.67M209.43,229.00L209.43,201.67M207.14,201.67L209.43,201.67M208.29,201.67L208.29,192.16M211.71,229.00L211.71,192.16M208.29,192.16L211.71,192.16M218.57,229.00L218.57,205.65M220.86,229.00L220.86,205.65M218.57,205.65L220.86,205.65M216.29,229.00L216.29,197.41M219.71,205.65L219.71,197.41M216.29,197.41L219.71,197.41M214.00,229.00L214.00,188.96M218.00,197.41L218.00,188.96M214.00,188.96L218.00,188.96M210.00,192.16L210.00,186.00M216.00,188.96L216.00,186.00M210.00,186.00L216.00,186.00" stroke="#505050" stroke-width="0.5" fill="none"/>
<path d="M106.80,206.30L106.80,189.8L132.72,189.8L132.72,198.70" stroke="#505050" stroke-width="0.55" fill="none"/>
<path d="M119.76,189.80L119.76,180.0L152.42,180.0L152.42,194.50" stroke="#505050" stroke-width="0.55" fill="none"/>
<path d="M136.09,180.00L136.09,176.6L169.71,176.6L169.71,187.30" stroke="#505050" stroke-width="0.55" fill="none"/>
<path d="M152.90,176.60L152.90,173.3L195.47,173.3L195.47,179.80" stroke="#505050" stroke-width="0.55" fill="none"/>
<path d="M174.18,173.30L174.18,171.0L213.00,171.0L213.00,186.00" stroke="#505050" stroke-width="0.55" fill="none"/>
<circle cx="99.21" cy="229.00" r="0.85" fill="#e8861a"/>
<circle cx="101.64" cy="229.00" r="0.85" fill="#ff2020"/>
<circle cx="104.07" cy="229.00" r="0.85" fill="#e8861a"/>
<circle cx="106.50" cy="229.00" r="0.85" fill="#e8861a"/>
<circle cx="108.93" cy="229.00" r="0.85" fill="#ff2020"/>
<circle cx="111.36" cy="229.00" r="0.85" fill="#e8861a"/>
<circle cx="113.79" cy="229.00" r="0.85" fill="#ff2020"/>
<circle cx="116.17" cy="229.00" r="0.85" fill="#ff2020"/>
<circle cx="118.50" cy="229.00" r="0.85" fill="#ff2020"/>
<circle cx="120.83" cy="229.00" r="0.85" fill="#e8861a"/>
<circle cx="123.17" cy="229.00" r="0.85" fill="#ff2020"/>
<circle cx="125.50" cy="229.00" r="0.85" fill="#ff2020"/>
<circle cx="127.83" cy="229.00" r="0.85" fill="#11dd11"/>
<circle cx="130.17" cy="229.00" r="0.85" fill="#ff2020"/>
<circle cx="132.50" cy="229.00" r="0.85" fill="#ff2020"/>
<circle cx="134.83" cy="229.00" r="0.85" fill="#ff2020"/>
<circle cx="137.17" cy="229.00" r="0.85" fill="#e8861a"/>
<circle cx="139.50" cy="229.00" r="0.85" fill="#ff2020"/>
<circle cx="141.83" cy="229.00" r="0.85" fill="#ff2020"/>
<circle cx="144.12" cy="229.00" r="0.85" fill="#a000b4"/>
<circle cx="146.38" cy="229.00" r="0.85" fill="#a000b4"/>
<circle cx="148.62" cy="229.00" r="0.85" fill="#a000b4"/>
<circle cx="150.88" cy="229.00" r="0.85" fill="#a000b4"/>
<circle cx="153.12" cy="229.00" r="0.85" fill="#a000b4"/>
<circle cx="155.38" cy="229.00" r="0.85" fill="#a000b4"/>
<circle cx="157.62" cy="229.00" r="0.85" fill="#a000b4"/>
<circle cx="159.88" cy="229.00" r="0.85" fill="#ff60e0"/>
<circle cx="162.07" cy="229.00" r="0.85" fill="#11dd11"/>
<circle cx="164.21" cy="229.00" r="0.85" fill="#11dd11"/>
<circle cx="166.36" cy="229.00" r="0.85" fill="#11dd11"/>
<circle cx="168.50" cy="229.00" r="0.85" fill="#11dd11"/>
<circle cx="170.64" cy="229.00" r="0.85" fill="#11dd11"/>
<circle cx="172.79" cy="229.00" r="0.85" fill="#11dd11"/>
<circle cx="174.93" cy="229.00" r="0.85" fill="#11dd11"/>
<circle cx="177.15" cy="229.00" r="0.85" fill="#ff60e0"/>
<circle cx="179.46" cy="229.00" r="0.85" fill="#ff60e0"/>
<circle cx="181.77" cy="229.00" r="0.85" fill="#ff60e0"/>
<circle cx="184.08" cy="229.00" r="0.85" fill="#11dd11"/>
<circle cx="186.38" cy="229.00" r="0.85" fill="#ff60e0"/>
<circle cx="188.69" cy="229.00" r="0.85" fill="#ff60e0"/>
<circle cx="191.00" cy="229.00" r="0.85" fill="#ff60e0"/>
<circle cx="193.31" cy="229.00" r="0.85" fill="#ff60e0"/>
<circle cx="195.62" cy="229.00" r="0.85" fill="#11dd11"/>
<circle cx="197.92" cy="229.00" r="0.85" fill="#ff60e0"/>
<circle cx="200.23" cy="229.00" r="0.85" fill="#ff60e0"/>
<circle cx="202.54" cy="229.00" r="0.85" fill="#ff60e0"/>
<circle cx="204.85" cy="229.00" r="0.85" fill="#ff60e0"/>
<circle cx="207.14" cy="229.00" r="0.85" fill="#0000ff"/>
<circle cx="209.43" cy="229.00" r="0.85" fill="#0000ff"/>
<circle cx="211.71" cy="229.00" r="0.85" fill="#0000ff"/>
<circle cx="214.00" cy="229.00" r="0.85" fill="#0000ff"/>
<circle cx="216.29" cy="229.00" r="0.85" fill="#0000ff"/>
<circle cx="218.57" cy="229.00" r="0.85" fill="#0000ff"/>
<circle cx="220.86" cy="229.00" r="0.85" fill="#0000ff"/>
<line x1="98.00" y1="229.20" x2="222.00" y2="229.20" stroke="#d8d8d8" stroke-width="0.3"/>
<text x="97.00" y="205.00" font-size="5.2" fill="#000" stroke="#000" stroke-width="0.1" text-anchor="middle" font-family="'Liberation Sans', Arial, sans-serif">type VI</text>
<text x="124.80" y="197.30" font-size="5.2" fill="#000" stroke="#000" stroke-width="0.1" text-anchor="middle" font-family="'Liberation Sans', Arial, sans-serif">type V</text>
<text x="143.40" y="186.20" font-size="5.2" fill="#000" stroke="#000" stroke-width="0.1" text-anchor="middle" font-family="'Liberation Sans', Arial, sans-serif">type IV</text>
<text x="162.90" y="172.10" font-size="5.2" fill="#000" stroke="#000" stroke-width="0.1" text-anchor="middle" font-family="'Liberation Sans', Arial, sans-serif">type III</text>
<text x="195.00" y="168.90" font-size="5.2" fill="#000" stroke="#000" stroke-width="0.1" text-anchor="middle" font-family="'Liberation Sans', Arial, sans-serif">type II</text>
<text x="222.00" y="184.20" font-size="5.2" fill="#000" stroke="#000" stroke-width="0.1" text-anchor="middle" font-family="'Liberation Sans', Arial, sans-serif">type I</text>
<text x="87.30" y="221.30" font-size="4.4" fill="#444" stroke="#444" stroke-width="0.1" text-anchor="middle" font-family="'Liberation Sans', Arial, sans-serif" transform="rotate(-90 87.30 221.30)">0.05</text>
<text x="91.50" y="221.00" font-size="4.4" fill="#444" stroke="#444" stroke-width="0.1" text-anchor="middle" font-family="'Liberation Sans', Arial, sans-serif" transform="rotate(-90 91.50 221.00)">Distance</text>
<line x1="92.90" y1="216.50" x2="92.90" y2="225.80" stroke="#333" stroke-width="0.9"/>
<text x="245.30" y="6.40" font-size="7.2" fill="#000" text-anchor="start" font-weight="bold" font-family="'Liberation Sans', Arial, sans-serif">G</text>
<rect x="252.60" y="21.30" width="21.20" height="8.60" fill="none" stroke="#444" stroke-width="0.75"/>
<text x="263.40" y="27.60" font-size="6.3" fill="#000" stroke="#000" stroke-width="0.06" text-anchor="middle" font-family="'Liberation Sans', Arial, sans-serif">type I</text>
<rect x="252.60" y="64.10" width="21.20" height="8.60" fill="none" stroke="#444" stroke-width="0.75"/>
<text x="263.40" y="70.40" font-size="6.3" fill="#000" stroke="#000" stroke-width="0.06" text-anchor="middle" font-family="'Liberation Sans', Arial, sans-serif">type II</text>
<rect x="252.60" y="108.20" width="21.20" height="8.60" fill="none" stroke="#444" stroke-width="0.75"/>
<text x="263.40" y="114.50" font-size="6.3" fill="#000" stroke="#000" stroke-width="0.06" text-anchor="middle" font-family="'Liberation Sans', Arial, sans-serif">type III</text>
<rect x="252.60" y="148.20" width="21.20" height="8.60" fill="none" stroke="#444" stroke-width="0.75"/>
<text x="263.40" y="154.50" font-size="6.3" fill="#000" stroke="#000" stroke-width="0.06" text-anchor="middle" font-family="'Liberation Sans', Arial, sans-serif">type IV</text>
<rect x="252.60" y="189.10" width="21.20" height="8.60" fill="none" stroke="#444" stroke-width="0.75"/>
<text x="263.40" y="195.40" font-size="6.3" fill="#000" stroke="#000" stroke-width="0.06" text-anchor="middle" font-family="'Liberation Sans', Arial, sans-serif">type V</text>
<rect x="252.60" y="226.20" width="21.20" height="8.60" fill="none" stroke="#444" stroke-width="0.75"/>
<text x="263.40" y="232.50" font-size="6.3" fill="#000" stroke="#000" stroke-width="0.06" text-anchor="middle" font-family="'Liberation Sans', Arial, sans-serif">type VI</text>
<text x="279.00" y="17.90" font-size="5.4" fill="#000" stroke="#000" stroke-width="0.06" text-anchor="start" font-family="'Liberation Sans', Arial, sans-serif">group1</text>
<text x="279.00" y="47.30" font-size="5.4" fill="#000" stroke="#000" stroke-width="0.06" text-anchor="start" font-family="'Liberation Sans', Arial, sans-serif">group6</text>
<text x="282.00" y="98.00" font-size="5.4" fill="#000" stroke="#000" stroke-width="0.06" text-anchor="start" font-family="'Liberation Sans', Arial, sans-serif">group4</text>
<text x="280.00" y="137.30" font-size="5.4" fill="#000" stroke="#000" stroke-width="0.06" text-anchor="start" font-family="'Liberation Sans', Arial, sans-serif">group2</text>
<text x="276.80" y="182.50" font-size="5.4" fill="#000" stroke="#000" stroke-width="0.06" text-anchor="start" font-family="'Liberation Sans', Arial, sans-serif">group5</text>
<text x="282.00" y="224.60" font-size="5.4" fill="#000" stroke="#000" stroke-width="0.06" text-anchor="start" font-family="'Liberation Sans', Arial, sans-serif">group3</text>
<path d="M309.0,26.7L310.5,26.3L312.0,25.8L313.3,25.0M313.3,25.0L314.4,24.4L315.5,23.9L316.6,23.4M316.6,23.4L317.1,22.9L317.6,22.5L318.1,22.1M318.1,22.1L318.6,22.1L319.1,22.1L319.6,22.2M309.0,26.7L310.3,26.7L311.6,26.8L312.8,26.9M312.8,26.9L313.8,26.8L314.7,26.8L315.6,26.9M315.6,26.9L316.5,26.9L317.3,26.8L318.2,27.0M318.2,27.0L319.0,27.0L319.7,27.1L320.5,27.1M318.2,27.0L318.9,27.4L319.5,27.8L319.9,28.4M312.8,26.9L313.9,27.1L315.0,27.4L316.1,27.7M316.1,27.7L316.9,28.0L317.8,28.1L318.6,28.1M318.6,28.1L319.3,27.8L320.0,27.4L320.7,27.1M318.6,28.1L319.4,28.2L320.1,28.5L320.8,28.8M309.0,26.7L310.1,26.6L311.2,26.6L312.3,26.5M312.3,26.5L313.1,26.0L313.8,25.4L314.4,24.7M314.4,24.7L314.6,24.1L314.8,23.5L314.9,22.9M314.9,22.9L314.8,22.2L314.5,21.5L314.3,20.9M314.4,24.7L315.2,24.1L315.9,23.4L316.6,22.6M316.6,22.6L316.9,21.9L317.1,21.2L317.2,20.5M316.6,22.6L317.0,22.3L317.6,22.0L318.1,21.8M309.0,26.7L310.2,27.7L311.4,28.6L312.3,29.9M312.3,29.9L312.8,30.6L313.2,31.2L313.7,31.9M313.7,31.9L314.2,32.3L314.6,32.8L315.1,33.3M315.1,33.3L315.4,33.9L315.7,34.5L315.9,35.1M313.7,31.9L313.9,32.5L314.0,33.3L314.0,34.0M314.0,34.0L313.7,34.7L313.4,35.4L313.1,36.2M309.0,26.7L310.1,27.7L310.9,29.0L311.8,30.1M311.8,30.1L312.9,30.4L313.9,30.7L314.8,31.3M314.8,31.3L315.7,31.6L316.5,31.9L317.2,32.5M317.2,32.5L318.0,32.8L318.8,33.1L319.6,33.2M317.2,32.5L317.4,33.0L317.7,33.4L317.9,33.9M314.8,31.3L315.4,31.6L316.0,32.1L316.6,32.4M316.6,32.4L317.2,32.5L317.8,32.7L318.4,33.1M311.8,30.1L311.9,31.0L311.9,31.9L312.0,32.8M312.0,32.8L312.1,33.4L312.3,34.1L312.4,34.7M312.4,34.7L312.6,35.3L312.8,35.8L313.1,36.3M312.0,32.8L311.5,33.5L311.2,34.2L311.2,35.0M311.2,35.0L311.3,35.5L311.4,36.1L311.5,36.7M311.2,35.0L310.9,35.6L310.7,36.3L310.5,37.0M309.0,26.7L309.1,28.1L308.8,29.5L308.6,30.9M308.6,30.9L308.5,31.7L308.3,32.5L308.0,33.2M308.0,33.2L308.2,34.0L308.5,34.7L308.8,35.5M308.8,35.5L309.2,36.1L309.6,36.7L310.0,37.2M308.8,35.5L308.7,36.0L308.7,36.5L308.7,37.0M308.0,33.2L307.3,34.0L306.6,34.7L305.8,35.4M305.8,35.4L305.3,36.0L304.7,36.4L304.0,36.7M305.8,35.4L305.1,35.7L304.3,36.0L303.5,36.4M308.6,30.9L308.1,31.9L307.5,32.8L306.9,33.8M306.9,33.8L306.3,34.5L305.8,35.1L305.3,35.7M305.3,35.7L304.8,36.0L304.3,36.2L303.7,36.3M309.0,26.7L309.0,28.1L309.2,29.4L309.5,30.7M309.5,30.7L309.6,31.7L309.6,32.6L309.7,33.6M309.7,33.6L310.1,34.2L310.6,34.9L311.0,35.6M311.0,35.6L311.5,35.9L312.0,36.3L312.6,36.6M311.0,35.6L311.2,36.1L311.3,36.6L311.4,37.1M309.5,30.7L309.3,31.6L309.0,32.4L308.8,33.2M308.8,33.2L308.1,33.9L307.4,34.6L306.6,35.3M306.6,35.3L306.2,35.6L305.9,36.2L305.7,36.7M309.0,26.7L309.5,27.9L309.9,29.2L310.3,30.5M310.3,30.5L310.2,31.3L310.1,32.1L309.9,32.9M309.9,32.9L309.4,33.7L309.0,34.6L308.6,35.4M308.6,35.4L308.5,36.2L308.3,36.9L307.9,37.5M308.6,35.4L308.2,36.0L307.8,36.6L307.5,37.2M309.0,26.7L308.8,27.9L308.6,29.1L308.5,30.3M308.5,30.3L308.6,31.2L308.6,32.0L308.6,32.8M308.6,32.8L308.7,33.6L308.6,34.4L308.5,35.3M308.5,35.3L308.5,35.9L308.6,36.6L308.7,37.3M309.0,26.7L308.9,28.0L309.0,29.4L309.1,30.7M309.1,30.7L309.6,31.9L309.9,33.1L310.2,34.4M310.2,34.4L310.2,35.4L310.0,36.4L309.7,37.4M309.7,37.4L309.6,38.2M309.1,30.7L308.6,31.7L308.3,32.8L307.9,33.8M307.9,33.8L307.7,34.7L307.6,35.5L307.5,36.4M307.5,36.4L307.5,37.1L307.4,37.8M307.9,33.8L307.2,34.6L306.8,35.6L306.3,36.5M306.3,36.5L305.9,36.9L305.6,37.3M309.0,26.7L308.3,28.2L307.4,29.5L306.6,30.9M306.6,30.9L306.1,31.7L305.5,32.5L304.7,33.0M304.7,33.0L303.9,33.3L303.1,33.4L302.3,33.5M302.3,33.5L301.8,33.7L301.2,34.0L300.7,34.2M302.3,33.5L301.7,33.4L301.1,33.4L300.6,33.2M309.0,26.7L308.1,27.7L306.9,28.5L305.7,29.2M305.7,29.2L305.3,30.2L304.9,31.2L304.4,32.2M304.4,32.2L304.4,33.2L304.1,34.2L303.8,35.1M303.8,35.1L303.2,35.7L302.6,36.3M304.4,32.2L304.0,32.9L303.7,33.6L303.3,34.2M303.3,34.2L303.1,34.9L302.9,35.5L302.8,36.1M303.3,34.2L302.8,34.8L302.3,35.3L301.7,35.8M309.0,26.7L307.5,27.3L306.0,27.7L304.6,28.4M304.6,28.4L303.8,29.1L303.1,29.8L302.7,30.8M302.7,30.8L302.6,31.6L302.5,32.5L302.5,33.4M302.5,33.4L302.6,34.1L302.7,34.9L302.8,35.6M302.5,33.4L302.3,34.1L302.2,34.9L302.2,35.6M302.7,30.8L302.3,31.6L301.7,32.3L301.2,33.0M301.2,33.0L301.0,33.7L300.7,34.4L300.5,35.1M309.0,26.7L307.4,27.0L305.9,27.2L304.3,27.4M304.3,27.4L303.6,27.8L302.9,28.3L302.3,28.8M302.3,28.8L301.9,29.3L301.5,29.9L301.2,30.4M301.2,30.4L300.9,31.1L300.6,31.7L300.2,32.3M309.0,26.7L307.6,27.3L306.2,28.0L304.9,28.8M304.9,28.8L303.9,29.5L303.1,30.3L302.4,31.2M302.4,31.2L302.0,32.0L301.5,32.7L300.9,33.3M300.9,33.3L300.7,34.1L300.2,34.7M300.9,33.3L300.3,33.7L299.8,33.9L299.2,34.2M302.4,31.2L301.9,31.7L301.3,32.1L300.7,32.5M300.7,32.5L300.3,32.9L300.0,33.4L299.6,33.9M309.0,26.7L307.5,27.0L306.1,27.0L304.6,27.0M304.6,27.0L303.7,26.5L302.9,26.0L302.1,25.6M302.1,25.6L301.1,25.3L300.1,25.0L299.1,24.6M299.1,24.6L298.4,24.5L297.7,24.5L297.0,24.3M302.1,25.6L301.4,25.0L300.7,24.3L300.0,23.7M300.0,23.7L299.4,23.4L298.8,23.2L298.1,23.0M300.0,23.7L299.5,23.3L298.9,23.0L298.4,22.7M309.0,26.7L307.8,25.7L306.5,24.9L305.3,23.8M305.3,23.8L304.4,22.9L303.6,21.9L302.6,21.1M302.6,21.1L302.0,20.4L301.5,19.6L301.1,18.8M301.1,18.8L300.5,18.2M301.1,18.8L301.0,18.3L300.9,17.8M309.0,26.7L307.9,25.6L306.8,24.7L305.4,24.1M305.4,24.1L304.2,23.7L302.9,23.3L301.6,23.1M301.6,23.1L300.9,23.4L300.2,23.8L299.5,24.2M299.5,24.2L298.9,24.8L298.5,25.5L297.9,26.1M299.5,24.2L298.8,24.5L298.1,24.9L297.5,25.3M301.6,23.1L300.9,22.3L300.5,21.4L299.8,20.6M299.8,20.6L299.1,20.4L298.6,20.0M299.8,20.6L299.5,20.2L299.1,19.7L298.9,19.2M309.0,26.7L308.5,25.8L308.1,24.9L307.6,24.0M307.6,24.0L306.9,23.3L306.4,22.5L306.0,21.6M306.0,21.6L305.6,20.9L305.3,20.1L305.1,19.3M305.1,19.3L304.7,18.6L304.2,17.9L303.7,17.3M305.1,19.3L305.1,18.6L305.1,17.8L305.0,17.1M307.6,24.0L307.4,22.7L307.1,21.5L306.9,20.2M306.9,20.2L306.8,19.5L306.8,18.9L307.1,18.2M307.1,18.2L307.3,17.6L307.6,17.1L307.8,16.5M309.0,26.7L308.7,25.4L308.7,24.0L309.0,22.7M309.0,22.7L308.6,21.4L308.3,20.2L308.5,18.9M308.5,18.9L308.6,17.8L308.6,16.8L308.7,15.8M309.0,22.7L309.3,21.8L309.7,20.9L310.1,20.0M310.1,20.0L310.2,19.1L310.4,18.3L310.4,17.4M310.4,17.4L310.3,16.9L310.1,16.3L310.1,15.7M310.1,20.0L310.6,19.4L311.1,18.9L311.7,18.4M311.7,18.4L312.1,18.0L312.5,17.7L312.9,17.3M309.0,26.7L308.5,25.2L308.1,23.7L307.8,22.1M307.8,22.1L307.0,21.2L306.2,20.2L305.4,19.2M305.4,19.2L304.5,18.9L303.5,18.7L302.5,18.7M302.5,18.7L301.8,18.7L301.0,18.6L300.3,18.6M307.8,22.1L308.2,21.2L308.5,20.2L308.7,19.2M308.7,19.2L308.8,18.4L309.1,17.6L309.4,16.8M309.4,16.8L309.4,16.1L309.6,15.3M309.4,16.8L309.7,16.2L309.9,15.5M309.0,26.7L308.4,25.4L307.8,24.1L307.4,22.8M307.4,22.8L306.6,21.7L305.9,20.6L305.5,19.3M305.5,19.3L305.0,18.7L304.4,18.1L304.0,17.5M304.0,17.5L303.2,17.1L302.5,16.7M309.0,26.7L309.0,25.2L309.4,23.7L309.5,22.1M309.5,22.1L309.5,21.3L309.6,20.4L309.7,19.6M309.7,19.6L309.6,18.8L309.6,18.1L309.5,17.3M309.5,17.3L309.4,16.7L309.2,16.0L308.9,15.4M309.7,19.6L310.4,19.0L311.0,18.4L311.6,17.9M311.6,17.9L312.2,17.6L312.7,17.3L313.0,16.9M309.0,26.7L309.6,25.3L310.3,24.0L310.8,22.7M310.8,22.7L311.5,21.8L312.0,20.8L312.7,20.0M312.7,20.0L313.4,19.6L314.1,19.2L314.8,18.7M314.8,18.7L315.4,18.2L315.9,17.6M314.8,18.7L315.4,18.4L316.1,18.0L316.8,17.8M309.0,26.7L309.9,26.1L310.8,25.5L311.5,24.7M311.5,24.7L312.2,23.6L313.1,22.7L314.0,21.8M314.0,21.8L314.5,21.3L315.1,20.8L315.5,20.3M315.5,20.3L316.3,20.1L317.0,20.2L317.7,20.1M311.5,24.7L312.2,23.8L313.0,23.1L313.8,22.4M313.8,22.4L314.1,21.8L314.5,21.2L314.9,20.6M314.9,20.6L315.5,20.2L316.1,19.8L316.7,19.5M313.8,22.4L314.7,22.0L315.5,21.7L316.4,21.3M316.4,21.3L317.1,20.9L317.7,20.4L318.3,19.8M316.4,21.3L317.0,21.1L317.5,20.9L318.1,20.6M309.0,26.7L309.6,25.5L310.2,24.3L310.8,23.2M310.8,23.2L311.1,22.1L311.2,21.0L311.3,19.9M311.3,19.9L310.9,19.2L310.6,18.4L310.3,17.7M310.3,17.7L309.9,17.2L309.4,17.0L308.8,16.9M310.3,17.7L310.4,17.1L310.4,16.6L310.5,16.1M311.3,19.9L311.5,19.0L311.8,18.1L312.2,17.2M312.2,17.2L312.4,16.7L312.6,16.2L312.9,15.8M312.2,17.2L312.7,16.5L313.1,15.8M310.8,23.2L311.4,22.4L312.0,21.7L312.7,20.9M312.7,20.9L312.9,20.0L313.2,19.2L313.4,18.3M313.4,18.3L313.4,17.6L313.2,16.9L313.0,16.3M309.0,26.7L310.4,26.4L311.8,26.1L313.1,25.6M313.1,25.6L313.9,25.1L314.6,24.5L315.5,24.1M315.5,24.1L316.2,23.8L316.9,23.3L317.5,22.8M317.5,22.8L318.0,22.3L318.6,21.8L319.2,21.4M313.1,25.6L314.0,25.6L314.9,25.6L315.8,25.7M315.8,25.7L316.7,25.5L317.7,25.6L318.7,25.8M318.7,25.8L319.4,26.0L320.1,26.2L320.8,26.5M318.7,25.8L319.2,26.4L319.6,27.0L319.9,27.6M309.0,26.7L310.3,26.1L311.6,25.8L312.8,25.2M312.8,25.2L313.9,24.4L314.7,23.5L315.7,22.6M315.7,22.6L316.3,21.9L316.9,21.1L317.5,20.4M317.5,20.4L318.0,20.0L318.6,19.7L319.2,19.6M315.7,22.6L316.6,22.1L317.4,21.6L318.4,21.4M318.4,21.4L318.9,21.1L319.3,20.7L319.6,20.3M318.4,21.4L319.1,21.6L319.7,22.0L320.3,22.4" stroke="#a8a8a8" stroke-width="0.4" fill="none" stroke-linejoin="round" stroke-linecap="round"/>
<circle cx="309" cy="26.7" r="1.0" fill="#a8a8a8"/>
<path d="M307.3,68.3L309.1,68.1L310.8,67.6L312.6,67.3M312.6,67.3L314.2,66.5L315.8,65.7L317.3,64.7M317.3,64.7L317.8,63.2L318.9,62.0L319.8,60.7M319.8,60.7L320.6,59.8L321.3,58.7L322.1,57.8M322.1,57.8L322.6,56.7L323.3,55.6L324.0,54.6M324.0,54.6L324.7,54.3M317.3,64.7L319.2,64.8L321.0,65.0L322.8,65.1M322.8,65.1L324.4,64.7L326.1,64.3L327.6,63.7M327.6,63.7L328.7,63.1L329.9,62.7L331.1,62.3M331.1,62.3L331.7,61.8M331.1,62.3L332.4,62.3M307.3,68.3L309.0,69.3L310.7,70.3L312.6,70.9M312.6,70.9L314.4,70.6L316.1,69.7L317.6,68.7M317.6,68.7L318.4,67.7L318.9,66.5L319.4,65.4M319.4,65.4L320.1,64.5L320.5,63.5L321.1,62.6M321.1,62.6L321.0,61.7L321.0,60.8L320.8,59.9M320.8,59.9L320.3,59.4L319.9,58.7L319.6,58.0M320.8,59.9L321.2,59.1L321.7,58.3L321.9,57.4M321.1,62.6L322.5,62.4L323.8,61.9L325.1,61.5M325.1,61.5L325.9,60.5L326.5,59.4L327.0,58.3M325.1,61.5L326.2,61.7L327.3,61.8L328.3,62.3M317.6,68.7L319.4,68.7L321.0,69.1L322.6,69.7M322.6,69.7L324.3,69.4L326.0,69.2L327.7,69.0M327.7,69.0L328.9,69.1L330.2,69.4L331.3,70.0M331.3,70.0L332.1,70.3L333.0,70.5L333.9,70.5M331.3,70.0L331.9,70.8L332.6,71.5L333.3,72.3M322.6,69.7L323.5,71.1L324.2,72.5L325.4,73.7M325.4,73.7L326.4,74.2L327.6,74.5L328.8,74.4M328.8,74.4L329.6,74.1L330.5,73.9L331.3,73.6M328.8,74.4L329.8,74.6L330.7,74.9L331.7,75.2M312.6,70.9L314.1,72.3L315.8,73.5L317.5,74.7M317.5,74.7L318.9,75.0L320.3,75.3L321.5,76.0M321.5,76.0L322.8,76.2L324.0,76.2L325.2,76.3M325.2,76.3L326.5,76.2L327.7,76.0L328.9,75.8M328.9,75.8L329.6,74.9L330.1,74.0L330.6,73.0M328.9,75.8L329.9,75.9L330.9,76.0M321.5,76.0L322.2,77.0L322.7,78.1L323.1,79.2M323.1,79.2L323.6,80.1L324.0,80.9L324.5,81.7M317.5,74.7L318.4,75.6L319.3,76.5L320.2,77.4M320.2,77.4L320.9,78.7L321.2,80.2L321.5,81.6M321.5,81.6L322.0,82.6L322.6,83.5M321.5,81.6L321.1,83.0L320.5,84.2M307.3,68.3L308.6,70.7L310.4,72.7L311.6,75.2M311.6,75.2L311.4,77.4L312.0,79.5L312.9,81.5M312.9,81.5L313.8,83.1L314.4,84.7M307.3,68.3L306.7,70.5L305.6,72.5L304.3,74.4M304.3,74.4L304.3,76.3L304.1,78.2L303.5,80.0M303.5,80.0L303.5,81.4L303.3,82.7L303.0,84.1M303.0,84.1L303.2,85.4M303.0,84.1L301.7,84.9L300.2,85.2L298.6,85.2M298.6,85.2L297.5,84.3L296.5,83.2L296.0,81.8M296.0,81.8L295.5,80.8L295.1,79.8L294.7,78.7M296.0,81.8L296.4,81.0L296.8,80.1L297.3,79.3M303.5,80.0L302.2,81.0L301.0,81.9L299.9,83.1M299.9,83.1L299.3,84.0L298.5,84.8L297.6,85.5M299.9,83.1L298.7,83.4L297.7,84.2L296.8,85.1M304.3,74.4L302.7,75.2L301.0,75.9L299.4,76.6M299.4,76.6L298.4,77.6L297.4,78.5L296.3,79.4M296.3,79.4L295.3,80.4L294.2,81.3L293.0,82.2M293.0,82.2L292.4,83.6M293.0,82.2L292.0,82.7M299.4,76.6L297.8,76.7L296.2,76.9L294.6,76.8M294.6,76.8L293.0,76.9L291.3,77.2L289.8,77.8M289.8,77.8L288.6,78.3L287.5,78.9L286.3,79.2M286.3,79.2L285.4,79.1M289.8,77.8L288.8,77.9L287.8,77.9L286.9,77.8M286.9,77.8L285.9,78.5M286.9,77.8L285.8,77.3L284.9,76.7L283.8,76.3M294.6,76.8L293.3,76.2L292.0,75.7L290.7,75.0M290.7,75.0L289.5,75.4L288.2,75.6L286.9,75.4M286.9,75.4L285.7,75.5L284.6,75.8L283.4,76.1M290.7,75.0L290.0,73.7L289.1,72.6L288.4,71.3M288.4,71.3L287.3,70.8L286.1,70.4L284.9,70.1M288.4,71.3L288.7,70.3L288.7,69.3L288.5,68.3M307.3,68.3L305.4,69.2L303.7,70.4L301.8,71.4M301.8,71.4L300.6,72.3L299.2,72.9L297.8,73.6M297.8,73.6L297.4,75.0L296.5,76.0L295.6,77.1M295.6,77.1L295.1,78.4L294.6,79.6L294.2,80.9M294.2,80.9L294.8,82.1L295.3,83.3L295.8,84.4M295.8,84.4L296.6,85.3M294.2,80.9L293.3,81.6L292.5,82.4L291.8,83.3M295.6,77.1L294.5,77.4L293.5,77.5L292.4,77.4M292.4,77.4L291.3,78.3L290.3,79.3L289.3,80.3M289.3,80.3L288.9,81.2M289.3,80.3L288.2,80.8M292.4,77.4L291.5,76.8L290.7,76.0L289.8,75.4M289.8,75.4L288.9,75.5L288.1,75.4L287.2,75.4M289.8,75.4L289.5,74.4L289.3,73.4L289.2,72.4M297.8,73.6L295.8,73.5L293.7,73.5L291.7,73.4M291.7,73.4L290.7,74.4L289.7,75.5L288.6,76.5M288.6,76.5L288.2,77.5L287.9,78.6L287.4,79.6M287.4,79.6L287.4,80.7M288.6,76.5L287.6,77.2L286.4,77.7L285.3,78.3M291.7,73.4L290.8,73.0L289.8,72.6L288.8,72.2M288.8,72.2L287.8,72.1L286.7,72.3L285.7,72.7M285.7,72.7L284.8,73.0L283.9,73.4L283.1,73.8M288.8,72.2L288.0,71.7L287.3,71.0L286.7,70.4M286.7,70.4L285.9,70.0L285.0,69.9L284.2,70.0M286.7,70.4L286.0,69.4L285.3,68.3L284.6,67.4M307.3,68.3L305.4,67.4L303.3,66.6L301.3,66.0M301.3,66.0L299.3,66.7L297.3,67.2L295.3,67.8M295.3,67.8L293.9,68.1L292.5,68.3L291.1,68.6M291.1,68.6L289.8,69.1L288.5,69.8L287.2,70.6M287.2,70.6L286.1,71.1L285.0,71.6L283.9,72.1M283.9,72.1L283.5,72.8L283.1,73.6L282.8,74.4M283.9,72.1L283.0,72.1L282.2,72.2L281.3,72.1M301.3,66.0L300.0,64.7L298.7,63.6L297.3,62.4M297.3,62.4L296.0,62.3L294.7,62.2L293.4,61.9M293.4,61.9L292.2,61.9L291.1,61.9L289.9,61.8M289.9,61.8L288.6,62.3L287.3,62.7L285.9,62.9M285.9,62.9L285.3,63.4L284.5,63.7L283.8,64.1M285.9,62.9L284.7,62.5L283.7,61.8L282.6,61.2M289.9,61.8L289.0,61.4L288.2,61.0L287.4,60.4M287.4,60.4L286.6,60.2L285.8,59.9L285.1,59.5M297.3,62.4L296.5,61.2L295.9,59.8L295.2,58.4M295.2,58.4L294.3,57.1L293.6,55.6L293.0,54.0M293.0,54.0L293.5,53.0M307.3,68.3L306.6,66.1L306.4,63.9L306.2,61.6M306.2,61.6L305.6,59.6L305.1,57.6L304.1,55.7M304.1,55.7L303.3,54.0L302.5,52.2L301.7,50.4M306.2,61.6L306.6,59.6L307.0,57.7L307.8,55.8M307.8,55.8L308.6,54.3L309.4,52.8L310.4,51.4M310.4,51.4L311.5,50.8L312.7,50.3M307.3,68.3L307.8,66.0L308.5,63.7L308.5,61.4M308.5,61.4L308.7,59.9L308.7,58.4L308.9,57.0M308.9,57.0L307.8,55.4L306.4,54.0L305.1,52.6M305.1,52.6L304.0,51.5L302.7,50.5M308.9,57.0L309.8,55.8L310.8,54.8L311.8,53.8M311.8,53.8L311.8,52.3L311.8,50.8M311.8,53.8L313.3,53.2L314.9,52.6L316.4,52.1M316.4,52.1L317.6,52.0L318.8,51.9L320.1,52.0M320.1,52.0L320.9,52.5L321.6,53.0L322.4,53.5M307.3,68.3L309.0,67.2L310.5,65.8L312.0,64.4M312.0,64.4L313.5,62.7L315.0,61.1L316.7,59.6M316.7,59.6L317.2,58.1L316.8,56.6L315.9,55.2M315.9,55.2L314.9,54.7L313.8,54.3L313.0,53.5M313.0,53.5L311.8,52.7L310.6,52.2L309.4,51.6M309.4,51.6L308.1,51.6L306.9,51.7L305.6,51.7M309.4,51.6L308.3,51.0L307.2,50.5L306.1,49.9M315.9,55.2L316.0,53.9L315.9,52.7L315.7,51.4M316.7,59.6L318.1,59.3L319.4,58.7L320.7,58.1M320.7,58.1L321.2,57.2L321.5,56.2L321.8,55.2M321.8,55.2L321.7,54.2L321.5,53.1M320.7,58.1L321.9,58.4L323.1,58.6L324.3,59.0M324.3,59.0L325.2,59.4L325.8,60.1L326.6,60.7M326.6,60.7L327.4,60.8L328.2,60.7L329.0,60.5M326.6,60.7L326.8,61.7L327.1,62.6L327.1,63.6" stroke="#707070" stroke-width="0.45" fill="none" stroke-linejoin="round" stroke-linecap="round"/>
<circle cx="307.3" cy="68.3" r="1.0" fill="#707070"/>
<path d="M308.3,111.0L310.1,110.3L312.0,110.0L313.8,109.6M313.8,109.6L314.8,108.7L315.9,108.1L317.0,107.5M317.0,107.5L317.7,106.9L318.2,106.1L318.4,105.2M318.4,105.2L318.4,104.5L318.3,103.8L318.1,103.1M318.1,103.1L317.7,102.6L317.1,102.3L316.5,102.0M316.5,102.0L315.9,102.4L315.3,102.7L314.8,103.0M316.5,102.0L316.2,101.7L316.0,101.3L315.6,100.9M318.1,103.1L318.0,102.5L317.8,101.9L317.7,101.2M317.7,101.2L317.7,100.6L317.9,100.0L317.8,99.3M313.8,109.6L314.8,110.3L315.9,110.6L317.0,111.2M317.0,111.2L317.9,111.6L318.8,111.8L319.8,112.0M319.8,112.0L320.7,112.7L321.5,113.4L322.3,114.1M322.3,114.1L322.9,114.2L323.4,114.3L323.9,114.3M323.9,114.3L324.6,114.5L325.2,114.2L325.8,113.9M322.3,114.1L322.6,114.6L322.9,115.1L323.1,115.6M323.1,115.6L323.0,116.0L322.9,116.4L322.9,116.9M308.3,111.0L308.7,112.7L309.6,114.2L310.3,115.8M310.3,115.8L311.4,116.9L312.2,118.2L313.2,119.4M313.2,119.4L313.9,120.1L314.7,120.8L315.5,121.5M315.5,121.5L316.4,121.8L317.3,122.1L318.2,122.3M318.2,122.3L318.8,122.3L319.4,122.3L320.0,122.0M320.0,122.0L320.6,121.6L321.2,121.3L321.7,121.0M320.0,122.0L320.5,121.9L321.0,121.7L321.4,121.6M315.5,121.5L315.9,122.2L316.3,122.9L316.9,123.5M316.9,123.5L317.5,123.6L318.1,123.8L318.6,124.1M318.6,124.1L319.0,124.4L319.3,124.8M316.9,123.5L317.3,123.9L317.5,124.5L317.6,125.0M317.6,125.0L317.9,125.4M317.6,125.0L317.7,125.5M313.2,119.4L313.6,120.4L313.8,121.4L314.0,122.5M314.0,122.5L314.0,123.3L314.1,124.2L314.2,125.0M314.2,125.0L314.2,125.8M308.3,111.0L310.1,112.5L311.6,114.1L313.3,115.7M313.3,115.7L314.4,116.6L315.6,117.5L316.7,118.5M316.7,118.5L317.5,119.0L318.4,119.5L319.2,120.2M319.2,120.2L320.0,120.9L320.8,121.5L321.4,122.4M321.4,122.4L322.0,122.8L322.7,122.9M321.4,122.4L321.6,123.0L321.5,123.6M316.7,118.5L317.1,119.3L317.8,120.0L318.6,120.6M318.6,120.6L319.6,120.6L320.7,120.7L321.7,120.4M321.7,120.4L322.1,119.9L322.5,119.3L322.9,118.8M322.9,118.8L323.2,118.4L323.5,118.1L323.9,117.8M321.7,120.4L322.4,120.7L323.1,121.1L323.9,121.4M323.9,121.4L324.4,121.5L324.9,121.6M323.9,121.4L324.3,121.8M318.6,120.6L319.1,121.1L319.5,121.8L319.8,122.4M319.8,122.4L320.4,122.9L320.9,123.4L321.6,123.8M308.3,111.0L307.9,113.2L307.1,115.3L306.5,117.4M306.5,117.4L306.2,118.8L305.6,120.1L304.7,121.2M304.7,121.2L303.9,122.1L303.1,123.1L302.6,124.2M302.6,124.2L302.5,124.9L302.4,125.6L302.3,126.3M302.6,124.2L301.8,124.8L301.1,125.7M308.3,111.0L306.6,112.0L305.0,113.0L303.3,114.0M303.3,114.0L302.5,114.9L302.2,116.0L301.6,117.0M301.6,117.0L300.9,118.1L300.1,119.2L299.3,120.2M299.3,120.2L298.7,120.8L298.0,121.3L297.3,121.8M297.3,121.8L297.0,122.4L296.7,123.0L296.4,123.6M296.4,123.6L296.4,124.1M297.3,121.8L296.8,121.9L296.2,121.9L295.7,121.8M295.7,121.8L295.1,121.8L294.5,121.7L293.9,121.6M308.3,111.0L306.6,112.0L304.9,112.8L303.3,113.9M303.3,113.9L303.2,115.6L303.3,117.3L303.5,119.0M303.5,119.0L303.9,120.0L304.0,121.1L304.3,122.1M304.3,122.1L304.8,122.9L305.5,123.5L306.2,124.1M306.2,124.1L306.9,124.5L307.5,124.9L308.2,125.2M308.2,125.2L308.6,125.4L309.0,125.7L309.3,126.1M304.3,122.1L303.9,123.1L303.6,124.2L303.2,125.2M303.2,125.2L303.3,126.0M303.2,125.2L302.6,125.5L302.0,125.7L301.4,126.0M303.5,119.0L303.4,120.1L302.9,121.2L302.3,122.1M302.3,122.1L301.9,122.7L301.4,123.2L300.8,123.6M300.8,123.6L300.2,123.6L299.7,123.6L299.1,123.6M299.1,123.6L298.7,124.1L298.3,124.6L297.8,124.9M299.1,123.6L298.6,123.4L298.1,123.1L297.5,123.0M303.3,113.9L301.7,114.0L300.1,114.3L298.6,114.7M298.6,114.7L297.3,115.3L296.1,115.9L295.0,116.6M295.0,116.6L294.1,116.9L293.2,117.4L292.4,118.0M292.4,118.0L292.0,118.4L291.5,118.7L291.0,118.9M291.0,118.9L290.6,119.3L290.3,119.6L289.8,119.9M308.3,111.0L307.0,110.4L305.6,109.9L304.3,109.3M304.3,109.3L302.7,109.6L301.2,110.2L299.5,110.3M299.5,110.3L298.6,110.6L297.9,111.1L297.1,111.5M297.1,111.5L296.5,112.4L296.0,113.2L295.6,114.1M295.6,114.1L295.5,114.8L295.3,115.5L295.0,116.2M295.0,116.2L294.7,116.8L294.5,117.4L294.4,118.0M295.6,114.1L295.1,114.8L294.6,115.5L294.2,116.3M294.2,116.3L294.1,116.9L293.8,117.4L293.5,117.9M297.1,111.5L296.2,111.7L295.4,112.0L294.5,112.2M294.5,112.2L293.9,112.4L293.4,112.9L293.1,113.5M293.1,113.5L292.6,113.8L292.1,114.0L291.6,114.2M294.5,112.2L294.0,112.3L293.5,112.5L293.0,112.8M293.0,112.8L292.6,112.9L292.2,113.0L291.7,113.0M299.5,110.3L298.5,110.1L297.5,109.8L296.4,109.9M296.4,109.9L295.6,110.2L294.7,110.4L293.9,110.6M293.9,110.6L293.3,111.0L292.8,111.5L292.5,112.1M292.5,112.1L292.3,112.6L292.1,113.0L291.8,113.4M292.5,112.1L292.1,112.4L291.7,112.7L291.3,113.0M293.9,110.6L293.3,110.7L292.7,110.7L292.1,110.8M292.1,110.8L291.7,111.0L291.3,111.2L290.9,111.4M292.1,110.8L291.6,110.7L291.1,110.6L290.5,110.6M304.3,109.3L303.3,108.4L302.2,107.5L301.0,106.8M301.0,106.8L300.1,106.6L299.2,106.6L298.3,106.5M298.3,106.5L297.7,106.5L297.0,106.4L296.3,106.5M296.3,106.5L295.7,106.7L295.2,107.0L294.6,107.2M294.6,107.2L294.2,107.4L293.9,107.7L293.7,108.1M301.0,106.8L300.7,106.0L300.4,105.2L300.1,104.4M300.1,104.4L299.6,103.9L299.1,103.3L298.7,102.7M298.7,102.7L298.4,102.2L298.2,101.7L298.0,101.2M298.0,101.2L298.0,100.6L298.0,100.0L298.1,99.4M300.1,104.4L300.3,103.4L300.4,102.5L300.5,101.5M300.5,101.5L300.5,100.8L300.4,100.1L300.2,99.4M300.2,99.4L300.1,98.9L300.1,98.4L300.0,97.8M308.3,111.0L307.0,109.8L305.6,108.8L304.1,107.8M304.1,107.8L303.1,106.5L302.0,105.3L300.8,104.1M300.8,104.1L299.6,103.6L298.2,103.3L297.0,102.7M297.0,102.7L296.2,102.7L295.4,102.7L294.5,102.6M294.5,102.6L293.8,102.5L293.1,102.4L292.3,102.2M292.3,102.2L291.9,102.3L291.5,102.1L291.2,101.9M292.3,102.2L292.0,101.7L291.5,101.3L290.9,101.1M297.0,102.7L296.6,102.2L296.1,101.6L295.7,100.9M295.7,100.9L295.0,100.6L294.3,100.1L293.7,99.5M293.7,99.5L293.1,99.4M293.7,99.5L293.4,99.0M295.7,100.9L295.8,100.2L295.8,99.5L295.6,98.8M295.6,98.8L295.4,98.4L295.3,98.0M300.8,104.1L300.7,103.0L300.4,102.0L299.8,101.0M299.8,101.0L299.1,100.6L298.5,100.2L297.8,99.7M297.8,99.7L297.5,99.0L296.9,98.5L296.2,98.2M296.2,98.2L295.7,98.0M299.8,101.0L299.8,100.2L299.6,99.3L299.8,98.4M299.8,98.4L299.6,97.9L299.4,97.4L299.2,96.9M299.8,98.4L300.1,97.9L300.5,97.4L301.0,96.9M301.0,96.9L301.1,96.5L301.3,96.1L301.6,95.8M301.0,96.9L301.7,96.9L302.3,96.8L303.0,96.7M308.3,111.0L308.0,109.2L307.2,107.5L306.3,105.9M306.3,105.9L305.5,104.8L304.3,103.9L303.2,103.0M303.2,103.0L302.7,102.4L302.3,101.6L301.9,100.9M301.9,100.9L301.2,100.3L300.7,99.6L300.1,98.9M300.1,98.9L299.9,98.5L299.6,98.0L299.3,97.6M299.3,97.6L298.9,97.3L298.7,96.9M299.3,97.6L299.2,97.1L299.0,96.6M301.9,100.9L301.7,99.9L301.6,98.8L301.5,97.8M301.5,97.8L301.1,97.1L300.6,96.5M306.3,105.9L306.5,104.2L307.0,102.5L307.3,100.8M307.3,100.8L307.7,99.7L307.9,98.5L308.2,97.3M308.2,97.3L307.9,96.3L307.5,95.2M308.2,97.3L308.8,96.7L309.4,96.2L310.1,95.6M310.1,95.6L310.5,95.3M308.3,111.0L308.8,109.4L309.1,107.8L308.7,106.2M308.7,106.2L308.4,104.7L307.6,103.5L306.7,102.3M306.7,102.3L305.9,101.8L305.2,101.2L304.5,100.5M304.5,100.5L303.8,99.8L303.1,98.9L302.5,98.0M302.5,98.0L302.0,97.6L301.6,97.3L301.1,96.9M301.1,96.9L300.6,96.7L300.0,96.5L299.5,96.3M302.5,98.0L302.5,97.1L302.6,96.3M308.7,106.2L309.0,105.1L309.3,104.0L310.1,103.2M310.1,103.2L310.5,101.8L310.4,100.4L310.4,99.0M310.4,99.0L310.5,98.3L310.9,97.6L311.3,97.0M311.3,97.0L311.7,96.4L312.0,95.8M310.1,103.2L311.1,103.3L312.0,103.4L312.9,103.6M312.9,103.6L313.6,103.9L314.3,104.1L315.0,104.3M315.0,104.3L315.8,104.1L316.5,103.9L317.2,103.8M317.2,103.8L317.5,103.3L317.9,102.9L318.1,102.3M317.2,103.8L317.7,104.0L318.1,104.0L318.6,103.9M315.0,104.3L315.2,104.9L315.3,105.4L315.5,106.0M315.5,106.0L315.7,106.4L315.9,106.9L316.1,107.4M315.5,106.0L315.4,106.6L315.7,107.2L316.0,107.7M312.9,103.6L313.5,104.0L314.1,104.3L314.8,104.5M314.8,104.5L315.5,104.4L316.2,104.3L316.8,104.2M316.8,104.2L317.5,104.3L318.1,104.3L318.8,104.2M314.8,104.5L315.0,105.0L315.3,105.5L315.6,105.9M315.6,105.9L316.3,106.1L316.9,106.4L317.6,106.4M315.6,105.9L315.7,106.5L316.0,107.0L316.1,107.5M308.3,111.0L309.7,109.9L310.7,108.4L312.2,107.4M312.2,107.4L312.9,106.4L313.2,105.2L313.3,103.9M313.3,103.9L312.7,103.0L312.4,102.0L311.9,101.1M311.9,101.1L311.4,100.2L310.9,99.3L310.4,98.3M310.4,98.3L310.3,97.8L310.3,97.2L310.2,96.6M310.2,96.6L310.0,96.0L309.7,95.4M313.3,103.9L313.7,102.9L314.1,101.8L314.3,100.8M314.3,100.8L314.6,99.7L314.8,98.7L315.1,97.7M315.1,97.7L315.2,97.2L315.3,96.7L315.5,96.2M312.2,107.4L313.6,107.1L314.9,106.5L316.1,105.8M316.1,105.8L317.3,105.4L318.5,105.1L319.7,104.9M319.7,104.9L320.1,104.2L320.7,103.6L321.2,102.9M321.2,102.9L321.4,102.1L321.8,101.3L322.3,100.7M322.3,100.7L322.5,100.2L322.7,99.6L323.0,99.1M322.3,100.7L322.9,100.4L323.4,100.0L324.0,99.9M321.2,102.9L321.7,102.5L322.1,102.1L322.7,101.9M322.7,101.9L323.0,101.6L323.2,101.1L323.5,100.7M322.7,101.9L323.1,101.8L323.5,101.6L323.9,101.5M319.7,104.9L320.7,105.0L321.7,105.5L322.6,106.0M322.6,106.0L323.1,106.3L323.7,106.8L324.1,107.3M324.1,107.3L324.5,107.4L324.9,107.5L325.3,107.6M324.1,107.3L324.2,107.7L324.2,108.2L324.2,108.7" stroke="#a8a8a8" stroke-width="0.45" fill="none" stroke-linejoin="round" stroke-linecap="round"/>
<circle cx="308.3" cy="111.0" r="1.0" fill="#a8a8a8"/>
<path d="M307.4,153.4L308.5,153.1L309.7,152.8L310.8,152.8M310.8,152.8L312.3,153.0L313.8,152.9L315.2,152.5M315.2,152.5L316.4,151.8L317.7,151.4L318.8,150.5M318.8,150.5L319.7,150.0L320.7,149.5L321.2,148.6M321.2,148.6L322.0,148.1L322.7,147.4L323.4,146.8M315.2,152.5L316.0,153.0L316.9,153.2L317.8,153.3M317.8,153.3L318.8,153.7L319.8,153.7L320.8,153.5M320.8,153.5L321.7,153.4L322.5,153.5L323.4,153.6M307.4,153.4L309.0,153.4L310.5,153.3L312.0,153.7M312.0,153.7L312.9,154.3L313.9,154.8L314.9,155.4M314.9,155.4L315.8,156.2L316.9,156.9L317.7,157.9M317.7,157.9L318.1,158.6L318.6,159.4L319.3,159.9M319.3,159.9L319.9,160.5L320.4,161.2L320.6,162.0M319.3,159.9L320.1,160.6L320.8,161.5L321.4,162.3M307.4,153.4L308.8,154.3L309.8,155.7L311.2,156.6M311.2,156.6L312.2,156.6L313.2,156.1L314.2,156.0M314.2,156.0L315.1,155.8L316.0,155.4L316.8,155.0M316.8,155.0L317.8,154.7L318.7,154.5L319.6,154.3M319.6,154.3L320.3,154.5L321.0,154.7L321.7,154.9M314.2,156.0L314.8,157.0L315.4,158.0L316.2,158.8M316.2,158.8L317.0,159.4L317.5,160.2L318.1,161.0M318.1,161.0L318.8,161.4L319.5,161.9L320.2,162.4M318.1,161.0L318.0,162.0L317.9,163.1L317.8,164.1M311.2,156.6L311.6,157.9L312.1,159.1L312.2,160.4M312.2,160.4L312.7,161.6L313.1,162.8L313.4,164.0M313.4,164.0L313.5,165.3L313.1,166.4L312.7,167.5M312.7,167.5L312.7,168.4L313.1,169.2M307.4,153.4L306.9,154.4L305.8,154.9L304.8,155.5M304.8,155.5L303.8,155.6L302.8,155.2L301.8,154.9M301.8,154.9L300.6,155.0L299.7,155.6L298.7,156.3M298.7,156.3L298.0,156.7L297.4,157.1L296.7,157.4M296.7,157.4L296.0,158.0L295.4,158.6L294.8,159.3M301.8,154.9L300.6,154.4L299.4,154.2L298.1,153.9M298.1,153.9L297.1,153.8L296.1,153.9L295.1,153.9M295.1,153.9L294.4,153.3L293.7,152.7L293.1,152.1M298.1,153.9L297.2,153.6L296.3,153.3L295.4,153.1M295.4,153.1L294.7,153.1L294.0,153.0L293.4,152.7M295.4,153.1L294.4,152.7L293.5,152.3L292.5,152.0M307.4,153.4L307.3,154.6L306.6,155.7L306.4,156.9M306.4,156.9L306.4,158.0L306.7,159.0L307.0,160.0M307.0,160.0L307.2,160.9L307.5,161.7L307.6,162.5M307.6,162.5L307.9,163.2L308.2,164.0L308.1,164.7M308.1,164.7L308.7,165.5L309.5,166.0L310.3,166.4M308.1,164.7L307.2,165.2L306.3,165.9L305.3,166.1M306.4,156.9L305.6,158.0L304.7,159.1L303.8,160.1M303.8,160.1L303.3,160.8L302.7,161.5L302.0,162.2M302.0,162.2L301.6,163.0L301.3,163.9L301.0,164.8M301.0,164.8L301.3,165.7L301.6,166.6L301.8,167.6M301.0,164.8L300.4,165.1L299.9,165.5L299.3,165.8M307.4,153.4L307.1,154.6L307.0,155.8L307.2,157.0M307.2,157.0L307.1,158.6L306.7,160.1L305.8,161.5M305.8,161.5L305.6,162.8L305.6,164.1L304.9,165.2M304.9,165.2L304.9,166.3L304.8,167.4L304.8,168.5M304.8,168.5L304.8,169.6M304.9,165.2L304.1,165.7L303.4,166.2L302.6,166.5M302.6,166.5L301.8,167.0L300.9,167.2L300.0,167.4M307.4,153.4L306.7,155.1L305.3,156.2L303.8,157.3M303.8,157.3L302.9,157.9L301.9,158.5L300.8,158.4M300.8,158.4L299.8,158.5L298.8,158.7L297.9,158.4M297.9,158.4L296.9,158.4L295.9,158.5L294.9,158.7M294.9,158.7L294.2,159.0L293.5,158.8L292.9,158.4M294.9,158.7L293.8,158.8L292.9,159.3L292.2,160.1M297.9,158.4L296.9,157.9L295.8,157.9L294.7,158.0M294.7,158.0L294.0,158.3L293.3,158.5L292.7,158.8M307.4,153.4L306.4,154.0L305.4,154.8L304.8,155.9M304.8,155.9L304.1,156.8L303.3,157.7L302.2,158.1M302.2,158.1L301.5,158.7L300.6,159.1L299.9,159.7M299.9,159.7L299.4,160.7L298.4,161.3L297.4,161.5M297.4,161.5L296.4,162.1L295.4,162.3L294.3,162.4M299.9,159.7L299.2,160.4L298.3,161.0L297.4,161.7M297.4,161.7L296.9,162.1L296.4,162.6L296.0,163.1M302.2,158.1L301.0,157.9L300.0,157.2L298.9,156.6M298.9,156.6L298.0,155.8L296.9,155.3L295.8,155.1M295.8,155.1L294.9,154.9L294.0,154.8L293.2,154.3M307.4,153.4L305.9,153.1L304.4,153.1L302.9,153.2M302.9,153.2L301.5,153.8L300.2,154.6L298.6,154.7M298.6,154.7L297.8,154.6L296.9,154.8L296.1,155.0M296.1,155.0L295.4,155.3L294.7,155.6L294.1,156.1M294.1,156.1L293.2,156.6L292.2,156.8L291.3,157.1M302.9,153.2L301.4,152.9L299.8,152.7L298.3,153.2M298.3,153.2L297.6,154.3L296.9,155.3L295.8,155.9M295.8,155.9L294.9,156.2L294.2,156.7L293.7,157.5M293.7,157.5L293.8,158.3L293.8,159.2L293.7,160.1M293.7,157.5L292.7,157.8L291.6,157.8L290.8,157.1M298.3,153.2L297.4,152.9L296.7,152.4L296.3,151.6M296.3,151.6L295.9,150.9L295.5,150.2L295.2,149.4M295.2,149.4L295.0,148.4L295.4,147.5L296.2,146.7M307.4,153.4L305.9,153.5L304.6,154.2L303.0,154.3M303.0,154.3L301.6,154.6L300.2,154.8L298.7,154.8M298.7,154.8L297.5,155.4L296.3,156.3L295.1,156.9M295.1,156.9L294.6,157.9L294.1,158.9L293.6,159.8M293.6,159.8L293.5,160.9L293.4,161.9L293.1,162.9M295.1,156.9L294.1,157.2L293.2,157.6L292.5,158.3M292.5,158.3L291.5,158.5L290.5,158.8L289.6,159.0M298.7,154.8L297.9,154.3L297.0,153.9L296.1,153.7M296.1,153.7L295.4,154.2L294.6,154.4L293.8,154.5M293.8,154.5L292.9,155.2L292.1,155.9L291.3,156.6M293.8,154.5L292.8,154.3L291.9,154.1L290.9,154.0M296.1,153.7L295.4,152.9L294.8,152.2L294.2,151.4M294.2,151.4L293.7,150.9L293.1,150.6L292.6,150.0M303.0,154.3L302.1,153.4L301.2,152.5L300.4,151.5M300.4,151.5L299.9,150.4L299.3,149.4L298.4,148.7M298.4,148.7L297.7,148.1L296.8,147.8L296.1,147.3M296.1,147.3L295.4,146.7L294.5,146.5L293.5,146.4M298.4,148.7L297.8,148.0L297.4,147.2L296.8,146.6M296.8,146.6L296.2,146.1L295.6,145.6L295.2,145.0M307.4,153.4L306.7,152.5L305.8,151.6L304.8,151.0M304.8,151.0L303.8,150.7L302.8,150.5L301.8,150.6M301.8,150.6L300.6,151.3L299.4,152.0L298.1,152.2M298.1,152.2L297.3,153.1L296.3,153.8L295.2,154.1M295.2,154.1L294.1,154.1L293.1,154.0L292.1,153.7M298.1,152.2L297.3,151.8L296.7,151.2L295.9,150.9M295.9,150.9L295.3,150.0L294.7,149.1L294.2,148.2M301.8,150.6L300.8,150.8L299.8,151.0L298.8,150.9M298.8,150.9L297.7,151.0L296.6,151.0L295.6,151.2M295.6,151.2L294.7,151.6L293.8,152.1L292.9,152.4M295.6,151.2L294.7,150.8L294.0,150.2L293.7,149.4M304.8,151.0L304.2,149.7L303.3,148.5L302.4,147.4M302.4,147.4L301.2,147.1L300.1,146.8L299.0,146.7M299.0,146.7L298.0,147.0L297.0,147.4L296.0,147.9M296.0,147.9L295.3,148.6L295.0,149.5L295.0,150.4M302.4,147.4L302.0,146.4L301.6,145.5L301.4,144.5M301.4,144.5L300.8,143.7L300.1,143.1L299.7,142.3M299.7,142.3L299.0,142.1L298.3,141.9L297.6,141.7M299.7,142.3L299.9,141.3L300.1,140.3L300.1,139.2M301.4,144.5L301.5,143.2L301.5,142.0L301.5,140.8M301.5,140.8L301.3,140.1L301.0,139.5L300.7,138.8M301.5,140.8L302.1,140.1L302.6,139.4L302.8,138.6M307.4,153.4L307.0,152.1L307.1,150.8L307.4,149.4M307.4,149.4L307.0,148.2L306.6,146.9L305.8,145.8M305.8,145.8L305.1,145.1L304.6,144.3L304.2,143.4M304.2,143.4L303.4,142.6L302.5,141.9L301.4,141.5M301.4,141.5L300.5,142.0L299.4,142.0L298.5,142.4M301.4,141.5L300.7,140.9L300.0,140.2L299.5,139.4M304.2,143.4L303.8,142.3L303.3,141.2L303.2,140.0M303.2,140.0L302.6,139.2L302.1,138.4L301.2,137.9M303.2,140.0L303.5,139.2L303.5,138.3L303.7,137.5M305.8,145.8L305.7,144.5L305.7,143.1L305.7,141.8M305.7,141.8L305.6,140.9L305.7,140.0L305.8,139.1M305.8,139.1L306.5,138.5L307.1,137.8L307.9,137.2M307.4,153.4L306.9,151.8L306.0,150.4L305.6,148.8M305.6,148.8L304.7,147.7L303.7,146.7L302.5,145.9M302.5,145.9L302.0,145.0L302.1,144.1L302.3,143.1M302.3,143.1L302.6,142.0L302.9,140.9L303.0,139.7M303.0,139.7L303.0,139.0L303.0,138.2L303.1,137.4M307.4,153.4L307.8,151.8L307.9,150.2L308.1,148.6M308.1,148.6L308.4,147.5L308.6,146.5L308.9,145.4M308.9,145.4L308.6,144.3L308.0,143.3L307.1,142.5M307.1,142.5L306.6,141.8L306.2,141.2L305.8,140.5M305.8,140.5L305.4,139.5L304.9,138.6L304.5,137.6M308.9,145.4L309.5,144.5L310.2,143.5L311.0,142.8M311.0,142.8L311.6,141.8L311.6,140.6L311.6,139.4M311.6,139.4L311.5,138.4L311.5,137.3M307.4,153.4L308.8,153.0L310.3,152.8L311.7,152.3M311.7,152.3L312.8,152.3L313.9,152.6L315.0,153.0M315.0,153.0L316.4,153.3L317.7,153.8L319.0,154.1M319.0,154.1L320.0,154.5L321.1,154.7L322.1,155.1M322.1,155.1L323.2,155.3L324.2,155.3L325.2,155.4M307.4,153.4L308.3,152.7L309.3,152.0L310.1,151.2M310.1,151.2L311.2,150.3L312.7,150.0L314.0,149.4M314.0,149.4L314.6,148.8L315.3,148.3L316.1,148.0M316.1,148.0L317.0,147.7L317.9,147.4L318.8,147.6M318.8,147.6L319.4,147.4L320.1,147.2L320.7,147.3M318.8,147.6L319.4,148.2L319.9,148.9L320.6,149.5" stroke="#8a8a8a" stroke-width="0.42" fill="none" stroke-linejoin="round" stroke-linecap="round"/>
<circle cx="307.4" cy="153.4" r="1.0" fill="#8a8a8a"/>
<path d="M309.4,196.2L310.4,196.5L311.4,196.6L312.3,196.8M312.3,196.8L313.1,197.9L314.4,197.9L315.6,197.9M315.6,197.9L316.5,198.0L317.4,198.4L318.1,199.0M318.1,199.0L318.6,199.6L319.3,200.0L319.9,200.5M319.9,200.5L320.5,201.0L321.2,201.0L321.9,200.8M321.9,200.8L322.8,200.6L323.3,199.8L323.8,199.1M319.9,200.5L320.1,201.1L319.9,201.8L319.9,202.4M319.9,202.4L320.3,202.8L320.7,203.1L321.1,203.5M319.9,202.4L319.7,203.2L319.5,204.0L319.6,204.8M309.4,196.2L310.2,197.2L310.9,198.1L311.4,199.3M311.4,199.3L311.4,200.3L311.5,201.4L311.6,202.5M311.6,202.5L311.9,203.3L312.4,204.0L312.8,204.6M312.8,204.6L313.2,205.3L313.2,206.2L313.0,206.9M313.0,206.9L312.5,207.6L311.9,208.1L311.4,208.7M311.4,208.7L311.2,209.4L311.3,210.1L311.5,210.7M311.4,208.7L310.9,209.0L310.5,209.4L310.1,209.6M309.4,196.2L310.3,197.0L311.5,197.5L312.7,197.7M312.7,197.7L313.8,198.4L315.1,198.7L316.2,199.5M316.2,199.5L317.0,199.7L317.9,199.9L318.2,200.7M318.2,200.7L319.0,200.9L319.7,201.4L320.3,201.9M320.3,201.9L321.2,201.8L322.1,202.1L322.7,202.7M322.7,202.7L323.0,203.2L323.2,203.8L323.3,204.3M320.3,201.9L321.1,202.2L321.9,202.5L322.7,202.4M322.7,202.4L323.5,202.3L324.2,202.3L324.9,202.1M322.7,202.4L323.3,202.8L324.0,203.0L324.7,203.2M318.2,200.7L317.8,201.3L317.7,202.0L317.6,202.7M317.6,202.7L317.4,203.5L317.8,204.1L318.3,204.7M318.3,204.7L319.1,205.0L319.6,205.7L319.9,206.5M318.3,204.7L318.3,205.5L318.0,206.3L317.7,207.0M317.6,202.7L316.7,203.1L316.2,203.8L315.8,204.6M315.8,204.6L315.9,205.1L316.0,205.7L315.9,206.2M315.8,204.6L315.4,205.2L315.2,205.8L315.0,206.5M316.2,199.5L317.0,200.2L317.7,201.1L317.6,202.2M317.6,202.2L318.2,202.7L318.7,203.4L319.3,204.0M319.3,204.0L319.7,204.7L319.8,205.5L319.9,206.2M319.9,206.2L320.6,206.7L321.2,207.3L321.7,207.9M319.9,206.2L319.6,206.9L319.9,207.5L320.1,208.2M317.6,202.2L317.0,202.8L316.3,203.4L315.5,203.9M315.5,203.9L315.0,204.6L314.7,205.4L314.2,206.1M314.2,206.1L314.4,206.7L314.4,207.2L314.6,207.8M314.2,206.1L313.5,206.4L312.8,206.6L312.2,207.0M309.4,196.2L309.9,197.8L309.6,199.4L309.4,201.0M309.4,201.0L309.2,202.2L308.8,203.4L308.9,204.6M308.9,204.6L309.2,205.8L309.8,206.8L310.6,207.7M310.6,207.7L311.1,208.4L311.7,209.0L312.1,209.7M312.1,209.7L312.5,210.3L312.9,210.9L313.4,211.3M308.9,204.6L309.2,205.6L309.9,206.4L310.9,206.6M310.9,206.6L312.0,206.4L313.0,206.1L313.7,205.4M313.7,205.4L314.4,205.2L315.0,205.0L315.7,204.8M315.7,204.8L316.1,204.3L316.6,203.9L317.2,203.7M315.7,204.8L316.5,204.9L317.3,205.3L318.1,205.4M309.4,196.2L308.1,196.4L306.9,196.2L305.6,196.2M305.6,196.2L304.7,196.5L303.8,196.5L302.9,196.5M302.9,196.5L302.3,197.0L301.5,197.4L300.8,197.6M300.8,197.6L300.1,197.9L299.5,198.2L298.9,198.6M298.9,198.6L298.4,199.3L297.9,200.0L297.7,200.9M297.7,200.9L297.3,201.6L296.9,202.5L296.4,203.2M297.7,200.9L297.5,201.4L297.4,202.0L297.3,202.5M302.9,196.5L301.8,196.0L301.2,194.9L300.6,193.8M300.6,193.8L299.6,193.6L298.5,193.3L297.5,192.7M297.5,192.7L296.8,192.3L296.0,192.2L295.3,191.7M295.3,191.7L294.5,191.7L293.8,191.4L293.4,190.8M300.6,193.8L300.5,193.1L300.5,192.4L300.7,191.7M300.7,191.7L300.9,190.8L301.3,190.0L302.0,189.4M302.0,189.4L302.1,188.6L302.3,187.8L302.5,187.0M300.7,191.7L301.1,191.2L301.5,190.6L301.5,189.9M301.5,189.9L300.9,189.4L300.5,188.9L300.1,188.2M301.5,189.9L301.6,189.2L301.6,188.6L301.3,187.9M309.4,196.2L308.7,197.0L308.2,197.9L307.2,198.3M307.2,198.3L306.0,199.1L304.7,199.7L303.4,200.5M303.4,200.5L302.7,201.4L301.8,202.1L300.7,202.2M300.7,202.2L299.8,201.9L299.1,201.1L298.8,200.1M298.8,200.1L298.3,199.6L297.5,199.6L296.7,199.7M296.7,199.7L295.9,199.8L295.1,199.6L294.3,199.3M298.8,200.1L298.6,199.4L298.8,198.7L298.7,198.0M298.7,198.0L298.4,197.3L297.9,196.8L297.4,196.3M298.7,198.0L299.1,197.4L299.3,196.8L299.4,196.2M307.2,198.3L306.2,197.9L305.1,197.7L303.9,197.7M303.9,197.7L302.8,197.9L301.6,198.1L300.9,199.0M300.9,199.0L300.1,199.3L299.3,199.5L298.5,199.8M298.5,199.8L298.6,200.8L298.3,201.7L298.5,202.6M298.5,202.6L297.9,203.1L297.3,203.6L296.8,204.1M298.5,199.8L297.7,199.3L296.9,198.9L296.1,198.4M296.1,198.4L295.3,198.3L294.6,198.7L293.9,198.9M296.1,198.4L296.0,197.8L295.8,197.3L295.8,196.7M303.9,197.7L302.9,196.9L302.0,196.2L301.0,195.4M301.0,195.4L300.0,195.4L298.9,195.4L297.9,195.3M297.9,195.3L297.1,195.2L296.3,195.0L295.5,194.9M295.5,194.9L294.7,195.0L294.0,195.1L293.2,195.1M295.5,194.9L295.0,194.2L294.3,193.8L293.7,193.2M297.9,195.3L297.0,194.8L296.1,194.7L295.2,194.3M295.2,194.3L294.6,194.2L294.0,194.0L293.5,193.7M295.2,194.3L294.6,194.1L294.0,193.9L293.4,193.8M301.0,195.4L300.7,194.6L300.1,194.0L299.6,193.3M299.6,193.3L299.1,192.9L298.6,192.4L298.3,191.8M298.3,191.8L297.8,191.6L297.3,191.3L296.8,191.1M298.3,191.8L298.1,191.1L298.1,190.5L297.9,189.8M309.4,196.2L308.3,195.2L306.9,194.5L305.8,193.4M305.8,193.4L304.6,193.2L303.3,193.3L302.0,193.2M302.0,193.2L300.8,193.0L299.7,192.6L298.5,192.9M298.5,192.9L297.8,193.4L297.0,193.7L296.2,193.5M296.2,193.5L295.3,193.3L294.4,193.4L293.6,193.0M293.6,193.0L292.8,192.9L292.0,192.6L291.5,191.9M293.6,193.0L293.1,192.4L292.6,191.9L292.0,191.4M296.2,193.5L295.6,192.7L295.1,191.9L294.8,191.0M294.8,191.0L294.7,190.1L294.9,189.4L295.0,188.6M305.8,193.4L305.3,192.7L304.6,192.1L303.8,191.9M303.8,191.9L303.0,191.4L302.1,191.0L301.3,190.6M301.3,190.6L300.4,190.7L299.5,190.2L298.8,189.5M298.8,189.5L298.4,189.1L297.9,188.8L297.4,188.4M297.4,188.4L296.7,188.1L296.0,187.8L295.5,187.3M297.4,188.4L297.4,187.7L297.4,187.0L297.6,186.3M301.3,190.6L300.6,190.1L299.8,189.9L298.9,189.6M298.9,189.6L298.3,189.8L297.7,190.0L297.1,190.0M297.1,190.0L296.4,189.9L295.7,189.8L295.0,189.5M298.9,189.6L298.4,189.1L297.8,188.6L297.5,187.9M297.5,187.9L297.0,187.7L296.5,187.7L295.9,187.6M297.5,187.9L297.8,187.5L298.1,187.1L298.6,186.8M309.4,196.2L308.7,195.3L308.2,194.3L307.9,193.3M307.9,193.3L308.2,192.0L309.1,191.1L310.0,190.2M310.0,190.2L310.3,189.4L310.7,188.8L311.4,188.4M311.4,188.4L312.2,187.8L312.8,187.0L313.5,186.3M313.5,186.3L313.9,185.6L314.3,184.9L315.0,184.7M315.0,184.7L315.4,184.1L315.7,183.5L315.9,182.8M315.0,184.7L315.7,184.7L316.4,184.6L317.0,184.3M313.5,186.3L314.4,186.1L315.2,185.8L316.0,185.4M316.0,185.4L316.1,184.8L316.3,184.2L316.7,183.8M316.0,185.4L316.6,185.4L317.2,185.2L317.9,185.0M311.4,188.4L312.5,188.4L313.2,187.7L314.1,187.0M314.1,187.0L314.1,186.2L313.8,185.5L313.6,184.7M313.6,184.7L313.2,184.2L312.7,183.8L312.2,183.4M313.6,184.7L313.8,184.2L313.6,183.6L313.4,183.1M314.1,187.0L314.9,186.7L315.5,186.2L316.3,185.8M316.3,185.8L317.1,186.1L317.9,186.4L318.7,186.5M310.0,190.2L311.0,190.5L311.9,190.9L312.8,191.3M312.8,191.3L313.6,191.3L314.3,191.4L315.1,191.3M315.1,191.3L315.5,190.7L315.9,190.1L316.4,189.5M316.4,189.5L316.7,189.0L317.0,188.4L317.2,187.8M315.1,191.3L315.7,191.2L316.2,190.8L316.6,190.4M316.6,190.4L316.8,189.8L316.8,189.1L316.8,188.5M316.6,190.4L317.4,189.9L318.0,189.4L318.8,189.0M309.4,196.2L309.3,195.2L309.7,194.2L310.1,193.2M310.1,193.2L310.4,192.4L310.9,191.6L311.2,190.8M311.2,190.8L311.6,190.0L311.9,189.1L312.3,188.3M312.3,188.3L312.2,187.5L312.3,186.8L312.6,186.1M312.6,186.1L313.0,185.4L313.1,184.7L313.6,184.1M313.6,184.1L314.0,183.7L314.6,183.6L315.1,183.3M309.4,196.2L309.3,194.9L309.0,193.6L309.1,192.3M309.1,192.3L308.8,190.9L308.7,189.4L309.1,188.1M309.1,188.1L309.0,187.3L308.6,186.6L308.6,185.8M308.6,185.8L308.8,184.9L308.9,184.1L309.4,183.5M309.4,183.5L310.0,182.8L310.8,182.4L311.7,182.1M311.7,182.1L312.2,181.6L312.7,181.2M311.7,182.1L312.4,182.3L312.9,182.8L313.5,183.4M309.1,188.1L309.6,187.3L309.7,186.3L309.8,185.4M309.8,185.4L310.4,184.8L311.0,184.3L311.6,183.8M311.6,183.8L312.0,183.0L312.4,182.1L312.7,181.2M311.6,183.8L312.5,183.8L313.3,183.9L314.1,184.1M314.1,184.1L314.8,183.6L315.6,183.2L316.2,182.6M314.1,184.1L314.5,184.7L315.1,185.2L315.6,185.7M309.4,196.2L310.9,196.1L312.3,195.6L313.7,195.3M313.7,195.3L314.6,194.9L315.5,194.5L316.4,194.5M316.4,194.5L317.6,194.1L317.6,193.0L317.4,191.8M317.4,191.8L317.4,190.8L317.0,189.9L316.3,189.3M316.3,189.3L315.6,188.8L314.7,188.7L313.9,188.9M313.9,188.9L313.1,189.1L312.4,189.3L311.7,189.2M316.3,189.3L316.0,188.5L315.6,187.7L314.9,187.2M314.9,187.2L314.1,187.4L313.4,187.7L312.6,187.7M314.9,187.2L314.6,186.5L314.2,185.9L313.6,185.5" stroke="#606060" stroke-width="0.42" fill="none" stroke-linejoin="round" stroke-linecap="round"/>
<circle cx="309.4" cy="196.2" r="1.0" fill="#606060"/>
<path d="M308.3,235.5L310.0,235.5L311.7,235.4L313.2,236.2M313.2,236.2L314.7,236.1L316.2,236.0L317.5,236.6M317.5,236.6L318.6,237.1L319.7,237.8L320.4,238.8M320.4,238.8L320.6,239.9L320.6,241.0L320.9,242.0M320.9,242.0L321.4,242.7M320.9,242.0L320.4,242.6L319.9,243.3L319.4,243.9M313.2,236.2L313.7,237.7L313.6,239.2L313.9,240.8M313.9,240.8L314.8,241.8L315.5,243.0L316.2,244.3M316.2,244.3L316.3,245.1L316.2,245.9L316.3,246.6M308.3,235.5L309.2,236.2L310.1,236.8L311.1,237.2M311.1,237.2L312.2,237.7L313.1,238.4L313.1,239.6M313.1,239.6L312.6,240.5L311.9,241.3L311.3,242.2M311.3,242.2L310.6,243.2L310.5,244.3L310.2,245.5M310.2,245.5L310.1,246.5L310.2,247.4L310.3,248.4M313.1,239.6L313.2,240.5L313.3,241.5L313.4,242.5M313.4,242.5L313.7,243.4L314.5,243.8L315.1,244.4M315.1,244.4L316.0,244.6L316.8,245.1L317.6,245.5M315.1,244.4L315.5,245.1L315.8,245.8L316.2,246.5M313.4,242.5L312.6,243.5L312.0,244.6L311.6,245.7M311.6,245.7L311.9,246.8L312.2,247.8M311.6,245.7L310.9,246.0L310.3,246.2L309.6,246.1M308.3,235.5L308.8,237.2L309.3,238.9L309.9,240.6M309.9,240.6L310.7,241.5L312.0,241.8L313.2,241.7M313.2,241.7L314.3,241.2L315.4,240.6L316.4,239.9M316.4,239.9L317.3,239.5L317.8,238.5L318.5,237.7M318.5,237.7L318.9,236.8L319.7,236.1L320.6,235.5M313.2,241.7L314.3,242.4L315.6,242.9L316.9,243.2M316.9,243.2L317.5,242.4L318.1,241.7L318.4,240.8M318.4,240.8L318.7,239.8L318.9,238.8L319.2,237.8M318.4,240.8L319.0,240.2L319.8,239.9L320.5,239.6M316.9,243.2L317.1,244.0L317.1,244.7L317.2,245.5M317.2,245.5L317.7,246.0M317.2,245.5L317.1,246.4M309.9,240.6L309.5,241.6L309.4,242.6L309.5,243.7M309.5,243.7L309.3,244.8L309.1,245.9L308.8,247.0M308.8,247.0L308.7,247.9M308.8,247.0L307.9,247.4L306.9,247.6L306.0,247.6M306.0,247.6L305.1,247.9L304.2,248.1M306.0,247.6L305.1,247.0L304.0,246.7L302.9,246.7M309.5,243.7L309.1,244.8L309.0,246.0L309.4,247.2M309.4,247.2L310.1,247.3L310.8,247.7L311.3,248.3M309.4,247.2L309.3,248.4M308.3,235.5L307.7,237.1L306.5,238.4L305.2,239.5M305.2,239.5L304.2,239.7L303.3,240.1L302.5,240.7M302.5,240.7L302.1,241.7L301.6,242.6L300.8,243.2M300.8,243.2L300.5,244.0L300.3,244.9L300.0,245.7M300.0,245.7L300.1,246.6M308.3,235.5L307.5,236.8L306.7,238.1L305.3,238.8M305.3,238.8L304.3,239.5L303.2,240.2L302.2,240.9M302.2,240.9L301.6,241.5L301.1,242.2L300.7,243.0M300.7,243.0L300.7,244.2L301.0,245.4L301.0,246.6M301.0,246.6L301.3,247.3M300.7,243.0L299.8,243.3L298.8,243.4L298.0,243.9M298.0,243.9L297.5,244.4L297.1,245.0M302.2,240.9L301.3,241.5L300.7,242.6L300.8,243.7M300.8,243.7L300.4,244.4L300.2,245.2L299.8,246.0M299.8,246.0L299.4,246.5M305.3,238.8L303.9,238.5L302.4,238.2L301.0,238.1M301.0,238.1L299.9,238.9L298.9,239.7L298.4,241.0M298.4,241.0L298.6,242.1L299.3,243.0L300.3,243.7M300.3,243.7L300.9,244.0L301.4,244.5L301.8,245.2M298.4,241.0L297.9,241.6L297.5,242.3L297.2,243.1M297.2,243.1L297.6,243.6L298.1,244.1L298.5,244.7M297.2,243.1L296.2,243.6M308.3,235.5L306.7,236.3L305.5,237.5L304.0,238.3M304.0,238.3L302.9,239.2L301.5,239.7L300.2,240.2M300.2,240.2L298.9,240.7L297.8,239.9L296.8,239.0M296.8,239.0L295.7,238.8L294.7,238.3L294.1,237.4M294.1,237.4L293.5,236.7L292.6,236.2L291.9,235.6M294.1,237.4L293.9,236.5L293.7,235.6L293.4,234.8M296.8,239.0L296.2,237.9L295.5,236.9L294.5,236.2M294.5,236.2L293.9,235.4L293.2,234.6L292.4,234.0M294.5,236.2L294.1,235.5L293.3,235.2L292.5,235.0M304.0,238.3L302.4,238.3L300.8,238.4L299.2,238.6M299.2,238.6L298.3,238.7L297.6,239.0L296.8,239.5M296.8,239.5L296.2,240.1L295.6,240.7L294.8,241.3M294.8,241.3L294.7,242.0L294.6,242.8M296.8,239.5L295.8,240.0L294.7,240.4L293.5,240.5M293.5,240.5L292.7,240.3M293.5,240.5L292.6,240.3M308.3,235.5L306.9,236.2L305.3,236.3L303.8,236.6M303.8,236.6L302.7,236.9L301.5,236.9L300.4,237.0M300.4,237.0L299.3,237.4L298.3,238.0L297.3,238.6M297.3,238.6L296.7,239.1L295.9,239.3L295.1,239.4M295.1,239.4L294.5,239.3L293.8,239.3L293.2,239.0M297.3,238.6L296.3,238.5L295.3,238.7L294.3,239.0M294.3,239.0L293.9,239.6L293.4,240.2L293.0,240.9M294.3,239.0L293.4,238.4L292.8,237.6L291.9,237.0M300.4,237.0L299.5,237.1L298.6,237.2L297.7,237.4M297.7,237.4L297.1,237.8L296.3,238.2L295.6,238.4M295.6,238.4L294.9,238.8L294.2,239.4L293.8,240.1M295.6,238.4L294.8,238.6L294.1,238.8L293.3,239.0M297.7,237.4L296.9,237.1L296.1,236.8L295.5,236.4M295.5,236.4L294.6,236.2L293.7,235.9L293.2,235.1M308.3,235.5L307.0,235.0L305.9,234.2L305.0,233.1M305.0,233.1L304.3,232.1L303.5,231.2L303.0,230.1M303.0,230.1L301.9,229.4L300.5,229.1L299.3,228.5M299.3,228.5L298.5,228.4L297.7,228.4L296.9,228.7M296.9,228.7L296.3,229.6L295.2,229.9L294.2,230.2M296.9,228.7L296.1,229.0L295.4,229.5L294.5,229.7M299.3,228.5L298.4,228.4L297.5,228.7L296.6,228.5M296.6,228.5L295.9,228.7L295.2,228.7L294.5,228.8M296.6,228.5L295.7,228.2L295.0,227.6M303.0,230.1L302.4,228.9L302.5,227.6L302.3,226.4M302.3,226.4L301.8,225.9L301.2,225.3L300.6,224.8M300.6,224.8L299.8,225.1L298.9,225.2L298.0,225.6M300.6,224.8L300.3,224.2M302.3,226.4L302.8,225.5L303.2,224.6L303.7,223.9M303.7,223.9L303.9,223.1M303.7,223.9L304.6,223.6L305.3,224.1L306.2,224.0M308.3,235.5L307.5,234.1L307.7,232.6L308.1,231.1M308.1,231.1L308.6,229.8L309.0,228.4L309.1,227.0M309.1,227.0L309.7,226.0L310.0,225.0L310.8,224.1M310.8,224.1L310.8,223.4M310.8,224.1L311.8,223.8L312.8,223.6M308.3,235.5L308.0,234.1L307.2,233.0L306.2,232.0M306.2,232.0L304.9,231.2L304.0,230.0L302.6,229.3M302.6,229.3L301.4,229.0L300.2,228.8L299.0,228.3M299.0,228.3L298.2,228.1L297.5,227.7L296.8,227.2M296.8,227.2L296.0,227.5L295.3,227.9L294.5,228.2M299.0,228.3L298.1,227.8L297.2,227.4L296.3,227.1M296.3,227.1L295.6,227.0M308.3,235.5L308.9,234.4L309.2,233.3L310.3,232.8M310.3,232.8L311.3,232.8L312.4,232.8L313.4,232.7M313.4,232.7L313.8,231.6L314.5,230.6L315.0,229.5M315.0,229.5L315.6,228.4L316.6,227.6L317.5,226.8M317.5,226.8L317.8,225.9L318.2,225.0M317.5,226.8L318.4,226.4L319.2,225.7M308.3,235.5L309.3,234.8L310.5,234.4L311.6,233.9M311.6,233.9L312.8,233.6L314.1,233.8L315.1,234.5M315.1,234.5L316.3,234.7L317.0,235.6L317.8,236.4M317.8,236.4L318.8,236.6L319.7,236.6L320.6,236.7M320.6,236.7L321.5,236.9L322.3,237.3L323.0,237.8M320.6,236.7L321.4,237.2L322.3,237.6L322.8,238.3M315.1,234.5L315.7,235.6L316.3,236.6L317.4,237.3M317.4,237.3L318.0,237.7L318.6,238.2L319.3,238.6M319.3,238.6L320.2,238.8L321.0,239.2L321.6,239.9M317.4,237.3L318.0,238.4L318.6,239.4L319.0,240.6M319.0,240.6L320.0,241.0L321.0,241.1L322.0,241.5M319.0,240.6L318.5,241.5L317.8,242.2L317.1,242.8M311.6,233.9L312.7,233.6L313.8,233.2L314.9,232.9M314.9,232.9L315.8,232.4L316.5,231.7L317.4,231.2M317.4,231.2L318.1,230.4L318.7,229.6L319.3,228.7M319.3,228.7L320.2,228.3L320.9,227.5M317.4,231.2L318.1,231.4L318.9,231.5L319.6,231.7M319.6,231.7L320.4,231.9L321.1,231.6L321.9,231.4M319.6,231.7L320.4,232.2L321.2,232.6L322.2,232.9M314.9,232.9L315.6,233.4L316.3,233.9L317.2,234.1M317.2,234.1L318.3,234.6L319.5,234.9L320.6,235.2M320.6,235.2L321.6,235.5L322.7,235.5L323.7,235.2" stroke="#707070" stroke-width="0.4" fill="none" stroke-linejoin="round" stroke-linecap="round"/>
<circle cx="308.3" cy="235.5" r="1.0" fill="#707070"/>
<path d="M312,240 Q320,245 329,249" stroke="#d0d0d0" stroke-width="0.45" fill="none"/>
<line x1="312.00" y1="41.30" x2="320.20" y2="41.30" stroke="#000" stroke-width="0.9"/>
<line x1="316.50" y1="91.40" x2="324.90" y2="91.40" stroke="#000" stroke-width="0.9"/>
<line x1="317.90" y1="130.00" x2="326.70" y2="130.00" stroke="#777" stroke-width="0.9"/>
<line x1="317.00" y1="171.80" x2="325.80" y2="171.80" stroke="#333" stroke-width="0.9"/>
<line x1="322.00" y1="214.40" x2="330.70" y2="214.40" stroke="#000" stroke-width="0.9"/>
<line x1="316.20" y1="252.30" x2="325.00" y2="252.30" stroke="#000" stroke-width="0.9"/>
<line x1="343.30" y1="6.30" x2="349.30" y2="6.30" stroke="#444" stroke-width="0.7"/>
<line x1="372.50" y1="6.30" x2="392.80" y2="6.30" stroke="#444" stroke-width="0.7"/>
<rect x="349.30" y="1.60" width="23.20" height="7.60" fill="#fff" stroke="#444" stroke-width="0.7"/>
<text x="342.30" y="38.70" font-size="5.3" fill="#000" stroke="#000" stroke-width="0.1" text-anchor="end" font-family="'Liberation Sans', Arial, sans-serif">-78</text>
<text x="342.70" y="43.50" font-size="4.9" fill="#000" stroke="#000" stroke-width="0.1" text-anchor="end" font-style="italic" font-family="'Liberation Sans', Arial, sans-serif">mV</text>
<path d="M350.70,32.90L350.80,12.80L350.96,33.70M350.94,32.81L351.04,13.07L351.20,33.61M351.20,32.71L351.30,13.32L351.46,33.51M351.47,32.61L351.57,13.58L351.73,33.41M351.77,32.50L351.87,13.84L352.03,33.30M352.08,32.39L352.18,14.11L352.34,33.19M352.42,32.26L352.52,14.40L352.68,33.06M352.78,32.13L352.88,14.69L353.04,32.93M353.16,31.98L353.26,15.01L353.42,32.78M353.57,31.83L353.67,15.34L353.83,32.63M354.02,31.66L354.12,15.69L354.28,32.46M354.49,31.49L354.59,16.05L354.75,32.29M354.99,31.30L355.09,16.44L355.25,32.10M355.53,31.10L355.63,16.85L355.79,31.90M356.11,30.88L356.21,17.28L356.37,31.68M356.73,30.65L356.83,17.74L356.99,31.45M357.39,30.40L357.49,18.23L357.65,31.20M358.10,30.14L358.20,18.74L358.36,30.94M358.86,29.86L358.96,19.29L359.12,30.66M359.67,29.55L359.77,19.87L359.93,30.35M360.54,29.23L360.64,20.48L360.80,30.03M361.47,28.88L361.57,21.13L361.73,29.68M362.46,28.51L362.56,21.82L362.72,29.31M363.52,28.20L363.62,22.55L363.78,29.00" stroke="#000" stroke-width="0.26" fill="none" stroke-linejoin="round"/>
<line x1="350.75" y1="12.80" x2="350.75" y2="33.00" stroke="#000" stroke-width="0.5"/>
<path d="M344.00,36.60 L350.40,36.60 L350.70,32.90 L351.45,32.62 L352.19,32.34 L352.94,32.06 L353.69,31.79 L354.43,31.51 L355.18,31.23 L355.93,30.95 L356.67,30.67 L357.42,30.39 L358.17,30.11 L358.91,29.84 L359.66,29.56 L360.41,29.28 L361.15,29.00 L361.90,28.72 L362.65,28.44 L363.39,27.30 L364.14,27.30 L364.89,27.30 L365.63,27.30 L366.38,27.30 L367.13,27.30 L367.87,27.30 L368.62,27.30 L369.37,27.30 L370.11,27.30 L370.86,27.30 L371.61,27.30 L372.35,27.30 L373.10,27.30 L373.84,30.36 L374.58,32.46 L375.31,33.91 L376.05,34.90 L376.79,35.59 L377.52,36.06 L378.26,36.38 L379.00,36.60 L393.00,36.60" stroke="#000" stroke-width="0.6" fill="none" stroke-linejoin="round"/>
<path d="M350.00,36.60 L351.20,40.22 L352.40,42.31 L353.60,43.53 L354.80,44.23 L356.00,44.64 L357.20,44.87 L358.40,45.01 L359.60,45.09 L360.80,45.14 L362.00,45.16 L363.20,45.18 L364.40,45.19 L365.60,45.19 L366.80,45.20 L368.00,45.20 L369.20,45.20 L370.40,45.20 L371.60,45.20 L372.80,45.20 L373.35,42.86 L373.89,41.15 L374.44,39.91 L374.98,39.01 L375.53,38.35 L376.07,37.87 L376.62,37.53 L377.16,37.27 L377.71,37.09 L378.25,36.96 L378.80,36.86 L393.00,36.60" stroke="#000" stroke-width="0.55" fill="none" stroke-linejoin="round"/>
<path d="M379,36.0 L384,36.2 L393,35.9" stroke="#000" stroke-width="0.5" fill="none"/>
<path d="M379,37.1 L385,37.3 L393,37.3" stroke="#000" stroke-width="0.5" fill="none"/>
<line x1="344.30" y1="36.60" x2="350.30" y2="36.60" stroke="#000" stroke-width="1.1"/>
<path d="M385.0,20.2L385.0,30.7L388.3,30.7" stroke="#000" stroke-width="0.75" fill="none"/>
<text x="382.60" y="25.40" font-size="4.3" fill="#000" stroke="#000" stroke-width="0.1" text-anchor="middle" font-family="'Liberation Sans', Arial, sans-serif" transform="rotate(-90 382.60 25.40)">20 mV</text>
<text x="389.00" y="30.00" font-size="4.6" fill="#000" stroke="#000" stroke-width="0.1" text-anchor="start" font-family="'Liberation Sans', Arial, sans-serif">50 ms</text>
<text x="342.30" y="79.80" font-size="5.6" fill="#000" stroke="#000" stroke-width="0.1" text-anchor="end" font-family="'Liberation Sans', Arial, sans-serif">-59</text>
<path d="M349.90,75.40L350.00,57.60L350.16,76.20M350.46,75.40L350.56,57.60L350.72,76.20M351.02,75.40L351.12,57.60L351.28,76.20M351.58,75.40L351.68,57.60L351.84,76.20M352.14,75.40L352.24,57.60L352.40,76.20M352.70,75.40L352.80,57.60L352.96,76.20M353.26,75.40L353.36,57.60L353.52,76.20M353.82,75.40L353.92,57.60L354.08,76.20M354.38,75.40L354.48,57.60L354.64,76.20M354.94,75.40L355.04,57.60L355.20,76.20M355.50,75.40L355.60,57.60L355.76,76.20M356.06,75.40L356.16,57.60L356.32,76.20M356.62,75.40L356.72,57.60L356.88,76.20M357.18,75.40L357.28,57.60L357.44,76.20M357.74,75.40L357.84,57.60L358.00,76.20M358.30,75.40L358.40,57.60L358.56,76.20M358.86,75.40L358.96,57.60L359.12,76.20M359.42,75.40L359.52,57.60L359.68,76.20M359.98,75.40L360.08,57.60L360.24,76.20M360.54,75.40L360.64,57.60L360.80,76.20M361.10,75.40L361.20,57.60L361.36,76.20M361.66,75.40L361.76,57.60L361.92,76.20M362.22,75.40L362.32,57.60L362.48,76.20M362.78,75.40L362.88,57.60L363.04,76.20M363.34,75.40L363.44,57.60L363.60,76.20M363.90,75.40L364.00,57.60L364.16,76.20M364.46,75.40L364.56,57.60L364.72,76.20M365.02,75.40L365.12,57.60L365.28,76.20M365.58,75.40L365.68,57.60L365.84,76.20M366.14,75.40L366.24,57.60L366.40,76.20M366.70,75.40L366.80,57.60L366.96,76.20M367.26,75.40L367.36,57.60L367.52,76.20M367.82,75.40L367.92,57.60L368.08,76.20M368.38,75.40L368.48,57.60L368.64,76.20M368.94,75.40L369.04,57.60L369.20,76.20M369.50,75.40L369.60,57.60L369.76,76.20M370.06,75.40L370.16,57.60L370.32,76.20M370.62,75.40L370.72,57.60L370.88,76.20M371.18,75.40L371.28,57.60L371.44,76.20M371.74,75.40L371.84,57.60L372.00,76.20M372.30,75.40L372.40,57.60L372.56,76.20M372.86,75.40L372.96,57.60L373.12,76.20" stroke="#555" stroke-width="0.16" fill="none" stroke-linejoin="round"/>
<path d="M350.00,75.40L350.10,57.60L350.26,76.20M355.20,75.40L355.30,57.80L355.46,76.20M357.50,75.40L357.60,57.60L357.76,76.20M362.00,75.40L362.10,57.80L362.26,76.20M368.40,75.40L368.50,57.60L368.66,76.20M372.60,75.40L372.70,57.60L372.86,76.20" stroke="#333" stroke-width="0.3" fill="none" stroke-linejoin="round"/>
<path d="M344.00,77.60 L349.60,77.60 L349.90,75.60 L350.67,75.60 L351.45,75.60 L352.22,75.60 L352.99,75.60 L353.77,75.60 L354.54,75.60 L355.31,75.60 L356.09,75.60 L356.86,75.60 L357.63,75.60 L358.41,75.60 L359.18,75.60 L359.95,75.60 L360.73,75.60 L361.50,75.60 L362.27,75.60 L363.05,75.60 L363.82,75.60 L364.59,75.60 L365.37,75.60 L366.14,75.60 L366.91,75.60 L367.69,75.60 L368.46,75.60 L369.23,75.60 L370.01,75.60 L370.78,75.60 L371.55,75.60 L372.33,75.60 L373.10,75.60 L373.71,76.26 L374.33,76.71 L374.94,77.02 L375.55,77.24 L376.16,77.38 L376.77,77.48 L377.39,77.55 L378.00,77.60 L393.00,77.60" stroke="#000" stroke-width="0.6" fill="none" stroke-linejoin="round"/>
<line x1="350.00" y1="76.00" x2="373.00" y2="76.00" stroke="#000" stroke-width="0.6"/>
<path d="M349.80,77.60 L351.02,80.14 L352.24,81.83 L353.46,82.96 L354.68,83.71 L355.91,84.21 L357.13,84.54 L358.35,84.76 L359.57,84.91 L360.79,85.01 L362.01,85.07 L363.23,85.11 L364.45,85.14 L365.67,85.16 L366.89,85.17 L368.12,85.18 L369.34,85.19 L370.56,85.19 L371.78,85.19 L373.00,85.20 L373.55,83.13 L374.09,81.62 L374.64,80.52 L375.18,79.73 L375.73,79.15 L376.27,78.73 L376.82,78.42 L377.36,78.20 L377.91,78.03 L378.45,77.92 L379.00,77.83 L393.00,77.60" stroke="#000" stroke-width="0.55" fill="none" stroke-linejoin="round"/>
<line x1="343.00" y1="77.60" x2="350.00" y2="77.60" stroke="#000" stroke-width="0.9"/>
<path d="M384.2,64.2L384.2,74.0L390.0,74.0" stroke="#000" stroke-width="0.75" fill="none"/>
<text x="342.80" y="122.50" font-size="5.3" fill="#000" stroke="#000" stroke-width="0.1" text-anchor="end" font-family="'Liberation Sans', Arial, sans-serif">-58</text>
<path d="M350.50,117.90L350.60,102.50L350.76,118.70M352.20,117.90L352.30,102.75L352.46,118.70M354.30,117.90L354.40,103.05L354.56,118.70M355.50,117.90L355.60,103.22L355.76,118.70M357.60,117.90L357.70,103.53L357.86,118.70M359.90,117.90L360.00,103.86L360.16,118.70M360.90,117.90L361.00,104.01L361.16,118.70M362.50,117.90L362.60,104.24L362.76,118.70M364.30,117.90L364.40,104.50L364.56,118.70M365.80,117.90L365.90,104.72L366.06,118.70M367.70,117.90L367.80,104.99L367.96,118.70M370.40,117.90L370.50,105.39L370.66,118.70" stroke="#222" stroke-width="0.38" fill="none" stroke-linejoin="round"/>
<path d="M344.00,120.20 L350.00,120.20 L350.30,118.61 L351.01,118.15 L351.71,118.29 L352.42,118.70 L353.13,118.39 L353.83,118.11 L354.54,118.52 L355.25,118.64 L355.95,118.18 L356.66,118.24 L357.37,118.68 L358.07,118.45 L358.78,118.10 L359.49,118.47 L360.19,118.67 L360.90,118.23 L361.61,118.19 L362.31,118.65 L363.02,118.51 L363.73,118.10 L364.43,118.41 L365.14,118.69 L365.85,118.28 L366.55,118.15 L367.26,118.62 L367.97,118.56 L368.67,118.12 L369.38,118.35 L370.09,118.70 L370.79,118.34 L371.50,118.12 L371.94,118.99 L372.38,119.40 L372.81,119.68 L373.25,119.87 L373.69,120.00 L374.12,120.09 L374.56,120.16 L375.00,120.20 L393.00,120.20" stroke="#000" stroke-width="0.6" fill="none" stroke-linejoin="round"/>
<path d="M350.20,120.20 L351.32,121.57 L352.44,122.22 L353.56,122.52 L354.68,122.67 L355.81,122.74 L356.93,122.77 L358.05,122.79 L359.17,122.79 L360.29,122.80 L361.41,122.80 L362.53,122.80 L363.65,122.80 L364.77,122.80 L365.89,122.80 L367.02,122.80 L368.14,122.80 L369.26,122.80 L370.38,122.80 L371.50,122.80 L372.05,122.09 L372.59,121.58 L373.14,121.20 L373.68,120.93 L374.23,120.73 L374.77,120.59 L375.32,120.48 L375.86,120.40 L376.41,120.35 L376.95,120.31 L377.50,120.28 L393.00,120.20" stroke="#000" stroke-width="0.55" fill="none" stroke-linejoin="round"/>
<line x1="343.70" y1="120.20" x2="350.10" y2="120.20" stroke="#000" stroke-width="0.9"/>
<path d="M385.2,108.4L385.2,118.0L390.4,118.0" stroke="#000" stroke-width="0.75" fill="none"/>
<text x="344.60" y="160.00" font-size="5.3" fill="#000" stroke="#000" stroke-width="0.1" text-anchor="end" font-family="'Liberation Sans', Arial, sans-serif">-70</text>
<path d="M350.40,154.80L350.50,144.00L350.66,155.60M352.40,154.80L352.50,144.00L352.66,155.60M361.20,154.80L361.30,144.20L361.46,155.60M363.20,154.80L363.30,144.20L363.46,155.60M365.20,154.80L365.30,144.40L365.46,155.60" stroke="#111" stroke-width="0.42" fill="none" stroke-linejoin="round"/>
<path d="M354.00,154.80L354.10,144.20L354.26,155.60M354.50,154.80L354.60,144.20L354.76,155.60M355.00,154.80L355.10,144.20L355.26,155.60M355.50,154.80L355.60,144.20L355.76,155.60M356.00,154.80L356.10,144.20L356.26,155.60M356.50,154.80L356.60,144.20L356.76,155.60M357.00,154.80L357.10,144.20L357.26,155.60M357.50,154.80L357.60,144.20L357.76,155.60M358.00,154.80L358.10,144.20L358.26,155.60M358.50,154.80L358.60,144.20L358.76,155.60M359.00,154.80L359.10,144.20L359.26,155.60M359.50,154.80L359.60,144.20L359.76,155.60M367.60,154.80L367.70,144.20L367.86,155.60M368.10,154.80L368.20,144.20L368.36,155.60M368.60,154.80L368.70,144.20L368.86,155.60M369.10,154.80L369.20,144.20L369.36,155.60M369.60,154.80L369.70,144.20L369.86,155.60M370.10,154.80L370.20,144.20L370.36,155.60M370.60,154.80L370.70,144.20L370.86,155.60M371.10,154.80L371.20,144.20L371.36,155.60M371.60,154.80L371.70,144.20L371.86,155.60M372.10,154.80L372.20,144.20L372.36,155.60" stroke="#333" stroke-width="0.2" fill="none" stroke-linejoin="round"/>
<path d="M344.00,158.00 L349.90,158.00 L350.20,154.96 L350.95,154.96 L351.69,155.47 L352.44,155.40 L353.19,154.90 L353.93,155.04 L354.68,155.52 L355.43,155.31 L356.17,154.86 L356.92,155.14 L357.67,155.55 L358.41,155.21 L359.16,154.85 L359.91,155.24 L360.65,155.54 L361.40,155.11 L362.15,154.87 L362.89,155.34 L363.64,155.51 L364.39,155.02 L365.13,154.91 L365.88,155.42 L366.63,155.45 L367.37,154.94 L368.12,154.98 L368.87,155.49 L369.61,155.37 L370.36,154.89 L371.11,155.07 L371.85,155.53 L372.60,155.28 L373.03,156.12 L373.45,156.75 L373.88,157.19 L374.30,157.49 L374.73,157.69 L375.15,157.84 L375.57,157.93 L376.00,158.00 L393.00,158.00" stroke="#000" stroke-width="0.6" fill="none" stroke-linejoin="round"/>
<path d="M350.00,158.00 L351.18,160.23 L352.37,161.47 L353.55,162.15 L354.74,162.53 L355.92,162.74 L357.11,162.86 L358.29,162.92 L359.47,162.96 L360.66,162.98 L361.84,162.99 L363.03,162.99 L364.21,163.00 L365.39,163.00 L366.58,163.00 L367.76,163.00 L368.95,163.00 L370.13,163.00 L371.32,163.00 L372.50,163.00 L373.05,161.64 L373.59,160.65 L374.14,159.92 L374.68,159.40 L375.23,159.02 L375.77,158.74 L376.32,158.54 L376.86,158.39 L377.41,158.29 L377.95,158.21 L378.50,158.15 L393.00,158.00" stroke="#000" stroke-width="0.55" fill="none" stroke-linejoin="round"/>
<line x1="345.00" y1="158.00" x2="350.00" y2="158.00" stroke="#000" stroke-width="0.9"/>
<path d="M384.6,144.9L384.6,155.4L390.4,155.4" stroke="#000" stroke-width="0.75" fill="none"/>
<text x="343.30" y="201.90" font-size="5.3" fill="#000" stroke="#000" stroke-width="0.1" text-anchor="end" font-family="'Liberation Sans', Arial, sans-serif">-62</text>
<path d="M350.20,199.00L350.30,180.40L350.46,199.80M350.56,198.87L350.66,180.54L350.82,199.67M350.92,198.73L351.02,180.68L351.18,199.53M351.28,198.59L351.38,180.82L351.54,199.40M351.64,198.46L351.74,180.96L351.90,199.26M352.00,198.32L352.10,181.10L352.26,199.12M352.36,198.19L352.46,181.25L352.62,198.99M352.72,198.06L352.82,181.39L352.98,198.86M353.08,197.92L353.18,181.53L353.34,198.72M353.44,197.78L353.54,181.67L353.70,198.59M353.80,197.65L353.90,181.81L354.06,198.45M354.16,197.52L354.26,181.95L354.42,198.32M354.52,197.38L354.62,182.09L354.78,198.18M354.88,197.25L354.98,182.23L355.14,198.05M355.24,197.11L355.34,182.37L355.50,197.91M355.60,196.98L355.70,182.51L355.86,197.78M355.96,196.84L356.06,182.65L356.22,197.64M356.32,196.70L356.42,182.79L356.58,197.50M356.68,196.57L356.78,182.94L356.94,197.37M357.04,196.44L357.14,183.08L357.30,197.24" stroke="#111" stroke-width="0.2" fill="none" stroke-linejoin="round"/>
<path d="M357.40,196.30L357.50,183.22L357.66,197.10M358.00,196.07L358.10,183.45L358.26,196.88M358.60,196.00L358.70,183.69L358.86,196.80M359.20,196.00L359.30,183.92L359.46,196.80M359.80,196.00L359.90,184.16L360.06,196.80M360.40,196.00L360.50,184.39L360.66,196.80M361.00,196.00L361.10,184.63L361.26,196.80M361.60,196.00L361.70,184.86L361.86,196.80M362.20,196.00L362.30,185.10L362.46,196.80M362.80,196.00L362.90,185.33L363.06,196.80M363.40,196.00L363.50,185.57L363.66,196.80M364.00,196.00L364.10,185.80L364.26,196.80" stroke="#444" stroke-width="0.18" fill="none" stroke-linejoin="round"/>
<line x1="350.30" y1="181.00" x2="350.30" y2="199.50" stroke="#000" stroke-width="0.45"/>
<path d="M365.20,196.20L365.30,188.80L365.46,197.00M367.00,196.20L367.10,188.80L367.26,197.00M369.40,196.20L369.50,188.80L369.66,197.00M371.20,196.20L371.30,188.80L371.46,197.00" stroke="#111" stroke-width="0.35" fill="none" stroke-linejoin="round"/>
<path d="M344.00,199.80 L349.90,199.80 L350.20,199.00 L350.96,198.72 L351.72,198.43 L352.48,198.14 L353.24,197.86 L354.00,197.57 L354.76,197.29 L355.52,197.00 L356.28,196.72 L357.04,196.44 L357.80,196.15 L358.56,196.00 L359.32,196.00 L360.08,196.00 L360.84,196.00 L361.60,196.00 L362.36,196.00 L363.12,196.00 L363.88,196.00 L364.64,196.40 L365.40,196.40 L366.16,196.40 L366.92,196.40 L367.68,196.40 L368.44,196.40 L369.20,196.40 L369.96,196.40 L370.72,196.40 L371.48,196.40 L372.24,196.40 L373.00,196.40 L373.50,197.52 L374.00,198.29 L374.50,198.82 L375.00,199.18 L375.50,199.43 L376.00,199.60 L376.50,199.72 L377.00,199.80 L393.00,199.80" stroke="#000" stroke-width="0.6" fill="none" stroke-linejoin="round"/>
<path d="M350.10,199.80 L351.33,202.76 L352.56,204.56 L353.79,205.67 L355.03,206.34 L356.26,206.75 L357.49,207.00 L358.72,207.16 L359.95,207.25 L361.18,207.31 L362.42,207.34 L363.65,207.37 L364.88,207.38 L366.11,207.39 L367.34,207.39 L368.57,207.40 L369.81,207.40 L371.04,207.40 L372.27,207.40 L373.50,207.40 L373.95,205.33 L374.41,203.82 L374.86,202.73 L375.32,201.93 L375.77,201.35 L376.23,200.93 L376.68,200.62 L377.14,200.40 L377.59,200.23 L378.05,200.12 L378.50,200.03 L393.00,199.80" stroke="#000" stroke-width="0.55" fill="none" stroke-linejoin="round"/>
<path d="M381.5,199.9 L381.75,185.2 L382.0,200.3" stroke="#333" stroke-width="0.5" fill="none"/>
<circle cx="381.8" cy="199.8" r="0.7" fill="#000"/>
<line x1="344.00" y1="199.80" x2="350.10" y2="199.80" stroke="#000" stroke-width="0.9"/>
<path d="M385.7,186.8L385.7,197.2L391.6,197.2" stroke="#000" stroke-width="0.75" fill="none"/>
<text x="342.80" y="246.50" font-size="5.3" fill="#000" stroke="#000" stroke-width="0.1" text-anchor="end" font-family="'Liberation Sans', Arial, sans-serif">-65</text>
<path d="M350.90,240.60L351.00,227.60L351.16,241.40M351.35,240.60L351.45,227.62L351.61,241.40M351.80,240.60L351.90,227.64L352.06,241.40M352.25,240.60L352.35,227.67L352.51,241.40M352.70,240.60L352.80,227.69L352.96,241.40M353.15,240.60L353.25,227.71L353.41,241.40M353.60,240.60L353.70,227.73L353.86,241.40M354.05,240.60L354.15,227.76L354.31,241.40M354.50,240.60L354.60,227.78L354.76,241.40M354.95,240.60L355.05,227.80L355.21,241.40M355.40,240.60L355.50,227.82L355.66,241.40M355.85,240.60L355.95,227.85L356.11,241.40M356.30,240.60L356.40,227.87L356.56,241.40M356.75,240.60L356.85,227.89L357.01,241.40M357.20,240.60L357.30,227.91L357.46,241.40M357.65,240.60L357.75,227.94L357.91,241.40M358.10,240.60L358.20,227.96L358.36,241.40M358.55,240.60L358.65,227.98L358.81,241.40M359.00,240.60L359.10,228.00L359.26,241.40M359.45,240.60L359.55,228.03L359.71,241.40M359.90,240.60L360.00,228.05L360.16,241.40M360.35,240.60L360.45,228.07L360.61,241.40M360.80,240.60L360.90,228.09L361.06,241.40" stroke="#333" stroke-width="0.17" fill="none" stroke-linejoin="round"/>
<path d="M364.20,240.60L364.30,228.60L364.46,241.40M366.10,240.60L366.20,228.60L366.36,241.40M368.00,240.60L368.10,228.60L368.26,241.40M369.80,240.60L369.90,228.60L370.06,241.40M371.40,240.60L371.50,228.60L371.66,241.40M373.10,240.60L373.20,228.60L373.36,241.40" stroke="#111" stroke-width="0.33" fill="none" stroke-linejoin="round"/>
<path d="M351.00,240.60L351.10,227.60L351.26,241.40M351.40,240.60L351.50,227.60L351.66,241.40M351.80,240.60L351.90,227.70L352.06,241.40" stroke="#000" stroke-width="0.35" fill="none" stroke-linejoin="round"/>
<path d="M344.00,244.40 L350.40,244.40 L350.70,240.90 L351.46,240.90 L352.21,240.90 L352.97,240.90 L353.73,240.90 L354.48,240.90 L355.24,240.90 L356.00,240.90 L356.75,240.90 L357.51,240.90 L358.27,240.90 L359.02,240.90 L359.78,240.90 L360.54,240.90 L361.29,240.90 L362.05,240.90 L362.81,240.90 L363.56,240.90 L364.32,240.90 L365.08,240.90 L365.83,240.90 L366.59,240.90 L367.35,240.90 L368.10,240.90 L368.86,240.90 L369.62,240.90 L370.37,240.90 L371.13,240.90 L371.89,240.90 L372.64,240.90 L373.40,240.90 L373.97,242.12 L374.55,242.89 L375.12,243.42 L375.70,243.78 L376.27,244.03 L376.85,244.20 L377.43,244.32 L378.00,244.40 L393.00,244.40" stroke="#000" stroke-width="0.6" fill="none" stroke-linejoin="round"/>
<path d="M350.00,244.40 L351.21,246.55 L352.42,247.87 L353.63,248.69 L354.84,249.19 L356.05,249.50 L357.26,249.69 L358.47,249.81 L359.68,249.88 L360.89,249.93 L362.11,249.96 L363.32,249.97 L364.53,249.98 L365.74,249.99 L366.95,249.99 L368.16,250.00 L369.37,250.00 L370.58,250.00 L371.79,250.00 L373.00,250.00 L373.55,248.47 L374.09,247.36 L374.64,246.56 L375.18,245.97 L375.73,245.54 L376.27,245.23 L376.82,245.00 L377.36,244.84 L377.91,244.72 L378.45,244.63 L379.00,244.57 L393.00,244.40" stroke="#000" stroke-width="0.55" fill="none" stroke-linejoin="round"/>
<line x1="344.00" y1="244.40" x2="350.00" y2="244.40" stroke="#000" stroke-width="0.9"/>
<path d="M385.2,230.1L385.2,241.2L391.3,241.2" stroke="#000" stroke-width="0.75" fill="none"/>
<text x="244.80" y="268.80" font-size="7.2" fill="#000" text-anchor="start" font-weight="bold" font-family="'Liberation Sans', Arial, sans-serif">H</text>
<line x1="263.60" y1="273.50" x2="263.60" y2="299.30" stroke="#000" stroke-width="0.6"/>
<line x1="263.60" y1="299.30" x2="302.10" y2="299.30" stroke="#000" stroke-width="0.6"/>
<line x1="263.60" y1="273.50" x2="264.70" y2="273.50" stroke="#000" stroke-width="0.5"/>
<line x1="263.60" y1="286.40" x2="264.70" y2="286.40" stroke="#000" stroke-width="0.5"/>
<text x="262.20" y="275.50" font-size="5.6" fill="#000" stroke="#000" stroke-width="0.1" text-anchor="end" font-family="'Liberation Sans', Arial, sans-serif">1</text>
<text x="262.20" y="301.30" font-size="5.6" fill="#000" stroke="#000" stroke-width="0.1" text-anchor="end" font-family="'Liberation Sans', Arial, sans-serif">0</text>
<text x="283.80" y="269.50" font-size="6.4" fill="#000" stroke="#000" stroke-width="0.05" text-anchor="middle" font-family="'Liberation Sans', Arial, sans-serif">type I</text>
<line x1="269.55" y1="299.30" x2="269.55" y2="300.30" stroke="#000" stroke-width="0.5"/>
<text x="269.55" y="305.90" font-size="5.1" fill="#000" stroke="#000" stroke-width="0.1" text-anchor="middle" font-family="'Liberation Sans', Arial, sans-serif">1</text>
<line x1="275.00" y1="299.30" x2="275.00" y2="300.30" stroke="#000" stroke-width="0.5"/>
<text x="275.00" y="305.90" font-size="5.1" fill="#000" stroke="#000" stroke-width="0.1" text-anchor="middle" font-family="'Liberation Sans', Arial, sans-serif">2</text>
<line x1="280.45" y1="299.30" x2="280.45" y2="300.30" stroke="#000" stroke-width="0.5"/>
<text x="280.45" y="305.90" font-size="5.1" fill="#000" stroke="#000" stroke-width="0.1" text-anchor="middle" font-family="'Liberation Sans', Arial, sans-serif">3</text>
<line x1="285.90" y1="299.30" x2="285.90" y2="300.30" stroke="#000" stroke-width="0.5"/>
<text x="285.90" y="305.90" font-size="5.1" fill="#000" stroke="#000" stroke-width="0.1" text-anchor="middle" font-family="'Liberation Sans', Arial, sans-serif">4</text>
<line x1="291.35" y1="299.30" x2="291.35" y2="300.30" stroke="#000" stroke-width="0.5"/>
<text x="291.35" y="305.90" font-size="5.1" fill="#000" stroke="#000" stroke-width="0.1" text-anchor="middle" font-family="'Liberation Sans', Arial, sans-serif">5</text>
<line x1="296.80" y1="299.30" x2="296.80" y2="300.30" stroke="#000" stroke-width="0.5"/>
<text x="296.80" y="305.90" font-size="5.1" fill="#000" stroke="#000" stroke-width="0.1" text-anchor="middle" font-family="'Liberation Sans', Arial, sans-serif">6</text>
<rect x="266.85" y="273.50" width="5.40" height="25.80" fill="#0000ff" stroke="#000" stroke-width="0.45"/>
<line x1="311.70" y1="273.50" x2="311.70" y2="299.30" stroke="#000" stroke-width="0.6"/>
<line x1="311.70" y1="299.30" x2="350.20" y2="299.30" stroke="#000" stroke-width="0.6"/>
<line x1="311.70" y1="273.50" x2="312.80" y2="273.50" stroke="#000" stroke-width="0.5"/>
<line x1="311.70" y1="286.40" x2="312.80" y2="286.40" stroke="#000" stroke-width="0.5"/>
<text x="310.30" y="275.50" font-size="5.6" fill="#000" stroke="#000" stroke-width="0.1" text-anchor="end" font-family="'Liberation Sans', Arial, sans-serif">1</text>
<text x="310.30" y="301.30" font-size="5.6" fill="#000" stroke="#000" stroke-width="0.1" text-anchor="end" font-family="'Liberation Sans', Arial, sans-serif">0</text>
<text x="331.90" y="269.50" font-size="6.4" fill="#000" stroke="#000" stroke-width="0.05" text-anchor="middle" font-family="'Liberation Sans', Arial, sans-serif">type II</text>
<line x1="317.65" y1="299.30" x2="317.65" y2="300.30" stroke="#000" stroke-width="0.5"/>
<text x="317.65" y="305.90" font-size="5.1" fill="#000" stroke="#000" stroke-width="0.1" text-anchor="middle" font-family="'Liberation Sans', Arial, sans-serif">1</text>
<line x1="323.10" y1="299.30" x2="323.10" y2="300.30" stroke="#000" stroke-width="0.5"/>
<text x="323.10" y="305.90" font-size="5.1" fill="#000" stroke="#000" stroke-width="0.1" text-anchor="middle" font-family="'Liberation Sans', Arial, sans-serif">2</text>
<line x1="328.55" y1="299.30" x2="328.55" y2="300.30" stroke="#000" stroke-width="0.5"/>
<text x="328.55" y="305.90" font-size="5.1" fill="#000" stroke="#000" stroke-width="0.1" text-anchor="middle" font-family="'Liberation Sans', Arial, sans-serif">3</text>
<line x1="334.00" y1="299.30" x2="334.00" y2="300.30" stroke="#000" stroke-width="0.5"/>
<text x="334.00" y="305.90" font-size="5.1" fill="#000" stroke="#000" stroke-width="0.1" text-anchor="middle" font-family="'Liberation Sans', Arial, sans-serif">4</text>
<line x1="339.45" y1="299.30" x2="339.45" y2="300.30" stroke="#000" stroke-width="0.5"/>
<text x="339.45" y="305.90" font-size="5.1" fill="#000" stroke="#000" stroke-width="0.1" text-anchor="middle" font-family="'Liberation Sans', Arial, sans-serif">5</text>
<line x1="344.90" y1="299.30" x2="344.90" y2="300.30" stroke="#000" stroke-width="0.5"/>
<text x="344.90" y="305.90" font-size="5.1" fill="#000" stroke="#000" stroke-width="0.1" text-anchor="middle" font-family="'Liberation Sans', Arial, sans-serif">6</text>
<rect x="320.40" y="297.24" width="5.40" height="2.06" fill="#a000b4" stroke="#000" stroke-width="0.45"/>
<rect x="331.30" y="293.11" width="5.40" height="6.19" fill="#22ee22" stroke="#000" stroke-width="0.45"/>
<rect x="342.20" y="281.50" width="5.40" height="17.80" fill="#ff6ef0" stroke="#000" stroke-width="0.45"/>
<line x1="359.80" y1="273.50" x2="359.80" y2="299.30" stroke="#000" stroke-width="0.6"/>
<line x1="359.80" y1="299.30" x2="398.30" y2="299.30" stroke="#000" stroke-width="0.6"/>
<line x1="359.80" y1="273.50" x2="360.90" y2="273.50" stroke="#000" stroke-width="0.5"/>
<line x1="359.80" y1="286.40" x2="360.90" y2="286.40" stroke="#000" stroke-width="0.5"/>
<text x="358.40" y="275.50" font-size="5.6" fill="#000" stroke="#000" stroke-width="0.1" text-anchor="end" font-family="'Liberation Sans', Arial, sans-serif">1</text>
<text x="358.40" y="301.30" font-size="5.6" fill="#000" stroke="#000" stroke-width="0.1" text-anchor="end" font-family="'Liberation Sans', Arial, sans-serif">0</text>
<text x="380.00" y="269.50" font-size="6.4" fill="#000" stroke="#000" stroke-width="0.05" text-anchor="middle" font-family="'Liberation Sans', Arial, sans-serif">type III</text>
<line x1="365.75" y1="299.30" x2="365.75" y2="300.30" stroke="#000" stroke-width="0.5"/>
<text x="365.75" y="305.90" font-size="5.1" fill="#000" stroke="#000" stroke-width="0.1" text-anchor="middle" font-family="'Liberation Sans', Arial, sans-serif">1</text>
<line x1="371.20" y1="299.30" x2="371.20" y2="300.30" stroke="#000" stroke-width="0.5"/>
<text x="371.20" y="305.90" font-size="5.1" fill="#000" stroke="#000" stroke-width="0.1" text-anchor="middle" font-family="'Liberation Sans', Arial, sans-serif">2</text>
<line x1="376.65" y1="299.30" x2="376.65" y2="300.30" stroke="#000" stroke-width="0.5"/>
<text x="376.65" y="305.90" font-size="5.1" fill="#000" stroke="#000" stroke-width="0.1" text-anchor="middle" font-family="'Liberation Sans', Arial, sans-serif">3</text>
<line x1="382.10" y1="299.30" x2="382.10" y2="300.30" stroke="#000" stroke-width="0.5"/>
<text x="382.10" y="305.90" font-size="5.1" fill="#000" stroke="#000" stroke-width="0.1" text-anchor="middle" font-family="'Liberation Sans', Arial, sans-serif">4</text>
<line x1="387.55" y1="299.30" x2="387.55" y2="300.30" stroke="#000" stroke-width="0.5"/>
<text x="387.55" y="305.90" font-size="5.1" fill="#000" stroke="#000" stroke-width="0.1" text-anchor="middle" font-family="'Liberation Sans', Arial, sans-serif">5</text>
<line x1="393.00" y1="299.30" x2="393.00" y2="300.30" stroke="#000" stroke-width="0.5"/>
<text x="393.00" y="305.90" font-size="5.1" fill="#000" stroke="#000" stroke-width="0.1" text-anchor="middle" font-family="'Liberation Sans', Arial, sans-serif">6</text>
<rect x="368.50" y="294.91" width="5.40" height="4.39" fill="#a000b4" stroke="#000" stroke-width="0.45"/>
<rect x="373.95" y="294.91" width="5.40" height="4.39" fill="#e8861a" stroke="#000" stroke-width="0.45"/>
<rect x="379.40" y="282.27" width="5.40" height="17.03" fill="#22ee22" stroke="#000" stroke-width="0.45"/>
<line x1="263.60" y1="318.60" x2="263.60" y2="344.40" stroke="#000" stroke-width="0.6"/>
<line x1="263.60" y1="344.40" x2="302.10" y2="344.40" stroke="#000" stroke-width="0.6"/>
<line x1="263.60" y1="318.60" x2="264.70" y2="318.60" stroke="#000" stroke-width="0.5"/>
<line x1="263.60" y1="331.50" x2="264.70" y2="331.50" stroke="#000" stroke-width="0.5"/>
<text x="262.20" y="320.60" font-size="5.6" fill="#000" stroke="#000" stroke-width="0.1" text-anchor="end" font-family="'Liberation Sans', Arial, sans-serif">1</text>
<text x="262.20" y="346.40" font-size="5.6" fill="#000" stroke="#000" stroke-width="0.1" text-anchor="end" font-family="'Liberation Sans', Arial, sans-serif">0</text>
<text x="283.80" y="314.60" font-size="6.4" fill="#000" stroke="#000" stroke-width="0.05" text-anchor="middle" font-family="'Liberation Sans', Arial, sans-serif">type IV</text>
<line x1="269.55" y1="344.40" x2="269.55" y2="345.40" stroke="#000" stroke-width="0.5"/>
<text x="269.55" y="351.00" font-size="5.1" fill="#000" stroke="#000" stroke-width="0.1" text-anchor="middle" font-family="'Liberation Sans', Arial, sans-serif">1</text>
<line x1="275.00" y1="344.40" x2="275.00" y2="345.40" stroke="#000" stroke-width="0.5"/>
<text x="275.00" y="351.00" font-size="5.1" fill="#000" stroke="#000" stroke-width="0.1" text-anchor="middle" font-family="'Liberation Sans', Arial, sans-serif">2</text>
<line x1="280.45" y1="344.40" x2="280.45" y2="345.40" stroke="#000" stroke-width="0.5"/>
<text x="280.45" y="351.00" font-size="5.1" fill="#000" stroke="#000" stroke-width="0.1" text-anchor="middle" font-family="'Liberation Sans', Arial, sans-serif">3</text>
<line x1="285.90" y1="344.40" x2="285.90" y2="345.40" stroke="#000" stroke-width="0.5"/>
<text x="285.90" y="351.00" font-size="5.1" fill="#000" stroke="#000" stroke-width="0.1" text-anchor="middle" font-family="'Liberation Sans', Arial, sans-serif">4</text>
<line x1="291.35" y1="344.40" x2="291.35" y2="345.40" stroke="#000" stroke-width="0.5"/>
<text x="291.35" y="351.00" font-size="5.1" fill="#000" stroke="#000" stroke-width="0.1" text-anchor="middle" font-family="'Liberation Sans', Arial, sans-serif">5</text>
<line x1="296.80" y1="344.40" x2="296.80" y2="345.40" stroke="#000" stroke-width="0.5"/>
<text x="296.80" y="351.00" font-size="5.1" fill="#000" stroke="#000" stroke-width="0.1" text-anchor="middle" font-family="'Liberation Sans', Arial, sans-serif">6</text>
<rect x="272.30" y="325.31" width="5.40" height="19.09" fill="#a000b4" stroke="#000" stroke-width="0.45"/>
<rect x="283.20" y="341.56" width="5.40" height="2.84" fill="#22dd55" stroke="#000" stroke-width="0.45"/>
<rect x="288.65" y="341.56" width="5.40" height="2.84" fill="#ff0000" stroke="#000" stroke-width="0.45"/>
<line x1="311.70" y1="318.60" x2="311.70" y2="344.40" stroke="#000" stroke-width="0.6"/>
<line x1="311.70" y1="344.40" x2="350.20" y2="344.40" stroke="#000" stroke-width="0.6"/>
<line x1="311.70" y1="318.60" x2="312.80" y2="318.60" stroke="#000" stroke-width="0.5"/>
<line x1="311.70" y1="331.50" x2="312.80" y2="331.50" stroke="#000" stroke-width="0.5"/>
<text x="310.30" y="320.60" font-size="5.6" fill="#000" stroke="#000" stroke-width="0.1" text-anchor="end" font-family="'Liberation Sans', Arial, sans-serif">1</text>
<text x="310.30" y="346.40" font-size="5.6" fill="#000" stroke="#000" stroke-width="0.1" text-anchor="end" font-family="'Liberation Sans', Arial, sans-serif">0</text>
<text x="331.90" y="314.60" font-size="6.4" fill="#000" stroke="#000" stroke-width="0.05" text-anchor="middle" font-family="'Liberation Sans', Arial, sans-serif">type V</text>
<line x1="317.65" y1="344.40" x2="317.65" y2="345.40" stroke="#000" stroke-width="0.5"/>
<text x="317.65" y="351.00" font-size="5.1" fill="#000" stroke="#000" stroke-width="0.1" text-anchor="middle" font-family="'Liberation Sans', Arial, sans-serif">1</text>
<line x1="323.10" y1="344.40" x2="323.10" y2="345.40" stroke="#000" stroke-width="0.5"/>
<text x="323.10" y="351.00" font-size="5.1" fill="#000" stroke="#000" stroke-width="0.1" text-anchor="middle" font-family="'Liberation Sans', Arial, sans-serif">2</text>
<line x1="328.55" y1="344.40" x2="328.55" y2="345.40" stroke="#000" stroke-width="0.5"/>
<text x="328.55" y="351.00" font-size="5.1" fill="#000" stroke="#000" stroke-width="0.1" text-anchor="middle" font-family="'Liberation Sans', Arial, sans-serif">3</text>
<line x1="334.00" y1="344.40" x2="334.00" y2="345.40" stroke="#000" stroke-width="0.5"/>
<text x="334.00" y="351.00" font-size="5.1" fill="#000" stroke="#000" stroke-width="0.1" text-anchor="middle" font-family="'Liberation Sans', Arial, sans-serif">4</text>
<line x1="339.45" y1="344.40" x2="339.45" y2="345.40" stroke="#000" stroke-width="0.5"/>
<text x="339.45" y="351.00" font-size="5.1" fill="#000" stroke="#000" stroke-width="0.1" text-anchor="middle" font-family="'Liberation Sans', Arial, sans-serif">5</text>
<line x1="344.90" y1="344.40" x2="344.90" y2="345.40" stroke="#000" stroke-width="0.5"/>
<text x="344.90" y="351.00" font-size="5.1" fill="#000" stroke="#000" stroke-width="0.1" text-anchor="middle" font-family="'Liberation Sans', Arial, sans-serif">6</text>
<rect x="320.40" y="343.11" width="5.40" height="1.29" fill="#a000b4" stroke="#000" stroke-width="0.45"/>
<rect x="325.85" y="343.11" width="5.40" height="1.29" fill="#e8861a" stroke="#000" stroke-width="0.45"/>
<rect x="331.30" y="343.11" width="5.40" height="1.29" fill="#22dd22" stroke="#000" stroke-width="0.45"/>
<rect x="336.75" y="331.76" width="5.40" height="12.64" fill="#ff0000" stroke="#000" stroke-width="0.45"/>
<rect x="342.20" y="338.21" width="5.40" height="6.19" fill="#ff6ef0" stroke="#000" stroke-width="0.45"/>
<line x1="359.80" y1="318.60" x2="359.80" y2="344.40" stroke="#000" stroke-width="0.6"/>
<line x1="359.80" y1="344.40" x2="398.30" y2="344.40" stroke="#000" stroke-width="0.6"/>
<line x1="359.80" y1="318.60" x2="360.90" y2="318.60" stroke="#000" stroke-width="0.5"/>
<line x1="359.80" y1="331.50" x2="360.90" y2="331.50" stroke="#000" stroke-width="0.5"/>
<text x="358.40" y="320.60" font-size="5.6" fill="#000" stroke="#000" stroke-width="0.1" text-anchor="end" font-family="'Liberation Sans', Arial, sans-serif">1</text>
<text x="358.40" y="346.40" font-size="5.6" fill="#000" stroke="#000" stroke-width="0.1" text-anchor="end" font-family="'Liberation Sans', Arial, sans-serif">0</text>
<text x="380.00" y="314.60" font-size="6.4" fill="#000" stroke="#000" stroke-width="0.05" text-anchor="middle" font-family="'Liberation Sans', Arial, sans-serif">type VI</text>
<line x1="365.75" y1="344.40" x2="365.75" y2="345.40" stroke="#000" stroke-width="0.5"/>
<text x="365.75" y="351.00" font-size="5.1" fill="#000" stroke="#000" stroke-width="0.1" text-anchor="middle" font-family="'Liberation Sans', Arial, sans-serif">1</text>
<line x1="371.20" y1="344.40" x2="371.20" y2="345.40" stroke="#000" stroke-width="0.5"/>
<text x="371.20" y="351.00" font-size="5.1" fill="#000" stroke="#000" stroke-width="0.1" text-anchor="middle" font-family="'Liberation Sans', Arial, sans-serif">2</text>
<line x1="376.65" y1="344.40" x2="376.65" y2="345.40" stroke="#000" stroke-width="0.5"/>
<text x="376.65" y="351.00" font-size="5.1" fill="#000" stroke="#000" stroke-width="0.1" text-anchor="middle" font-family="'Liberation Sans', Arial, sans-serif">3</text>
<line x1="382.10" y1="344.40" x2="382.10" y2="345.40" stroke="#000" stroke-width="0.5"/>
<text x="382.10" y="351.00" font-size="5.1" fill="#000" stroke="#000" stroke-width="0.1" text-anchor="middle" font-family="'Liberation Sans', Arial, sans-serif">4</text>
<line x1="387.55" y1="344.40" x2="387.55" y2="345.40" stroke="#000" stroke-width="0.5"/>
<text x="387.55" y="351.00" font-size="5.1" fill="#000" stroke="#000" stroke-width="0.1" text-anchor="middle" font-family="'Liberation Sans', Arial, sans-serif">5</text>
<line x1="393.00" y1="344.40" x2="393.00" y2="345.40" stroke="#000" stroke-width="0.5"/>
<text x="393.00" y="351.00" font-size="5.1" fill="#000" stroke="#000" stroke-width="0.1" text-anchor="middle" font-family="'Liberation Sans', Arial, sans-serif">6</text>
<rect x="373.95" y="325.82" width="5.40" height="18.58" fill="#e8861a" stroke="#000" stroke-width="0.45"/>
<rect x="384.85" y="337.43" width="5.40" height="6.97" fill="#ff0000" stroke="#000" stroke-width="0.45"/>
<text x="255.40" y="308.90" font-size="6.45" fill="#000" stroke="#000" stroke-width="0.04" text-anchor="middle" font-family="'Liberation Sans', Arial, sans-serif" transform="rotate(-90 255.40 308.90)">Fraction of cells</text>
<text x="333.00" y="358.00" font-size="6.7" fill="#000" stroke="#000" stroke-width="0.1" text-anchor="middle" font-family="'Liberation Sans', Arial, sans-serif"># Groups</text>
</g>
</svg>
</body></html>
